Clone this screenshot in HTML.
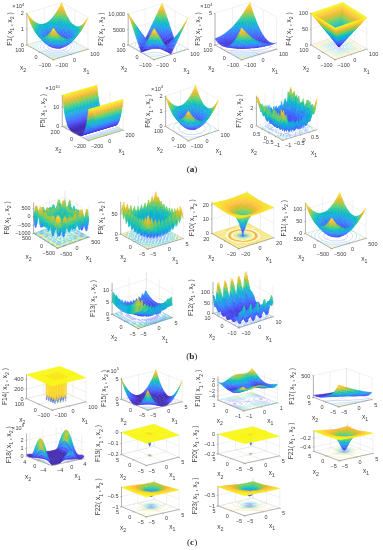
<!DOCTYPE html>
<html><head><meta charset="utf-8"><title>Benchmark functions</title>
<style>
html,body{margin:0;padding:0;background:#fff}
svg{display:block;filter:blur(.35px)}
text{font-family:"Liberation Sans",sans-serif;font-size:5.5px;fill:#3c3c3c}
.te{text-anchor:end}.tm{text-anchor:middle}
.lb{font-size:6.5px}
.sub{font-size:5.2px}.sup{font-size:4px}
.cap{font-family:"Liberation Serif",serif;font-size:9.2px;fill:#222;text-anchor:middle}.bd{font-weight:bold}
.gr{stroke:#dcdcdc;stroke-width:4;fill:none}
.ax{stroke:#777;stroke-width:5;fill:none}
.ct{stroke-width:3}.ct path{fill:none;stroke:currentColor;stroke-opacity:.8}
.sf path{fill:currentColor;stroke:currentColor;stroke-width:3.5;stroke-linejoin:round}
.a{color:#3f29b0}.b{color:#422ebf}.c{color:#4434ce}.d{color:#463adb}.e{color:#4741e5}.f{color:#4848ec}.g{color:#4850f2}.h{color:#4757f7}.i{color:#465efb}.j{color:#4466fd}.k{color:#3f6efe}.l{color:#3876fe}.m{color:#317efb}.n{color:#2e85f8}.o{color:#2d8cf3}.p{color:#2a93ed}.q{color:#269ae9}.r{color:#23a0e5}.s{color:#1fa6e2}.t{color:#1aacdd}.u{color:#12b1d7}.v{color:#06b5cf}.w{color:#01b9c6}.x{color:#0abdbe}.y{color:#1ac0b4}.z{color:#28c2ab}.A{color:#30c5a1}.B{color:#38c896}.C{color:#44ca8a}.D{color:#53cc7d}.E{color:#64cd6f}.F{color:#77cc60}.G{color:#8acb51}.H{color:#9dc943}.I{color:#afc637}.J{color:#c0c32d}.K{color:#d0bf27}.L{color:#debc2a}.M{color:#ebba32}.N{color:#f7ba3c}.O{color:#febe3c}.P{color:#fec636}.Q{color:#fdce31}.R{color:#f9d62d}.S{color:#f6df29}.T{color:#f5e725}.U{color:#f6ef20}.V{color:#f8f719}
</style></head><body>
<svg xmlns="http://www.w3.org/2000/svg" width="383" height="550" viewBox="0 0 383 550">
<rect width="383" height="550" fill="#fff"/>
<g id="F1"><g transform="scale(.1)"><path class="gr" d="M533 597l-264-148M269 449l0-317M533 597l347-106M880 491l0-317M706 544l-263-148M443 396l0-317M401 523l347-106M748 417l0-317M880 491l-264-148M616 343l0-317M269 449l347-106M616 343l0-317M269 449l347-106M616 343l264 148M269 290l347-106M616 184l264 148M269 132l347-106M616 26l264 148"/>
<g class="ct"><path class="e" d="M593 510l-45-1-17-3-24-8-10-4-14-11-4-7-2-7 2-8 8-10 18-10 36-10 33-2 19 1 25 4 24 8 18 10 10 12 1 10-3 8-6 7-18 10-23 7-28 4"/><path class="j" d="M619 525l-33 2-36-1-40-6-25-7-20-10-21-16-7-14 2-15 6-9 8-7 17-11 33-11 27-5 33-2 36 1 40 6 25 7 28 15 13 11 7 14-2 15-6 9-8 7-17 11-21 8-39 8"/><path class="o" d="M638 536l-45 4-45-1-37-5-40-10-31-13-22-16-5-6-6-13-1-10 2-9 10-15 23-17 31-12 39-9 45-4 45 1 37 5 40 10 31 13 22 16 5 6 6 13 0 16-3 8-8 10-23 17-31 12-39 9"/><path class="t" d="M655 545l-44 5-53 1-54-6-42-10-33-13-18-10-14-11-14-18-3-12 0-10 3-9 10-14 23-17 29-13 49-13 44-5 53-1 54 6 42 10 33 13 18 10 14 11 14 18 3 12 0 10-3 9-10 14-23 17-29 13-49 13"/><path class="y" d="M706 544l-37 9-43 6-50 2-39-2-39-5-38-8-29-9-30-14M748 417l23 16 13 14 8 18-1 16-7 16-19 20-27 15-32 12M401 523l-23-16-15-18-5-10-2-11 4-16 10-16 19-16 22-12 32-12M443 396l37-9 33-5 42-3 41 1 38 3 47 9 37 11 30 14"/><path class="C" d="M629 568l-38 2-41-1-38-4-52-9M807 450l5 13 1 10-3 17-10 16-16 14M342 490l-5-13-1-10 3-17 10-16 16-14M520 372l38-2 41 1 38 4 52 9"/><path class="H" d="M597 577l-67-1-46-6M831 464l1 11-3 16-13 20M318 476l-1-11 3-16 13-20M552 363l48 0 65 7"/><path class="M" d="M572 585l-69-5M850 474l-4 18-5 11M299 466l1-11 8-18M577 355l69 5"/><path class="R" d="M551 591l-32-2M866 483l-4 14M283 457l4-14M598 349l32 2"/></g>
<g class="sf"><path class="T" d="M614 68l9-21-7-21-10 20z"/><path class="Q" d="M602 91l12-23-8-22-12 24z"/><path class="N" d="M588 116l14-25-8-21-13 25z"/><path class="K" d="M572 143l16-27-7-21-16 26z"/><path class="H" d="M555 169l17-26-7-22-18 27z"/><path class="D" d="M536 194l19-25-8-21-19 25z"/><path class="B" d="M515 216l21-22-8-21-20 22z"/><path class="z" d="M494 235l21-19-7-21-21 19z"/><path class="x" d="M472 250l22-15-7-21-22 14z"/><path class="w" d="M428 263l22-4 22-9-7-22-22 10-23 4z"/><path class="x" d="M406 262l22 1-8-21-22-1z"/><path class="z" d="M385 256l21 6-8-21-21-6z"/><path class="B" d="M364 246l21 10-8-21-20-10z"/><path class="D" d="M345 233l19 13-7-21-19-13z"/><path class="H" d="M328 218l17 15-7-21-18-16z"/><path class="K" d="M312 201l16 17-8-22-16-17z"/><path class="N" d="M298 184l14 17-8-22-13-17z"/><path class="Q" d="M286 168l12 16-7-22-12-16z"/><path class="T" d="M276 153l10 15-7-22-10-14z"/><path class="Q" d="M623 92l9-20-9-25-9 21z"/><path class="N" d="M611 116l12-24-9-24-12 23z"/><path class="K" d="M597 141l14-25-9-25-14 25z"/><path class="H" d="M581 168l16-27-9-25-16 27z"/><path class="E" d="M564 194l17-26-9-25-17 26z"/><path class="B" d="M545 219l19-25-9-25-19 25z"/><path class="y" d="M524 241l21-22-9-25-21 22z"/><path class="w" d="M503 260l21-19-9-25-21 19z"/><path class="u" d="M415 287l22 1 22-4 22-10 22-14-9-25-22 15-22 9-22 4-22-1z"/><path class="w" d="M394 281l21 6-9-25-21-6z"/><path class="y" d="M373 271l21 10-9-25-21-10z"/><path class="B" d="M354 258l19 13-9-25-19-13z"/><path class="E" d="M337 242l17 16-9-25-17-15z"/><path class="H" d="M321 226l16 16-9-24-16-17z"/><path class="K" d="M307 209l14 17-9-25-14-17z"/><path class="N" d="M295 193l12 16-9-25-12-16z"/><path class="Q" d="M285 178l10 15-9-25-10-15z"/><path class="N" d="M633 120l10-21-11-27-9 20z"/><path class="K" d="M621 143l12-23-10-28-12 24z"/><path class="H" d="M608 168l13-25-10-27-14 25z"/><path class="E" d="M592 195l16-27-11-27-16 27z"/><path class="B" d="M574 221l18-26-11-27-17 26z"/><path class="y" d="M555 246l19-25-10-27-19 25z"/><path class="v" d="M535 268l20-22-10-27-21 22z"/><path class="t" d="M514 287l21-19-11-27-21 19z"/><path class="r" d="M492 301l22-14-11-27-22 14z"/><path class="q" d="M447 315l23-4 22-10-11-27-22 10-22 4z"/><path class="r" d="M425 314l22 1-10-27-22-1z"/><path class="t" d="M404 308l21 6-10-27-21-6z"/><path class="v" d="M384 298l20 10-10-27-21-10z"/><path class="y" d="M365 285l19 13-11-27-19-13z"/><path class="B" d="M347 270l18 15-11-27-17-16z"/><path class="E" d="M331 253l16 17-10-28-16-16z"/><path class="H" d="M318 236l13 17-10-27-14-17z"/><path class="K" d="M306 220l12 16-11-27-12-16z"/><path class="N" d="M296 205l10 15-11-27-10-15z"/><path class="K" d="M645 148l10-20-12-29-10 21z"/><path class="H" d="M633 171l12-23-12-28-12 23z"/><path class="E" d="M620 197l13-26-12-28-13 25z"/><path class="B" d="M604 223l16-26-12-29-16 27z"/><path class="x" d="M586 249l18-26-12-28-18 26z"/><path class="u" d="M567 274l19-25-12-28-19 25z"/><path class="s" d="M547 297l20-23-12-28-20 22z"/><path class="q" d="M526 315l21-18-12-29-21 19z"/><path class="o" d="M504 330l22-15-12-28-22 14z"/><path class="n" d="M459 343l23-4 22-9-12-29-22 10-23 4z"/><path class="o" d="M437 342l22 1-12-28-22-1z"/><path class="q" d="M416 337l21 5-12-28-21-6z"/><path class="s" d="M396 327l20 10-12-29-20-10z"/><path class="u" d="M377 313l19 14-12-29-19-13z"/><path class="x" d="M359 298l18 15-12-28-18-15z"/><path class="B" d="M343 281l16 17-12-28-16-17z"/><path class="E" d="M330 264l13 17-12-28-13-17z"/><path class="H" d="M318 248l12 16-12-28-12-16z"/><path class="K" d="M308 234l10 14-12-28-10-15z"/><path class="H" d="M659 176l9-20-13-28-10 20z"/><path class="E" d="M647 200l12-24-14-28-12 23z"/><path class="B" d="M633 225l14-25-14-29-13 26z"/><path class="x" d="M617 252l16-27-13-28-16 26z"/><path class="u" d="M600 278l17-26-13-29-18 26z"/><path class="r" d="M581 303l19-25-14-29-19 25z"/><path class="o" d="M560 325l21-22-14-29-20 23z"/><path class="m" d="M539 344l21-19-13-28-21 18z"/><path class="k" d="M473 372l22-4 22-10-13-28-22 9-23 4z"/><path class="l" d="M451 371l22 1-14-29-22-1z"/><path class="m" d="M429 365l22 6-14-29-21-5z"/><path class="o" d="M409 355l20 10-13-28-20-10z"/><path class="r" d="M390 342l19 13-13-28-19-14z"/><path class="u" d="M373 326l17 16-13-29-18-15z"/><path class="x" d="M357 309l16 17-14-28-16-17z"/><path class="B" d="M343 293l14 16-14-28-13-17z"/><path class="E" d="M331 276l12 17-13-29-12-16z"/><path class="H" d="M321 262l10 14-13-28-10-14z"/><path class="D" d="M673 204l10-21-15-27-9 20z"/><path class="B" d="M661 227l12-23-14-28-12 24z"/><path class="y" d="M647 252l14-25-14-27-14 25z"/><path class="u" d="M632 279l15-27-14-27-16 27z"/><path class="r" d="M614 305l18-26-15-27-17 26z"/><path class="o" d="M595 330l19-25-14-27-19 25z"/><path class="l" d="M575 352l20-22-14-27-21 22z"/><path class="j" d="M444 392l21 6-14-27-22-6z"/><path class="l" d="M424 382l20 10-15-27-20-10z"/><path class="o" d="M405 369l19 13-15-27-19-13z"/><path class="r" d="M387 353l18 16-15-27-17-16z"/><path class="u" d="M371 337l16 16-14-27-16-17z"/><path class="y" d="M357 320l14 17-14-28-14-16z"/><path class="B" d="M346 304l11 16-14-27-12-17z"/><path class="D" d="M336 289l10 15-15-28-10-14z"/><path class="B" d="M689 228l9-20-15-25-10 21z"/><path class="y" d="M677 252l12-24-16-24-12 23z"/><path class="v" d="M663 277l14-25-16-25-14 25z"/><path class="s" d="M647 304l16-27-16-25-15 27z"/><path class="o" d="M629 330l18-26-15-25-18 26z"/><path class="l" d="M610 355l19-25-15-25-19 25z"/><path class="j" d="M590 377l20-22-15-25-20 22z"/><path class="s" d="M387 361l15 17-15-25-16-16z"/><path class="v" d="M373 344l14 17-16-24-14-17z"/><path class="y" d="M361 328l12 16-16-24-11-16z"/><path class="B" d="M351 314l10 14-15-24-10-15z"/><path class="z" d="M705 250l9-21-16-21-9 20z"/><path class="w" d="M693 273l12-23-16-22-12 24z"/><path class="t" d="M679 298l14-25-16-21-14 25z"/><path class="q" d="M663 325l16-27-16-21-16 27z"/><path class="m" d="M646 351l17-26-16-21-18 26z"/><path class="j" d="M627 376l19-25-17-21-19 25z"/><path class="h" d="M606 398l21-22-17-21-20 22z"/><path class="w" d="M377 350l12 16-16-22-12-16z"/><path class="z" d="M367 335l10 15-16-22-10-14z"/><path class="x" d="M721 267l10-21-17-17-9 21z"/><path class="u" d="M710 290l11-23-16-17-12 23z"/><path class="r" d="M696 315l14-25-17-17-14 25z"/><path class="o" d="M680 342l16-27-17-17-16 27z"/><path class="l" d="M662 368l18-26-17-17-17 26z"/><path class="i" d="M643 393l19-25-16-17-19 25z"/><path class="r" d="M406 383l14 17-17-17-14-17z"/><path class="u" d="M394 367l12 16-17-17-12-16z"/><path class="x" d="M384 352l10 15-17-17-10-15z"/><path class="w" d="M738 279l10-21-17-12-10 21z"/><path class="u" d="M726 302l12-23-17-12-11 23z"/><path class="q" d="M713 328l13-26-16-12-14 25z"/><path class="n" d="M697 354l16-26-17-13-16 27z"/><path class="k" d="M679 380l18-26-17-12-18 26z"/><path class="h" d="M660 405l19-25-17-12-19 25z"/><path class="k" d="M452 429l18 15-17-12-18-15z"/><path class="n" d="M436 412l16 17-17-12-15-17z"/><path class="q" d="M423 395l13 17-16-12-14-17z"/><path class="u" d="M411 379l12 16-17-12-12-16z"/><path class="w" d="M401 364l10 15-17-12-10-15z"/><path class="w" d="M755 286l10-21-17-7-10 21z"/><path class="u" d="M743 309l12-23-17-7-12 23z"/><path class="q" d="M729 334l14-25-17-7-13 26z"/><path class="n" d="M714 361l15-27-16-6-16 26z"/><path class="k" d="M696 387l18-26-17-7-18 26z"/><path class="h" d="M677 412l19-25-17-7-19 25z"/><path class="e" d="M506 464l20 10-17-7-20-9z"/><path class="h" d="M487 451l19 13-17-6-19-14z"/><path class="k" d="M469 436l18 15-17-7-18-15z"/><path class="n" d="M453 419l16 17-17-7-16-17z"/><path class="q" d="M439 402l14 17-17-7-13-17z"/><path class="u" d="M428 386l11 16-16-7-12-16z"/><path class="w" d="M418 371l10 15-17-7-10-15z"/><path class="x" d="M772 287l10-20-17-2-10 21z"/><path class="u" d="M760 311l12-24-17-1-12 23z"/><path class="r" d="M746 336l14-25-17-2-14 25z"/><path class="o" d="M730 363l16-27-17-2-15 27z"/><path class="l" d="M713 389l17-26-16-2-18 26z"/><path class="d" d="M543 476l21 6-17-2-21-6z"/><path class="f" d="M522 466l21 10-17-2-20-10z"/><path class="i" d="M503 453l19 13-16-2-19-13z"/><path class="l" d="M486 437l17 16-16-2-18-15z"/><path class="o" d="M470 420l16 17-17-1-16-17z"/><path class="r" d="M456 403l14 17-17-1-14-17z"/><path class="u" d="M444 387l12 16-17-1-11-16z"/><path class="x" d="M435 373l9 14-16-1-10-15z"/><path class="z" d="M788 284l10-20-16 3-10 20z"/><path class="w" d="M776 307l12-23-16 3-12 24z"/><path class="t" d="M762 333l14-26-16 4-14 25z"/><path class="q" d="M747 359l15-26-16 3-16 27z"/><path class="m" d="M729 386l18-27-17 4-17 26z"/><path class="c" d="M602 480l22-5-16 4-22 4z"/><path class="d" d="M580 479l22 1-16 3-22-1z"/><path class="e" d="M559 473l21 6-16 3-21-6z"/><path class="h" d="M539 463l20 10-16 3-21-10z"/><path class="j" d="M520 450l19 13-17 3-19-13z"/><path class="m" d="M502 434l18 16-17 3-17-16z"/><path class="q" d="M486 417l16 17-16 3-16-17z"/><path class="t" d="M472 400l14 17-16 3-14-17z"/><path class="w" d="M460 384l12 16-16 3-12-16z"/><path class="z" d="M451 370l9 14-16 3-9-14z"/><path class="B" d="M803 277l10-21-15 8-10 20z"/><path class="y" d="M792 300l11-23-15 7-12 23z"/><path class="v" d="M778 325l14-25-16 7-14 26z"/><path class="s" d="M762 352l16-27-16 8-15 26z"/><path class="o" d="M744 378l18-26-15 7-18 27z"/><path class="e" d="M617 472l23-4 22-10-15 8-23 9-22 5z"/><path class="f" d="M596 471l21 1-15 8-22-1z"/><path class="h" d="M574 465l22 6-16 8-21-6z"/><path class="j" d="M554 455l20 10-15 8-20-10z"/><path class="l" d="M535 442l19 13-15 8-19-13z"/><path class="o" d="M517 427l18 15-15 8-18-16z"/><path class="s" d="M502 410l15 17-15 7-16-17z"/><path class="v" d="M488 393l14 17-16 7-14-17z"/><path class="y" d="M476 377l12 16-16 7-12-16z"/><path class="B" d="M466 362l10 15-16 7-9-14z"/><path class="D" d="M818 266l10-21-15 11-10 21z"/><path class="B" d="M806 289l12-23-15 11-11 23z"/><path class="y" d="M792 314l14-25-14 11-14 25z"/><path class="u" d="M776 341l16-27-14 11-16 27z"/><path class="j" d="M698 433l22-19-15 11-21 19z"/><path class="i" d="M676 448l22-15-14 11-22 14z"/><path class="h" d="M632 461l22-4 22-9-14 10-22 10-23 4z"/><path class="i" d="M610 460l22 1-15 11-21-1z"/><path class="j" d="M589 454l21 6-14 11-22-6z"/><path class="l" d="M568 444l21 10-15 11-20-10z"/><path class="o" d="M549 431l19 13-14 11-19-13z"/><path class="r" d="M532 416l17 15-14 11-18-15z"/><path class="u" d="M516 399l16 17-15 11-15-17z"/><path class="y" d="M502 382l14 17-14 11-14-17z"/><path class="B" d="M490 366l12 16-14 11-12-16z"/><path class="D" d="M481 351l9 15-14 11-10-15z"/><path class="H" d="M831 252l10-20-13 13-10 21z"/><path class="E" d="M819 276l12-24-13 14-12 23z"/><path class="B" d="M806 301l13-25-13 13-14 25z"/><path class="x" d="M790 327l16-26-14 13-16 27z"/><path class="m" d="M712 420l21-19-13 13-22 19z"/><path class="l" d="M690 434l22-14-14 13-22 15z"/><path class="k" d="M645 448l22-5 23-9-14 14-22 9-22 4z"/><path class="l" d="M623 447l22 1-13 13-22-1z"/><path class="m" d="M602 441l21 6-13 13-21-6z"/><path class="o" d="M582 431l20 10-13 13-21-10z"/><path class="r" d="M563 418l19 13-14 13-19-13z"/><path class="u" d="M545 402l18 16-14 13-17-15z"/><path class="x" d="M529 385l16 17-13 14-16-17z"/><path class="B" d="M516 368l13 17-13 14-14-17z"/><path class="E" d="M504 352l12 16-14 14-12-16z"/><path class="H" d="M494 338l10 14-14 14-9-15z"/><path class="K" d="M843 237l10-20-12 15-10 20z"/><path class="H" d="M831 261l12-24-12 15-12 24z"/><path class="E" d="M818 286l13-25-12 15-13 25z"/><path class="B" d="M802 313l16-27-12 15-16 26z"/><path class="s" d="M745 386l20-22-12 15-20 22z"/><path class="q" d="M724 405l21-19-12 15-21 19z"/><path class="o" d="M702 419l22-14-12 15-22 14z"/><path class="n" d="M657 433l22-4 23-10-12 15-23 9-22 5z"/><path class="o" d="M635 432l22 1-12 15-22-1z"/><path class="q" d="M614 426l21 6-12 15-21-6z"/><path class="s" d="M594 416l20 10-12 15-20-10z"/><path class="u" d="M575 403l19 13-12 15-19-13z"/><path class="x" d="M557 387l18 16-12 15-18-16z"/><path class="B" d="M541 370l16 17-12 15-16-17z"/><path class="E" d="M528 353l13 17-12 15-13-17z"/><path class="H" d="M516 337l12 16-12 15-12-16z"/><path class="K" d="M506 323l10 14-12 15-10-14z"/><path class="N" d="M854 222l10-20-11 15-10 20z"/><path class="K" d="M842 245l12-23-11 15-12 24z"/><path class="H" d="M828 271l14-26-11 16-13 25z"/><path class="E" d="M812 297l16-26-10 15-16 27z"/><path class="B" d="M795 324l17-27-10 16-18 26z"/><path class="y" d="M776 348l19-24-11 15-19 25z"/><path class="v" d="M755 371l21-23-11 16-20 22z"/><path class="t" d="M734 390l21-19-10 15-21 19z"/><path class="r" d="M712 404l22-14-10 15-22 14z"/><path class="q" d="M668 417l22-4 22-9-10 15-23 10-22 4z"/><path class="r" d="M646 417l22 0-11 16-22-1z"/><path class="t" d="M625 411l21 6-11 15-21-6z"/><path class="v" d="M604 401l21 10-11 15-20-10z"/><path class="y" d="M585 388l19 13-10 15-19-13z"/><path class="B" d="M568 372l17 16-10 15-18-16z"/><path class="E" d="M552 355l16 17-11 15-16-17z"/><path class="H" d="M538 338l14 17-11 15-13-17z"/><path class="K" d="M526 322l12 16-10 15-12-16z"/><path class="N" d="M517 308l9 14-10 15-10-14z"/><path class="Q" d="M863 207l10-20-9 15-10 20z"/><path class="N" d="M851 231l12-24-9 15-12 23z"/><path class="K" d="M837 256l14-25-9 14-14 26z"/><path class="H" d="M821 283l16-27-9 15-16 26z"/><path class="E" d="M804 309l17-26-9 14-17 27z"/><path class="B" d="M785 334l19-25-9 15-19 24z"/><path class="y" d="M764 356l21-22-9 14-21 23z"/><path class="w" d="M743 375l21-19-9 15-21 19z"/><path class="u" d="M655 402l22 1 22-4 22-10 22-14-9 15-22 14-22 9-22 4-22 0z"/><path class="w" d="M634 396l21 6-9 15-21-6z"/><path class="y" d="M613 386l21 10-9 15-21-10z"/><path class="B" d="M594 373l19 13-9 15-19-13z"/><path class="E" d="M577 357l17 16-9 15-17-16z"/><path class="H" d="M561 341l16 16-9 15-16-17z"/><path class="K" d="M547 324l14 17-9 14-14-17z"/><path class="N" d="M535 307l12 17-9 14-12-16z"/><path class="Q" d="M526 293l9 14-9 15-9-14z"/><path class="T" d="M870 194l10-20-7 13-10 20z"/><path class="Q" d="M858 218l12-24-7 13-12 24z"/><path class="N" d="M845 243l13-25-7 13-14 25z"/><path class="K" d="M829 269l16-26-8 13-16 27z"/><path class="H" d="M811 296l18-27-8 14-17 26z"/><path class="D" d="M792 321l19-25-7 13-19 25z"/><path class="B" d="M772 343l20-22-7 13-21 22z"/><path class="z" d="M751 362l21-19-8 13-21 19z"/><path class="x" d="M729 376l22-14-8 13-22 14z"/><path class="w" d="M684 390l22-4 23-10-8 13-22 10-22 4z"/><path class="x" d="M662 389l22 1-7 13-22-1z"/><path class="z" d="M641 383l21 6-7 13-21-6z"/><path class="B" d="M621 373l20 10-7 13-21-10z"/><path class="D" d="M602 360l19 13-8 13-19-13z"/><path class="H" d="M584 344l18 16-8 13-17-16z"/><path class="K" d="M568 327l16 17-7 13-16-16z"/><path class="N" d="M555 310l13 17-7 14-14-17z"/><path class="Q" d="M543 294l12 16-8 14-12-17z"/><path class="T" d="M533 280l10 14-8 13-9-14z"/></g>
<path class="ax" d="M880 491l-347 106-264-148 0-317M533 597l10 6M533 597l-12 4M706 544l11 6M401 523l-12 4M880 491l10 6M269 449l-11 4M269 449l-11 4M269 290l-11 4M269 132l-11 4"/></g><text x="55.6" y="66.9">−100</text><text class="te" x="50.8" y="66.8">−100</text><text x="72.9" y="61.6">0</text><text class="te" x="37.6" y="59.4">0</text><text x="90.3" y="56.3">100</text><text class="te" x="24.4" y="52">100</text><text class="te" x="23.9" y="46.8">0</text><text class="te" x="23.9" y="30.9">1</text><text class="te" x="23.9" y="15.1">2</text><text class="tm lb" x="86.2" y="71.9">x<tspan class="sub" dy="2.2">1</tspan></text><text class="tm lb" x="23" y="70">x<tspan class="sub" dy="2.2">2</tspan></text><text class="tm lb" transform="translate(11.6 29) rotate(-90)">F1( x<tspan class="sub" dy="2.2">1</tspan><tspan dy="-2.2"> , x</tspan><tspan class="sub" dy="2.2">2</tspan><tspan dy="-2.2"> )</tspan></text><text class="te" x="24.3" y="8">× 10<tspan class="sup" dy="-2.2">4</tspan></text></g>
<g id="F2"><g transform="scale(.1)"><path class="gr" d="M1540 597l-258-148M1282 449l0-313M1540 597l340-106M1880 491l0-313M1710 544l-258-148M1452 396l0-313M1411 523l340-106M1751 417l0-313M1880 491l-258-148M1622 343l0-313M1282 449l340-106M1622 343l0-313M1282 449l340-106M1622 343l258 148M1282 296l340-106M1622 190l258 148M1282 142l340-106M1622 36l258 148"/>
<g class="ct"><path class="j" d="M1678 554l-59-20-30-6-34-3-50 1-70 11M1775 431l-28 14-16 11-13 12-7 15 1 12 4 9 9 13 17 17M1387 509l28-14 16-11 13-12 7-15-1-12-4-9-9-13-17-17M1484 386l59 20 47 8 35 1 32-1 70-11"/><path class="s" d="M1645 564l-43-9-39-5-55-2-47 4M1801 446l-22 17-10 15-3 8 1 18 9 20M1361 494l22-17 10-15 3-8-1-18-9-20M1517 376l43 9 53 6 41 1 47-4"/><path class="C" d="M1611 575l-71-8-53-1M1826 460l-10 13-5 9-3 16 1 15M1336 480l10-13 5-9 3-16-1-15M1551 365l71 8 53 1"/><path class="L" d="M1577 585l-65-4M1852 475l-7 16-2 12M1310 465l7-16 2-12M1585 355l65 4"/><path class="V" d="M1544 596l-6 0M1877 490l0 2M1285 450l0-2M1618 344l6 0"/></g>
<g class="sf"><path class="T" d="M1619 71l10-19-7-22-10 20z"/><path class="Q" d="M1608 95l11-24-7-21-11 25z"/><path class="N" d="M1594 122l14-27-7-20-14 29z"/><path class="J" d="M1579 154l15-32-7-18-16 33z"/><path class="E" d="M1562 189l17-35-8-17-17 37z"/><path class="z" d="M1543 227l19-38-8-15-18 40z"/><path class="u" d="M1523 267l20-40-7-13-20 42z"/><path class="p" d="M1502 309l21-42-7-11-21 45z"/><path class="j" d="M1481 353l21-44-7-8-21 45z"/><path class="d" d="M1459 397l22-44-7-7-22 47z"/><path class="u" d="M1375 279l20 28-7-11-20-30z"/><path class="z" d="M1357 253l18 26-7-13-19-28z"/><path class="E" d="M1339 228l18 25-8-15-17-26z"/><path class="J" d="M1324 207l15 21-7-16-15-23z"/><path class="N" d="M1310 187l14 20-7-18-14-21z"/><path class="Q" d="M1299 171l11 16-7-19-11-18z"/><path class="T" d="M1289 158l10 13-7-21-10-14z"/><path class="Q" d="M1628 96l10-18-9-26-10 19z"/><path class="N" d="M1617 118l11-22-9-25-11 24z"/><path class="K" d="M1603 144l14-26-9-23-14 27z"/><path class="G" d="M1588 174l15-30-9-22-15 32z"/><path class="C" d="M1570 207l18-33-9-20-17 35z"/><path class="y" d="M1552 242l18-35-8-18-19 38z"/><path class="t" d="M1532 280l20-38-9-15-20 40z"/><path class="o" d="M1511 320l21-40-9-13-21 42z"/><path class="i" d="M1490 361l21-41-9-11-21 44z"/><path class="d" d="M1468 403l22-42-9-8-22 44z"/><path class="o" d="M1404 320l21 27-9-11-21-29z"/><path class="t" d="M1384 294l20 26-9-13-20-28z"/><path class="y" d="M1365 271l19 23-9-15-18-26z"/><path class="C" d="M1348 248l17 23-8-18-18-25z"/><path class="G" d="M1333 229l15 19-9-20-15-21z"/><path class="K" d="M1319 211l14 18-9-22-14-20z"/><path class="N" d="M1308 196l11 15-9-24-11-16z"/><path class="Q" d="M1298 184l10 12-9-25-10-13z"/><path class="N" d="M1639 125l9-16-10-31-10 18z"/><path class="K" d="M1627 146l12-21-11-29-11 22z"/><path class="H" d="M1613 170l14-24-10-28-14 26z"/><path class="E" d="M1598 197l15-27-10-26-15 30z"/><path class="A" d="M1581 228l17-31-10-23-18 33z"/><path class="w" d="M1562 260l19-32-11-21-18 35z"/><path class="r" d="M1542 296l20-36-10-18-20 38z"/><path class="m" d="M1521 332l21-36-10-16-21 40z"/><path class="i" d="M1500 370l21-38-10-12-21 41z"/><path class="c" d="M1478 409l22-39-10-9-22 42z"/><path class="m" d="M1414 335l21 24-10-12-21-27z"/><path class="r" d="M1394 313l20 22-10-15-20-26z"/><path class="w" d="M1376 291l18 22-10-19-19-23z"/><path class="A" d="M1359 272l17 19-11-20-17-23z"/><path class="E" d="M1343 254l16 18-11-24-15-19z"/><path class="H" d="M1330 239l13 15-10-25-14-18z"/><path class="K" d="M1318 225l12 14-11-28-11-15z"/><path class="N" d="M1308 215l10 10-10-29-10-12z"/><path class="J" d="M1650 159l10-16-12-34-9 16z"/><path class="G" d="M1639 177l11-18-11-34-12 21z"/><path class="E" d="M1625 199l14-22-12-31-14 24z"/><path class="B" d="M1610 224l15-25-12-29-15 27z"/><path class="x" d="M1593 251l17-27-12-27-17 31z"/><path class="t" d="M1574 281l19-30-12-23-19 32z"/><path class="p" d="M1554 313l20-32-12-21-20 36z"/><path class="l" d="M1426 353l21 20-12-14-21-24z"/><path class="p" d="M1406 334l20 19-12-18-20-22z"/><path class="t" d="M1387 315l19 19-12-21-18-22z"/><path class="x" d="M1370 299l17 16-11-24-17-19z"/><path class="B" d="M1355 283l15 16-11-27-16-18z"/><path class="E" d="M1341 270l14 13-12-29-13-15z"/><path class="G" d="M1330 259l11 11-11-31-12-14z"/><path class="J" d="M1320 249l10 10-12-34-10-10z"/><path class="E" d="M1663 196l10-14-13-39-10 16z"/><path class="C" d="M1652 212l11-16-13-37-11 18z"/><path class="A" d="M1638 232l14-20-13-35-14 22z"/><path class="x" d="M1623 254l15-22-13-33-15 25z"/><path class="u" d="M1606 278l17-24-13-30-17 27z"/><path class="r" d="M1587 304l19-26-13-27-19 30z"/><path class="n" d="M1567 333l20-29-13-23-20 32z"/><path class="g" d="M1460 389l21 17-13-12-21-21z"/><path class="k" d="M1439 372l21 17-13-16-21-20z"/><path class="n" d="M1419 357l20 15-13-19-20-19z"/><path class="r" d="M1401 342l18 15-13-23-19-19z"/><path class="u" d="M1383 328l18 14-14-27-17-16z"/><path class="x" d="M1368 316l15 12-13-29-15-16z"/><path class="A" d="M1354 305l14 11-13-33-14-13z"/><path class="C" d="M1343 296l11 9-13-35-11-11z"/><path class="E" d="M1333 288l10 8-13-37-10-10z"/><path class="z" d="M1677 236l10-12-14-42-10 14z"/><path class="y" d="M1666 250l11-14-14-40-11 16z"/><path class="w" d="M1652 267l14-17-14-38-14 20z"/><path class="t" d="M1637 286l15-19-14-35-15 22z"/><path class="r" d="M1620 307l17-21-14-32-17 24z"/><path class="o" d="M1601 329l19-22-14-29-19 26z"/><path class="l" d="M1581 354l20-25-14-25-20 29z"/><path class="f" d="M1474 406l21 13-14-13-21-17z"/><path class="i" d="M1453 394l21 12-14-17-21-17z"/><path class="l" d="M1433 382l20 12-14-22-20-15z"/><path class="o" d="M1415 371l18 11-14-25-18-15z"/><path class="r" d="M1398 360l17 11-14-29-18-14z"/><path class="t" d="M1382 351l16 9-15-32-15-12z"/><path class="w" d="M1369 343l13 8-14-35-14-11z"/><path class="y" d="M1357 336l12 7-15-38-11-9z"/><path class="z" d="M1347 330l10 6-14-40-10-8z"/><path class="u" d="M1693 279l9-10-15-45-10 12z"/><path class="t" d="M1681 291l12-12-16-43-11 14z"/><path class="r" d="M1667 304l14-13-15-41-14 17z"/><path class="p" d="M1652 320l15-16-15-37-15 19z"/><path class="n" d="M1635 337l17-17-15-34-17 21z"/><path class="l" d="M1616 356l19-19-15-30-19 22z"/><path class="j" d="M1596 376l20-20-15-27-20 25z"/><path class="g" d="M1468 416l21 8-15-18-21-12z"/><path class="j" d="M1448 408l20 8-15-22-20-12z"/><path class="l" d="M1430 401l18 7-15-26-18-11z"/><path class="n" d="M1413 395l17 6-15-30-17-11z"/><path class="p" d="M1397 389l16 6-15-35-16-9z"/><path class="r" d="M1384 383l13 6-15-38-13-8z"/><path class="t" d="M1372 379l12 4-15-40-12-7z"/><path class="u" d="M1362 375l10 4-15-43-10-6z"/><path class="p" d="M1708 324l10-8-16-47-9 10z"/><path class="o" d="M1697 333l11-9-15-45-12 12z"/><path class="m" d="M1683 344l14-11-16-42-14 13z"/><path class="l" d="M1668 356l15-12-16-40-15 16z"/><path class="k" d="M1651 369l17-13-16-36-17 17z"/><path class="i" d="M1632 384l19-15-16-32-19 19z"/><path class="g" d="M1612 400l20-16-16-28-20 20z"/><path class="g" d="M1464 436l20 4-16-24-20-8z"/><path class="i" d="M1446 433l18 3-16-28-18-7z"/><path class="k" d="M1428 431l18 2-16-32-17-6z"/><path class="l" d="M1413 428l15 3-15-36-16-6z"/><path class="m" d="M1399 426l14 2-16-39-13-6z"/><path class="o" d="M1388 424l11 2-15-43-12-4z"/><path class="p" d="M1378 422l10 2-16-45-10-4z"/><path class="j" d="M1725 370l9-5-16-49-10 8z"/><path class="i" d="M1700 384l25-14-17-46-25 20z"/><path class="h" d="M1684 393l16-9-17-40-15 12z"/><path class="g" d="M1667 403l17-10-16-37-17 13z"/><path class="f" d="M1648 413l19-10-16-34-19 15z"/><path class="e" d="M1628 424l20-11-16-29-20 16z"/><path class="f" d="M1462 467l19-2-17-29-18-3z"/><path class="g" d="M1445 468l17-1-16-34-18-2z"/><path class="h" d="M1429 469l16-1-17-37-15-3z"/><path class="i" d="M1404 470l25-1-16-41-25-4z"/><path class="j" d="M1395 471l9-1-16-46-10-2z"/><path class="d" d="M1730 421l21-7-17-49-21 12z"/><path class="c" d="M1684 436l46-15-17-44-46 26z"/><path class="b" d="M1645 449l39-13-17-33-39 21z"/><path class="c" d="M1432 514l29-9-16-37-29 1z"/><path class="d" d="M1411 520l21-6-16-45-21 2z"/><path class="b" d="M1641 455l21-12-17 6-21 7z"/><path class="b" d="M1495 485l59-3-16 1-60 17z"/><path class="c" d="M1449 488l46-3-17 15-46 14z"/><path class="d" d="M1428 490l21-2-17 26-21 6z"/><path class="e" d="M1678 437l20-15-17 10-19 11z"/><path class="d" d="M1657 454l21-17-16 6-21 12z"/><path class="b" d="M1636 471l21-17-16 1-22 12z"/><path class="b" d="M1571 481l21 3-16-4-22 2z"/><path class="d" d="M1550 477l21 4-17 1-20 1z"/><path class="e" d="M1530 474l20 3-16 6-20 1z"/><path class="f" d="M1511 471l19 3-16 10-19 1z"/><path class="g" d="M1494 468l17 3-16 14-17 2z"/><path class="h" d="M1479 466l15 2-16 19-16 1z"/><path class="i" d="M1454 461l25 5-17 22-25 1z"/><path class="j" d="M1444 460l10 1-17 28-9 1z"/><path class="i" d="M1714 412l18-19-16 14-18 15z"/><path class="g" d="M1694 432l20-20-16 10-20 15z"/><path class="e" d="M1673 453l21-21-16 5-21 17z"/><path class="d" d="M1651 475l22-22-16 1-21 17z"/><path class="d" d="M1586 480l22 8-16-4-21-3z"/><path class="e" d="M1566 472l20 8-15 1-21-4z"/><path class="g" d="M1546 464l20 8-16 5-20-3z"/><path class="i" d="M1527 457l19 7-16 10-19-3z"/><path class="k" d="M1510 450l17 7-16 14-17-3z"/><path class="l" d="M1495 444l15 6-16 18-15-2z"/><path class="m" d="M1481 439l14 5-16 22-14-3z"/><path class="o" d="M1469 435l12 4-16 24-11-2z"/><path class="p" d="M1460 431l9 4-15 26-10-1z"/><path class="n" d="M1747 380l17-21-15 17-17 17z"/><path class="l" d="M1729 402l18-22-15 13-18 19z"/><path class="j" d="M1709 427l20-25-15 10-20 20z"/><path class="g" d="M1688 452l21-25-15 5-21 21z"/><path class="e" d="M1667 478l21-26-15 1-22 22z"/><path class="b" d="M1623 492l22 13-15-8-22-9z"/><path class="e" d="M1602 479l21 13-15-4-22-8z"/><path class="g" d="M1581 467l21 12-16 1-20-8z"/><path class="j" d="M1561 455l20 12-15 5-20-8z"/><path class="l" d="M1542 444l19 11-15 9-19-7z"/><path class="n" d="M1525 433l17 11-15 13-17-7z"/><path class="p" d="M1510 424l15 9-15 17-15-6z"/><path class="r" d="M1496 416l14 8-15 20-14-5z"/><path class="t" d="M1485 409l11 7-15 23-12-4z"/><path class="u" d="M1475 403l10 6-16 26-9-4z"/><path class="t" d="M1779 343l15-22-14 19-16 19z"/><path class="r" d="M1761 367l18-24-15 16-17 21z"/><path class="o" d="M1743 394l18-27-14 13-18 22z"/><path class="l" d="M1723 422l20-28-14 8-20 25z"/><path class="i" d="M1702 451l21-29-14 5-21 25z"/><path class="f" d="M1681 482l21-31-14 1-21 26z"/><path class="b" d="M1637 495l22 18 22-31-14-4-22 27-22-13z"/><path class="f" d="M1616 478l21 17-14-3-21-13z"/><path class="i" d="M1595 462l21 16-14 1-21-12z"/><path class="l" d="M1575 446l20 16-14 5-20-12z"/><path class="o" d="M1556 431l19 15-14 9-19-11z"/><path class="r" d="M1539 418l17 13-14 13-17-11z"/><path class="t" d="M1524 405l15 13-14 15-15-9z"/><path class="w" d="M1510 394l14 11-14 19-14-8z"/><path class="y" d="M1499 385l11 9-14 22-11-7z"/><path class="z" d="M1489 378l10 7-14 24-10-6z"/><path class="A" d="M1807 303l14-21-13 20-14 19z"/><path class="x" d="M1792 328l15-25-13 18-15 22z"/><path class="u" d="M1775 356l17-28-13 15-18 24z"/><path class="r" d="M1756 386l19-30-14 11-18 27z"/><path class="n" d="M1736 417l20-31-13 8-20 28z"/><path class="k" d="M1715 451l21-34-13 5-21 29z"/><path class="g" d="M1694 485l21-34-13 0-21 31z"/><path class="c" d="M1650 499l22 21 22-35-13-3-22 31-22-18z"/><path class="g" d="M1629 478l21 21-13-4-21-17z"/><path class="k" d="M1608 457l21 21-13 0-21-16z"/><path class="n" d="M1588 438l20 19-13 5-20-16z"/><path class="r" d="M1569 420l19 18-13 8-19-15z"/><path class="u" d="M1552 403l17 17-13 11-17-13z"/><path class="x" d="M1537 388l15 15-13 15-15-13z"/><path class="A" d="M1523 374l14 14-13 17-14-11z"/><path class="C" d="M1512 363l11 11-13 20-11-9z"/><path class="E" d="M1502 354l10 9-13 22-10-7z"/><path class="G" d="M1832 264l12-21-12 20-11 19z"/><path class="E" d="M1819 288l13-24-11 18-14 21z"/><path class="B" d="M1803 315l16-27-12 15-15 25z"/><path class="x" d="M1786 345l17-30-11 13-17 28z"/><path class="t" d="M1768 378l18-33-11 11-19 30z"/><path class="p" d="M1748 413l20-35-12 8-20 31z"/><path class="l" d="M1727 450l21-37-12 4-21 34z"/><path class="h" d="M1706 488l21-38-12 1-21 34z"/><path class="c" d="M1662 502l22 24 22-38-12-3-22 35-22-21z"/><path class="h" d="M1641 477l21 25-12-3-21-21z"/><path class="l" d="M1620 453l21 24-12 1-21-21z"/><path class="p" d="M1600 431l20 22-12 4-20-19z"/><path class="t" d="M1581 409l19 22-12 7-19-18z"/><path class="x" d="M1564 390l17 19-12 11-17-17z"/><path class="B" d="M1549 372l15 18-12 13-15-15z"/><path class="E" d="M1535 356l14 16-12 16-14-14z"/><path class="G" d="M1523 343l12 13-12 18-11-11z"/><path class="J" d="M1514 332l9 11-11 20-10-9z"/><path class="K" d="M1843 248l11-22-10 17-12 21z"/><path class="H" d="M1829 274l14-26-11 16-13 24z"/><path class="E" d="M1814 303l15-29-10 14-16 27z"/><path class="A" d="M1797 336l17-33-11 12-17 30z"/><path class="w" d="M1778 372l19-36-11 9-18 33z"/><path class="r" d="M1758 410l20-38-10 6-20 35z"/><path class="m" d="M1737 449l21-39-10 3-21 37z"/><path class="i" d="M1716 490l21-41-10 1-21 38z"/><path class="c" d="M1672 504l22 28 22-42-10-2-22 38-22-24z"/><path class="i" d="M1651 476l21 28-10-2-21-25z"/><path class="m" d="M1630 450l21 26-10 1-21-24z"/><path class="r" d="M1610 424l20 26-10 3-20-22z"/><path class="w" d="M1592 400l18 24-10 7-19-22z"/><path class="A" d="M1574 378l18 22-11 9-17-19z"/><path class="E" d="M1559 358l15 20-10 12-15-18z"/><path class="H" d="M1545 341l14 17-10 14-14-16z"/><path class="K" d="M1534 326l11 15-10 15-12-13z"/><path class="N" d="M1524 313l10 13-11 17-9-11z"/><path class="N" d="M1852 234l11-23-9 15-11 22z"/><path class="K" d="M1838 262l14-28-9 14-14 26z"/><path class="G" d="M1823 293l15-31-9 12-15 29z"/><path class="C" d="M1805 328l18-35-9 10-17 33z"/><path class="y" d="M1787 366l18-38-8 8-19 36z"/><path class="t" d="M1767 407l20-41-9 6-20 38z"/><path class="o" d="M1746 449l21-42-9 3-21 39z"/><path class="i" d="M1725 493l21-44-9 0-21 41z"/><path class="d" d="M1681 506l22 31 22-44-9-3-22 42-22-28z"/><path class="i" d="M1660 476l21 30-9-2-21-28z"/><path class="o" d="M1639 447l21 29-9 0-21-26z"/><path class="t" d="M1619 419l20 28-9 3-20-26z"/><path class="y" d="M1600 392l19 27-9 5-18-24z"/><path class="C" d="M1583 368l17 24-8 8-18-22z"/><path class="G" d="M1568 346l15 22-9 10-15-20z"/><path class="K" d="M1554 327l14 19-9 12-14-17z"/><path class="N" d="M1543 311l11 16-9 14-11-15z"/><path class="Q" d="M1533 297l10 14-9 15-10-13z"/><path class="T" d="M1870 198l10-20-7 13-10 20z"/><path class="Q" d="M1859 223l11-25-7 13-11 23z"/><path class="N" d="M1845 252l14-29-7 11-14 28z"/><path class="J" d="M1830 285l15-33-7 10-15 31z"/><path class="E" d="M1813 322l17-37-7 8-18 35z"/><path class="z" d="M1794 362l19-40-8 6-18 38z"/><path class="u" d="M1774 404l20-42-7 4-20 41z"/><path class="p" d="M1753 449l21-45-7 3-21 42z"/><path class="j" d="M1732 494l21-45-7 0-21 44z"/><path class="d" d="M1688 508l22 33 22-47-7-1-22 44-22-31z"/><path class="j" d="M1667 476l21 32-7-2-21-30z"/><path class="p" d="M1646 444l21 32-7 0-21-29z"/><path class="u" d="M1626 414l20 30-7 3-20-28z"/><path class="z" d="M1608 386l18 28-7 5-19-27z"/><path class="E" d="M1591 360l17 26-8 6-17-24z"/><path class="J" d="M1575 337l16 23-8 8-15-22z"/><path class="N" d="M1561 316l14 21-7 9-14-19z"/><path class="Q" d="M1550 298l11 18-7 11-11-16z"/><path class="T" d="M1540 284l10 14-7 13-10-14z"/></g>
<path class="ax" d="M1880 491l-340 106-258-148 0-313M1540 597l11 6M1540 597l-11 4M1710 544l11 6M1411 523l-11 4M1880 491l10 6M1282 449l-11 4M1282 449l-11 4M1282 296l-11 3M1282 142l-11 4"/></g><text x="156.3" y="66.9">−100</text><text class="te" x="151.5" y="66.8">−100</text><text x="173.3" y="61.6">0</text><text class="te" x="138.6" y="59.4">0</text><text x="190.3" y="56.3">100</text><text class="te" x="125.7" y="52">100</text><text class="te" x="125.2" y="46.8">0</text><text class="te" x="125.2" y="31.5">5000</text><text class="te" x="125.2" y="16.1">10,000</text><text class="tm lb" x="186.6" y="71.9">x<tspan class="sub" dy="2.2">1</tspan></text><text class="tm lb" x="124" y="70">x<tspan class="sub" dy="2.2">2</tspan></text><text class="tm lb" transform="translate(102.6 29.2) rotate(-90)">F2( x<tspan class="sub" dy="2.2">1</tspan><tspan dy="-2.2"> , x</tspan><tspan class="sub" dy="2.2">2</tspan><tspan dy="-2.2"> )</tspan></text></g>
<g id="F3"><g transform="scale(.1)"><path class="gr" d="M2416 598l-266-148M2150 450l0-320M2416 598l350-106M2766 492l0-320M2591 545l-266-148M2325 397l0-320M2283 524l350-106M2633 418l0-320M2766 492l-266-148M2500 344l0-320M2150 450l350-106M2500 344l0-320M2150 450l350-106M2500 344l266 148M2150 130l350-106M2500 24l266 148"/>
<g class="ct"><path class="e" d="M2629 496l-58 8-63 5-82 2-70-1-60-5-50-8-25-8-8-5-5-6 4-9 24-11 37-10 42-6 60-7 62-3 57-1 66 1 60 5 35 5 28 7 20 9 5 6-1 5-7 6-32 13-39 8"/><path class="j" d="M2766 492l-37 9-55 10-122 12-131 5-73-1-65-3M2150 450l37-9 55-10 122-12 131-5 73 1 65 3"/><path class="o" d="M2642 529l-69 6-89 4-81 2-92-2M2274 413l69-6 89-4 81-2 92 2"/><path class="t" d="M2591 545l-119 5-140 1M2325 397l119-5 140-1"/><path class="y" d="M2552 557l-113 4-89 0M2364 385l113-4 89 0"/><path class="C" d="M2519 567l-154 3M2397 375l154-3"/><path class="H" d="M2489 576l-110 2M2427 366l110-2"/><path class="M" d="M2463 584l-71 1M2453 358l71-1"/><path class="R" d="M2439 591l-34 1M2477 351l34-1"/></g>
<g class="sf"><path class="T" d="M2498 66l9-17-7-25-10 17z"/><path class="R" d="M2486 86l12-20-8-25-12 20z"/><path class="O" d="M2472 108l14-22-8-25-14 24z"/><path class="L" d="M2456 133l16-25-8-23-16 25z"/><path class="I" d="M2438 159l18-26-8-23-17 26z"/><path class="F" d="M2419 186l19-27-7-23-20 28z"/><path class="C" d="M2398 213l21-27-8-22-20 28z"/><path class="z" d="M2377 239l21-26-7-21-22 27z"/><path class="w" d="M2355 264l22-25-8-20-22 26z"/><path class="t" d="M2332 287l23-23-8-19-22 24z"/><path class="r" d="M2310 308l22-21-7-18-22 22z"/><path class="o" d="M2288 327l22-19-7-17-23 20z"/><path class="n" d="M2266 344l22-17-8-16-21 17z"/><path class="l" d="M2246 357l20-13-7-16-20 15z"/><path class="k" d="M2209 378l37-21-7-14-37 22z"/><path class="j" d="M2157 397l22-7 30-12-7-13-30 13-22 8z"/><path class="P" d="M2507 95l9-16-9-30-9 17z"/><path class="N" d="M2495 115l12-20-9-29-12 20z"/><path class="L" d="M2481 136l14-21-9-29-14 22z"/><path class="I" d="M2465 160l16-24-9-28-16 25z"/><path class="F" d="M2447 185l18-25-9-27-18 26z"/><path class="C" d="M2428 211l19-26-9-26-19 27z"/><path class="z" d="M2407 237l21-26-9-25-21 27z"/><path class="w" d="M2386 262l21-25-9-24-21 26z"/><path class="t" d="M2364 286l22-24-9-23-22 25z"/><path class="r" d="M2342 308l22-22-9-22-23 23z"/><path class="o" d="M2319 328l23-20-10-21-22 21z"/><path class="m" d="M2297 346l22-18-9-20-22 19z"/><path class="l" d="M2276 361l21-15-9-19-22 17z"/><path class="k" d="M2255 374l21-13-10-17-20 13z"/><path class="j" d="M2236 384l19-10-9-17-19 12z"/><path class="i" d="M2188 404l30-11 18-9-9-15-18 9-30 12z"/><path class="h" d="M2176 407l12-3-9-14-12 4z"/><path class="i" d="M2167 409l9-2-9-13-10 3z"/><path class="M" d="M2517 128l10-16-11-33-9 16z"/><path class="J" d="M2505 147l12-19-10-33-12 20z"/><path class="H" d="M2491 167l14-20-10-32-14 21z"/><path class="E" d="M2475 190l16-23-10-31-16 24z"/><path class="C" d="M2458 214l17-24-10-30-18 25z"/><path class="z" d="M2439 239l19-25-11-29-19 26z"/><path class="w" d="M2418 264l21-25-11-28-21 26z"/><path class="t" d="M2397 288l21-24-11-27-21 25z"/><path class="q" d="M2375 310l22-22-11-26-22 24z"/><path class="o" d="M2352 331l23-21-11-24-22 22z"/><path class="m" d="M2330 350l22-19-10-23-23 20z"/><path class="k" d="M2308 366l22-16-11-22-22 18z"/><path class="j" d="M2286 380l22-14-11-20-21 15z"/><path class="i" d="M2266 392l20-12-10-19-21 13z"/><path class="h" d="M2229 408l37-16-11-18-37 19z"/><path class="g" d="M2177 422l22-4 30-10-11-15-30 11-21 5z"/><path class="H" d="M2529 163l10-15-12-36-10 16z"/><path class="F" d="M2517 181l12-18-12-35-12 19z"/><path class="D" d="M2503 201l14-20-12-34-14 20z"/><path class="B" d="M2488 223l15-22-12-34-16 23z"/><path class="y" d="M2470 246l18-23-13-33-17 24z"/><path class="v" d="M2451 269l19-23-12-32-19 25z"/><path class="s" d="M2430 292l21-23-12-30-21 25z"/><path class="q" d="M2409 315l21-23-12-28-21 24z"/><path class="n" d="M2387 336l22-21-12-27-22 22z"/><path class="l" d="M2364 355l23-19-12-26-23 21z"/><path class="j" d="M2342 373l22-18-12-24-22 19z"/><path class="i" d="M2320 388l22-15-12-23-22 16z"/><path class="h" d="M2298 400l22-12-12-22-22 14z"/><path class="g" d="M2278 410l20-10-12-20-20 12z"/><path class="f" d="M2189 435l22-3 30-8 37-14-12-18-37 16-30 10-22 4z"/><path class="D" d="M2543 200l10-15-14-37-10 15z"/><path class="B" d="M2531 217l12-17-14-37-12 18z"/><path class="z" d="M2517 236l14-19-14-36-14 20z"/><path class="x" d="M2501 256l16-20-14-35-15 22z"/><path class="u" d="M2483 278l18-22-13-33-18 23z"/><path class="s" d="M2464 300l19-22-13-32-19 23z"/><path class="p" d="M2444 322l20-22-13-31-21 23z"/><path class="n" d="M2422 342l22-20-14-30-21 23z"/><path class="j" d="M2378 380l22-18-13-26-23 19z"/><path class="h" d="M2355 395l23-15-14-25-22 18z"/><path class="g" d="M2333 409l22-14-13-22-22 15z"/><path class="f" d="M2312 420l21-11-13-21-22 12z"/><path class="e" d="M2213 446l26-3 15-3 37-12 21-8-14-20-20 10-37 14-16 5-26 4z"/><path class="f" d="M2203 446l10 0-14-13-10 2z"/><path class="z" d="M2557 237l10-14-14-38-10 15z"/><path class="x" d="M2545 252l12-15-14-37-12 17z"/><path class="v" d="M2531 270l14-18-14-35-14 19z"/><path class="t" d="M2516 290l15-20-14-34-16 20z"/><path class="q" d="M2498 310l18-20-15-34-18 22z"/><path class="o" d="M2479 330l19-20-15-32-19 22z"/><path class="m" d="M2458 350l21-20-15-30-20 22z"/><path class="e" d="M2348 429l22-12-15-22-22 14z"/><path class="d" d="M2306 445l20-7 22-9-15-20-21 11-21 8z"/><path class="c" d="M2287 450l19-5-15-17-19 7z"/><path class="d" d="M2239 456l30-3 18-3-15-15-18 5-29 5z"/><path class="e" d="M2217 455l22 1-14-11-22 1z"/><path class="u" d="M2573 272l10-12-16-37-10 14z"/><path class="t" d="M2561 287l12-15-16-35-12 15z"/><path class="r" d="M2547 304l14-17-16-35-14 18z"/><path class="p" d="M2531 322l16-18-16-34-15 20z"/><path class="n" d="M2513 340l18-18-15-32-18 20z"/><path class="l" d="M2494 359l19-19-15-30-19 20z"/><path class="j" d="M2474 378l20-19-15-29-21 20z"/><path class="c" d="M2269 465l33-2 19-4-15-14-19 5-34 5z"/><path class="d" d="M2255 465l14 0-16-10-14 1z"/><path class="e" d="M2233 462l22 3-16-9-22-1z"/><path class="q" d="M2589 306l10-12-16-34-10 12z"/><path class="p" d="M2577 320l12-14-16-34-12 15z"/><path class="n" d="M2563 335l14-15-16-33-14 17z"/><path class="l" d="M2547 352l16-17-16-31-16 18z"/><path class="k" d="M2530 369l17-17-16-30-18 18z"/><path class="i" d="M2511 386l19-17-17-29-19 19z"/><path class="d" d="M2271 470l14 1-16-6-14 0z"/><path class="e" d="M2259 468l12 2-16-5-12-2z"/><path class="f" d="M2249 465l10 3-16-5-10-1z"/><path class="n" d="M2606 337l10-11-17-32-10 12z"/><path class="m" d="M2594 350l12-13-17-31-12 14z"/><path class="k" d="M2580 364l14-14-17-30-14 15z"/><path class="i" d="M2564 379l16-15-17-29-16 17z"/><path class="h" d="M2547 394l17-15-17-27-17 17z"/><path class="f" d="M2527 410l20-16-17-25-19 17z"/><path class="c" d="M2318 477l17 1-16-6-18 0z"/><path class="d" d="M2302 474l16 3-17-5-16-1z"/><path class="e" d="M2288 471l14 3-17-3-14-1z"/><path class="f" d="M2276 468l12 3-17-1-12-2z"/><path class="g" d="M2266 465l10 3-17 0-10-3z"/><path class="k" d="M2623 364l10-10-17-28-10 11z"/><path class="j" d="M2611 376l12-12-17-27-12 13z"/><path class="h" d="M2597 388l14-12-17-26-14 14z"/><path class="g" d="M2581 402l16-14-17-24-16 15z"/><path class="f" d="M2564 416l17-14-17-23-17 15z"/><path class="b" d="M2372 482l20 0-17-6-20 2z"/><path class="c" d="M2352 480l20 2-17-4-20 0z"/><path class="d" d="M2335 477l17 3-17-2-17-1z"/><path class="e" d="M2319 473l16 4-17 0-16-3z"/><path class="f" d="M2305 468l14 5-17 1-14-3z"/><path class="g" d="M2293 464l12 4-17 3-12-3z"/><path class="i" d="M2283 460l10 4-17 4-10-3z"/><path class="i" d="M2640 387l10-9-17-24-10 10z"/><path class="g" d="M2628 397l12-10-17-23-12 12z"/><path class="f" d="M2614 409l14-12-17-21-14 12z"/><path class="e" d="M2598 421l16-12-17-21-16 14z"/><path class="d" d="M2581 433l17-12-17-19-17 14z"/><path class="b" d="M2409 483l22 1-18-4-21 2z"/><path class="c" d="M2389 481l20 2-17-1-20 0z"/><path class="d" d="M2369 477l20 4-17 1-20-2z"/><path class="f" d="M2352 472l17 5-17 3-17-3z"/><path class="g" d="M2336 467l16 5-17 5-16-4z"/><path class="h" d="M2322 461l14 6-17 6-14-5z"/><path class="j" d="M2310 456l12 5-17 7-12-4z"/><path class="k" d="M2300 451l10 5-17 8-10-4z"/><path class="g" d="M2657 405l10-8-17-19-10 9z"/><path class="f" d="M2645 415l12-10-17-18-12 10z"/><path class="e" d="M2631 425l14-10-17-18-14 12z"/><path class="d" d="M2615 435l16-10-17-16-16 12z"/><path class="b" d="M2447 483l22 0-16-1-22 2z"/><path class="c" d="M2426 480l21 3-16 1-22-1z"/><path class="e" d="M2405 476l21 4-17 3-20-2z"/><path class="f" d="M2386 471l19 5-16 5-20-4z"/><path class="h" d="M2369 464l17 7-17 6-17-5z"/><path class="i" d="M2353 457l16 7-17 8-16-5z"/><path class="k" d="M2339 450l14 7-17 10-14-6z"/><path class="m" d="M2327 444l12 6-17 11-12-5z"/><path class="n" d="M2317 438l10 6-17 12-10-5z"/><path class="f" d="M2673 419l10-7-16-15-10 8z"/><path class="e" d="M2661 427l12-8-16-14-12 10z"/><path class="d" d="M2647 436l14-9-16-12-14 10z"/><path class="c" d="M2631 446l16-10-16-11-16 10z"/><path class="c" d="M2486 480l22 1-16 1-23 1z"/><path class="d" d="M2464 478l22 2-17 3-22 0z"/><path class="e" d="M2442 473l22 5-17 5-21-3z"/><path class="g" d="M2422 467l20 6-16 7-21-4z"/><path class="i" d="M2403 460l19 7-17 9-19-5z"/><path class="k" d="M2385 452l18 8-17 11-17-7z"/><path class="l" d="M2369 444l16 8-16 12-16-7z"/><path class="n" d="M2355 436l14 8-16 13-14-7z"/><path class="p" d="M2343 428l12 8-16 14-12-6z"/><path class="q" d="M2333 421l10 7-16 16-10-6z"/><path class="e" d="M2677 436l22-13-16-11-22 15z"/><path class="d" d="M2663 444l14-8-16-9-14 9z"/><path class="c" d="M2546 477l22-2 22-4-16-1-21 5-22 4z"/><path class="d" d="M2524 476l22 1-15 2-23 2z"/><path class="e" d="M2501 474l23 2-16 5-22-1z"/><path class="f" d="M2479 470l22 4-15 6-22-2z"/><path class="h" d="M2458 463l21 7-15 8-22-5z"/><path class="j" d="M2437 456l21 7-16 10-20-6z"/><path class="l" d="M2418 447l19 9-15 11-19-7z"/><path class="n" d="M2400 437l18 10-15 13-18-8z"/><path class="p" d="M2385 428l15 9-15 15-16-8z"/><path class="r" d="M2371 418l14 10-16 16-14-8z"/><path class="t" d="M2359 410l12 8-16 18-12-8z"/><path class="u" d="M2349 402l10 8-16 18-10-7z"/><path class="e" d="M2691 441l22-12-14-6-22 13z"/><path class="d" d="M2677 448l14-7-14-5-14 8z"/><path class="d" d="M2583 471l21-2 21-4-15 1-20 5-22 4z"/><path class="e" d="M2561 471l22 0-15 4-22 2z"/><path class="f" d="M2538 469l23 2-15 6-22-1z"/><path class="g" d="M2516 465l22 4-14 7-23-2z"/><path class="i" d="M2494 459l22 6-15 9-22-4z"/><path class="k" d="M2472 451l22 8-15 11-21-7z"/><path class="m" d="M2452 441l20 10-14 12-21-7z"/><path class="o" d="M2433 431l19 10-15 15-19-9z"/><path class="q" d="M2415 420l18 11-15 16-18-10z"/><path class="t" d="M2399 409l16 11-15 17-15-9z"/><path class="v" d="M2385 399l14 10-14 19-14-10z"/><path class="x" d="M2373 389l12 10-14 19-12-8z"/><path class="z" d="M2363 381l10 8-14 21-10-8z"/><path class="f" d="M2717 438l10-5-14-4-10 6z"/><path class="e" d="M2705 443l12-5-14-3-12 6z"/><path class="e" d="M2618 465l20-3 19-3-13 1-19 5-21 4z"/><path class="f" d="M2596 465l22 0-14 4-21 2z"/><path class="g" d="M2574 463l22 2-13 6-22 0z"/><path class="h" d="M2552 460l22 3-13 8-23-2z"/><path class="j" d="M2529 454l23 6-14 9-22-4z"/><path class="l" d="M2507 446l22 8-13 11-22-6z"/><path class="n" d="M2486 436l21 10-13 13-22-8z"/><path class="p" d="M2465 426l21 10-14 15-20-10z"/><path class="s" d="M2446 414l19 12-13 15-19-10z"/><path class="u" d="M2428 402l18 12-13 17-18-11z"/><path class="x" d="M2413 390l15 12-13 18-16-11z"/><path class="z" d="M2399 378l14 12-14 19-14-10z"/><path class="B" d="M2387 367l12 11-14 21-12-10z"/><path class="D" d="M2377 358l10 9-14 22-10-8z"/><path class="f" d="M2729 438l10-4-12-1-10 5z"/><path class="f" d="M2650 457l37-6-12 3-37 8z"/><path class="g" d="M2630 458l20-1-12 5-20 3z"/><path class="h" d="M2608 457l22 1-12 7-22 0z"/><path class="i" d="M2586 454l22 3-12 8-22-2z"/><path class="j" d="M2564 449l22 5-12 9-22-3z"/><path class="l" d="M2541 442l23 7-12 11-23-6z"/><path class="n" d="M2519 432l22 10-12 12-22-8z"/><path class="q" d="M2498 421l21 11-12 14-21-10z"/><path class="s" d="M2477 409l21 12-12 15-21-10z"/><path class="v" d="M2458 396l19 13-12 17-19-12z"/><path class="y" d="M2441 383l17 13-12 18-18-12z"/><path class="B" d="M2425 370l16 13-13 19-15-12z"/><path class="D" d="M2411 357l14 13-12 20-14-12z"/><path class="F" d="M2399 346l12 11-12 21-12-11z"/><path class="H" d="M2389 336l10 10-12 21-10-9z"/><path class="g" d="M2740 436l9-3-10 1-10 4z"/><path class="g" d="M2698 448l30-8-11 3-30 8z"/><path class="h" d="M2661 451l37-3-11 3-37 6z"/><path class="i" d="M2640 451l21 0-11 6-20 1z"/><path class="j" d="M2619 449l21 2-10 7-22-1z"/><path class="k" d="M2597 444l22 5-11 8-22-3z"/><path class="m" d="M2574 438l23 6-11 10-22-5z"/><path class="o" d="M2552 429l22 9-10 11-23-7z"/><path class="q" d="M2530 418l22 11-11 13-22-10z"/><path class="t" d="M2509 406l21 12-11 14-21-11z"/><path class="w" d="M2488 393l21 13-11 15-21-12z"/><path class="z" d="M2469 379l19 14-11 16-19-13z"/><path class="C" d="M2451 364l18 15-11 17-17-13z"/><path class="E" d="M2435 350l16 14-10 19-16-13z"/><path class="H" d="M2421 337l14 13-10 20-14-13z"/><path class="J" d="M2409 325l12 12-10 20-12-11z"/><path class="M" d="M2400 315l9 10-10 21-10-10z"/><path class="i" d="M2689 444l18-1 30-6-9 3-30 8-18 2z"/><path class="j" d="M2670 445l19-1-9 6-19 1z"/><path class="k" d="M2650 443l20 2-9 6-21 0z"/><path class="l" d="M2628 440l22 3-10 8-21-2z"/><path class="m" d="M2606 434l22 6-9 9-22-5z"/><path class="o" d="M2584 427l22 7-9 10-23-6z"/><path class="r" d="M2561 417l23 10-10 11-22-9z"/><path class="t" d="M2539 405l22 12-9 12-22-11z"/><path class="w" d="M2518 392l21 13-9 13-21-12z"/><path class="z" d="M2497 378l21 14-9 14-21-13z"/><path class="C" d="M2478 363l19 15-9 15-19-14z"/><path class="F" d="M2460 347l18 16-9 16-18-15z"/><path class="I" d="M2444 332l16 15-9 17-16-14z"/><path class="L" d="M2430 318l14 14-9 18-14-13z"/><path class="N" d="M2418 306l12 12-9 19-12-12z"/><path class="P" d="M2409 295l9 11-9 19-9-10z"/><path class="j" d="M2714 438l30-4 22-6-7 3-22 6-30 6z"/><path class="k" d="M2677 438l37 0-7 5-37 2z"/><path class="l" d="M2657 436l20 2-7 7-20-2z"/><path class="n" d="M2636 432l21 4-7 7-22-3z"/><path class="o" d="M2613 426l23 6-8 8-22-6z"/><path class="r" d="M2591 417l22 9-7 8-22-7z"/><path class="t" d="M2569 406l22 11-7 10-23-10z"/><path class="w" d="M2547 394l22 12-8 11-22-12z"/><path class="z" d="M2525 380l22 14-8 11-21-13z"/><path class="C" d="M2505 364l20 16-7 12-21-14z"/><path class="F" d="M2485 348l20 16-8 14-19-15z"/><path class="I" d="M2468 332l17 16-7 15-18-16z"/><path class="L" d="M2452 317l16 15-8 15-16-15z"/><path class="O" d="M2438 302l14 15-8 15-14-14z"/><path class="R" d="M2426 289l12 13-8 16-12-12z"/><path class="T" d="M2416 278l10 11-8 17-9-11z"/></g>
<path class="ax" d="M2766 492l-350 106-266-148 0-320M2416 598l11 6M2416 598l-11 3M2591 545l11 6M2283 524l-11 3M2766 492l10 6M2150 450l-11 3M2150 450l-11 3M2150 130l-11 3"/></g><text x="243.9" y="67">−100</text><text class="te" x="239.1" y="66.9">−100</text><text x="261.4" y="61.7">0</text><text class="te" x="225.8" y="59.5">0</text><text x="278.9" y="56.4">100</text><text class="te" x="212.5" y="52.1">100</text><text class="te" x="212" y="46.9">0</text><text class="te" x="212" y="14.9">5</text><text class="tm lb" x="274.7" y="72">x<tspan class="sub" dy="2.2">1</tspan></text><text class="tm lb" x="211.2" y="70.1">x<tspan class="sub" dy="2.2">2</tspan></text><text class="tm lb" transform="translate(199.7 29) rotate(-90)">F3( x<tspan class="sub" dy="2.2">1</tspan><tspan dy="-2.2"> , x</tspan><tspan class="sub" dy="2.2">2</tspan><tspan dy="-2.2"> )</tspan></text><text class="te" x="212.4" y="7.8">× 10<tspan class="sup" dy="-2.2">4</tspan></text></g>
<g id="F4"><g transform="scale(.1)"><path class="gr" d="M3351 597l-241-148M3110 449l0-317M3351 597l317-106M3668 491l0-317M3510 544l-242-148M3268 396l0-317M3231 523l316-106M3547 417l0-317M3668 491l-241-148M3427 343l0-317M3110 449l317-106M3427 343l0-317M3110 449l317-106M3427 343l241 148M3110 290l317-106M3427 184l241 148M3110 132l317-106M3427 26l241 148"/>
<g class="ct"><path class="e" d="M3385 483l-18-11 2-7 16-5 14 1 12 7-2 7-24 8"/><path class="j" d="M3381 495l-42-26 2-6 48-16 14 1 36 22-2 7-56 18"/><path class="o" d="M3378 508l-73-44 8-3 87-29 73 44-95 32"/><path class="t" d="M3374 521l-97-59 8-3 119-40 97 59-127 43"/><path class="y" d="M3370 534l-120-74 158-54 120 74-158 54"/><path class="C" d="M3366 546l-144-89 8-2 182-61 144 89-190 63"/><path class="H" d="M3362 559l-162-100 2-6 206-69 14 1 156 96-2 6-214 72"/><path class="M" d="M3359 572l-193-119 24-8 229-77 193 119-253 85"/><path class="R" d="M3355 584l-217-133 87-29 198-66 217 133-285 95"/></g>
<g class="sf"><path class="V" d="M3116 139l310-104 1-9-317 106z"/><path class="U" d="M3122 146l303-102 1-9-310 104z"/><path class="T" d="M3127 153l298-99 0-10-303 102z"/><path class="S" d="M3133 160l291-97 1-9-298 99z"/><path class="R" d="M3139 167l284-95 1-9-291 97z"/><path class="Q" d="M3145 174l277-92 1-10-284 95z"/><path class="P" d="M3151 181l270-90 1-9-277 92z"/><path class="O" d="M3157 188l264-88 0-9-270 90z"/><path class="N" d="M3162 195l258-86 1-9-264 88z"/><path class="M" d="M3168 202l251-84 1-9-258 86z"/><path class="L" d="M3174 209l244-81 1-10-251 84z"/><path class="K" d="M3180 216l237-79 1-9-244 81z"/><path class="J" d="M3186 224l231-78 0-9-237 79z"/><path class="I" d="M3191 231l225-76 1-9-231 78z"/><path class="H" d="M3197 238l218-73 1-10-225 76z"/><path class="G" d="M3203 245l211-71 1-9-218 73z"/><path class="F" d="M3209 252l205-69 0-9-211 71z"/><path class="E" d="M3215 259l198-67 1-9-205 69z"/><path class="D" d="M3220 266l192-64 1-10-198 67z"/><path class="C" d="M3226 273l185-62 1-9-192 64z"/><path class="B" d="M3232 280l178-60 1-9-185 62z"/><path class="A" d="M3238 287l172-57 0-10-178 60z"/><path class="z" d="M3244 294l165-55 1-9-172 57z"/><path class="y" d="M3250 301l158-53 1-9-165 55z"/><path class="x" d="M3255 308l152-51 1-9-158 53z"/><path class="w" d="M3261 315l145-49 1-9-152 51z"/><path class="v" d="M3267 322l139-46 0-10-145 49z"/><path class="u" d="M3273 329l132-44 1-9-139 46z"/><path class="t" d="M3279 336l125-42 1-9-132 44z"/><path class="s" d="M3284 343l119-39 1-10-125 42z"/><path class="r" d="M3290 350l112-37 1-9-119 39z"/><path class="q" d="M3296 357l106-35 0-9-112 37z"/><path class="p" d="M3302 364l99-33 1-9-106 35z"/><path class="o" d="M3308 371l92-31 1-9-99 33z"/><path class="n" d="M3313 378l86-28 1-10-92 31z"/><path class="m" d="M3319 386l79-27 1-9-86 28z"/><path class="l" d="M3325 393l73-25 0-9-79 27z"/><path class="k" d="M3331 400l66-22 1-10-73 25z"/><path class="j" d="M3337 407l59-20 1-9-66 22z"/><path class="i" d="M3342 414l53-18 1-9-59 20z"/><path class="h" d="M3348 421l47-16 0-9-53 18z"/><path class="g" d="M3354 428l40-14 1-9-47 16z"/><path class="f" d="M3360 435l33-11 1-10-40 14z"/><path class="e" d="M3366 442l26-9 1-9-33 11z"/><path class="d" d="M3372 449l19-7 1-9-26 9z"/><path class="c" d="M3377 456l14-4 0-10-19 7z"/><path class="b" d="M3383 463l7-2 1-9-14 4z"/><path class="a" d="M3389 470l1-9-7 2z"/><path class="V" d="M3662 180l-236-145 1-9 241 148z"/><path class="U" d="M3656 186l-231-142 1-9 236 145z"/><path class="T" d="M3651 193l-226-139 0-10 231 142z"/><path class="S" d="M3645 199l-221-136 1-9 226 139z"/><path class="R" d="M3639 205l-216-133 1-9 221 136z"/><path class="Q" d="M3633 211l-211-129 1-10 216 133z"/><path class="P" d="M3627 217l-206-126 1-9 211 129z"/><path class="O" d="M3622 223l-201-123 0-9 206 126z"/><path class="N" d="M3616 230l-196-121 1-9 201 123z"/><path class="M" d="M3610 236l-191-118 1-9 196 121z"/><path class="L" d="M3604 242l-186-114 1-10 191 118z"/><path class="K" d="M3598 248l-181-111 1-9 186 114z"/><path class="J" d="M3592 254l-175-108 0-9 181 111z"/><path class="I" d="M3587 260l-171-105 1-9 175 108z"/><path class="H" d="M3581 266l-166-101 1-10 171 105z"/><path class="G" d="M3575 273l-161-99 1-9 166 101z"/><path class="F" d="M3569 279l-155-96 0-9 161 99z"/><path class="E" d="M3563 285l-150-93 1-9 155 96z"/><path class="D" d="M3558 291l-146-89 1-10 150 93z"/><path class="C" d="M3552 297l-141-86 1-9 146 89z"/><path class="B" d="M3546 304l-136-84 1-9 141 86z"/><path class="A" d="M3540 310l-130-80 0-10 136 84z"/><path class="z" d="M3534 316l-125-77 1-9 130 80z"/><path class="y" d="M3528 322l-120-74 1-9 125 77z"/><path class="x" d="M3523 328l-116-71 1-9 120 74z"/><path class="w" d="M3517 334l-111-68 1-9 116 71z"/><path class="v" d="M3511 341l-105-65 0-10 111 68z"/><path class="u" d="M3505 347l-100-62 1-9 105 65z"/><path class="t" d="M3499 353l-95-59 1-9 100 62z"/><path class="s" d="M3494 359l-91-55 1-10 95 59z"/><path class="r" d="M3488 365l-86-52 1-9 91 55z"/><path class="q" d="M3482 371l-80-49 0-9 86 52z"/><path class="p" d="M3476 378l-75-47 1-9 80 49z"/><path class="o" d="M3470 384l-70-44 1-9 75 47z"/><path class="n" d="M3465 390l-66-40 1-10 70 44z"/><path class="m" d="M3459 396l-61-37 1-9 66 40z"/><path class="l" d="M3453 402l-55-34 0-9 61 37z"/><path class="k" d="M3447 408l-50-30 1-10 55 34z"/><path class="j" d="M3441 414l-45-27 1-9 50 30z"/><path class="i" d="M3436 421l-41-25 1-9 45 27z"/><path class="h" d="M3430 427l-35-22 0-9 41 25z"/><path class="g" d="M3424 433l-30-19 1-9 35 22z"/><path class="f" d="M3418 439l-25-15 1-10 30 19z"/><path class="e" d="M3412 445l-20-12 1-9 25 15z"/><path class="d" d="M3406 452l-15-10 1-9 20 12z"/><path class="c" d="M3401 458l-10-6 0-10 15 10z"/><path class="b" d="M3395 464l-5-3 1-9 10 6z"/><path class="a" d="M3389 470l1-9 5 3z"/><path class="a" d="M3389 470l-6-7 5 3z"/><path class="b" d="M3388 466l-5-3-6-7 10 6z"/><path class="c" d="M3387 462l-10-6-5-7 15 9z"/><path class="d" d="M3387 458l-15-9-6-7 20 12z"/><path class="e" d="M3386 454l-20-12-6-7 25 15z"/><path class="f" d="M3385 450l-25-15-6-7 30 18z"/><path class="g" d="M3384 446l-30-18-6-7 35 21z"/><path class="h" d="M3383 442l-35-21-6-7 41 24z"/><path class="i" d="M3383 438l-41-24-5-7 45 27z"/><path class="j" d="M3382 434l-45-27-6-7 50 30z"/><path class="k" d="M3381 430l-50-30-6-7 55 33z"/><path class="l" d="M3380 426l-55-33-6-7 61 36z"/><path class="m" d="M3380 422l-61-36-6-8 66 41z"/><path class="n" d="M3379 419l-66-41-5-7 70 44z"/><path class="o" d="M3378 415l-70-44-6-7 75 47z"/><path class="p" d="M3377 411l-75-47-6-7 80 50z"/><path class="q" d="M3376 407l-80-50-6-7 86 53z"/><path class="r" d="M3376 403l-86-53-6-7 91 56z"/><path class="s" d="M3375 399l-91-56-5-7 95 59z"/><path class="t" d="M3374 395l-95-59-6-7 100 62z"/><path class="u" d="M3373 391l-100-62-6-7 105 65z"/><path class="v" d="M3372 387l-105-65-6-7 111 68z"/><path class="w" d="M3372 383l-111-68-6-7 116 71z"/><path class="x" d="M3371 379l-116-71-5-7 120 74z"/><path class="y" d="M3370 375l-120-74-6-7 125 77z"/><path class="z" d="M3369 371l-125-77-6-7 130 80z"/><path class="A" d="M3368 367l-130-80-6-7 136 83z"/><path class="B" d="M3368 363l-136-83-6-7 141 86z"/><path class="C" d="M3367 359l-141-86-6-7 146 89z"/><path class="D" d="M3366 355l-146-89-5-7 150 92z"/><path class="E" d="M3365 351l-150-92-6-7 155 95z"/><path class="F" d="M3364 347l-155-95-6-7 161 98z"/><path class="G" d="M3364 343l-161-98-6-7 166 101z"/><path class="H" d="M3363 339l-166-101-6-7 171 104z"/><path class="I" d="M3362 335l-171-104-5-7 175 107z"/><path class="J" d="M3361 331l-175-107-6-8 181 112z"/><path class="K" d="M3361 328l-181-112-6-7 186 115z"/><path class="L" d="M3360 324l-186-115-6-7 191 118z"/><path class="M" d="M3359 320l-191-118-6-7 196 121z"/><path class="N" d="M3358 316l-196-121-5-7 200 124z"/><path class="O" d="M3357 312l-200-124-6-7 206 127z"/><path class="P" d="M3357 308l-206-127-6-7 211 130z"/><path class="Q" d="M3356 304l-211-130-6-7 216 133z"/><path class="R" d="M3355 300l-216-133-6-7 221 136z"/><path class="S" d="M3354 296l-221-136-6-7 226 139z"/><path class="T" d="M3353 292l-226-139-5-7 231 142z"/><path class="U" d="M3353 288l-231-142-6-7 236 145z"/><path class="V" d="M3352 284l-236-145-6-7 241 148z"/><path class="a" d="M3389 470l6-6-7 2z"/><path class="b" d="M3388 466l7-2 6-6-14 4z"/><path class="c" d="M3387 462l14-4 5-6-19 6z"/><path class="d" d="M3387 458l19-6 6-7-26 9z"/><path class="e" d="M3386 454l26-9 6-6-33 11z"/><path class="f" d="M3385 450l33-11 6-6-40 13z"/><path class="g" d="M3384 446l40-13 6-6-47 15z"/><path class="h" d="M3383 442l47-15 6-6-53 17z"/><path class="i" d="M3383 438l53-17 5-7-59 20z"/><path class="j" d="M3382 434l59-20 6-6-66 22z"/><path class="k" d="M3381 430l66-22 6-6-73 24z"/><path class="l" d="M3380 426l73-24 6-6-79 26z"/><path class="m" d="M3380 422l79-26 6-6-86 29z"/><path class="n" d="M3379 419l86-29 5-6-92 31z"/><path class="o" d="M3378 415l92-31 6-6-99 33z"/><path class="p" d="M3377 411l99-33 6-7-106 36z"/><path class="q" d="M3376 407l106-36 6-6-112 38z"/><path class="r" d="M3376 403l112-38 6-6-119 40z"/><path class="s" d="M3375 399l119-40 5-6-125 42z"/><path class="t" d="M3374 395l125-42 6-6-132 44z"/><path class="u" d="M3373 391l132-44 6-6-139 46z"/><path class="v" d="M3372 387l139-46 6-7-145 49z"/><path class="w" d="M3372 383l145-49 6-6-152 51z"/><path class="x" d="M3371 379l152-51 5-6-158 53z"/><path class="y" d="M3370 375l158-53 6-6-165 55z"/><path class="z" d="M3369 371l165-55 6-6-172 57z"/><path class="A" d="M3368 367l172-57 6-6-178 59z"/><path class="B" d="M3368 363l178-59 6-7-185 62z"/><path class="C" d="M3367 359l185-62 6-6-192 64z"/><path class="D" d="M3366 355l192-64 5-6-198 66z"/><path class="E" d="M3365 351l198-66 6-6-205 68z"/><path class="F" d="M3364 347l205-68 6-6-211 70z"/><path class="G" d="M3364 343l211-70 6-7-218 73z"/><path class="H" d="M3363 339l218-73 6-6-225 75z"/><path class="I" d="M3362 335l225-75 5-6-231 77z"/><path class="J" d="M3361 331l231-77 6-6-237 80z"/><path class="K" d="M3361 328l237-80 6-6-244 82z"/><path class="L" d="M3360 324l244-82 6-6-251 84z"/><path class="M" d="M3359 320l251-84 6-6-258 86z"/><path class="N" d="M3358 316l258-86 6-7-265 89z"/><path class="O" d="M3357 312l265-89 5-6-270 91z"/><path class="P" d="M3357 308l270-91 6-6-277 93z"/><path class="Q" d="M3356 304l277-93 6-6-284 95z"/><path class="R" d="M3355 300l284-95 6-6-291 97z"/><path class="S" d="M3354 296l291-97 6-6-298 99z"/><path class="T" d="M3353 292l298-99 5-7-303 102z"/><path class="U" d="M3353 288l303-102 6-6-310 104z"/><path class="V" d="M3352 284l310-104 6-6-317 106z"/></g>
<path class="ax" d="M3668 491l-317 106-241-148 0-317M3351 597l10 6M3351 597l-11 4M3510 544l10 6M3231 523l-12 4M3668 491l10 6M3110 449l-11 4M3110 449l-11 4M3110 290l-11 4M3110 132l-11 4"/></g><text x="337.4" y="66.9">−100</text><text class="te" x="332.6" y="66.8">−100</text><text x="353.3" y="61.6">0</text><text class="te" x="320.6" y="59.4">0</text><text x="369.1" y="56.3">100</text><text class="te" x="308.5" y="52">100</text><text class="te" x="308" y="46.8">0</text><text class="te" x="308" y="30.9">50</text><text class="te" x="308" y="15.1">100</text><text class="tm lb" x="366.5" y="71.9">x<tspan class="sub" dy="2.2">1</tspan></text><text class="tm lb" x="306" y="70">x<tspan class="sub" dy="2.2">2</tspan></text><text class="tm lb" transform="translate(291.1 29) rotate(-90)">F4( x<tspan class="sub" dy="2.2">1</tspan><tspan dy="-2.2"> , x</tspan><tspan class="sub" dy="2.2">2</tspan><tspan dy="-2.2"> )</tspan></text></g>
<g id="F5"><g transform="scale(.1)"><path class="gr" d="M886 1406l-263-142M623 1264l0-314M886 1406l346-105M1232 1301l0-314M1059 1354l-263-142M796 1212l0-314M755 1335l345-105M1100 1230l0-314M1232 1301l-263-142M969 1159l0-314M623 1264l346-105M969 1159l0-314M623 1264l346-105M969 1159l263 142M623 1070l346-105M969 965l263 142"/>
<g class="ct"><path class="f" d="M1179 1272l-347 105M677 1293l345-105"/><path class="l" d="M1194 1280l-347 105M662 1285l345-105"/><path class="r" d="M1204 1286l-347 104M652 1280l345-106"/><path class="x" d="M1211 1290l-346 104M645 1276l345-106"/><path class="D" d="M1218 1293l-347 105M638 1272l345-105"/><path class="J" d="M1223 1296l-346 105M633 1269l345-105"/><path class="P" d="M1228 1299l-347 104M628 1267l345-106"/><path class="V" d="M1059 1353l-173 53M623 1264l173-53"/></g>
<g class="sf"><path class="U" d="M624 963l346-99-1-13-346 99z"/><path class="S" d="M712 951l260-74-2-13-259 74z"/><path class="T" d="M626 976l86-25-1-13-87 25z"/><path class="Q" d="M800 939l173-50-1-12-173 49z"/><path class="R" d="M627 988l173-49-1-13-173 50z"/><path class="O" d="M888 926l86-25-1-12-87 25z"/><path class="P" d="M628 1001l260-75-2-12-259 74z"/><path class="N" d="M630 1013l346-100-2-12-346 100z"/><path class="L" d="M718 999l259-74-1-12-260 75z"/><path class="M" d="M631 1024l87-25-2-11-86 25z"/><path class="J" d="M805 986l173-50-1-11-173 49z"/><path class="K" d="M632 1036l173-50-1-12-173 50z"/><path class="I" d="M634 1047l346-100-2-11-346 100z"/><path class="G" d="M808 1008l173-50-1-11-173 50z"/><path class="H" d="M635 1058l173-50-1-11-173 50z"/><path class="F" d="M637 1068l346-100-2-10-346 100z"/><path class="D" d="M811 1028l173-50-1-10-173 50z"/><path class="E" d="M638 1078l173-50-1-10-173 50z"/><path class="C" d="M639 1089l346-101-1-10-346 100z"/><path class="A" d="M900 1023l87-25-2-10-86 25z"/><path class="B" d="M641 1098l259-75-1-10-260 76z"/><path class="z" d="M729 1083l259-76-1-9-260 75z"/><path class="A" d="M642 1108l87-25-2-10-86 25z"/><path class="y" d="M644 1117l346-100-2-10-346 101z"/><path class="w" d="M905 1051l86-25-1-9-87 25z"/><path class="x" d="M645 1126l260-75-2-9-259 75z"/><path class="v" d="M820 1085l173-51-2-8-173 50z"/><path class="w" d="M647 1135l173-50-2-9-173 50z"/><path class="u" d="M735 1118l259-75-1-9-260 76z"/><path class="v" d="M648 1144l87-26-2-8-86 25z"/><path class="t" d="M650 1152l346-101-2-8-346 101z"/><path class="s" d="M651 1160l346-101-1-8-346 101z"/><path class="r" d="M653 1168l346-102-2-7-346 101z"/><path class="q" d="M655 1175l259-76-2-7-259 76z"/><path class="p" d="M656 1183l260-76-2-8-259 76z"/><path class="o" d="M658 1190l259-76-1-7-260 76z"/><path class="n" d="M659 1197l260-77-2-6-259 76z"/><path class="m" d="M661 1203l259-76-1-7-260 77z"/><path class="l" d="M663 1210l259-77-2-6-259 76z"/><path class="k" d="M751 1191l173-51-2-7-173 51z"/><path class="l" d="M664 1216l87-25-2-7-86 26z"/><path class="k" d="M666 1222l259-77-1-5-260 76z"/><path class="j" d="M668 1228l259-77-2-6-259 77z"/><path class="i" d="M670 1233l259-76-2-6-259 77z"/><path class="h" d="M844 1188l87-26-2-5-87 25z"/><path class="i" d="M671 1239l173-51-2-6-172 51z"/><path class="h" d="M673 1244l260-77-2-5-260 77z"/><path class="g" d="M675 1249l259-77-1-5-260 77z"/><path class="g" d="M677 1254l259-77-2-5-259 77z"/><path class="f" d="M679 1259l259-78-2-4-259 77z"/><path class="e" d="M854 1211l86-25-2-5-86 26z"/><path class="f" d="M681 1263l173-52-2-4-173 52z"/><path class="e" d="M682 1267l260-77-2-4-259 77z"/><path class="e" d="M684 1271l260-77-2-4-260 77z"/><path class="d" d="M686 1275l260-77-2-4-260 77z"/><path class="d" d="M689 1279l259-78-2-3-260 77z"/><path class="c" d="M691 1282l259-77-2-4-259 78z"/><path class="c" d="M693 1286l259-78-2-3-259 77z"/><path class="c" d="M695 1289l173-52-2-3-173 52z"/><path class="b" d="M697 1292l173-52-2-3-173 52z"/><path class="b" d="M700 1295l173-52-3-3-173 52z"/><path class="b" d="M702 1298l173-52-2-3-173 52z"/><path class="b" d="M704 1301l173-52-2-3-173 52z"/><path class="a" d="M707 1304l173-52-3-3-173 52z"/><path class="a" d="M710 1306l173-52-3-2-173 52z"/><path class="a" d="M712 1309l173-53-2-2-173 52z"/><path class="a" d="M715 1311l173-52-3-3-173 53z"/><path class="a" d="M718 1313l173-52-3-2-173 52z"/><path class="a" d="M722 1316l172-53-3-2-173 52z"/><path class="a" d="M725 1318l173-52-4-3-172 53z"/><path class="a" d="M729 1320l173-52-4-2-173 52z"/><path class="a" d="M733 1323l173-53-4-2-173 52z"/><path class="a" d="M737 1326l173-53-4-3-173 53z"/><path class="a" d="M743 1329l173-53-6-3-173 53z"/><path class="a" d="M755 1335l173-53-12-6-173 53z"/><path class="a" d="M766 1341l173-52-11-7-173 53z"/><path class="a" d="M772 1344l86-26-6-3-86 26z"/><path class="a" d="M776 1346l87-26-5-2-86 26z"/><path class="a" d="M780 1348l87-26-4-2-87 26z"/><path class="a" d="M784 1350l87-26-4-2-87 26z"/><path class="a" d="M788 1351l86-26-3-1-87 26z"/><path class="a" d="M791 1353l86-27-3-1-86 26z"/><path class="a" d="M794 1353l86-26-3-1-86 27z"/><path class="a" d="M797 1354l86-26-3-1-86 26z"/><path class="a" d="M799 1355l87-26-3-1-86 26z"/><path class="a" d="M802 1355l87-26-3 0-87 26z"/><path class="a" d="M805 1355l86-26-2 0-87 26z"/><path class="b" d="M807 1355l87-26-3 0-86 26z"/><path class="b" d="M809 1355l87-26-2 0-87 26z"/><path class="b" d="M812 1354l346-104-3 1-346 104z"/><path class="b" d="M901 1328l259-78-2 0-260 78z"/><path class="c" d="M816 1353l346-104-2 1-346 103z"/><path class="c" d="M818 1351l346-103-2 1-346 104z"/><path class="c" d="M821 1350l345-103-2 1-346 103z"/><path class="d" d="M823 1349l346-104-3 2-345 103z"/><path class="d" d="M825 1347l346-103-2 1-346 104z"/><path class="d" d="M1086 1268l87-26-2 2-87 25z"/><path class="e" d="M827 1345l259-77-2 1-259 78z"/><path class="e" d="M829 1343l345-103-1 2-346 103z"/><path class="e" d="M1003 1289l173-51-2 2-173 51z"/><path class="f" d="M830 1340l173-51-2 2-172 52z"/><path class="f" d="M832 1338l346-103-2 3-346 102z"/><path class="f" d="M1094 1258l86-26-2 3-86 26z"/><path class="g" d="M834 1335l260-77-2 3-260 77z"/><path class="g" d="M836 1332l346-103-2 3-346 103z"/><path class="h" d="M838 1329l346-103-2 3-346 103z"/><path class="h" d="M1013 1274l172-51-1 3-173 52z"/><path class="i" d="M840 1325l173-51-2 4-173 51z"/><path class="i" d="M841 1322l346-103-2 4-345 102z"/><path class="j" d="M843 1318l346-103-2 4-346 103z"/><path class="j" d="M1104 1237l87-26-2 4-87 26z"/><path class="k" d="M845 1313l259-76-2 4-259 77z"/><path class="k" d="M933 1284l259-77-1 4-260 77z"/><path class="l" d="M846 1309l87-25-2 4-86 25z"/><path class="l" d="M848 1304l346-101-2 4-346 102z"/><path class="m" d="M850 1299l346-101-2 5-346 101z"/><path class="n" d="M851 1294l346-101-1 5-346 101z"/><path class="o" d="M853 1289l346-102-2 6-346 101z"/><path class="p" d="M855 1283l345-101-1 5-346 102z"/><path class="q" d="M856 1277l346-101-2 6-345 101z"/><path class="r" d="M858 1271l346-101-2 6-346 101z"/><path class="s" d="M859 1265l346-101-1 6-346 101z"/><path class="t" d="M861 1258l346-101-2 7-346 101z"/><path class="u" d="M949 1226l259-76-1 7-260 76z"/><path class="v" d="M862 1251l87-25-2 7-86 25z"/><path class="v" d="M1037 1194l173-51-2 7-173 51z"/><path class="w" d="M864 1244l173-50-2 7-173 50z"/><path class="w" d="M1125 1161l86-25-1 7-87 26z"/><path class="x" d="M865 1237l260-76-2 8-259 75z"/><path class="y" d="M867 1229l346-101-2 8-346 101z"/><path class="z" d="M955 1196l259-75-1 7-260 76z"/><path class="A" d="M868 1221l87-25-2 8-86 25z"/><path class="A" d="M1129 1138l87-26-2 9-86 25z"/><path class="B" d="M870 1213l259-75-1 8-260 75z"/><path class="C" d="M871 1204l346-100-1 8-346 101z"/><path class="D" d="M1045 1145l173-50-1 9-173 50z"/><path class="E" d="M872 1195l173-50-1 9-173 50z"/><path class="F" d="M874 1186l346-100-2 9-346 100z"/><path class="G" d="M1048 1127l173-50-1 9-173 50z"/><path class="H" d="M875 1177l173-50-1 9-173 50z"/><path class="I" d="M877 1167l346-99-2 9-346 100z"/><path class="J" d="M1051 1108l173-50-1 10-173 50z"/><path class="K" d="M878 1157l173-49-1 10-173 49z"/><path class="L" d="M966 1122l259-74-1 10-259 75z"/><path class="M" d="M879 1147l87-25-1 11-87 24z"/><path class="N" d="M881 1137l346-99-2 10-346 99z"/><path class="O" d="M1142 1052l86-25-1 11-87 24z"/><path class="P" d="M882 1126l260-74-2 10-259 75z"/><path class="Q" d="M1056 1065l173-49-1 11-173 49z"/><path class="R" d="M883 1115l173-50-1 11-173 50z"/><path class="S" d="M971 1079l260-74-2 11-259 74z"/><path class="T" d="M885 1104l86-25-1 11-87 25z"/><path class="U" d="M886 1092l346-99-1 12-346 99z"/></g>
<path class="ax" d="M1232 1301l-346 105-263-142 0-314M886 1406l11 6M886 1406l-11 3M1059 1354l11 5M755 1335l-12 3M1232 1301l11 6M623 1264l-11 3M623 1264l-11 3M623 1070l-11 3"/></g><text x="90.9" y="147.8">−200</text><text class="te" x="86.1" y="147.7">−200</text><text x="108.2" y="142.5">0</text><text class="te" x="73" y="140.6">0</text><text x="125.5" y="137.3">200</text><text class="te" x="59.8" y="133.5">200</text><text class="te" x="59.3" y="128.3">0</text><text class="te" x="59.3" y="108.9">10</text><text class="tm lb" x="121.5" y="152.6">x<tspan class="sub" dy="2.2">1</tspan></text><text class="tm lb" x="58.4" y="151.2">x<tspan class="sub" dy="2.2">2</tspan></text><text class="tm lb" transform="translate(44.7 110.7) rotate(-90)">F5( x<tspan class="sub" dy="2.2">1</tspan><tspan dy="-2.2"> , x</tspan><tspan class="sub" dy="2.2">2</tspan><tspan dy="-2.2"> )</tspan></text><text class="te" x="59.7" y="89.8">× 10<tspan class="sup" dy="-2.2">10</tspan></text></g>
<g id="F6"><g transform="scale(.1)"><path class="gr" d="M1884 1407l-228-144M1656 1263l0-305M1884 1407l299-105M2183 1302l0-305M2033 1354l-227-144M1806 1210l0-304M1770 1335l299-105M2069 1230l0-305M2183 1302l-228-144M1955 1158l0-305M1656 1263l299-105M1955 1158l0-305M1656 1263l299-105M1955 1158l228 144M1656 1112l299-105M1955 1007l228 144M1656 961l299-105M1955 856l228 144"/>
<g class="ct"><path class="l" d="M1967 1342l-37 4-36-1-31-5-33-11-24-14-14-15-5-16 2-15 10-14 22-15 29-11 26-6 38-3 30 2 30 4 33 11 25 14 13 13 7 17-2 15-9 14-22 16-19 8-33 8"/><path class="x" d="M2018 1360l-53 10-28 2-37-1-33-3-28-5-34-10-24-11M1760 1329l-10-9-12-15-5-13-2-11 3-16 5-9 10-12 12-10 18-11 18-8 42-13 51-7 46 0 48 5 48 13 28 13 16 9 12 11 10 11 7 13 2 14 0 9-6 16-8 10-13 12-33 19"/><path class="J" d="M1926 1392l-37-1-37-4M2149 1281l-1 18-9 18M1689 1284l2-18 9-19M1910 1174l42 1 38 5"/><path class="V" d="M1954 1159l3 0"/></g>
<g class="sf"><path class="T" d="M1953 893l9-19-7-21-8 20z"/><path class="Q" d="M1943 916l10-23-6-20-10 22z"/><path class="N" d="M1931 940l12-24-6-21-12 24z"/><path class="K" d="M1918 966l13-26-6-21-14 26z"/><path class="H" d="M1902 991l16-25-7-21-15 25z"/><path class="E" d="M1886 1015l16-24-6-21-16 24z"/><path class="B" d="M1868 1037l18-22-6-21-18 22z"/><path class="z" d="M1850 1055l18-18-6-21-18 18z"/><path class="x" d="M1831 1069l19-14-6-21-19 15z"/><path class="w" d="M1793 1083l19-4 19-10-6-20-19 9-20 4z"/><path class="x" d="M1774 1083l19 0-7-21-18 0z"/><path class="z" d="M1756 1078l18 5-6-21-19-5z"/><path class="B" d="M1738 1068l18 10-7-21-17-9z"/><path class="D" d="M1722 1056l16 12-6-20-17-12z"/><path class="G" d="M1707 1042l15 14-7-20-15-15z"/><path class="J" d="M1693 1026l14 16-7-21-13-16z"/><path class="N" d="M1681 1010l12 16-6-21-12-15z"/><path class="Q" d="M1671 995l10 15-6-20-11-16z"/><path class="S" d="M1662 982l9 13-7-21-8-13z"/><path class="Q" d="M1961 917l9-20-8-23-9 19z"/><path class="N" d="M1951 939l10-22-8-24-10 23z"/><path class="K" d="M1939 964l12-25-8-23-12 24z"/><path class="H" d="M1925 989l14-25-8-24-13 26z"/><path class="E" d="M1910 1015l15-26-7-23-16 25z"/><path class="B" d="M1894 1039l16-24-8-24-16 24z"/><path class="y" d="M1876 1061l18-22-8-24-18 22z"/><path class="w" d="M1858 1079l18-18-8-24-18 18z"/><path class="u" d="M1782 1106l19 1 19-5 19-9 19-14-8-24-19 14-19 10-19 4-19 0z"/><path class="w" d="M1763 1101l19 5-8-23-18-5z"/><path class="y" d="M1746 1092l17 9-7-23-18-10z"/><path class="B" d="M1730 1080l16 12-8-24-16-12z"/><path class="D" d="M1714 1066l16 14-8-24-15-14z"/><path class="H" d="M1701 1050l13 16-7-24-14-16z"/><path class="K" d="M1689 1034l12 16-8-24-12-16z"/><path class="N" d="M1679 1019l10 15-8-24-10-15z"/><path class="Q" d="M1670 1005l9 14-8-24-9-13z"/><path class="N" d="M1970 943l9-20-9-26-9 20z"/><path class="K" d="M1960 965l10-22-9-26-10 22z"/><path class="H" d="M1948 990l12-25-9-26-12 25z"/><path class="E" d="M1934 1015l14-25-9-26-14 25z"/><path class="B" d="M1919 1041l15-26-9-26-15 26z"/><path class="y" d="M1903 1065l16-24-9-26-16 24z"/><path class="v" d="M1885 1087l18-22-9-26-18 22z"/><path class="t" d="M1867 1105l18-18-9-26-18 18z"/><path class="r" d="M1791 1132l19 1 19-5 19-9 19-14-9-26-19 14-19 9-19 5-19-1z"/><path class="t" d="M1773 1127l18 5-9-26-19-5z"/><path class="v" d="M1755 1118l18 9-10-26-17-9z"/><path class="x" d="M1739 1106l16 12-9-26-16-12z"/><path class="A" d="M1724 1092l15 14-9-26-16-14z"/><path class="E" d="M1710 1076l14 16-10-26-13-16z"/><path class="H" d="M1698 1060l12 16-9-26-12-16z"/><path class="K" d="M1688 1045l10 15-9-26-10-15z"/><path class="N" d="M1679 1031l9 14-9-26-9-14z"/><path class="K" d="M1981 970l8-19-10-28-9 20z"/><path class="H" d="M1970 993l11-23-11-27-10 22z"/><path class="E" d="M1958 1017l12-24-10-28-12 25z"/><path class="B" d="M1945 1043l13-26-10-27-14 25z"/><path class="x" d="M1930 1068l15-25-11-28-15 26z"/><path class="u" d="M1913 1092l17-24-11-27-16 24z"/><path class="s" d="M1896 1114l17-22-10-27-18 22z"/><path class="q" d="M1877 1132l19-18-11-27-18 18z"/><path class="o" d="M1858 1146l19-14-10-27-19 14z"/><path class="n" d="M1820 1160l19-4 19-10-10-27-19 9-19 5z"/><path class="o" d="M1801 1160l19 0-10-27-19-1z"/><path class="p" d="M1783 1155l18 5-10-28-18-5z"/><path class="s" d="M1765 1146l18 9-10-28-18-9z"/><path class="u" d="M1749 1133l16 13-10-28-16-12z"/><path class="x" d="M1734 1119l15 14-10-27-15-14z"/><path class="A" d="M1720 1103l14 16-10-27-14-16z"/><path class="E" d="M1708 1087l12 16-10-27-12-16z"/><path class="H" d="M1698 1072l10 15-10-27-10-15z"/><path class="J" d="M1690 1059l8 13-10-27-9-14z"/><path class="H" d="M1992 998l8-20-11-27-8 19z"/><path class="E" d="M1982 1020l10-22-11-28-11 23z"/><path class="B" d="M1970 1045l12-25-12-27-12 24z"/><path class="x" d="M1956 1070l14-25-12-28-13 26z"/><path class="u" d="M1941 1096l15-26-11-27-15 25z"/><path class="r" d="M1925 1120l16-24-11-28-17 24z"/><path class="p" d="M1907 1141l18-21-12-28-17 22z"/><path class="m" d="M1889 1160l18-19-11-27-19 18z"/><path class="l" d="M1870 1174l19-14-12-28-19 14z"/><path class="k" d="M1832 1188l19-5 19-9-12-28-19 10-19 4z"/><path class="l" d="M1813 1187l19 1-12-28-19 0z"/><path class="m" d="M1794 1182l19 5-12-27-18-5z"/><path class="o" d="M1777 1173l17 9-11-27-18-9z"/><path class="r" d="M1760 1161l17 12-12-27-16-13z"/><path class="u" d="M1745 1146l15 15-11-28-15-14z"/><path class="x" d="M1732 1131l13 15-11-27-14-16z"/><path class="A" d="M1720 1115l12 16-12-28-12-16z"/><path class="D" d="M1710 1100l10 15-12-28-10-15z"/><path class="G" d="M1701 1086l9 14-12-28-8-13z"/><path class="E" d="M2005 1024l8-20-13-26-8 20z"/><path class="B" d="M1994 1046l11-22-13-26-10 22z"/><path class="y" d="M1982 1071l12-25-12-26-12 25z"/><path class="u" d="M1969 1096l13-25-12-26-14 25z"/><path class="r" d="M1954 1122l15-26-13-26-15 26z"/><path class="o" d="M1937 1146l17-24-13-26-16 24z"/><path class="m" d="M1920 1168l17-22-12-26-18 21z"/><path class="j" d="M1901 1186l19-18-13-27-18 19z"/><path class="i" d="M1825 1213l19 1-12-26-19-1z"/><path class="j" d="M1807 1208l18 5-12-26-19-5z"/><path class="l" d="M1789 1199l18 9-13-26-17-9z"/><path class="o" d="M1773 1187l16 12-12-26-17-12z"/><path class="r" d="M1758 1172l15 15-13-26-15-15z"/><path class="u" d="M1744 1157l14 15-13-26-13-15z"/><path class="x" d="M1732 1141l12 16-12-26-12-16z"/><path class="A" d="M1722 1126l10 15-12-26-10-15z"/><path class="D" d="M1714 1112l8 14-12-26-9-14z"/><path class="B" d="M2018 1048l8-20-13-24-8 20z"/><path class="y" d="M2008 1070l10-22-13-24-11 22z"/><path class="v" d="M1996 1095l12-25-14-24-12 25z"/><path class="s" d="M1982 1120l14-25-14-24-13 25z"/><path class="p" d="M1967 1146l15-26-13-24-15 26z"/><path class="m" d="M1951 1170l16-24-13-24-17 24z"/><path class="j" d="M1933 1192l18-22-14-24-17 22z"/><path class="o" d="M1771 1196l15 15-13-24-15-15z"/><path class="r" d="M1758 1181l13 15-13-24-14-15z"/><path class="v" d="M1746 1165l12 16-14-24-12-16z"/><path class="y" d="M1735 1150l11 15-14-24-10-15z"/><path class="A" d="M1727 1136l8 14-13-24-8-14z"/><path class="z" d="M2032 1069l8-20-14-21-8 20z"/><path class="w" d="M2022 1091l10-22-14-21-10 22z"/><path class="t" d="M2010 1115l12-24-14-21-12 25z"/><path class="q" d="M1996 1141l14-26-14-20-14 25z"/><path class="m" d="M1981 1166l15-25-14-21-15 26z"/><path class="j" d="M1964 1190l17-24-14-20-16 24z"/><path class="h" d="M1947 1212l17-22-13-20-18 22z"/><path class="y" d="M1741 1157l8 13-14-20-8-14z"/><path class="x" d="M2046 1085l9-19-15-17-8 20z"/><path class="u" d="M2036 1108l10-23-14-16-10 22z"/><path class="r" d="M2024 1132l12-24-14-17-12 24z"/><path class="o" d="M2010 1158l14-26-14-17-14 26z"/><path class="l" d="M1995 1183l15-25-14-17-15 25z"/><path class="i" d="M1979 1207l16-24-14-17-17 24z"/><path class="f" d="M1961 1229l18-22-15-17-17 22z"/><path class="r" d="M1774 1202l12 16-15-17-12-15z"/><path class="u" d="M1764 1187l10 15-15-16-10-16z"/><path class="x" d="M1755 1174l9 13-15-17-8-13z"/><path class="w" d="M2061 1097l8-20-14-11-9 19z"/><path class="u" d="M2051 1119l10-22-15-12-10 23z"/><path class="r" d="M2039 1144l12-25-15-11-12 24z"/><path class="n" d="M2025 1170l14-26-15-12-14 26z"/><path class="k" d="M2010 1195l15-25-15-12-15 25z"/><path class="h" d="M1993 1219l17-24-15-12-16 24z"/><path class="k" d="M1814 1246l15 14-14-12-16-14z"/><path class="n" d="M1800 1230l14 16-15-12-13-16z"/><path class="q" d="M1788 1214l12 16-14-12-12-16z"/><path class="t" d="M1778 1199l10 15-14-12-10-15z"/><path class="w" d="M1770 1186l8 13-14-12-9-13z"/><path class="w" d="M2075 1104l9-20-15-7-8 20z"/><path class="u" d="M2065 1126l10-22-14-7-10 22z"/><path class="r" d="M2053 1151l12-25-14-7-12 25z"/><path class="n" d="M2040 1176l13-25-14-7-14 26z"/><path class="k" d="M2024 1202l16-26-15-6-15 25z"/><path class="h" d="M2008 1226l16-24-14-7-17 24z"/><path class="e" d="M1860 1279l18 9-15-7-17-9z"/><path class="h" d="M1844 1267l16 12-14-7-17-12z"/><path class="k" d="M1829 1253l15 14-15-7-15-14z"/><path class="n" d="M1815 1237l14 16-15-7-14-16z"/><path class="q" d="M1803 1221l12 16-15-7-12-16z"/><path class="t" d="M1793 1206l10 15-15-7-10-15z"/><path class="w" d="M1784 1192l9 14-15-7-8-13z"/><path class="x" d="M2090 1106l8-20-14-2-9 20z"/><path class="u" d="M2080 1128l10-22-15-2-10 22z"/><path class="r" d="M2068 1153l12-25-15-2-12 25z"/><path class="o" d="M2054 1178l14-25-15-2-13 25z"/><path class="l" d="M2039 1204l15-26-14-2-16 26z"/><path class="i" d="M2022 1228l17-24-15-2-16 24z"/><path class="d" d="M1892 1290l18 5-14-2-18-5z"/><path class="f" d="M1875 1281l17 9-14-2-18-9z"/><path class="i" d="M1858 1269l17 12-15-2-16-12z"/><path class="k" d="M1843 1255l15 14-14-2-15-14z"/><path class="o" d="M1829 1239l14 16-14-2-14-16z"/><path class="r" d="M1817 1223l12 16-14-2-12-16z"/><path class="u" d="M1807 1208l10 15-14-2-10-15z"/><path class="x" d="M1799 1194l8 14-14-2-9-14z"/><path class="z" d="M2104 1103l8-19-14 2-8 20z"/><path class="w" d="M2093 1126l11-23-14 3-10 22z"/><path class="t" d="M2081 1150l12-24-13 2-12 25z"/><path class="p" d="M2068 1176l13-26-13 3-14 25z"/><path class="m" d="M2053 1201l15-25-14 2-15 26z"/><path class="c" d="M1943 1293l19-4-14 2-19 5z"/><path class="d" d="M1924 1293l19 0-14 3-19-1z"/><path class="e" d="M1906 1288l18 5-14 2-18-5z"/><path class="g" d="M1888 1279l18 9-14 2-17-9z"/><path class="j" d="M1872 1266l16 13-13 2-17-12z"/><path class="m" d="M1857 1252l15 14-14 3-15-14z"/><path class="p" d="M1843 1236l14 16-14 3-14-16z"/><path class="s" d="M1831 1220l12 16-14 3-12-16z"/><path class="v" d="M1821 1205l10 15-14 3-10-15z"/><path class="y" d="M1813 1192l8 13-14 3-8-14z"/><path class="B" d="M2117 1096l8-19-13 7-8 19z"/><path class="y" d="M2107 1119l10-23-13 7-11 23z"/><path class="v" d="M2095 1143l12-24-14 7-12 24z"/><path class="s" d="M2081 1169l14-26-14 7-13 26z"/><path class="o" d="M2066 1194l15-25-13 7-15 25z"/><path class="e" d="M1957 1286l19-4-14 7-19 4z"/><path class="f" d="M1938 1286l19 0-14 7-19 0z"/><path class="g" d="M1919 1281l19 5-14 7-18-5z"/><path class="i" d="M1902 1272l17 9-13 7-18-9z"/><path class="l" d="M1885 1260l17 12-14 7-16-13z"/><path class="o" d="M1870 1245l15 15-13 6-15-14z"/><path class="r" d="M1857 1229l13 16-13 7-14-16z"/><path class="u" d="M1845 1214l12 15-14 7-12-16z"/><path class="x" d="M1834 1198l11 16-14 6-10-15z"/><path class="A" d="M1826 1185l8 13-13 7-8-13z"/><path class="D" d="M2129 1086l9-19-13 10-8 19z"/><path class="B" d="M2119 1109l10-23-12 10-10 23z"/><path class="x" d="M2107 1133l12-24-12 10-12 24z"/><path class="u" d="M2094 1159l13-26-12 10-14 26z"/><path class="r" d="M2079 1184l15-25-13 10-15 25z"/><path class="i" d="M2007 1262l19-14-12 10-19 15z"/><path class="h" d="M1969 1276l19-4 19-10-12 11-19 9-19 4z"/><path class="i" d="M1950 1276l19 0-12 10-19 0z"/><path class="j" d="M1932 1271l18 5-12 10-19-5z"/><path class="l" d="M1914 1262l18 9-13 10-17-9z"/><path class="o" d="M1898 1249l16 13-12 10-17-12z"/><path class="r" d="M1883 1235l15 14-13 11-15-15z"/><path class="u" d="M1869 1219l14 16-13 10-13-16z"/><path class="x" d="M1857 1203l12 16-12 10-12-15z"/><path class="A" d="M1847 1188l10 15-12 11-11-16z"/><path class="D" d="M1839 1175l8 13-13 10-8-13z"/><path class="G" d="M2141 1074l8-20-11 13-9 19z"/><path class="D" d="M2131 1096l10-22-12 12-10 23z"/><path class="A" d="M2119 1121l12-25-12 13-12 24z"/><path class="x" d="M2105 1146l14-25-12 12-13 26z"/><path class="m" d="M2038 1236l18-18-11 12-19 18z"/><path class="l" d="M2019 1250l19-14-12 12-19 14z"/><path class="k" d="M1962 1263l19 1 19-5 19-9-12 12-19 10-19 4-19 0z"/><path class="m" d="M1943 1258l19 5-12 13-18-5z"/><path class="o" d="M1926 1249l17 9-11 13-18-9z"/><path class="r" d="M1909 1237l17 12-12 13-16-13z"/><path class="u" d="M1894 1222l15 15-11 12-15-14z"/><path class="x" d="M1881 1207l13 15-11 13-14-16z"/><path class="A" d="M1869 1191l12 16-12 12-12-16z"/><path class="D" d="M1858 1176l11 15-12 12-10-15z"/><path class="G" d="M1850 1162l8 14-11 12-8-13z"/><path class="J" d="M2151 1060l9-20-11 14-8 20z"/><path class="H" d="M2141 1082l10-22-10 14-10 22z"/><path class="E" d="M2129 1107l12-25-10 14-12 25z"/><path class="A" d="M2115 1132l14-25-10 14-14 25z"/><path class="r" d="M2066 1204l18-22-10 14-18 22z"/><path class="p" d="M2048 1222l18-18-10 14-18 18z"/><path class="o" d="M2029 1236l19-14-10 14-19 14z"/><path class="n" d="M1991 1250l19-5 19-9-10 14-19 9-19 5z"/><path class="o" d="M1972 1249l19 1-10 14-19-1z"/><path class="p" d="M1954 1244l18 5-10 14-19-5z"/><path class="r" d="M1936 1235l18 9-11 14-17-9z"/><path class="u" d="M1920 1223l16 12-10 14-17-12z"/><path class="x" d="M1905 1209l15 14-11 14-15-15z"/><path class="A" d="M1891 1193l14 16-11 13-13-15z"/><path class="D" d="M1879 1177l12 16-10 14-12-16z"/><path class="G" d="M1869 1162l10 15-10 14-11-15z"/><path class="J" d="M1860 1148l9 14-11 14-8-14z"/><path class="N" d="M2160 1046l9-20-9 14-9 20z"/><path class="K" d="M2150 1068l10-22-9 14-10 22z"/><path class="H" d="M2138 1093l12-25-9 14-12 25z"/><path class="E" d="M2125 1118l13-25-9 14-14 25z"/><path class="x" d="M2093 1168l16-24-9 14-16 24z"/><path class="v" d="M2076 1189l17-21-9 14-18 22z"/><path class="s" d="M2057 1208l19-19-10 15-18 18z"/><path class="r" d="M2038 1222l19-14-9 14-19 14z"/><path class="q" d="M2000 1236l19-5 19-9-9 14-19 9-19 5z"/><path class="r" d="M1981 1235l19 1-9 14-19-1z"/><path class="s" d="M1963 1230l18 5-9 14-18-5z"/><path class="u" d="M1945 1221l18 9-9 14-18-9z"/><path class="x" d="M1929 1209l16 12-9 14-16-12z"/><path class="A" d="M1914 1194l15 15-9 14-15-14z"/><path class="D" d="M1900 1179l14 15-9 15-14-16z"/><path class="G" d="M1888 1163l12 16-9 14-12-16z"/><path class="J" d="M1878 1148l10 15-9 14-10-15z"/><path class="M" d="M1869 1134l9 14-9 14-9-14z"/><path class="Q" d="M2168 1032l9-20-8 14-9 20z"/><path class="N" d="M2158 1054l10-22-8 14-10 22z"/><path class="K" d="M2146 1079l12-25-8 14-12 25z"/><path class="H" d="M2132 1104l14-25-8 14-13 25z"/><path class="A" d="M2101 1154l16-24-8 14-16 24z"/><path class="y" d="M2083 1176l18-22-8 14-17 21z"/><path class="w" d="M2065 1194l18-18-7 13-19 19z"/><path class="u" d="M2046 1208l19-14-8 14-19 14z"/><path class="t" d="M2008 1222l19-5 19-9-8 14-19 9-19 5z"/><path class="u" d="M1989 1221l19 1-8 14-19-1z"/><path class="v" d="M1971 1216l18 5-8 14-18-5z"/><path class="x" d="M1953 1207l18 9-8 14-18-9z"/><path class="A" d="M1937 1195l16 12-8 14-16-12z"/><path class="D" d="M1921 1180l16 15-8 14-15-15z"/><path class="G" d="M1908 1165l13 15-7 14-14-15z"/><path class="J" d="M1896 1149l12 16-8 14-12-16z"/><path class="M" d="M1886 1134l10 15-8 14-10-15z"/><path class="P" d="M1877 1120l9 14-8 14-9-14z"/><path class="S" d="M2175 1020l8-20-6 12-9 20z"/><path class="Q" d="M2164 1042l11-22-7 12-10 22z"/><path class="N" d="M2152 1067l12-25-6 12-12 25z"/><path class="J" d="M2139 1092l13-25-6 12-14 25z"/><path class="G" d="M2124 1117l15-25-7 12-15 26z"/><path class="D" d="M2107 1142l17-25-7 13-16 24z"/><path class="A" d="M2090 1163l17-21-6 12-18 22z"/><path class="y" d="M2071 1181l19-18-7 13-18 18z"/><path class="x" d="M2053 1196l18-15-6 13-19 14z"/><path class="w" d="M2014 1209l19-4 20-9-7 12-19 9-19 5z"/><path class="x" d="M1995 1209l19 0-6 13-19-1z"/><path class="y" d="M1977 1204l18 5-6 12-18-5z"/><path class="A" d="M1959 1195l18 9-6 12-18-9z"/><path class="D" d="M1943 1183l16 12-6 12-16-12z"/><path class="G" d="M1928 1168l15 15-6 12-16-15z"/><path class="J" d="M1914 1152l14 16-7 12-13-15z"/><path class="M" d="M1902 1137l12 15-6 13-12-16z"/><path class="P" d="M1892 1121l10 16-6 12-10-15z"/><path class="S" d="M1884 1108l8 13-6 13-9-14z"/></g>
<path class="ax" d="M2183 1302l-299 105-228-144 0-305M1884 1407l10 6M1884 1407l-12 4M2033 1354l10 7M1770 1335l-11 4M2183 1302l10 6M1656 1263l-11 4M1656 1263l-11 4M1656 1112l-11 4M1656 961l-11 4"/></g><text x="190.7" y="147.9">−100</text><text class="te" x="185.9" y="147.8">−100</text><text x="205.6" y="142.6">0</text><text class="te" x="174.5" y="140.6">0</text><text x="220.6" y="137.4">100</text><text class="te" x="163.1" y="133.4">100</text><text class="te" x="162.6" y="128.2">0</text><text class="te" x="162.6" y="113.1">1</text><text class="te" x="162.6" y="98">2</text><text class="tm lb" x="218.9" y="152.8">x<tspan class="sub" dy="2.2">1</tspan></text><text class="tm lb" x="159.9" y="151.2">x<tspan class="sub" dy="2.2">2</tspan></text><text class="tm lb" transform="translate(150.3 111) rotate(-90)">F6( x<tspan class="sub" dy="2.2">1</tspan><tspan dy="-2.2"> , x</tspan><tspan class="sub" dy="2.2">2</tspan><tspan dy="-2.2"> )</tspan></text><text class="te" x="163" y="90.6">× 10<tspan class="sup" dy="-2.2">4</tspan></text></g>
<g id="F7"><g transform="scale(.1)"><path class="gr" d="M2827 1402l-263-144M2564 1258l0-295M2827 1402l345-105M3172 1297l0-295M2914 1375l-263-144M2651 1231l0-295M2760 1366l346-105M3106 1261l0-295M3001 1349l-263-144M2738 1205l0-295M2694 1329l345-105M3039 1224l0-295M3088 1322l-262-144M2826 1178l0-295M2628 1293l345-105M2973 1188l0-295M2564 1258l345-105M2909 1153l263 144M2564 1082l345-105M2909 977l263 144"/>
<g class="ct"><path class="n" d="M2943 1363l-5 0 1-2 12-2-8 4M3002 1344l-2 0-3-3 9 1-4 2M2902 1370l-10-5-2-5 1-4 7-3 11-1-1-3-3 0-8 3-9-2-8 0-6 5-13 0 1 3 14 1 8 3-3 3-16-3-19 0 0-5-17-5 1 4 6 4 0 3-5 4-11-2 3-2 0-5-7-3-2-4 5-3-16-6 0-4 18 2 0-3-14-2 1-2-2-3-30-2-7-4-3-10-13-1-8-4-16 0-2-6-16 0-7-4 0-1 8-3 6 0 6 4 8 0 6-4-24-4-23 0-7-2-2-11-18 0 1-6-3-5-16 0 14-8 10 0 6 4-4 7 8 3 6 0 1-2-4-7 9-2-2-3-9-3-1-5-8-4-4-4 0-1 8-4 4-5 17 2 0-7 32 2 4 5 3 0 4-8-12-2-1-5 3-3 39 6 8-3-3-3-11-3 1-1-3-9 10-2 26 2 6 4 6 0 5-12 26 0 6-4 2-7 4-4 12 3 5 4 0 5 4 5 21-2 7-3 10-2 20 0-7 7-18-3-2 10 6 4 34 6 1 6 12 2 4-2-7-3 1-3 14-2 8 3-2 7 1 3-9 3 0 2 13 7 30 0 11 4-15 1-3 6-15-1-2 5 25 0 4-5 4 1 2 4 18 6 3 5-2 5-6 4 2 4 26 3-6 5 1 2 13 2-2 6 1 4-3 8 14 1-3 3-25 1-5 5-3 8-4 3-25 1-14 7-17-2-7 11-6 4-19-3-13 0-8 3 2 4-3 3-16-2-8 3-6 6 2 7M2953 1354l-4 0 0-2 6 0-2 2M3065 1319l-6 1 2-3 6 1-2 1M2865 1371l-7-1 0-2 7 3M2953 1341l5 1 0-2-5 1M3004 1326l9 1 6-4 0-2-8-2-12 1-7 3 12 3M2956 1335l4 0 2-2-6 0 0 2M3025 1314l5 1-6-7-9-1 3 3 7 4M3042 1309l7 2 4-6-11 2 0 2M2905 1345l5 0 1-2-6-1 0 3M2958 1329l4 0 0-7-10 2 0 1 6 4M2975 1323l7-2-7 0 0 2M3051 1300l8 1 2-9-6 0-5 5 1 3M3087 1294l-9-2 0-2 4 1 5 3M2884 1345l11-1 1-2-5 0-7 3M2917 1335l4-1-4 1M2988 1314l21-7-15 3-6 4M2809 1363l-9-5 4 0 5 5M2876 1342l8 3-4-4-4 1M2924 1328l6-2-6 2M3032 1295l2 0 3-7-3-1-9 4 7 4M2830 1351l9-1 1-2-10-3 0 6M2887 1333l3 1 0-8-27 8-21-4 11 8 5 0 16-6 13 1M2930 1320l4-1-4 1M2992 1301l2 1-2-1M3079 1275l-9-4 4 0 5 4M2806 1354l-5 0 0-3 9 0-4 3M3004 1286l10-3-10 3M3057 1271l-2 0 2 0M3014 1278l12-2 4-3-11-1-5 6M2786 1343l-2-1 2 1M2814 1333l7-1-3-1-4 2M3052 1261l-2 0 2 0M2790 1338l-7-1 1-3 9 0-3 4M3003 1264l6-1-11-3 5 4M2760 1329l-4-1-5-4 14 1-5 4M2781 1321l4-2-4 2M2761 1310l6 0 1-2-6 0-1 2M2725 1317l-2-1 2 1M2783 1298l2-1-3 0 1 1M2994 1229l-1-1 1 1M2751 1296l5 1 3-3-8 2M2939 1233l8-2-8 2M2691 1298l-8-3 6-2 2 5M2914 1230l12-2 1-2-13 4M2707 1287l6 1-1-8 19-4-1-1-14 0-20 4-6 8 17 0M2892 1225l4-1-4 1M2906 1221l5-1-4-2-1 3M2783 1253l1 1-1-1M2895 1219l2-1-2 1M2940 1207l-4 0 1-2 4 0-1 2M2942 1200l-3 0 1-1 6-1-4 2M2752 1251l4 2-4-2M2795 1238l2 0-2 0M2873 1209l7 2-2-4-5 0 0 2M2889 1204l7 1 1-3-8-1 0 3M2712 1252l3 1 1-2-5-1 1 2M2697 1251l4-1-11-4 7 5M2732 1241l2 0-2 0M2781 1225l6 1-8-4 2 3M2818 1214l4-1-4 1M2833 1210l22-7-3-1-8 3-21-4 10 9M2915 1185l-2 0 2 0M2749 1230l6 0 5-4-10 2-1 2M2779 1221l10-2 1-2-6 0-5 4M2801 1214l6 1 1-3-6 0-1 2M2851 1199l7-1 2-2-7 0-2 3M2653 1255l-3-2 7-1-4 3M2788 1212l2 0-7-3 5 3M2878 1180l-2 0 2 0M2803 1198l-4 0 5-2-1 2M2830 1190l-5 0-2-3 8 1-1 2M2710 1220l-3-1 8-1-5 2M2814 1189l-5 0 2-2 7-1-4 3"/><path class="A" d="M2866 1387l-5-1-2-3 8 1-1 3M2878 1386l-4-4-8-3-17-2-9 3-33-6-19 0-2-2 8-2 2-3-16-1 8-8-6-2-7 3-12 1-8-3-11-8-10-3-11-8 4-6-30-8 4-7-27-8-5-5-15 0 3-3-1-9-13-2 0-6-4-4-11-2-3-5-14-1 2-6-8-4 5-12-5-5M2849 1385l-3-2 6 0-3 2M3123 1301l4 1-1-2-3 1M2825 1386l-3-1 7 0-4 1M3105 1301l6-2-6 2M3131 1282l-3-2 3 2M3089 1272l8-1 3-2-7 0-4 3M2769 1352l9 1-5-2-4 1M2743 1343l4 0-4-1 0 1M3035 1222l-3 0-1-2M2685 1317l-2-1 7-1-5 2M3015 1211l-7 3 0 4 13 7 12 2-3 7-4 1 25-2 0 11 4 5 16 0 4 5 15 1-4 7 8 3 14 1 13 7 1 4-12 1 2 4-1 6 14 1 6 4 8 3-1 4-15 12M2999 1202l2 2-8 8 1 2 0 3 4-1 5-4 10-2M2645 1295l-1 0 1 0M2632 1288l-8-3-7-5 9-2 7 9-1 1M2861 1173l4-1-4 1M2830 1177l4 1-1-2M2847 1172l6 1-3-2M2864 1167l25 4 8-3 9 3 8 9 5 1-1-3 4-3 6 0 14 7 15 1-2 2-11 2 6 4 36 4"/><path class="N" d="M2841 1398l-35-12-8 0M3164 1293l3 5M2775 1374l-2-1M2604 1280l-1-1M2940 1170l0 2 3-1M2585 1270l1-2-12-7 3-7M2897 1157l5-1 7 3 5 4 13 0"/></g>
<g class="sf"><path class="N" d="M2907 890l10 39-8-60-9 30z"/><path class="J" d="M2897 962l10-72-7 9-10 40z"/><path class="F" d="M2888 1005l9-43-7-23-9-21z"/><path class="z" d="M2878 1034l10-29-7-87-10 95z"/><path class="u" d="M2869 1061l9-27-7-21-10 10z"/><path class="x" d="M2849 1070l10-59-7-28-10 26z"/><path class="t" d="M2840 1046l9 24-7-61-9 45z"/><path class="r" d="M2830 1094l10-48-7 8-10 3z"/><path class="s" d="M2821 1062l9 32-7-37-10-42z"/><path class="t" d="M2811 1075l10-13-8-47-9 71z"/><path class="r" d="M2792 1115l10-64-8 19-9-9z"/><path class="p" d="M2782 1082l10 33-7-54-10 49z"/><path class="s" d="M2763 1079l10 6-8-29-9 38z"/><path class="r" d="M2744 1140l10-72-8 33-9-39z"/><path class="q" d="M2734 1087l10 53-7-78-10 57z"/><path class="s" d="M2696 1143l10-59-8-32-9 71z"/><path class="u" d="M2677 1124l9-52-7-20-9 66z"/><path class="w" d="M2658 1083l9-2-7-26-10 63z"/><path class="B" d="M2600 1068l10 3-8 14-9-29z"/><path class="J" d="M2581 978l9 81-7-32-9 3z"/><path class="P" d="M2571 974l10 4-7 52-10-78z"/><path class="I" d="M2914 978l10-44-7-5-10-39z"/><path class="F" d="M2905 977l9 1-7-88-10 72z"/><path class="x" d="M2886 1053l9-99-7 51-10 29z"/><path class="t" d="M2866 1082l10-57-7 36-10-50z"/><path class="q" d="M2857 1105l9-23-7-71-10 59z"/><path class="q" d="M2838 1125l9-90-7 11-10 48z"/><path class="q" d="M2818 1116l10-47-7-7-10 13z"/><path class="p" d="M2809 1125l9-9-7-41-9-24z"/><path class="o" d="M2799 1094l10 31-7-74-10 64z"/><path class="p" d="M2770 1083l10 62 10-57-8-6-9 3-10-6z"/><path class="q" d="M2761 1156l9-73-7-4-9-11z"/><path class="m" d="M2751 1156l10 0-7-88-10 72z"/><path class="r" d="M2713 1151l9-44 10 15 10-32-8-3-9 14-10-27-9 10z"/><path class="n" d="M2703 1157l10-6-7-67-10 59z"/><path class="o" d="M2694 1160l9-3-7-14-10-71z"/><path class="r" d="M2675 1160l9-54 10 54-8-88-9 52-10-43z"/><path class="q" d="M2665 1171l10-11-8-79-9 2z"/><path class="B" d="M2598 1053l9 64-7-49-10-9z"/><path class="J" d="M2588 1019l10 34-8 6-9-81z"/><path class="P" d="M2579 984l9 35-7-41-10-4z"/><path class="E" d="M2922 994l9-57-7-3-10 44z"/><path class="C" d="M2902 1024l10-46-7-1-10-23z"/><path class="x" d="M2893 1026l9-2-7-70-9 99z"/><path class="u" d="M2874 1032l9 10-7-17-10 57z"/><path class="o" d="M2854 1088l10 26 10-82-8 50-9 23-10-70z"/><path class="p" d="M2845 1089l9-1-7-53-9 90z"/><path class="n" d="M2835 1132l10-43-7 36-10-56z"/><path class="l" d="M2826 1142l9-10-7-63-10 47z"/><path class="o" d="M2787 1108l10-3 10 19-8-30-9-6-10 57z"/><path class="m" d="M2778 1167l9-59-7 37-10-62z"/><path class="k" d="M2768 1161l10 6-8-84-9 73z"/><path class="k" d="M2749 1162l10 14-8-20-9-66z"/><path class="m" d="M2730 1141l9 35 10-14-7-72-10 32-10-15z"/><path class="o" d="M2720 1114l10 27-8-34-9 44z"/><path class="y" d="M2624 1096l10 2 9 12-7-30-9-14-10 44z"/><path class="B" d="M2605 1039l10 78-8 0-9-64z"/><path class="I" d="M2595 1039l10 0-7 14-10-34z"/><path class="M" d="M2586 996l9 43-7-20-9-35z"/><path class="B" d="M2910 998l9-22-7 2-10 46z"/><path class="w" d="M2900 1070l10-72-8 26-9 2z"/><path class="u" d="M2881 1074l10-28 9 24-7-44-10 16-9-10z"/><path class="q" d="M2871 1087l10-13-7-42-10 82z"/><path class="m" d="M2862 1145l9-58-7 27-10-26z"/><path class="l" d="M2852 1128l10 17-8-57-9 1z"/><path class="m" d="M2843 1092l9 36-7-39-10 43z"/><path class="m" d="M2814 1152l9-18-7-52-9 42z"/><path class="n" d="M2795 1160l9-67-7 12-10 3z"/><path class="k" d="M2785 1144l10 16-8-52-9 59z"/><path class="o" d="M2727 1142l10-3-7 2-10-27z"/><path class="p" d="M2718 1144l9-2-7-28-9 7z"/><path class="o" d="M2708 1149l10-5-7-23-10 30z"/><path class="z" d="M2612 1105l10 22-7-10-10-78z"/><path class="F" d="M2603 1044l9 61-7-66-10 0z"/><path class="L" d="M2593 1016l10 28-8-5-9-43z"/><path class="K" d="M2936 946l10-31-7-4-10 27z"/><path class="F" d="M2927 1019l9-73-7-8-10 38z"/><path class="y" d="M2917 1076l10-57-8-43-9 22z"/><path class="u" d="M2907 1027l10 49-7-78-10 72z"/><path class="t" d="M2888 1055l10-4-7-5-10 28z"/><path class="r" d="M2879 1089l9-34-7 19-10 13z"/><path class="l" d="M2869 1150l10-61-8-2-9 58z"/><path class="l" d="M2850 1156l9-33-7 5-9-36z"/><path class="k" d="M2840 1159l10-3-7-64-10 15z"/><path class="l" d="M2831 1113l9 46-7-52-10 27z"/><path class="k" d="M2821 1151l10-38-8 21-9 18z"/><path class="l" d="M2812 1142l9 9-7 1-10-59z"/><path class="m" d="M2802 1136l10 6-8-49-9 67z"/><path class="i" d="M2792 1187l10-51-7 24-10-16z"/><path class="j" d="M2783 1199l9-12-7-43-10-39z"/><path class="l" d="M2773 1132l10 67-8-94-9 54z"/><path class="j" d="M2754 1194l10 2-8-69-9 11z"/><path class="q" d="M2648 1144l10 40-7-18-10-64z"/><path class="u" d="M2629 1136l10-36-7 62-10-35z"/><path class="x" d="M2620 1072l9 64-7-9-10-22z"/><path class="E" d="M2610 1046l10 26-8 33-9-61z"/><path class="I" d="M2600 1074l10-28-7-2-10-28z"/><path class="G" d="M2944 1013l9-51-7-47-10 31z"/><path class="z" d="M2934 1055l10-42-8-67-9 73z"/><path class="v" d="M2924 1018l10 37-7-36-10 57z"/><path class="u" d="M2905 1091l10-63-8-1-9 24z"/><path class="r" d="M2896 1098l9-7-7-40-10 4z"/><path class="q" d="M2886 1098l10 0-8-43-9 34z"/><path class="l" d="M2876 1140l10-42-7-9-10 61z"/><path class="h" d="M2857 1180l10-36-8-21-9 33z"/><path class="k" d="M2828 1173l10-45-7-15-10 38z"/><path class="i" d="M2800 1159l9 21 10 11-7-49-10-6-10 51z"/><path class="i" d="M2780 1208l10-69-7 60-10-67z"/><path class="g" d="M2771 1195l9 13-7-76-9 64z"/><path class="n" d="M2656 1168l9 35-7-19-10-40z"/><path class="u" d="M2646 1121l10 47-8-24-9-44z"/><path class="w" d="M2627 1117l10 44-8-25-9-64z"/><path class="C" d="M2617 1112l10 5-7-45-10-26z"/><path class="E" d="M2608 1079l9 33-7-66-10 28z"/><path class="B" d="M2951 1022l9-31-7-29-9 51z"/><path class="v" d="M2941 1067l10-45-7-9-10 42z"/><path class="t" d="M2932 1084l9-17-7-12-10-37z"/><path class="s" d="M2922 1122l10-38-8-66-9 10z"/><path class="q" d="M2912 1089l10 33-7-94-10 63z"/><path class="o" d="M2903 1113l9-24-7 2-9 7z"/><path class="l" d="M2893 1164l10-51-7-15-10 0z"/><path class="i" d="M2884 1177l9-13-7-66-10 42z"/><path class="i" d="M2788 1204l9-61-7-4-10 69z"/><path class="m" d="M2663 1150l10 64-8-11-9-35z"/><path class="w" d="M2634 1108l10 14-7 39-10-44z"/><path class="z" d="M2625 1093l9 15-7 9-10-5z"/><path class="D" d="M2615 1055l10 38-8 19-9-33z"/><path class="x" d="M2949 1069l9-100-7 53-10 45z"/><path class="p" d="M2929 1112l10-70-7 42-10 38z"/><path class="o" d="M2910 1144l10-69-8 14-9 24z"/><path class="j" d="M2901 1131l9 13-7-31-10 51z"/><path class="k" d="M2872 1175l9-42-7-32-10 62z"/><path class="g" d="M2862 1199l10-24-8-12-9-12z"/><path class="i" d="M2853 1178l9 21-7-48-10-31z"/><path class="l" d="M2843 1159l10 19-8-58-9 1z"/><path class="j" d="M2805 1195l9-20-7-9-10-23z"/><path class="h" d="M2795 1203l10-8-8-52-9 61z"/><path class="m" d="M2680 1191l10-35-8 37-9 21z"/><path class="o" d="M2670 1153l10 38-7 23-10-64z"/><path class="F" d="M2622 1039l10 89-7-35-10-38z"/><path class="D" d="M2965 1047l10-40-7-60-10 22z"/><path class="w" d="M2956 1075l9-28-7-78-9 100z"/><path class="s" d="M2937 1109l9-68-7 1-10 70z"/><path class="n" d="M2917 1084l10 58 10-33-8 3-9-37-10 69z"/><path class="k" d="M2889 1150l9 21 10-42-7 2-10-12-10 14z"/><path class="j" d="M2879 1155l10-5-8-17-9 42z"/><path class="e" d="M2869 1209l10-54-7 20-10 24z"/><path class="j" d="M2716 1167l10 62-8-15-9-8z"/><path class="v" d="M2649 1126l9 35-7-28-9 25z"/><path class="w" d="M2639 1138l10-12-7 32-10-30z"/><path class="C" d="M2630 1112l9 26-7-10-10-89z"/><path class="u" d="M2954 1120l9-103-7 58-10-34z"/><path class="r" d="M2944 1083l10 37-8-79-9 68z"/><path class="m" d="M2934 1156l10-73-7 26-10 33z"/><path class="p" d="M2915 1103l10 8-8-27-9 45z"/><path class="k" d="M2906 1167l9-64-7 26-10 42z"/><path class="h" d="M2896 1182l10-15-8 4-9-21z"/><path class="i" d="M2886 1159l10 23-7-32-10 5z"/><path class="f" d="M2877 1218l9-59-7-4-10 54z"/><path class="j" d="M2848 1222l10-64-8-13-9-4z"/><path class="k" d="M2695 1171l9 59-7 3-10-32z"/><path class="n" d="M2685 1195l10-24-8 30-9 0z"/><path class="q" d="M2675 1153l10 42-7 6-10-61z"/><path class="x" d="M2647 1119l9 52-7-45-10 12z"/><path class="C" d="M2637 1058l10 61-8 19-9-26z"/><path class="G" d="M2980 983l10-25-8 14-9 39z"/><path class="A" d="M2970 1084l10-101-7 28-10 6z"/><path class="u" d="M2961 1048l9 36-7-67-9 103z"/><path class="r" d="M2951 1112l10-64-7 72-10-37z"/><path class="m" d="M2942 1154l9-42-7-29-10 73z"/><path class="n" d="M2922 1149l10-26-7-12-10-8z"/><path class="l" d="M2913 1133l9 16-7-46-9 64z"/><path class="f" d="M2884 1206l10-24-8-23-9 59z"/><path class="k" d="M2702 1209l9 25-7-4-9-59z"/><path class="p" d="M2683 1182l9 20-7-7-10-42z"/><path class="s" d="M2663 1148l10 44-7-17-10-4z"/><path class="y" d="M2654 1087l9 61-7 23-9-52z"/><path class="G" d="M2644 1066l10 21-7 32-10-61z"/><path class="E" d="M2987 1048l10-34-7-56-10 25z"/><path class="y" d="M2978 1060l9-12-7-65-10 101z"/><path class="t" d="M2968 1104l10-44-8 24-9-36z"/><path class="r" d="M2959 1113l9-9-7-56-10 64z"/><path class="m" d="M2939 1166l10-77-7 65-10-31z"/><path class="k" d="M2930 1158l9 8-7-43-10 26z"/><path class="l" d="M2911 1182l9-42-7-7-10-5z"/><path class="h" d="M2901 1204l10-22-8-54-9 54z"/><path class="i" d="M2872 1188l10-25-8 19-9-7z"/><path class="e" d="M2738 1239l9-2-7 23-9-15z"/><path class="j" d="M2728 1183l10 56-7 6-10-53z"/><path class="m" d="M2719 1191l9-8-7 9-10 42z"/><path class="j" d="M2709 1240l10-49-8 43-9-25z"/><path class="l" d="M2700 1194l9 46-7-31-10-7z"/><path class="p" d="M2680 1171l10 36-7-25-10 10z"/><path class="s" d="M2671 1180l9-9-7 21-10-44z"/><path class="z" d="M2661 1102l10 78-8-32-9-61z"/><path class="F" d="M2652 1106l9-4-7-15-10-21z"/><path class="z" d="M2995 1056l9-27-7-15-10 34z"/><path class="t" d="M2975 1106l10-65-7 19-10 44z"/><path class="p" d="M2966 1117l9-11-7-2-9 9z"/><path class="n" d="M2947 1181l9-89-7-3-10 77z"/><path class="l" d="M2927 1170l10-38-7 26-10-18z"/><path class="i" d="M2918 1181l9-11-7-30-9 42z"/><path class="i" d="M2889 1210l10-32-8-12-9-3z"/><path class="g" d="M2879 1223l10-13-7-47-10 25z"/><path class="k" d="M2716 1191l10 57-7-57-10 49z"/><path class="m" d="M2707 1198l9-7-7 49-9-46z"/><path class="p" d="M2688 1188l9 18-7 1-10-36z"/><path class="t" d="M2678 1146l10 42-8-17-9 9z"/><path class="y" d="M2668 1126l10 20-7 34-10-78z"/><path class="F" d="M2659 1063l9 63-7-24-9 4z"/><path class="y" d="M3002 1069l9-44-7 4-9 27z"/><path class="v" d="M2992 1111l10-42-7-13-10-15z"/><path class="r" d="M2983 1135l9-24-7-70-10 65z"/><path class="n" d="M2973 1141l10-6-8-29-9 11z"/><path class="n" d="M2954 1149l10-36-8-21-9 89z"/><path class="i" d="M2944 1201l10-52-7 32-10-49z"/><path class="j" d="M2935 1161l9 40-7-69-10 38z"/><path class="l" d="M2906 1155l10 4-8-7-9 26z"/><path class="h" d="M2896 1207l10-52-7 23-10 32z"/><path class="i" d="M2733 1194l10 62-7-25-10 17z"/><path class="l" d="M2724 1220l9-26-7 54-10-57z"/><path class="r" d="M2705 1151l9 28-7 19-10 8z"/><path class="t" d="M2695 1146l10 5-8 55-9-18z"/><path class="x" d="M2685 1110l10 36-7 42-10-42z"/><path class="D" d="M2666 1107l10 61-8-42-9-63z"/><path class="A" d="M3009 1030l10-12-8 7-9 44z"/><path class="q" d="M2990 1139l10-86-8 58-9 24z"/><path class="o" d="M2961 1132l10-9-7-10-10 36z"/><path class="h" d="M2942 1221l10-82-8 62-9-40z"/><path class="k" d="M2923 1180l9-31-7 33-9-23z"/><path class="j" d="M2913 1218l10-38-7-21-10-4z"/><path class="f" d="M2894 1229l10 11 9-22-7-63-10 52-9-48z"/><path class="h" d="M2884 1213l10 16-7-70-10 48z"/><path class="B" d="M2673 1104l10 54-7 10-10-61z"/><path class="C" d="M3016 1046l10-30-7 2-10 12z"/><path class="y" d="M3007 1110l9-64-7-16-9 23z"/><path class="s" d="M2997 1087l10 23-7-57-10 86z"/><path class="p" d="M2969 1139l9-29-7 13-10 9z"/><path class="m" d="M2959 1189l10-50-8-7-9 7z"/><path class="h" d="M2949 1206l10-17-7-50-10 82z"/><path class="g" d="M2940 1206l9 0-7 15-10-72z"/><path class="k" d="M2930 1163l10 43-8-57-9 31z"/><path class="i" d="M2921 1202l9-39-7 17-10 38z"/><path class="h" d="M2882 1229l10-22-8 6-9-39z"/><path class="k" d="M2873 1193l9 36-7-55-10-1z"/><path class="m" d="M2729 1213l9 33-7-21-10-36z"/><path class="x" d="M2700 1128l10 71-8-35-9-17z"/><path class="B" d="M2690 1108l10 20-7 19-10 11z"/><path class="E" d="M2681 1084l9 24-7 50-10-54z"/><path class="E" d="M3024 1032l9-44-7 28-10 30z"/><path class="x" d="M3014 1073l10-41-8 14-9 64z"/><path class="t" d="M3005 1106l9-33-7 37-10-23z"/><path class="r" d="M2995 1133l10-27-8-19-9 41z"/><path class="o" d="M2976 1138l9 36 10-41-7-5-10-18-9 29z"/><path class="l" d="M2966 1191l10-53-7 1-10 50z"/><path class="g" d="M2937 1231l10-30-7 5-10-43z"/><path class="h" d="M2928 1198l9 33-7-68-9 39z"/><path class="i" d="M2909 1229l9-23 10-8-7 4-10-29-10 18z"/><path class="g" d="M2899 1243l10-14-8-38-9 16z"/><path class="f" d="M2889 1207l10 36-7-36-10 22z"/><path class="i" d="M2784 1202l10 40-8-8-9 45z"/><path class="k" d="M2736 1229l10 40-8-23-9-33z"/><path class="w" d="M2707 1138l10 59-7 2-10-71z"/><path class="G" d="M2688 1101l10 37-8-30-9-24z"/><path class="E" d="M3031 1023l10 26-8-61-9 44z"/><path class="y" d="M3021 1125l10-102-7 9-10 41z"/><path class="s" d="M3012 1126l9-1-7-52-9 33z"/><path class="p" d="M3002 1153l10-27-7-20-10 27z"/><path class="n" d="M2974 1142l9 7-7-11-10 53z"/><path class="l" d="M2954 1172l10-4-7-27-10 60z"/><path class="g" d="M2897 1247l9-50-7 46-10-36z"/><path class="f" d="M2887 1251l10-4-8-40-9 14z"/><path class="h" d="M2772 1256l10-1-8 28-9-53z"/><path class="i" d="M2753 1248l9 0-7 6-9 15z"/><path class="j" d="M2743 1257l10-9-7 21-10-40z"/><path class="n" d="M2734 1176l9 81-7-28-10 8z"/><path class="s" d="M2724 1163l10 13-8 61-9-40z"/><path class="x" d="M2715 1166l9-3-7 34-10-59z"/><path class="D" d="M2695 1104l10 66-7-32-10-37z"/><path class="A" d="M3038 1090l10-29-7-12-10-26z"/><path class="v" d="M3029 1120l9-30-7-67-10 102z"/><path class="p" d="M3000 1178l10-74-8 49-9-37z"/><path class="n" d="M2990 1165l10 13-7-62-10 33z"/><path class="m" d="M2981 1191l9-26-7-16-9-7z"/><path class="j" d="M2962 1175l9 56 10-40-7-49-10 26-10 4z"/><path class="i" d="M2952 1236l10-61-8-3-9 41z"/><path class="h" d="M2904 1233l10-39-8 3-9 50z"/><path class="k" d="M2875 1209l10 15-7-22-10-5z"/><path class="m" d="M2751 1194l9 51-7 3-10 9z"/><path class="r" d="M2741 1193l10 1-8 63-9-81z"/><path class="D" d="M2703 1098l9 79-7-7-10-66z"/><path class="x" d="M3046 1104l9-62-7 19-10 29z"/><path class="t" d="M3026 1142l10-77-7 55-10-21z"/><path class="s" d="M3017 1127l9 15-7-43-9 5z"/><path class="n" d="M3007 1198l10-71-7-23-10 74z"/><path class="g" d="M2959 1252l10-63-7-14-10 61z"/><path class="i" d="M2940 1266l10-76-8 18-9-33z"/><path class="g" d="M2931 1190l9 76-7-91-10 91z"/><path class="i" d="M2911 1228l10-25-7-9-10 39z"/><path class="f" d="M2796 1280l10-20-7 33-10-31z"/><path class="h" d="M2787 1228l9 52-7-18-10 8z"/><path class="i" d="M2777 1254l10-26-8 42-9 6z"/><path class="C" d="M2710 1145l10 22-8 10-9-79z"/><path class="A" d="M3053 1071l10-42-8 13-9 62z"/><path class="w" d="M3034 1106l9-40-7-1-10 77z"/><path class="n" d="M3015 1186l9-73-7 14-10 71z"/><path class="m" d="M2995 1195l10-27-7-5-10-16z"/><path class="k" d="M2986 1218l9-23-7-48-9 42z"/><path class="g" d="M2947 1192l10 62-7-64-10 76z"/><path class="k" d="M2928 1215l10-6-7-19-10 13z"/><path class="h" d="M2919 1267l9-52-7-12-10 25z"/><path class="i" d="M2890 1265l9-63-7 20-9-5z"/><path class="d" d="M2842 1259l10 23-8 13-9-11z"/><path class="h" d="M2794 1268l10 27-8-15-9-52z"/><path class="i" d="M2775 1244l9 30-7-20-10 25z"/><path class="j" d="M2765 1241l10 3-8 35-9-9z"/><path class="k" d="M2756 1263l9-22-7 29-10-22z"/><path class="B" d="M2717 1127l10 61-7-21-10-22z"/><path class="D" d="M3060 1081l10-83-7 31-10 42z"/><path class="x" d="M3051 1120l9-39-7-10-10-5z"/><path class="t" d="M3041 1162l10-42-8-54-9 40z"/><path class="q" d="M3031 1182l10-20-7-56-10 7z"/><path class="l" d="M3022 1210l9-28-7-69-9 73z"/><path class="k" d="M3003 1232l9-73-7 9-10 27z"/><path class="k" d="M2974 1248l10-71-8 1-9 13z"/><path class="e" d="M2964 1263l10-15-7-57-10 63z"/><path class="k" d="M2945 1220l10-25-8-3-9 17z"/><path class="j" d="M2936 1219l9 1-7-11-10 6z"/><path class="h" d="M2897 1261l10-37-8-22-9 63z"/><path class="i" d="M2801 1251l10-2-7 46-10-27z"/><path class="j" d="M2792 1253l9-2-7 17-10 6z"/><path class="m" d="M2782 1207l10 46-8 21-9-30z"/><path class="p" d="M2772 1196l10 11-7 37-10-3z"/><path class="m" d="M2753 1223l10 45-7-5-10-16z"/><path class="s" d="M2744 1176l9 47-7 24-10-45z"/><path class="w" d="M2734 1192l10-16-8 26-9-14z"/><path class="B" d="M2725 1137l9 55-7-4-10-61z"/><path class="G" d="M3068 1036l9-30-7-8-10 83z"/><path class="k" d="M3020 1203l9-19-7 26-10-51z"/><path class="i" d="M3010 1239l10-36-8-44-9 73z"/><path class="l" d="M2991 1218l9-7-7-42-9 8z"/><path class="h" d="M2981 1234l10-16-7-41-10 71z"/><path class="i" d="M2952 1280l10-79-7-6-10 25z"/><path class="j" d="M2933 1246l10-41-7 14-10-11z"/><path class="g" d="M2924 1248l9-2-7-38-10 55z"/><path class="i" d="M2904 1267l10-58-7 15-10 37z"/><path class="r" d="M2761 1170l9 52-7 46-10-45z"/><path class="v" d="M2751 1211l10-41-8 53-9-47z"/><path class="D" d="M2732 1095l9 93-7 4-9-55z"/><path class="F" d="M3075 1113l9-112-7 5-9 30z"/><path class="x" d="M3065 1144l10-31-7-77-10 62z"/><path class="s" d="M3056 1177l9-33-7-46-10-3z"/><path class="r" d="M3046 1186l10-9-8-82-9 18z"/><path class="m" d="M3036 1212l10-26-7-73-10 71z"/><path class="i" d="M2998 1244l10-58-8 25-9 7z"/><path class="f" d="M2969 1273l10-31-7 20-10-61z"/><path class="e" d="M2960 1253l9 20-7-72-10 79z"/><path class="g" d="M2941 1281l9-37-7-39-10 41z"/><path class="k" d="M2912 1214l9 14-7-19-10 58z"/><path class="j" d="M2797 1266l9 19-7-5-10-25z"/><path class="m" d="M2787 1233l10 33-8-11-9-1z"/><path class="p" d="M2777 1240l10-7-7 21-10-32z"/><path class="x" d="M2749 1135l9 93-7-17-10-23z"/><path class="H" d="M2739 1094l10 41-8 53-9-93z"/><path class="C" d="M3082 1105l10-67-8-37-9 112z"/><path class="q" d="M3063 1163l10-57-8 38-9 33z"/><path class="j" d="M3005 1234l10-54-7 6-10 58z"/><path class="l" d="M2909 1225l10-6-7-5-10 46z"/><path class="g" d="M2852 1262l10 47-8-30-9-24z"/><path class="l" d="M2804 1216l10 69-8 0-9-19z"/><path class="q" d="M2794 1209l10 7-7 50-10-33z"/><path class="s" d="M2775 1211l10-3-8 32-9 0z"/><path class="t" d="M2766 1209l9 2-7 29-10-12z"/><path class="y" d="M2756 1193l10 16-8 19-9-93z"/><path class="H" d="M2746 1104l10 89-7-58-10-41z"/><path class="C" d="M3089 1117l10-104-7 25-10 67z"/><path class="u" d="M3070 1151l10-79-7 34-10 57z"/><path class="p" d="M3061 1175l9-24-7 12-10 8z"/><path class="n" d="M3022 1223l10-50-7 4-10 3z"/><path class="i" d="M3013 1249l9-26-7-43-10 54z"/><path class="j" d="M2984 1262l10-62-8 26-9-26z"/><path class="i" d="M2974 1228l10 34-7-62-10 48z"/><path class="h" d="M2936 1248l10 8-8-39-9 79z"/><path class="k" d="M2907 1238l10 39-8-52-9 1z"/><path class="l" d="M2898 1252l9-14-7-12-10 5z"/><path class="f" d="M2859 1297l10-17-7 29-10-47z"/><path class="i" d="M2821 1231l9 71-7-4-9-13z"/><path class="n" d="M2811 1266l10-35-7 54-10-69z"/><path class="x" d="M2763 1174l10 44-7-9-10-16z"/><path class="E" d="M2754 1151l9 23-7 19-10-89z"/><path class="D" d="M3097 1082l9-24-7-45-10 104z"/><path class="x" d="M3087 1147l10-65-8 35-9-45z"/><path class="t" d="M3078 1166l9-19-7-75-10 79z"/><path class="o" d="M3068 1186l10-20-8-15-9 24z"/><path class="p" d="M3039 1182l10-2-8-12-9 5z"/><path class="m" d="M3030 1199l9-17-7-9-10 50z"/><path class="h" d="M2962 1234l10 52-7-29-10-23z"/><path class="h" d="M2857 1259l10 55-8-17-9-32z"/><path class="m" d="M2828 1231l10 46-8 25-9-71z"/><path class="o" d="M2799 1224l10 58-7-11-10-31z"/><path class="t" d="M2780 1171l10 94-8-1-9-46z"/><path class="y" d="M2771 1212l9-41-7 47-10-44z"/><path class="E" d="M2761 1114l10 98-8-38-9-23z"/><path class="C" d="M3104 1084l10 6-8-32-9 24z"/><path class="q" d="M3066 1209l9-82-7 59-10-45z"/><path class="n" d="M3056 1233l10-24-8-68-9 39z"/><path class="l" d="M3037 1247l9-34 10 20-7-53-10 2-9 17z"/><path class="i" d="M2979 1252l10-32-7-1-10 67z"/><path class="h" d="M2970 1257l9-5-7 34-10-52z"/><path class="f" d="M2941 1246l10 51-8-37-9 45z"/><path class="i" d="M2931 1235l10 11-7 59-10-60z"/><path class="j" d="M2864 1277l10-31-7 68-10-55z"/><path class="m" d="M2835 1228l10 88-7-39-10-46z"/><path class="k" d="M2816 1257l10 51-7-31-10 5z"/><path class="r" d="M2807 1202l9 55-7 25-10-58z"/><path class="u" d="M2797 1200l10 2-8 22-9 41z"/><path class="v" d="M2787 1226l10-26-7 65-10-94z"/><path class="D" d="M2768 1140l10 68-7 4-10-98z"/><path class="A" d="M3102 1157l9-110-7 37-10-1z"/><path class="t" d="M3092 1183l10-26-8-74-9 77z"/><path class="q" d="M3083 1195l9-12-7-23-10-33z"/><path class="o" d="M3073 1214l10-19-8-68-9 82z"/><path class="h" d="M2996 1247l10 39-7-17-10-49z"/><path class="h" d="M2967 1235l10 53-7-31-10 20z"/><path class="h" d="M2948 1230l10 61-7 6-10-51z"/><path class="j" d="M2852 1292l10-47-7 44-10 27z"/><path class="m" d="M2843 1239l9 53-7 24-10-88z"/><path class="l" d="M2824 1266l9 11-7 31-10-51z"/><path class="s" d="M2814 1220l10 46-8-9-9-55z"/><path class="z" d="M2785 1131l10 104-8-9-9-18z"/><path class="F" d="M2776 1156l9-25-7 77-10-68z"/><path class="B" d="M3109 1111l10-61-8-3-9 110z"/><path class="l" d="M3023 1217l9 14-7 17-10-45z"/><path class="h" d="M3004 1235l9 26-7 25-10-39z"/><path class="j" d="M2984 1225l10 62 10-52-8 12-9-35-10 76z"/><path class="l" d="M2975 1223l9 2-7 63-10-53z"/><path class="j" d="M2956 1233l9 35-7 23-10-61z"/><path class="g" d="M2936 1258l10 30-7-2-10 15z"/><path class="h" d="M2927 1271l9-13-7 43-10-19z"/><path class="i" d="M2898 1250l10 20-8 31-9 18z"/><path class="h" d="M2888 1311l10-61-7 69-10-23z"/><path class="j" d="M2879 1255l9 56-7-15-9-28z"/><path class="o" d="M2850 1243l10 21-8 28-9-53z"/><path class="q" d="M2821 1244l10 44-7-22-10-46z"/><path class="t" d="M2812 1225l9 19-7-24-10 42z"/><path class="w" d="M2802 1165l10 60-8 37-9-27z"/><path class="C" d="M2792 1209l10-44-7 70-10-104z"/><path class="G" d="M2783 1132l9 77-7-78-9 25z"/><path class="F" d="M3126 1100l10-31-8-29-9 10z"/><path class="A" d="M3116 1141l10-41-7-50-10 61z"/><path class="y" d="M3107 1117l9 24-7-30-10 9z"/><path class="u" d="M3097 1150l10-33-8 3-9 85z"/><path class="m" d="M3068 1248l10-96-7 40-10 57z"/><path class="l" d="M3059 1209l9 39-7 1-10-64z"/><path class="k" d="M2992 1237l9-7 10 2-7 3-10 52-10-62z"/><path class="m" d="M2982 1274l10-37-8-12-9-2z"/><path class="m" d="M2963 1222l9 27-7 19-9-35z"/><path class="j" d="M2934 1248l10 58-8-48-9 13z"/><path class="k" d="M2915 1261l9 3 10-16-7 23-10 22-9-23z"/><path class="l" d="M2886 1277l10-37 9 47-7-37-10 61-9-56z"/><path class="k" d="M2867 1277l10 19-8 5-9-37z"/><path class="q" d="M2829 1208l9 77-7 3-10-44z"/><path class="x" d="M2819 1182l10 26-8 36-9-19z"/><path class="F" d="M2790 1150l10 31-8 28-9-77z"/><path class="D" d="M3133 1108l10-39-7 0-10 31z"/><path class="w" d="M3104 1154l10-2-7-35-10 33z"/><path class="u" d="M3095 1174l9-20-7-4-9 2z"/><path class="s" d="M3085 1218l10-44-7-22-10 0z"/><path class="n" d="M3076 1210l9 8-7-66-10 96z"/><path class="l" d="M3066 1225l10-15-8 38-9-39z"/><path class="m" d="M3047 1212l9 47-7-27-9-40z"/><path class="k" d="M3018 1275l10-74-8 72-9-41z"/><path class="k" d="M2980 1221l9 72-7-19-10-25z"/><path class="m" d="M2951 1239l10-11-8 14-9 64z"/><path class="l" d="M2941 1269l10-30-7 67-10-58z"/><path class="o" d="M2884 1233l9-3-7 47-9 19z"/><path class="n" d="M2874 1261l10-28-7 63-10-19z"/><path class="m" d="M2855 1289l10-10 9-18-7 16-10 15-9-20z"/><path class="o" d="M2845 1253l10 36-7-17-10 13z"/><path class="t" d="M2836 1215l9 38-7 32-9-77z"/><path class="z" d="M2807 1197l10 38-8-12-9-42z"/><path class="F" d="M2797 1172l10 25-7-16-10-31z"/><path class="E" d="M3141 1115l9-67-7 21-10 39z"/><path class="A" d="M3131 1143l10-28-8-7-9-20z"/><path class="z" d="M3121 1102l10 41-7-55-10 64z"/><path class="o" d="M3083 1192l10 22-8 4-9-8z"/><path class="p" d="M3073 1179l10 13-7 18-10 15z"/><path class="n" d="M3064 1200l9-21-7 46-10 34z"/><path class="m" d="M3045 1196l9 55 10-51-8 59-9-47-10 62z"/><path class="o" d="M3035 1212l10-16-8 78-9-73z"/><path class="j" d="M3016 1265l9-25-7 35-9-11z"/><path class="l" d="M3006 1206l10 59-7-1-10 4z"/><path class="m" d="M2987 1277l10-65 9-6-7 62-10 25-9-72z"/><path class="o" d="M2968 1212l9 59-7-24-9-19z"/><path class="o" d="M2920 1241l9-8-7 8-9 74z"/><path class="k" d="M2910 1296l10-55-7 74-10-19z"/><path class="n" d="M2901 1260l9 36-7 0-10-66z"/><path class="q" d="M2891 1290l10-30-8-30-9 3z"/><path class="o" d="M2862 1274l10-30 10 51-8-34-9 18-10 10z"/><path class="p" d="M2853 1273l9 1-7 15-10-36z"/><path class="v" d="M2843 1187l10 86-8-20-9-38z"/><path class="A" d="M2834 1180l9 7-7 28-10-2z"/><path class="B" d="M2824 1177l10 3-8 33-9 22z"/><path class="C" d="M2814 1156l10 21-7 58-10-38z"/><path class="G" d="M2805 1166l9-10-7 41-10-25z"/><path class="H" d="M3148 1071l9-40-7 17-9 67z"/><path class="A" d="M3119 1114l10-16 9 40-7 5-10-41-9 68z"/><path class="v" d="M3109 1141l10-27-7 56-10 40z"/><path class="s" d="M3100 1167l9-26-7 69-9 4z"/><path class="r" d="M3090 1194l10-27-7 47-10-22z"/><path class="r" d="M3071 1219l10-48-8 8-9 21z"/><path class="m" d="M3061 1251l10-32-7-19-10 51z"/><path class="n" d="M3052 1204l9 47-7 0-9-55z"/><path class="o" d="M3023 1204l10 4 9 46-7-42-19 53z"/><path class="p" d="M3004 1256l10-20 9-32-7 61-10-59-9 6z"/><path class="o" d="M2975 1206l10 77-8-12-9-59z"/><path class="t" d="M2966 1222l9-16-7 6-10 18z"/><path class="q" d="M2956 1235l10-13-8 8-9 26z"/><path class="o" d="M2946 1219l10 16-7 21-10 47z"/><path class="p" d="M2937 1231l9-12-7 84-10-70z"/><path class="p" d="M2908 1232l10 24-8 40-9-36z"/><path class="q" d="M2898 1233l10-1-7 28-10 30z"/><path class="o" d="M2889 1259l9-26-7 57-9 5z"/><path class="q" d="M2879 1257l10 2-7 36-10-51z"/><path class="q" d="M2860 1249l10 22-8 3-9-1z"/><path class="v" d="M2850 1233l10 16-7 24-10-86z"/><path class="G" d="M2822 1153l9 57-7-33-10-21z"/><path class="L" d="M2812 1097l10 56-8 3-9 10z"/><path class="K" d="M3155 1070l10-50-8 11-9 40z"/><path class="D" d="M3146 1116l9-46-7 1-10 67z"/><path class="C" d="M3136 1080l10 36-8 22-9-40z"/><path class="D" d="M3126 1134l10-54-7 18-10 16z"/><path class="A" d="M3117 1119l9 15-7-20-10 27z"/><path class="x" d="M3098 1136l9-10-7 41-10 27z"/><path class="p" d="M3069 1219l9-32-7 32-10 32z"/><path class="n" d="M3059 1247l10-28-8 32-9-47z"/><path class="o" d="M3050 1196l9 51-7-43-10 50z"/><path class="r" d="M3040 1176l10 20-8 58-9-46z"/><path class="q" d="M3011 1207l10 13-7 16-10 20z"/><path class="o" d="M2982 1242l10 33-7 8-10-77z"/><path class="s" d="M2954 1249l9-21 19 14-7-36-19 29-10-16z"/><path class="r" d="M2934 1225l10 27 10-3-8-30-9 12-10 30z"/><path class="q" d="M2925 1276l9-51-7 36-9-5z"/><path class="s" d="M2915 1212l10 64-7-20-10-24z"/><path class="u" d="M2906 1254l9-42-7 20-10 1z"/><path class="t" d="M2887 1242l9-18 10 30-8-21-9 26-10-2z"/><path class="s" d="M2877 1242l10 0-8 15-9 14z"/><path class="u" d="M2867 1207l10 35-7 29-10-22z"/><path class="x" d="M2858 1220l9-13-7 42-10-16z"/><path class="z" d="M2848 1194l10 26-8 13-9-19z"/><path class="C" d="M2839 1187l9 7-7 20-10-4z"/><path class="H" d="M2829 1134l10 53-8 23-9-57z"/><path class="O" d="M2819 1124l10 10-7 19-10-56z"/><path class="P" d="M3162 1009l10-30-7 41-10 50z"/><path class="I" d="M3153 1082l9-73-7 61-9 46z"/><path class="F" d="M3143 1098l10-16-7 34-10-36z"/><path class="D" d="M3134 1129l9-31-7-18-10 54z"/><path class="A" d="M3124 1137l10-8-8 5-9-15z"/><path class="z" d="M3114 1177l10-40-7-18-10 7z"/><path class="y" d="M3105 1166l9 11-7-51-9 10z"/><path class="w" d="M3095 1158l10 8-7-30-10 74z"/><path class="v" d="M3086 1159l9-1-7 52-10-23z"/><path class="u" d="M3076 1186l10-27-8 28-9 32z"/><path class="p" d="M3066 1226l10-40-7 33-10 28z"/><path class="s" d="M3057 1162l9 64-7 21-9-51z"/><path class="w" d="M3047 1198l10-36-7 34-10-20z"/><path class="u" d="M3038 1229l9-31-7-22-10 26z"/><path class="t" d="M3028 1169l10 60-8-27-9 18z"/><path class="v" d="M3019 1203l9-34-7 51-10-13z"/><path class="q" d="M3009 1256l10-53-8 4-9 57z"/><path class="p" d="M2999 1179l10 77-7 8-10 11z"/><path class="r" d="M2980 1248l10-23 9-46-7 96-10-33-9-7z"/><path class="t" d="M2961 1247l10-57 9 58-7-13-10-7-9 21z"/><path class="q" d="M2951 1269l10-22-7 2-10 3z"/><path class="r" d="M2942 1243l9 26-7-17-10-27z"/><path class="t" d="M2932 1207l10 36-8-18-9 51z"/><path class="v" d="M2913 1232l10-14 9-11-7 69-10-64-9 42z"/><path class="u" d="M2894 1262l9-12 10-18-7 22-10-30-9 18z"/><path class="v" d="M2884 1217l10 45-7-20-10 0z"/><path class="z" d="M2875 1203l9 14-7 25-10-35z"/><path class="C" d="M2865 1151l10 52-8 4-9 13z"/><path class="F" d="M2855 1156l10-5-7 69-10-26z"/><path class="G" d="M2846 1159l9-3-7 38-9-7z"/><path class="L" d="M2836 1102l10 57-7 28-10-53z"/><path class="P" d="M2827 1131l9-29-7 32-10-10z"/></g>
<path class="ax" d="M3172 1297l-345 105-263-144 0-295M2827 1402l10 6M2827 1402l-12 3M2914 1375l10 6M2760 1366l-11 3M3001 1349l11 6M2694 1329l-11 4M3088 1322l11 6M2628 1293l-12 3M2564 1258l-11 3M2564 1082l-11 3"/></g><text x="285" y="147.4">−1</text><text class="te" x="280.2" y="147.3">−1</text><text x="293.7" y="144.7">−0.5</text><text class="te" x="273.5" y="143.7">−0.5</text><text x="302.4" y="142.1">0</text><text class="te" x="266.9" y="140">0</text><text x="311.1" y="139.4">0.5</text><text class="te" x="260.3" y="136.4">0.5</text><text class="te" x="253.4" y="127.7">0</text><text class="te" x="253.4" y="110.1">2</text><text class="tm lb" x="314.1" y="155">x<tspan class="sub" dy="2.2">1</tspan></text><text class="tm lb" x="253.9" y="153.2">x<tspan class="sub" dy="2.2">2</tspan></text><text class="tm lb" transform="translate(241.1 111) rotate(-90)">F7( x<tspan class="sub" dy="2.2">1</tspan><tspan dy="-2.2"> , x</tspan><tspan class="sub" dy="2.2">2</tspan><tspan dy="-2.2"> )</tspan></text></g>
<g id="F8"><g transform="scale(.1)"><path class="gr" d="M575 2483l-239-150M336 2333l0-309M575 2483l314-112M889 2371l0-309M732 2427l-239-150M493 2277l0-309M455 2408l315-112M770 2296l0-309M889 2371l-239-150M650 2221l0-309M336 2333l314-112M650 2221l0-309M336 2333l314-112M650 2221l239 150M336 2249l314-112M650 2137l239 150M336 2165l314-112M650 2053l239 150M336 2081l314-112M650 1969l239 150"/>
<g class="ct" style="stroke-width:4.5"><path class="b" d="M647 2244l-7 0 0-5 9 1-2 4"/><path class="g" d="M816 2356l-9-3-2-4 4-3 9-1 8 2 3 3-5 5-8 1M698 2276l-4 0 0-3 5 1-1 2M655 2249l-8 1-17-3-3-4 1-5 13-4 11 0 6 3 4 3-2 6-5 3M417 2328l-9-2-2-5 5-3 8-1 8 2 2 4-4 4-8 1M577 2268l-4-1 0-2 6 0-2 3"/><path class="m" d="M629 2464l7-4 9-2M851 2385l9-8 17-2M600 2437l-7 2-11-1-6-2-2-4 1-4 5-3 15-1 8 2 3 4-1 4-5 3M822 2360l-17-1-6-3-3-4 2-7 5-3 7-2 11 1 12 3 4 3 0 4-2 5-13 4M754 2379l-8 1-7-3-1-4 3-2 7-2 9 2 3 4-6 4M649 2412l-7 0 3-3 3 1 1 2M522 2450l7 2 5 5M783 2329l-14 0-6-2-2-5 3-4 9-1 11 2 3 4 0 3-4 3M551 2406l-7-1 2-2 3 0 2 3M755 2312l-10-2-5-8 15 4 1 4-1 2M740 2302l-17-3-4-4 3-4 10 0 6 2 2 9M708 2282l-9 1-16-3-4-4 1-5 5-3 8-2 12 1 5 3 3 4-1 4-4 4M477 2359l-8 2-8-2-3-5 5-3 9-1 7 3 1 2-3 4M652 2253l-13 0-16-4-3-3 0-7 3-4 5-3 8-1 13 0 16 4 3 3 0 5-3 6-13 4M424 2332l-17-1-7-2-3-4 0-4 8-6 8-2 16 1 6 2 3 4-2 7-5 4-7 1M585 2273l-17 1-7-2-3-4 2-5 5-3 7-2 12 1 6 2 3 4-2 5-6 3M475 2309l-13-2-3-4 2-3 5-3 12 0 8 1 0 6-4 3-7 2M537 2286l-18 1 6-8 7-2 9 2 1 4-5 3M501 2294l-3 0 0-2 4-3 16-2-9 6-8 1M345 2339l16 4 3 4 1 4"/><path class="s" d="M571 2481l8 0M621 2467l5-8 5-2 23-2M684 2444l8-5 11-2M746 2422l12-4M783 2409l8-7 18-2M844 2387l6-10 5-3 7-1 21 0M598 2442l-14 0-15-4-3-4 1-6 2-4 5-4 8 0 29 3 3 4-4 10-4 4-8 1M827 2363l-20-1-15-4-2-3 1-15-1-4-20-2-15-5-7-11-7-2-14-9-12-5-4-4-4-8-31-8-3-3-1-5 2-7 4-4 8-1 25 3 6 3 2 4 2 8 4 4 15 4 13 9 11 6 6 7 21 7 4 3 1 4 1 8-2 2 32 4 12 4 4 3 0 9-3 5-5 3-8 1M651 2419l-15 0-7-2-1-5 3-5 5-3 26-2 3-4 20-7 10-6 7-2 18 1 1 5-3 4-6 3-15 3-11 5-16 3-5 3-7 7-7 2M752 2384l-25-2 0-5 3-7 4-3 7-2 17 1 8 2 3 3 0 5-3 4-6 3-8 1M515 2445l20 5 4 4 1 7M552 2413l-14-2-6-2-2-9-4-3-13-5-8-6-13-5-4-3 0-6 3-3 18 1 6 3 6 7 11 5 4 4 1 4 24 6 3 3 0 6-4 4-8 1M609 2387l-9 0-4-2 5-3 6 0 2 5M704 2354l-9-3-1-4 2-4 11-1 8 2 3 3 0 3-5 3-9 1M478 2422l9 3 5 6M685 2335l-7-2-3-3 9 1 1 4M666 2324l-11-1-2-4 1-3 9-1 6 3 1 2-4 4M435 2395l9 6M486 2365l-26-1-7-2-3-4-1-4 2-4 5-3 25 0 6 3 2 4 0 7-3 4M638 2306l-16 0-8-2-3-3 1-5 4-3 8-2 12 1 6 2 2 4-1 5-5 3M527 2341l-12-1-3-4 1-3 6-3 9 0 9 2 0 5-3 3-7 1M560 2325l-7 1 2-4 10 0-5 3M577 2318l-1-5 2-1 7-2 7 2 1 3-5 3-11 0M397 2371l16 5 4 8M429 2336l-20-1-16-4-3-3 0-5 5-9 6-2 13-2 33 0 0-3 5-6 9-7 24-4 10-6 31-11 17-2 6-2 6-9 12-5 25 1 7 2 2 4-2 7-3 5-6 2-34 4-7 7-6 3-41 11-14 10-16 2-21-1-10 19-5 3-7 2M673 2235l1 6-1 7-2 5-5 3-34 0-17-4-3-3 3-11 5-6M340 2336l21 2 6 3 3 3 0 10M630 2228l15 0 20 2"/><path class="y" d="M614 2469l7-13 5-3 39-2M671 2449l11-10 6-3 22-4 36-15 22-4 6-3 12-11 31-2M837 2390l7-17 1-5-67-5 1 5-5 11-3 4-6 3-33 4-14 10-41 11-14 10-35 3-5 3-7 14-4 3-23 1-21-2-6-2-2-4 0-15-3-3-26-5-5-3-5-8-4-3-32-16-4-4-5-8-30-8-3-3-1-5 1-11 4-4-67-5-2 5-2 17M567 2478l19 1M849 2346l-2 17-2 5 44 3M767 2363l11 0 4-4 1-11-1-5-3-3-30-8-5-8-4-4-32-16-4-3-5-8-5-3-26-5-3-3 0-15-2-4-16-3-26-2-8 2-4 3-7 14-5 3-35 3-14 10-41 11-14 10-33 4-6 3-3 4-5 11 1 5 55 3-2-4 4-7 3-4 5-3 25-3 10-6 13-4 11-6 25-3 5-3 9-13 7-1 18 1 16 3 2 4-1 10 4 3 22 7 6 7 12 5 6 7 22 7 3 3 1 5-1 7-4 4 44 3M602 2417l13-1 9-13 5-3 25-3 11-6 13-4 10-6 25-3 5-3 3-4 4-7-2-4-44-3 2 3-4 8-6 2-15 3-13 6-14 2-6 3-6 8-18 1-14-3-1-9-3-4-13-3-9-8-13-4-4-4 0-7 4-4-44-3-4 4-1 7 1 5 3 3 22 7 6 7 12 5 6 7 22 7 4 3-1 10 2 4 6 2 22 2M506 2440l37 8 3 3-1 13M616 2374l10-7 15-3 5-3 2-3-2-4-22-1-2 5-5 3-7 1-7-2-3-3 1-6-22-1-4 3 4 6 12 5 3 4 1 4 6 3 15-1M668 2356l11 1 4-4 0-7-4-4-13-4-8-7-14-4-3-4-1-9-14-3-18 1-6 8-6 3-14 2-13 6-15 3-6 2-4 8 2 3 33 3-2-4 7-6 15-3 8-7 17-1 6 3 1 4 3 4 12 5 4 3 0 3-4 3 22 2M612 2352l12 1 1-6-3-3-6-2-8 1-5 3-2 5 11 1M723 2267l5 11 4 3 20 7 25 19 19 8 5 3 5 12 6 3 22 4M391 2367l22 4 6 3 5 12 5 3 19 8 25 19 20 7 4 3 5 11M680 2240l-1 13 3 3 37 8M336 2333l44 3 1-5 7-17M408 2307l31-2 12-11 6-3 22-4 36-15 22-4 6-3 11-10M560 2253l39-2 5-3 7-13M639 2225l19 1"/><path class="D" d="M605 2472l5-6 3-11-3-3-17-4-34 0-5 3-2 5-1 7 1 6M658 2449l10-4 8-10 6-2 17-2 31-11 10-6 24-4 9-7 5-6 0-3 33 0 13-2 9-6 2-10-3-3-16-4-20-1-7 2-5 3-10 19-30-1-7 2-14 10-41 11-6 3-7 7-34 4-6 2-3 5-2 7 2 4 7 2 25 1M560 2474l13 2 22 0M855 2350l0 10 3 3 6 3 21 2M533 2441l14 0 4-4 2-7-1-5-3-3-31-8-4-8-4-4-12-5-14-9-7-2-7-11-15-5-20-2-1-4 1-15-2-3-6-3-19-2-18 1-5 3-4 9 1 5 4 3 12 4 32 4-2 2 1 8 1 4 4 3 21 7 6 7 11 6 13 9 15 4 4 4 2 8 2 4 7 3 18 2M600 2413l9-2 4-3 1-5-3-3-15-3-9 1-5 3-1 5 2 4 6 2 11 1M754 2358l15-1 5-3 2-4-1-4-3-4-7-2-26-1-3 10 2 5 16 4M640 2394l7-2 2-1-1-5-11 0-5 3 1 3 7 2M695 2374l11 0 6-3 1-3-3-4-9-1-10 1-3 3 0 5 7 2M660 2382l10 0 2-4-7 1-5 3M808 2320l4 8 16 5M726 2335l8 0 3-3 0-6-4-3-13-5-8-6-13-5-4-3-2-9-6-2-14-2-8 1-4 4 0 6 3 3 24 6 1 4 15 9 6 7 16 4M562 2389l9-1 1-3-2-4-11-1-4 4 1 2 6 3M781 2303l9 6M541 2373l9 1-3-3-7-2 1 4M518 2362l11-1 2-4-1-4-9-3-9 1-5 3 0 3 3 3 8 2M618 2322l6 0 5-4-13-1 2 5M733 2273l5 6 9 3M644 2284l7 0 5-4 2-4 1-6-3-4-6-3-14-1-17 1-4 4-4 5 0 5 3 4 30 3M477 2339l14-2 5-5 2-10-25-2-14 4-2 4-1 5 3 3 18 3M586 2300l8-3 3-5-1-5-7-2-15 0-7 2-7 7-5 3-16 3-11 5-15 3-6 3-3 4 1 5 18 1 7-2 10-6 14-4 6-3 3-4 23-2M685 2243l1 7 4 4 20 5M342 2331l21 0 7-1 5-3 6-10M416 2304l18-2 8-7M467 2286l12-4M522 2267l11-2 8-5M571 2249l23-2 5-2 5-8M646 2223l8 0"/><path class="J" d="M588 2473l14-4 3-6 0-5-3-3-16-4-13 0-8 1-5 3-3 4 0 7 3 3 16 4 12 0M653 2446l7-2 5-3 2-5-3-4-16-2-8 1-6 3-2 5 3 4 6 2 12 1M807 2391l13-2 5-2 3-5 0-3-3-4-7-2-17-1-7 1-6 6-1 5 3 4 17 3M692 2427l8-2 6-8-18 1-5 3 1 4 8 2M747 2407l12 0 5-3 2-3-3-4-8-2-12 2-5 4 1 5 8 1M707 2417l16-2 4-5-11 1-9 6M860 2353l1 4 3 4 16 4M530 2438l10-2 5-3 1-5-4-4-16-3-9 1-4 4-1 4 3 4 5 3 10 1M753 2354l9-1 5-4-3-4-8-2-8 2-3 4 1 2 7 3M493 2413l10 0 3-4-4-4-17-3 2 9 6 2M478 2400l7 2-5-8-10-2-1 2 1 4 8 2M449 2387l12-1 3-4-2-5-11-3-9 1-4 3 0 3 3 4 8 2M676 2301l3 0 2-2-7-1 2 3M409 2364l13-2 5-3 2-7-3-4-6-3-17-1-13 4-2 5 0 4 4 3 17 4M644 2280l6-4 1-4-2-4-6-2-12-1-6 2-5 3-1 4 3 4 8 2 14 0M476 2335l8-2 3-2-1-4-7-3-8 1-5 3 2 5 8 2M577 2294l3 1 3-3-7 0 1 2M691 2247l5 5 7 2M348 2329l17-2 9-8M580 2246l9-2 7-4"/><path class="P" d="M584 2470l8-1 5-3 1-5-3-4-17-3-8 1-5 3-2 6 4 3 6 3 11 0M805 2387l9-1 6-4-3-4-7-2-10 1-4 4 2 4 7 2M646 2439l6 0 0-2-4-1-2 3M526 2430l5 1 0-3-4 0-1 2M407 2359l9-1 4-3-2-4-9-3-8 1-5 3 3 5 8 2"/><path class="U" d="M576 2464l9 1 0-5-7 0-2 4"/></g>
<g class="sf"><path class="B" d="M648 2078l7-42-5-44-7 43z"/><path class="t" d="M614 2103l7 28-5-44-7-27z"/><path class="y" d="M607 2071l7 32-5-43-7-32z"/><path class="E" d="M601 2046l6 25-5-43-7-25z"/><path class="H" d="M587 2048l7-11 7 9-6-43-6-9-7 10z"/><path class="E" d="M580 2074l7-26-5-44-7 26z"/><path class="A" d="M573 2105l7-31-5-44-7 31z"/><path class="w" d="M567 2128l6-23-5-44-7 23z"/><path class="u" d="M560 2133l7-5-6-44-6 5z"/><path class="v" d="M553 2119l7 14-5-44-7-13z"/><path class="y" d="M546 2099l7 20-5-43-7-20z"/><path class="B" d="M539 2087l7 12-5-43-7-12z"/><path class="C" d="M532 2094l7-7-5-43-7 7z"/><path class="A" d="M526 2114l6-20-5-43-7 19z"/><path class="y" d="M512 2119l7 6 7-11-6-44-6 12-7-6z"/><path class="z" d="M505 2116l7 3-5-43-7-4z"/><path class="A" d="M498 2122l7-6-5-44-7 6z"/><path class="z" d="M485 2125l6 3 7-6-5-44-7 7-7-4z"/><path class="A" d="M471 2130l7-11 7 6-6-44-6-6-7 12z"/><path class="y" d="M464 2149l7-19-5-43-7 19z"/><path class="w" d="M457 2156l7-7-5-43-7 7z"/><path class="x" d="M450 2145l7 11-5-43-7-12z"/><path class="A" d="M444 2124l6 21-5-44-7-20z"/><path class="D" d="M437 2111l7 13-6-43-6-13z"/><path class="F" d="M430 2116l7-5-5-43-7 5z"/><path class="D" d="M423 2139l7-23-5-43-7 23z"/><path class="A" d="M382 2141l7 31-5-43-7-32z"/><path class="G" d="M375 2113l7 28-5-44-7-28z"/><path class="K" d="M369 2099l6 14-5-44-7-13z"/><path class="L" d="M362 2104l7-5-6-43-7 5z"/><path class="J" d="M355 2128l7-24-6-43-6 24z"/><path class="E" d="M348 2166l7-38-5-43-7 37z"/><path class="y" d="M341 2208l7-42-5-44-7 43z"/><path class="v" d="M654 2116l6-42-5-38-7 42z"/><path class="x" d="M606 2085l7 25-6-39-6-25z"/><path class="A" d="M599 2076l7 9-5-39-7-9z"/><path class="B" d="M592 2086l7-10-5-39-7 11z"/><path class="y" d="M585 2112l7-26-5-38-7 26z"/><path class="x" d="M442 2150l7 13-5-39-7-13z"/><path class="y" d="M435 2155l7-5-5-39-7 5z"/><path class="z" d="M381 2151l6 28-5-38-7-28z"/><path class="D" d="M374 2137l7 14-6-38-6-14z"/><path class="E" d="M367 2143l7-6-5-38-7 5z"/><path class="C" d="M360 2167l7-24-5-39-7 24z"/><path class="y" d="M353 2204l7-37-5-39-7 38z"/><path class="r" d="M346 2247l7-43-5-38-7 42z"/><path class="q" d="M659 2141l7-42-6-25-6 42z"/><path class="w" d="M597 2111l7-10 7 9-5-25-7-9-7 10z"/><path class="y" d="M379 2162l7 14-5-25-7-14z"/><path class="A" d="M372 2167l7-5-5-25-7 6z"/><path class="y" d="M365 2191l7-24-5-24-7 24z"/><path class="t" d="M358 2229l7-38-5-24-7 37z"/><path class="m" d="M352 2271l6-42-5-25-7 43z"/><path class="y" d="M377 2173l7-5-5-6-7 5z"/><path class="v" d="M370 2197l7-24-5-6-7 24z"/><path class="r" d="M364 2235l6-38-5-6-7 38z"/><path class="k" d="M357 2277l7-42-6-6-6 42z"/><path class="f" d="M417 2254l6 9 7-11-5 13-7 11-7-9z"/><path class="x" d="M376 2184l6-24-5 13-7 24z"/><path class="s" d="M369 2222l7-38-6 13-6 38z"/><path class="l" d="M362 2264l7-42-5 13-7 42z"/><path class="j" d="M422 2227l7 9 6-11-5 27-7 11-6-9z"/><path class="p" d="M367 2238l7-43-5 27-7 42z"/><path class="v" d="M372 2206l7-42-5 31-7 43z"/><path class="E" d="M685 2052l7-42-6 24-6 42z"/><path class="G" d="M384 2140l7-38-5 24-7 38z"/><path class="A" d="M378 2182l6-42-5 24-7 42z"/><path class="H" d="M690 2044l7-43-5 9-7 42z"/><path class="A" d="M683 2082l7-38-5 8-7 38z"/><path class="K" d="M622 2040l7-26-6 8-6 26z"/><path class="G" d="M615 2071l7-31-5 8-7 31z"/><path class="C" d="M608 2093l7-22-5 8-7 23z"/><path class="G" d="M567 2079l7-19-5 8-7 20z"/><path class="E" d="M506 2115l6-19-5 8-7 19z"/><path class="J" d="M465 2105l7-23-6 8-7 23z"/><path class="E" d="M458 2136l7-31-6 8-6 31z"/><path class="P" d="M396 2094l7-24-5 8-7 24z"/><path class="K" d="M390 2132l6-38-5 8-7 38z"/><path class="D" d="M383 2174l7-42-6 8-6 42z"/><path class="H" d="M695 2055l7-42-5-12-7 43z"/><path class="B" d="M688 2093l7-38-5-11-7 38z"/><path class="N" d="M634 2025l7-11 6 10-5-12-7-9-6 11z"/><path class="L" d="M627 2051l7-26-5-11-7 26z"/><path class="G" d="M620 2082l7-31-5-11-7 31z"/><path class="C" d="M613 2105l7-23-5-11-7 22z"/><path class="A" d="M606 2110l7-5-5-12-7 5z"/><path class="I" d="M579 2071l7-7 7 12-5-11-7-12-7 7z"/><path class="H" d="M572 2091l7-20-5-11-7 19z"/><path class="E" d="M559 2096l6 6 7-11-5-12-7 12-7-6z"/><path class="G" d="M545 2099l7-6 7 3-6-11-6-3-7 6z"/><path class="F" d="M531 2102l7 3 7-6-5-11-7 6-7-4z"/><path class="H" d="M525 2096l6 6-5-12-7-6z"/><path class="G" d="M518 2107l7-11-6-12-7 12z"/><path class="E" d="M511 2127l7-20-6-11-6 19z"/><path class="C" d="M504 2134l7-7-5-12-7 7z"/><path class="D" d="M497 2122l7 12-5-12-7-11z"/><path class="L" d="M477 2093l7-5-6-11-6 5z"/><path class="J" d="M470 2116l7-23-5-11-7 23z"/><path class="F" d="M463 2147l7-31-5-11-7 31z"/><path class="R" d="M408 2081l7-5-5-11-7 5z"/><path class="P" d="M402 2105l6-24-5-11-7 24z"/><path class="K" d="M395 2143l7-38-6-11-6 38z"/><path class="E" d="M388 2185l7-42-5-11-7 42z"/><path class="E" d="M700 2082l7-42-5-27-7 42z"/><path class="y" d="M694 2120l6-38-5-27-7 38z"/><path class="C" d="M659 2075l7 32-5-27-7-31z"/><path class="H" d="M653 2050l6 25-5-26-7-25z"/><path class="K" d="M646 2041l7 9-6-26-6-10z"/><path class="L" d="M639 2052l7-11-5-27-7 11z"/><path class="I" d="M632 2078l7-26-5-27-7 26z"/><path class="D" d="M625 2109l7-31-5-27-7 31z"/><path class="z" d="M618 2132l7-23-5-27-7 23z"/><path class="x" d="M612 2137l6-5-5-27-7 5z"/><path class="y" d="M605 2123l7 14-6-27-6-13z"/><path class="C" d="M598 2103l7 20-5-26-7-21z"/><path class="F" d="M591 2091l7 12-5-27-7-12z"/><path class="G" d="M584 2098l7-7-5-27-7 7z"/><path class="E" d="M577 2118l7-20-5-27-7 20z"/><path class="C" d="M564 2123l7 6 6-11-5-27-7 11-6-6z"/><path class="D" d="M550 2126l7-6 7 3-5-27-7-3-7 6z"/><path class="C" d="M543 2132l7-6-5-27-7 6z"/><path class="D" d="M537 2129l6 3-5-27-7-3z"/><path class="E" d="M523 2134l7-11 7 6-6-27-6-6-7 11z"/><path class="C" d="M516 2153l7-19-5-27-7 20z"/><path class="A" d="M509 2160l7-7-5-26-7 7z"/><path class="B" d="M502 2149l7 11-5-26-7-12z"/><path class="E" d="M496 2128l6 21-5-27-7-20z"/><path class="H" d="M489 2115l7 13-6-26-6-14z"/><path class="I" d="M482 2120l7-5-5-27-7 5z"/><path class="G" d="M475 2143l7-23-5-27-7 23z"/><path class="C" d="M468 2174l7-31-5-27-7 31z"/><path class="E" d="M434 2145l7 31-5-26-7-32z"/><path class="J" d="M427 2117l7 28-5-27-7-28z"/><path class="N" d="M420 2103l7 14-5-27-7-14z"/><path class="O" d="M414 2108l6-5-5-27-7 5z"/><path class="M" d="M407 2132l7-24-6-27-6 24z"/><path class="H" d="M400 2170l7-38-5-27-7 38z"/><path class="B" d="M393 2212l7-42-5-27-7 42z"/><path class="A" d="M706 2114l6-43-5-31-7 42z"/><path class="u" d="M699 2151l7-37-6-32-6 38z"/><path class="D" d="M658 2082l7 25-6-32-6-25z"/><path class="G" d="M644 2084l7-11 7 9-5-32-7-9-7 11z"/><path class="D" d="M637 2110l7-26-5-32-7 26z"/><path class="z" d="M630 2141l7-31-5-32-7 31z"/><path class="v" d="M624 2163l6-22-5-32-7 23z"/><path class="u" d="M610 2155l7 13-5-31-7-14z"/><path class="x" d="M603 2135l7 20-5-32-7-20z"/><path class="A" d="M596 2123l7 12-5-32-7-12z"/><path class="B" d="M590 2130l6-7-5-32-7 7z"/><path class="z" d="M583 2149l7-19-6-32-7 20z"/><path class="x" d="M569 2155l7 6 7-12-6-31-6 11-7-6z"/><path class="y" d="M562 2152l7 3-5-32-7-3z"/><path class="z" d="M555 2158l7-6-5-32-7 6z"/><path class="y" d="M542 2160l7 4 6-6-5-32-7 6-6-3z"/><path class="z" d="M528 2166l7-12 7 6-5-31-7-6-7 11z"/><path class="x" d="M521 2185l7-19-5-32-7 19z"/><path class="w" d="M508 2181l6 11-5-32-7-11z"/><path class="z" d="M501 2160l7 21-6-32-6-21z"/><path class="C" d="M494 2147l7 13-5-32-7-13z"/><path class="E" d="M487 2152l7-5-5-32-7 5z"/><path class="C" d="M480 2175l7-23-5-32-7 23z"/><path class="x" d="M473 2206l7-31-5-32-7 31z"/><path class="F" d="M432 2149l7 27-5-31-7-28z"/><path class="J" d="M426 2135l6 14-5-32-7-14z"/><path class="K" d="M419 2140l7-5-6-32-6 5z"/><path class="I" d="M412 2164l7-24-5-32-7 24z"/><path class="D" d="M405 2201l7-37-5-32-7 38z"/><path class="x" d="M398 2244l7-43-5-31-7 42z"/><path class="w" d="M711 2137l7-42-6-24-6 43z"/><path class="C" d="M649 2107l7-10 7 9-5-24-7-9-7 11z"/><path class="z" d="M643 2133l6-26-5-23-7 26z"/><path class="v" d="M636 2164l7-31-6-23-7 31z"/><path class="w" d="M602 2147l6 11-5-23-7-12z"/><path class="x" d="M595 2154l7-7-6-24-6 7z"/><path class="v" d="M588 2173l7-19-5-24-7 19z"/><path class="u" d="M547 2184l7 3-5-23-7-4z"/><path class="v" d="M533 2190l7-12 7 6-5-24-7-6-7 12z"/><path class="y" d="M499 2171l7 13-5-24-7-13z"/><path class="z" d="M492 2176l7-5-5-24-7 5z"/><path class="x" d="M485 2198l7-22-5-24-7 23z"/><path class="F" d="M431 2158l7 14-6-23-6-14z"/><path class="G" d="M424 2164l7-6-5-23-7 5z"/><path class="E" d="M417 2188l7-24-5-24-7 24z"/><path class="z" d="M410 2225l7-37-5-24-7 37z"/><path class="s" d="M404 2268l6-43-5-24-7 43z"/><path class="u" d="M716 2143l7-42-5-6-7 42z"/><path class="A" d="M655 2113l6-11-5-5-7 10z"/><path class="x" d="M648 2139l7-26-6-6-6 26z"/><path class="t" d="M641 2170l7-31-5-6-7 31z"/><path class="E" d="M429 2169l7-5-5-6-7 6z"/><path class="C" d="M422 2193l7-24-5-5-7 24z"/><path class="x" d="M416 2231l6-38-5-5-7 37z"/><path class="q" d="M409 2273l7-42-6-6-6 43z"/><path class="v" d="M721 2131l7-43-5 13-7 42z"/><path class="y" d="M653 2127l7-26-5 12-7 26z"/><path class="u" d="M646 2158l7-31-5 12-7 31z"/><path class="D" d="M428 2181l6-24-5 12-7 24z"/><path class="y" d="M421 2219l7-38-6 12-6 38z"/><path class="s" d="M414 2261l7-42-5 12-7 42z"/><path class="y" d="M726 2111l7-42-5 19-7 43z"/><path class="x" d="M651 2138l7-31-5 20-7 31z"/><path class="B" d="M426 2199l7-38-5 20-7 38z"/><path class="v" d="M419 2242l7-43-5 20-7 42z"/><path class="B" d="M732 2101l6-43-5 11-7 42z"/><path class="F" d="M663 2096l7-26-5 11-7 26z"/><path class="A" d="M656 2127l7-31-5 11-7 31z"/><path class="w" d="M650 2150l6-23-5 11-7 23z"/><path class="B" d="M609 2136l6-19-5 11-7 19z"/><path class="z" d="M547 2172l7-19-5 10-7 20z"/><path class="D" d="M506 2161l7-22-5 11-7 22z"/><path class="J" d="M438 2151l7-24-5 10-7 24z"/><path class="E" d="M431 2188l7-37-5 10-7 38z"/><path class="y" d="M424 2231l7-43-5 11-7 43z"/><path class="C" d="M737 2108l7-42-6-8-6 43z"/><path class="w" d="M730 2146l7-38-5-7-7 37z"/><path class="I" d="M675 2078l7-10-5-8-7 10z"/><path class="G" d="M668 2104l7-26-5-8-7 26z"/><path class="B" d="M662 2135l6-31-5-8-7 31z"/><path class="x" d="M655 2158l7-23-6-8-6 23z"/><path class="E" d="M621 2125l7-7-6-8-7 7z"/><path class="C" d="M614 2144l7-19-6-8-6 19z"/><path class="z" d="M600 2150l7 6 7-12-5-8-7 12-7-6z"/><path class="B" d="M587 2152l6-6 7 4-5-8-7-4-7 6z"/><path class="A" d="M573 2155l7 3 7-6-6-8-6 6-7-3z"/><path class="C" d="M559 2160l7-11 7 6-5-8-7-6-7 12z"/><path class="z" d="M552 2180l7-20-5-7-7 19z"/><path class="G" d="M518 2146l7-4-5-8-7 5z"/><path class="E" d="M511 2169l7-23-5-7-7 22z"/><path class="A" d="M505 2200l6-31-5-8-7 31z"/><path class="M" d="M450 2134l7-5-5-8-7 6z"/><path class="K" d="M443 2158l7-24-5-7-7 24z"/><path class="F" d="M436 2196l7-38-5-7-7 37z"/><path class="z" d="M429 2239l7-43-5-8-7 43z"/><path class="A" d="M742 2128l7-42-5-20-7 42z"/><path class="u" d="M735 2166l7-38-5-20-7 38z"/><path class="D" d="M694 2097l7 25-5-20-7-25z"/><path class="G" d="M687 2088l7 9-5-20-7-9z"/><path class="H" d="M680 2098l7-10-5-20-7 10z"/><path class="E" d="M674 2124l6-26-5-20-7 26z"/><path class="z" d="M667 2155l7-31-6-20-6 31z"/><path class="v" d="M660 2178l7-23-5-20-7 23z"/><path class="y" d="M640 2149l6 21-5-20-7-21z"/><path class="B" d="M633 2138l7 11-6-20-6-11z"/><path class="C" d="M626 2145l7-7-5-20-7 7z"/><path class="A" d="M619 2164l7-19-5-20-7 19z"/><path class="y" d="M605 2170l7 6 7-12-5-20-7 12-7-6z"/><path class="z" d="M592 2172l7-6 6 4-5-20-7-4-6 6z"/><path class="y" d="M585 2178l7-6-5-20-7 6z"/><path class="z" d="M578 2175l7 3-5-20-7-3z"/><path class="A" d="M564 2181l7-12 7 6-5-20-7-6-7 11z"/><path class="x" d="M558 2200l6-19-5-21-7 20z"/><path class="A" d="M537 2175l7 20-5-20-7-20z"/><path class="D" d="M530 2162l7 13-5-20-7-13z"/><path class="E" d="M523 2167l7-5-5-20-7 4z"/><path class="C" d="M517 2189l6-22-5-21-7 23z"/><path class="y" d="M510 2220l7-31-6-20-6 31z"/><path class="J" d="M462 2149l7 14-5-20-7-14z"/><path class="K" d="M455 2155l7-6-5-20-7 5z"/><path class="I" d="M448 2178l7-23-5-21-7 24z"/><path class="D" d="M442 2216l6-38-5-20-7 38z"/><path class="x" d="M435 2259l7-43-6-20-7 43z"/><path class="y" d="M747 2141l7-43-5-12-7 42z"/><path class="E" d="M686 2111l7-11 6 9-5-12-7-9-7 10z"/><path class="C" d="M679 2137l7-26-6-13-6 26z"/><path class="x" d="M672 2168l7-31-5-13-7 31z"/><path class="z" d="M631 2157l7-7 7 12-5-13-7-11-7 7z"/><path class="y" d="M624 2176l7-19-5-12-7 19z"/><path class="v" d="M611 2182l6 6 7-12-5-12-7 12-7-6z"/><path class="x" d="M597 2185l7-6 7 3-6-12-6-4-7 6z"/><path class="H" d="M467 2162l7 14-5-13-7-14z"/><path class="I" d="M460 2167l7-5-5-13-7 6z"/><path class="G" d="M454 2191l6-24-5-12-7 23z"/><path class="B" d="M447 2229l7-38-6-13-6 38z"/><path class="v" d="M440 2271l7-42-5-13-7 43z"/><path class="y" d="M752 2136l7-43-5 5-7 43z"/><path class="E" d="M691 2106l7-11-5 5-7 11z"/><path class="C" d="M684 2132l7-26-5 5-7 26z"/><path class="x" d="M677 2163l7-31-5 5-7 31z"/><path class="y" d="M629 2171l7-19-5 5-7 19z"/><path class="v" d="M623 2183l6-12-5 5-7 12z"/><path class="G" d="M459 2186l7-24-6 5-6 24z"/><path class="B" d="M452 2223l7-37-5 5-7 38z"/><path class="v" d="M445 2266l7-43-5 6-7 42z"/><path class="z" d="M758 2133l6-42-5 2-7 43z"/><path class="G" d="M696 2103l7-11-5 3-7 11z"/><path class="D" d="M689 2129l7-26-5 3-7 26z"/><path class="y" d="M682 2160l7-31-5 3-7 31z"/><path class="u" d="M676 2183l6-23-5 3-7 22z"/><path class="B" d="M641 2149l7-7-5 3-7 7z"/><path class="z" d="M635 2169l6-20-5 3-7 19z"/><path class="x" d="M628 2180l7-11-6 2-6 12z"/><path class="y" d="M607 2177l7-6-5 2-7 7z"/><path class="H" d="M464 2183l7-24-5 3-7 24z"/><path class="C" d="M457 2221l7-38-5 3-7 37z"/><path class="w" d="M450 2263l7-42-5 2-7 43z"/><path class="A" d="M763 2140l7-43-6-6-6 42z"/><path class="G" d="M701 2110l7-11-5-7-7 11z"/><path class="D" d="M694 2136l7-26-5-7-7 26z"/><path class="z" d="M688 2167l6-31-5-7-7 31z"/><path class="u" d="M681 2190l7-23-6-7-6 23z"/><path class="B" d="M647 2156l6-7-5-7-7 7z"/><path class="z" d="M640 2176l7-20-6-7-6 20z"/><path class="x" d="M626 2181l7 6 7-11-5-7-7 11-7-6z"/><path class="y" d="M606 2190l13-12 7 3-5-7-7-3-14 12z"/><path class="D" d="M544 2178l7-5-5-7-7 5z"/><path class="B" d="M537 2201l7-23-5-7-7 23z"/><path class="J" d="M476 2166l7-5-5-7-7 5z"/><path class="H" d="M469 2190l7-24-5-7-7 24z"/><path class="C" d="M462 2228l7-38-5-7-7 38z"/><path class="w" d="M455 2270l7-42-5-7-7 42z"/><path class="z" d="M768 2147l7-43-5-7-7 43z"/><path class="F" d="M706 2117l7-11-5-7-7 11z"/><path class="C" d="M700 2143l6-26-5-7-7 26z"/><path class="y" d="M693 2174l7-31-6-7-6 31z"/><path class="A" d="M652 2163l7-7-6-7-6 7z"/><path class="y" d="M645 2182l7-19-5-7-7 20z"/><path class="w" d="M638 2194l7-12-5-6-7 11z"/><path class="x" d="M625 2185l6 3-5-7-7-3z"/><path class="y" d="M618 2191l7-6-6-7-7 6z"/><path class="D" d="M549 2185l7-5-5-7-7 5z"/><path class="B" d="M543 2208l6-23-5-7-7 23z"/><path class="J" d="M481 2173l7-5-5-7-7 5z"/><path class="H" d="M474 2197l7-24-5-7-7 24z"/><path class="C" d="M467 2235l7-38-5-7-7 38z"/><path class="v" d="M461 2277l6-42-5-7-7 42z"/><path class="z" d="M773 2144l7-42-5 2-7 43z"/><path class="F" d="M712 2114l6-10-5 2-7 11z"/><path class="D" d="M705 2140l7-26-6 3-6 26z"/><path class="y" d="M698 2171l7-31-5 3-7 31z"/><path class="A" d="M657 2161l7-7-5 2-7 7z"/><path class="z" d="M650 2180l7-19-5 2-7 19z"/><path class="y" d="M623 2188l7-6-5 3-7 6z"/><path class="B" d="M548 2205l7-23-6 3-6 23z"/><path class="J" d="M486 2170l7-5-5 3-7 5z"/><path class="H" d="M479 2194l7-24-5 3-7 24z"/><path class="C" d="M473 2232l6-38-5 3-7 38z"/><path class="w" d="M466 2275l7-43-6 3-6 42z"/><path class="A" d="M778 2139l7-42-5 5-7 42z"/><path class="H" d="M717 2109l7-11-6 6-6 10z"/><path class="E" d="M710 2135l7-26-5 5-7 26z"/><path class="z" d="M703 2166l7-31-5 5-7 31z"/><path class="A" d="M655 2175l7-20-5 6-7 19z"/><path class="C" d="M553 2200l7-23-5 5-7 23z"/><path class="y" d="M546 2231l7-31-5 5-7 31z"/><path class="I" d="M485 2189l7-24-6 5-7 24z"/><path class="D" d="M478 2227l7-38-6 5-6 38z"/><path class="x" d="M471 2269l7-42-5 5-7 43z"/><path class="A" d="M783 2152l7-43-5-12-7 42z"/><path class="u" d="M777 2189l6-37-5-13-7 38z"/><path class="G" d="M722 2121l7-10 7 9-5-13-7-9-7 11z"/><path class="E" d="M715 2147l7-26-5-12-7 26z"/><path class="z" d="M708 2178l7-31-5-12-7 31z"/><path class="B" d="M674 2161l7 12-5-13-7-12z"/><path class="C" d="M667 2168l7-7-5-13-7 7z"/><path class="A" d="M661 2187l6-19-5-13-7 20z"/><path class="z" d="M633 2195l7-6-5-12-7 6z"/><path class="y" d="M620 2198l6 4 7-7-5-12-7 6-7-3z"/><path class="A" d="M606 2204l7-12 7 6-6-12-6-6-7 11z"/><path class="E" d="M565 2190l7-5-5-13-7 5z"/><path class="C" d="M558 2213l7-23-5-13-7 23z"/><path class="y" d="M551 2243l7-30-5-13-7 31z"/><path class="J" d="M504 2173l6 13-5-12-7-14z"/><path class="K" d="M497 2178l7-5-6-13-6 5z"/><path class="I" d="M490 2202l7-24-5-13-7 24z"/><path class="D" d="M483 2239l7-37-5-13-7 38z"/><path class="x" d="M476 2282l7-43-5-12-7 42z"/><path class="y" d="M789 2172l7-43-6-20-7 43z"/><path class="s" d="M782 2209l7-37-6-20-6 37z"/><path class="E" d="M727 2141l7-10 7 9-5-20-7-9-7 10z"/><path class="C" d="M720 2168l7-27-5-20-7 26z"/><path class="x" d="M714 2198l6-30-5-21-7 31z"/><path class="z" d="M673 2188l6-7 7 12-5-20-7-12-7 7z"/><path class="x" d="M666 2207l7-19-6-20-6 19z"/><path class="w" d="M625 2218l7 4-6-20-6-4z"/><path class="x" d="M611 2224l7-12 7 6-5-20-7-6-7 12z"/><path class="A" d="M563 2233l7-23-5-20-7 23z"/><path class="w" d="M557 2264l6-31-5-20-7 30z"/><path class="H" d="M509 2193l7 14-6-21-6-13z"/><path class="I" d="M502 2198l7-5-5-20-7 5z"/><path class="G" d="M495 2222l7-24-5-20-7 24z"/><path class="B" d="M488 2259l7-37-5-20-7 37z"/><path class="v" d="M481 2302l7-43-5-20-7 43z"/><path class="C" d="M732 2149l7-10-5-8-7 10z"/><path class="A" d="M726 2175l6-26-5-8-7 27z"/><path class="v" d="M719 2206l7-31-6-7-6 30z"/><path class="y" d="M678 2196l7-7-6-8-6 7z"/><path class="G" d="M507 2206l7-5-5-8-7 5z"/><path class="E" d="M500 2230l7-24-5-8-7 24z"/><path class="z" d="M493 2267l7-37-5-8-7 37z"/><path class="t" d="M487 2310l6-43-5-8-7 43z"/><path class="B" d="M731 2164l7-26-6 11-6 26z"/><path class="w" d="M724 2195l7-31-5 11-7 31z"/><path class="n" d="M553 2297l7-10-5 10-7 11z"/><path class="o" d="M546 2288l7 9-5 11-7-9z"/><path class="F" d="M505 2219l7-24-5 11-7 24z"/><path class="A" d="M499 2256l6-37-5 11-7 37z"/><path class="u" d="M492 2299l7-43-6 11-6 43z"/><path class="z" d="M729 2176l7-31-5 19-7 31z"/><path class="r" d="M552 2268l6 9 7-10-5 20-7 10-7-9z"/><path class="D" d="M504 2237l7-38-6 20-6 37z"/><path class="x" d="M497 2279l7-42-5 19-7 43z"/><path class="H" d="M741 2133l7-26-5 12-7 26z"/><path class="C" d="M734 2164l7-31-5 12-7 31z"/><path class="y" d="M728 2186l6-22-5 12-7 23z"/><path class="D" d="M687 2172l6-19-5 12-7 20z"/><path class="B" d="M625 2208l7-19-5 12-7 19z"/><path class="u" d="M557 2256l7 9-6 12-6-9z"/><path class="L" d="M516 2187l7-24-6 12-6 24z"/><path class="G" d="M509 2224l7-37-5 12-7 38z"/><path class="A" d="M502 2267l7-43-5 13-7 42z"/><path class="F" d="M815 2143l6-43-5-6-7 43z"/><path class="L" d="M753 2112l7-10-5-6-7 11z"/><path class="I" d="M746 2138l7-26-5-5-7 26z"/><path class="E" d="M740 2169l6-31-5-5-7 31z"/><path class="z" d="M733 2192l7-23-6-5-6 22z"/><path class="G" d="M699 2159l6-7-5-6-7 7z"/><path class="E" d="M692 2178l7-19-6-6-6 19z"/><path class="C" d="M678 2184l7 6 7-12-5-6-7 12-7-6z"/><path class="D" d="M664 2186l7-6 7 4-5-6-7-3-7 6z"/><path class="E" d="M637 2195l7-12-5-6-7 12z"/><path class="C" d="M630 2214l7-19-5-6-7 19z"/><path class="A" d="M623 2221l7-7-5-6-7 7z"/><path class="I" d="M596 2181l7-5-5-6-7 5z"/><path class="O" d="M528 2169l7-5-5-6-7 5z"/><path class="M" d="M521 2193l7-24-5-6-7 24z"/><path class="H" d="M514 2230l7-37-5-6-7 37z"/><path class="B" d="M507 2273l7-43-5-6-7 43z"/><path class="D" d="M820 2166l7-42-6-24-6 43z"/><path class="F" d="M772 2134l7 25-5-23-7-25z"/><path class="J" d="M758 2136l7-11 7 9-5-23-7-9-7 10z"/><path class="G" d="M752 2162l6-26-5-24-7 26z"/><path class="C" d="M745 2193l7-31-6-24-6 31z"/><path class="D" d="M711 2175l6 12-5-23-7-12z"/><path class="E" d="M704 2182l7-7-6-23-6 7z"/><path class="C" d="M697 2202l7-20-5-23-7 19z"/><path class="A" d="M683 2207l7 6-5-23-7-6z"/><path class="B" d="M663 2216l13-12 7 3-5-23-7-4-13 13z"/><path class="y" d="M629 2245l6-7-5-24-7 7z"/><path class="z" d="M622 2233l7 12-6-24-6-12z"/><path class="C" d="M615 2212l7 21-5-24-7-20z"/><path class="F" d="M608 2199l7 13-5-23-7-13z"/><path class="G" d="M601 2204l7-5-5-23-7 5z"/><path class="H" d="M547 2201l7 28-6-24-6-28z"/><path class="L" d="M540 2187l7 14-5-24-7-13z"/><path class="M" d="M533 2192l7-5-5-23-7 5z"/><path class="K" d="M526 2216l7-24-5-23-7 24z"/><path class="G" d="M519 2254l7-38-5-23-7 37z"/><path class="z" d="M513 2296l6-42-5-24-7 43z"/><path class="y" d="M825 2198l7-43-5-31-7 42z"/><path class="B" d="M777 2166l7 25-5-32-7-25z"/><path class="E" d="M770 2157l7 9-5-32-7-9z"/><path class="F" d="M764 2168l6-11-5-32-7 11z"/><path class="C" d="M757 2194l7-26-6-32-6 26z"/><path class="A" d="M709 2214l7-7-5-32-7 7z"/><path class="x" d="M675 2242l7-6-6-32-6 6z"/><path class="y" d="M620 2244l7 21-5-32-7-21z"/><path class="B" d="M613 2231l7 13-5-32-7-13z"/><path class="C" d="M607 2236l6-5-5-32-7 5z"/><path class="D" d="M552 2233l7 27-5-31-7-28z"/><path class="H" d="M545 2219l7 14-5-32-7-14z"/><path class="I" d="M538 2224l7-5-5-32-7 5z"/><path class="G" d="M531 2248l7-24-5-32-7 24z"/><path class="B" d="M525 2286l6-38-5-32-7 38z"/><path class="v" d="M518 2328l7-42-6-32-6 42z"/><path class="u" d="M830 2225l7-43-5-27-7 43z"/><path class="A" d="M769 2195l7-11 6 9-5-27-7-9-6 11z"/><path class="x" d="M619 2258l6 13-5-27-7-13z"/><path class="y" d="M612 2263l7-5-6-27-6 5z"/><path class="D" d="M550 2246l7 14-5-27-7-14z"/><path class="E" d="M543 2251l7-5-5-27-7 5z"/><path class="C" d="M537 2275l6-24-5-27-7 24z"/><path class="x" d="M530 2312l7-37-6-27-6 38z"/><path class="r" d="M523 2355l7-43-5-26-7 42z"/><path class="r" d="M835 2236l7-42-5-12-7 43z"/><path class="B" d="M549 2262l6-5-5-11-7 5z"/><path class="z" d="M542 2286l7-24-6-11-6 24z"/><path class="u" d="M535 2324l7-38-5-11-7 37z"/><path class="o" d="M528 2366l7-42-5-12-7 43z"/><path class="s" d="M841 2228l6-43-5 9-7 42z"/><path class="e" d="M820 2295l7-5-5 8-7 5z"/><path class="f" d="M813 2281l7 14-5 8-7-14z"/><path class="j" d="M806 2253l7 28-5 8-7-28z"/><path class="m" d="M745 2269l7 13-5 9-7-13z"/><path class="r" d="M670 2268l7 6-5 9-7-6z"/><path class="i" d="M588 2347l7 9 7-10-6 8-6 11-7-9z"/><path class="m" d="M581 2322l7 25-5 9-7-25z"/><path class="z" d="M547 2278l7-24-5 8-7 24z"/><path class="v" d="M540 2316l7-38-5 8-7 38z"/><path class="o" d="M533 2358l7-42-5 8-7 42z"/><path class="v" d="M846 2204l7-43-6 24-6 43z"/><path class="k" d="M832 2265l7-24-5 25-7 24z"/><path class="i" d="M825 2270l7-5-5 25-7 5z"/><path class="j" d="M819 2257l6 13-5 25-7-14z"/><path class="n" d="M812 2229l7 28-6 24-7-28z"/><path class="o" d="M607 2322l7-26-6 24-6 26z"/><path class="l" d="M600 2332l7-10-5 24-7 10z"/><path class="m" d="M593 2323l7 9-5 24-7-9z"/><path class="p" d="M586 2298l7 25-5 24-7-25z"/><path class="y" d="M545 2291l7-37-5 24-7 38z"/><path class="r" d="M539 2334l6-43-5 25-7 42z"/><path class="p" d="M837 2234l7-24-5 31-7 24z"/><path class="n" d="M831 2239l6-5-5 31-7 5z"/><path class="o" d="M824 2226l7 13-6 31-6-13z"/><path class="s" d="M817 2198l7 28-5 31-7-28z"/><path class="t" d="M612 2291l7-26-5 31-7 26z"/><path class="r" d="M598 2292l7 9 7-10-5 31-7 10-7-9z"/><path class="u" d="M592 2267l6 25-5 31-7-25z"/><path class="x" d="M544 2303l7-43-6 31-6 43z"/><path class="G" d="M856 2146l7-43-5 27-7 43z"/><path class="z" d="M849 2184l7-38-5 27-7 37z"/><path class="s" d="M836 2213l7-6-6 27-6 5z"/><path class="u" d="M829 2199l7 14-5 26-7-13z"/><path class="y" d="M822 2171l7 28-5 27-7-28z"/><path class="w" d="M604 2265l6 9 7-10-5 27-7 10-7-9z"/><path class="A" d="M597 2240l7 25-6 27-6-25z"/><path class="J" d="M556 2234l7-38-6 27-6 37z"/><path class="C" d="M549 2276l7-42-5 26-7 43z"/><path class="K" d="M861 2133l7-43-5 13-7 43z"/><path class="D" d="M855 2170l6-37-5 13-7 38z"/><path class="y" d="M848 2194l7-24-6 14-6 23z"/><path class="N" d="M793 2129l7-26-5 13-7 26z"/><path class="J" d="M786 2160l7-31-5 13-7 31z"/><path class="F" d="M779 2182l7-22-5 13-7 22z"/><path class="J" d="M738 2168l7-19-5 13-7 19z"/><path class="H" d="M677 2204l7-19-5 13-7 19z"/><path class="L" d="M636 2194l7-23-5 13-7 23z"/><path class="H" d="M629 2225l7-31-5 13-7 31z"/><path class="D" d="M622 2251l7-26-5 13-7 26z"/><path class="R" d="M568 2183l7-24-6 13-6 24z"/><path class="N" d="M561 2220l7-37-5 13-7 38z"/><path class="G" d="M554 2263l7-43-5 14-7 42z"/><path class="L" d="M867 2139l6-43-5-6-7 43z"/><path class="E" d="M860 2176l7-37-6-6-6 37z"/><path class="A" d="M853 2200l7-24-5-6-7 24z"/><path class="y" d="M846 2206l7-6-5-6-7 6z"/><path class="R" d="M805 2109l7-11-5-6-7 11z"/><path class="O" d="M798 2135l7-26-5-6-7 26z"/><path class="K" d="M791 2166l7-31-5-6-7 31z"/><path class="G" d="M785 2188l6-22-5-6-7 22z"/><path class="E" d="M778 2193l7-5-6-6-6 5z"/><path class="M" d="M751 2155l6-7-5-6-7 7z"/><path class="K" d="M744 2174l7-19-6-6-7 19z"/><path class="I" d="M737 2186l7-12-6-6-6 12z"/><path class="J" d="M703 2185l7 4 13-12 7 3-5-6-7-3-14 12-6-4z"/><path class="K" d="M689 2191l7-12 7 6-5-6-7-6-7 12z"/><path class="I" d="M682 2210l7-19-5-6-7 19z"/><path class="G" d="M675 2217l7-7-5-6-7 7z"/><path class="O" d="M648 2177l7-5-5-6-7 5z"/><path class="M" d="M641 2200l7-23-5-6-7 23z"/><path class="I" d="M634 2231l7-31-5-6-7 31z"/><path class="E" d="M628 2257l6-26-5-6-7 26z"/><path class="B" d="M621 2267l7-10-6-6-6 10z"/><path class="V" d="M580 2165l7-5-6-6-6 5z"/><path class="T" d="M573 2189l7-24-5-6-7 24z"/><path class="O" d="M566 2226l7-37-5-6-7 37z"/><path class="H" d="M559 2269l7-43-5-6-7 43z"/><path class="J" d="M872 2164l7-43-6-25-6 43z"/><path class="C" d="M865 2201l7-37-5-25-7 37z"/><path class="y" d="M858 2225l7-24-5-25-7 24z"/><path class="v" d="M851 2230l7-5-5-25-7 6z"/><path class="x" d="M844 2216l7 14-5-24-7-14z"/><path class="B" d="M838 2189l6 27-5-24-7-28z"/><path class="G" d="M831 2157l7 32-6-25-6-32z"/><path class="L" d="M824 2132l7 25-5-25-7-25z"/><path class="P" d="M810 2133l7-10 7 9-5-25-7-9-7 11z"/><path class="M" d="M804 2159l6-26-5-24-7 26z"/><path class="I" d="M797 2190l7-31-6-24-7 31z"/><path class="E" d="M790 2213l7-23-6-24-6 22z"/><path class="C" d="M783 2218l7-5-5-25-7 5z"/><path class="D" d="M776 2205l7 13-5-25-7-13z"/><path class="G" d="M769 2185l7 20-5-25-7-20z"/><path class="J" d="M763 2173l6 12-5-25-7-12z"/><path class="K" d="M756 2180l7-7-6-25-6 7z"/><path class="I" d="M749 2199l7-19-5-25-7 19z"/><path class="G" d="M735 2205l7 6 7-12-5-25-7 12-7-6z"/><path class="H" d="M708 2210l7 4 13-13 7 4-5-25-7-3-13 12-7-4z"/><path class="I" d="M694 2216l7-12 7 6-5-25-7-6-7 12z"/><path class="G" d="M687 2235l7-19-5-25-7 19z"/><path class="E" d="M681 2242l6-7-5-25-7 7z"/><path class="F" d="M674 2230l7 12-6-25-6-11z"/><path class="I" d="M667 2210l7 20-5-24-7-21z"/><path class="L" d="M660 2197l7 13-5-25-7-13z"/><path class="M" d="M653 2202l7-5-5-25-7 5z"/><path class="K" d="M646 2224l7-22-5-25-7 23z"/><path class="G" d="M640 2255l6-31-5-24-7 31z"/><path class="C" d="M633 2282l7-27-6-24-6 26z"/><path class="z" d="M619 2283l7 9 7-10-5-25-7 10-7-9z"/><path class="D" d="M612 2258l7 25-5-25-7-25z"/><path class="I" d="M605 2226l7 32-5-25-7-32z"/><path class="N" d="M599 2198l6 28-5-25-7-27z"/><path class="R" d="M592 2185l7 13-6-24-6-14z"/><path class="T" d="M585 2190l7-5-5-25-7 5z"/><path class="Q" d="M578 2214l7-24-5-25-7 24z"/><path class="M" d="M571 2251l7-37-5-25-7 37z"/><path class="F" d="M565 2294l6-43-5-25-7 43z"/><path class="E" d="M877 2202l7-43-5-38-7 43z"/><path class="y" d="M870 2240l7-38-5-38-7 37z"/><path class="t" d="M863 2264l7-24-5-39-7 24z"/><path class="r" d="M856 2269l7-5-5-39-7 5z"/><path class="s" d="M850 2255l6 14-5-39-7-14z"/><path class="w" d="M843 2227l7 28-6-39-6-27z"/><path class="B" d="M836 2195l7 32-5-38-7-32z"/><path class="G" d="M829 2170l7 25-5-38-7-25z"/><path class="K" d="M816 2172l6-11 7 9-5-38-7-9-7 10z"/><path class="H" d="M809 2198l7-26-6-39-6 26z"/><path class="D" d="M802 2229l7-31-5-39-7 31z"/><path class="z" d="M795 2251l7-22-5-39-7 23z"/><path class="x" d="M788 2256l7-5-5-38-7 5z"/><path class="y" d="M781 2243l7 13-5-38-7-13z"/><path class="B" d="M775 2223l6 20-5-38-7-20z"/><path class="E" d="M768 2211l7 12-6-38-6-12z"/><path class="F" d="M761 2218l7-7-5-38-7 7z"/><path class="D" d="M754 2238l7-20-5-38-7 19z"/><path class="B" d="M740 2243l7 6 7-11-5-39-7 12-7-6z"/><path class="C" d="M713 2248l7 4 14-12 6 3-5-38-7-4-13 13-7-4z"/><path class="D" d="M699 2254l7-12 7 6-5-38-7-6-7 12z"/><path class="B" d="M693 2273l6-19-5-38-7 19z"/><path class="z" d="M686 2280l7-7-6-38-6 7z"/><path class="A" d="M679 2269l7 11-5-38-7-12z"/><path class="D" d="M672 2248l7 21-5-39-7-20z"/><path class="G" d="M665 2235l7 13-5-38-7-13z"/><path class="H" d="M658 2240l7-5-5-38-7 5z"/><path class="G" d="M652 2263l6-23-5-38-7 22z"/><path class="B" d="M645 2294l7-31-6-39-6 31z"/><path class="x" d="M638 2320l7-26-5-39-7 27z"/><path class="u" d="M631 2330l7-10-5-38-7 10z"/><path class="v" d="M624 2321l7 9-5-38-7-9z"/><path class="y" d="M618 2296l6 25-5-38-7-25z"/><path class="D" d="M611 2264l7 32-6-38-7-32z"/><path class="J" d="M604 2237l7 27-6-38-6-28z"/><path class="N" d="M597 2223l7 14-5-39-7-13z"/><path class="O" d="M590 2228l7-5-5-38-7 5z"/><path class="M" d="M583 2252l7-24-5-38-7 24z"/><path class="H" d="M577 2290l6-38-5-38-7 37z"/><path class="A" d="M570 2332l7-42-6-39-6 43z"/><path class="y" d="M882 2245l7-42-5-44-7 43z"/><path class="r" d="M875 2283l7-38-5-43-7 38z"/><path class="m" d="M869 2307l6-24-5-43-7 24z"/><path class="k" d="M862 2312l7-5-6-43-7 5z"/><path class="l" d="M855 2298l7 14-6-43-6-14z"/><path class="p" d="M848 2271l7 27-5-43-7-28z"/><path class="v" d="M841 2239l7 32-5-44-7-32z"/><path class="A" d="M834 2214l7 25-5-44-7-25z"/><path class="D" d="M828 2205l6 9-5-44-7-9z"/><path class="E" d="M821 2215l7-10-6-44-6 11z"/><path class="B" d="M814 2241l7-26-5-43-7 26z"/><path class="x" d="M807 2272l7-31-5-43-7 31z"/><path class="s" d="M800 2295l7-23-5-43-7 22z"/><path class="q" d="M793 2300l7-5-5-44-7 5z"/><path class="s" d="M787 2287l6 13-5-44-7-13z"/><path class="v" d="M780 2266l7 21-6-44-6-20z"/><path class="y" d="M773 2255l7 11-5-43-7-12z"/><path class="z" d="M766 2262l7-7-5-44-7 7z"/><path class="x" d="M759 2281l7-19-5-44-7 20z"/><path class="v" d="M746 2287l6 6 7-12-5-43-7 11-7-6z"/><path class="w" d="M732 2289l7-6 7 4-6-44-6-3-7 6z"/><path class="v" d="M725 2295l7-6-5-43-7 6z"/><path class="w" d="M718 2292l7 3-5-43-7-4z"/><path class="x" d="M705 2298l6-12 7 6-5-44-7-6-7 12z"/><path class="v" d="M698 2317l7-19-6-44-6 19z"/><path class="t" d="M691 2324l7-7-5-44-7 7z"/><path class="u" d="M684 2312l7 12-5-44-7-11z"/><path class="x" d="M677 2292l7 20-5-43-7-21z"/><path class="A" d="M670 2279l7 13-5-44-7-13z"/><path class="B" d="M664 2284l6-5-5-44-7 5z"/><path class="z" d="M657 2306l7-22-6-44-6 23z"/><path class="v" d="M650 2337l7-31-5-43-7 31z"/><path class="r" d="M643 2363l7-26-5-43-7 26z"/><path class="o" d="M630 2365l6 9 7-11-5-43-7 10-7-9z"/><path class="r" d="M623 2340l7 25-6-44-6-25z"/><path class="x" d="M616 2308l7 32-5-44-7-32z"/><path class="C" d="M609 2280l7 28-5-44-7-27z"/><path class="G" d="M602 2266l7 14-5-43-7-14z"/><path class="H" d="M595 2271l7-5-5-43-7 5z"/><path class="F" d="M589 2295l6-24-5-43-7 24z"/><path class="A" d="M582 2333l7-38-6-43-6 38z"/><path class="u" d="M575 2376l7-43-5-43-7 42z"/></g>
<path class="ax" d="M889 2371l-314 112-239-150 0-309M575 2483l10 6M575 2483l-11 4M732 2427l10 6M455 2408l-11 4M889 2371l10 6M336 2333l-11 4M336 2333l-11 4M336 2249l-11 4M336 2165l-11 4M336 2081l-11 4"/></g><text x="59.8" y="255.5">−500</text><text class="te" x="55" y="255.4">−500</text><text x="75.5" y="249.9">0</text><text class="te" x="43" y="247.9">0</text><text x="91.2" y="244.3">500</text><text class="te" x="31.1" y="240.4">500</text><text class="te" x="30.6" y="235.2">−1000</text><text class="te" x="30.6" y="226.8">−500</text><text class="te" x="30.6" y="218.4">0</text><text class="te" x="30.6" y="210">500</text><text class="tm lb" x="88.8" y="260.2">x<tspan class="sub" dy="2.2">1</tspan></text><text class="tm lb" x="28.5" y="258.5">x<tspan class="sub" dy="2.2">2</tspan></text><text class="tm lb" transform="translate(9 217.9) rotate(-90)">F8( x<tspan class="sub" dy="2.2">1</tspan><tspan dy="-2.2"> , x</tspan><tspan class="sub" dy="2.2">2</tspan><tspan dy="-2.2"> )</tspan></text></g>
<g id="F9"><g transform="scale(.1)"><path class="gr" d="M1477 2491l-270-150M1207 2341l0-323M1477 2491l355-106M1832 2385l0-323M1654 2438l-270-150M1384 2288l0-323M1342 2416l355-106M1697 2310l0-323M1832 2385l-270-150M1562 2235l0-323M1207 2341l355-106M1562 2235l0-323M1207 2341l355-106M1562 2235l270 150M1207 2140l355-106M1562 2034l270 150"/>
<g class="ct" style="stroke-width:4.5"><path class="l" d="M1594 2435l-5 0-1-3 8 0-2 3M1630 2425l-7-1 0-3 9 1-2 3M1665 2414l-6 0 0-4 7 1-1 3M1534 2432l-11-1-1-3 2-2 5-1 8 2-3 5M1571 2422l-15-1-2-3 4-4 16 2 1 3-4 3M1607 2412l-16-1-2-4 4-3 17 1 1 4-4 3M1642 2401l-15-1-2-3 4-4 9 0 7 2 0 3-3 3M1676 2390l-12-1-1-3 3-3 12 2-2 5M1495 2441l-3-1 0-1 5 0-2 2M1708 2377l-4 0 1-2 4 1-1 1M1472 2428l-11-1-1-4 6-2 9 1 0 2-3 4M1501 2419l-8-2-2-4 3-3 19 1 1 4-4 3-9 1M1538 2409l-11-2-2-3 3-6 23 2-1 5-4 3-8 1M1574 2398l-13-1-2-4 3-6 24 2 0 6-4 3-8 0M1610 2388l-14-2 0-6 3-3 21 2 2 3-5 5-7 1M1644 2377l-10-2-1-5 3-3 18 2 1 3-3 4-8 1M1685 2364l-13 0-1-3 3-3 11 1 2 1-2 4M1522 2395l-25-2-1-4 3-7 28 2-2 7-3 4M1558 2384l-28-1 3-12 30 2-5 11M1593 2373l-27-1 4-11 26 2 0 7-3 3M1447 2413l-15-1-2-3 3-3 17 1 1 4-4 2M1476 2404l-12-2-1-3 3-5 23 1-1 6-4 3-8 0M1618 2362l-14-1 0-6 4-3 21 2 1 4-4 4-8 0M1652 2351l-9-2-1-4 4-3 15 2 1 3-2 3-8 1M1407 2422l-5-1 0-2 7 0-2 3M1691 2337l-7 0 2-3 5 1 0 2M1458 2390l-21-2-1-6 3-3 24 1-1 7-4 3M1496 2380l-27-2 1-7 2-4 29 1-5 12M1533 2370l-31-2 4-12 21 1 10 1-4 12M1567 2359l-29-1 5-12 10 0 17 2-3 11M1600 2347l-24-1 0-4 5-6 14 1 7 1 2 4-4 5M1420 2399l-16-2-1-3 3-3 17 1 2 3-5 4M1625 2336l-9-2-1-4 4-3 16 2 1 3-3 3-8 1M1381 2407l-7 0 0-4 10 1-3 3M1656 2323l2-4 7 0 0 4-9 0M1431 2374l-13 0-8-2-1-3 4-5 22 1 0 6-4 3M1469 2365l-26-2-1-4 4-6 27 1-4 11M1506 2355l-30-2 5-11 18 0 10 1-3 12M1540 2344l-28-2 2-7 3-4 9 0 16 2 1 4-3 7M1573 2332l-23-1 0-4 5-5 12 0 8 2 1 3-3 5M1393 2384l-15-2-1-3 2-3 8-1 9 2 1 3-4 4M1598 2321l-9-2-1-4 4-2 15 1 2 3-3 3-8 1M1353 2392l-5-1 0-2 7 0-2 3M1637 2307l-7 0 2-3 5 1 0 2M1440 2349l-14 0-7-2-2-3 5-5 21 1 1 3-4 6M1477 2339l-24-2-1-4 5-5 21 1 2 4-3 6M1511 2328l-23-2 0-3 5-5 19 1 2 3-3 6M1365 2368l-12-1 0-4 14-1 1 3-3 3M1394 2359l-9-2-1-3 3-4 18 1 2 3-4 5-9 0M1537 2317l-11-2-1-4 4-3 17 1 2 3-3 4-8 1M1578 2304l-9 1-5-1 0-2 3-4 10 1 2 1-1 4M1373 2343l-12-3 2-4 8 0 4 1 1 2-3 4M1402 2333l-8-2 0-3 3-3 15 1 2 3-4 4-8 0M1438 2323l-9-2-1-4 4-3 16 1 2 3-4 4-8 1M1473 2312l-8-2-1-3 4-3 15 1 2 3-4 4-8 0M1515 2300l-8 0-5-1 0-2 3-3 9 0 3 2-2 4M1334 2351l-4-1 1-1 4 0-1 2M1547 2287l-5 0 2-2 3 1 0 1M1416 2306l-9-2 2-3 7 1 0 4M1380 2316l-7-1 1-3 6 0 0 4M1451 2294l-8 0 2-3 5 0 1 3"/><path class="x" d="M1542 2472l0-5 13 1M1575 2462l-3-4 3-4 12 0 7 2M1608 2452l-2-3 1-7 24 3M1643 2442l-3-4 1-7 25 3M1678 2431l-2-3 2-7 23 3M1715 2420l-2-5 4-3 17 2M1754 2408l-1-3 2-2 12 1M1567 2450l-26-1-2-11-15-2-9 0-8 11-30-2 1-8-2-3-15-2-9 0-9 10-25-2-2-12-28-3 0-11-28-3 1-12-27-4 1-12-25-3-1-4 3-7 26-1 4-6-1-3-26-4 4-12 27 0 4-6 0-4-25-4 2-7 3-4 27 0 6-11 28 0 7-11 29 0 7-11 30 1 8-10 26 1 2 11 9 1 15 1 8-11 30 2-1 8 2 3 8 2 16 0 9-10 25 2 2 12 28 3 0 11 28 3-1 12 27 4-1 12 25 3 1 4-3 7-26 1-4 6 1 3 26 4-4 12-27 0-4 6 0 4 25 4-2 7-3 4-27 0-6 11-28 0-7 11-29 0-7 11-30-1-8 10M1491 2468l-12-1-2-3 2-2 8-1 7 2 0 2-3 3M1521 2460l-11-2-2-3 1-7 27 2-3 7-4 2-8 1M1734 2396l-15 0 0-4 3-7 23 3 0 5-3 3-8 0M1775 2383l-14 0-2-3 4-3 10 1 4 1-2 4M1567 2437l5 1 2-7-2-3-19-1-5 4 0 4 19 2M1674 2405l5 1 3-7-2-3-21-1-4 4 1 4 18 2M1592 2426l13 0 4-5-3-3-17-1-4 3 1 4 6 2M1628 2415l13 0 4-5-3-3-17-1-4 4 1 3 6 2M1458 2455l-10-1-2-4 1-6 27 2-3 6-4 3-9 0M1743 2371l-16-1 1-7 3-4 22 3 1 4-3 4-8 1M1782 2357l-12 0-1-2 4-3M1418 2458l13 1-4 4M1494 2432l13 0 3-5-2-3-17-1-4 3 0 4 7 2M1532 2421l8-1 3-4-2-2-13-1-3 3 0 3 7 2M1571 2409l5-2 0-3-12-1-2 4 9 2M1607 2399l5-2 0-4-13 0-1 4 9 2M1640 2389l7-1 4-3-2-3-14-1-3 4 1 2 7 2M1673 2379l11 0 5-5-2-3-19-1-3 3 1 4 7 2M1758 2344l-18-1-1-5 4-2M1444 2428l4-4-2-4-10-2-9 0-4 3-2 6 23 1M1693 2354l5-3 1-7-23 0-3 3 1 4 19 3M1388 2442l8-1 11 2 1 3-5 4M1470 2416l8 0 2-4-5-3-10 0-3 3 0 3 8 1M1511 2404l1-4-9-1-2 4 10 1M1618 2372l1-4-9 0-2 3 10 1M1649 2363l6 0 4-3-1-4-15 0-2 1 0 4 8 2M1539 2392l6 0 0-2-5 0-1 2M1575 2381l5 1 1-3-5 0-1 2M1732 2330l-24 0 3-7 4-3M1360 2426l25 0-3 7-5 3M1405 2413l12-1 3-4-2-3-17-2-5 5 1 3 8 2M1446 2400l4-1 1-4-12-1-3 4 1 1 9 1M1625 2347l4-1 0-4-13 0-1 4 10 1M1655 2338l10 0 4-3 0-5-20-1-3 4 2 3 7 2M1476 2387l6 1 0-2-4-1-2 2M1515 2376l1 0-1 0M1550 2365l1 0-1 0M1584 2355l5 1 1-2-6-1 0 2M1706 2315l-26 0 4-7 4-3M1333 2411l26 0-4 7-4 3M1378 2398l12-1 3-4-2-3-17-2-4 3 0 5 8 2M1420 2385l3-1 0-4-11-1-3 4 1 1 10 1M1598 2332l3-1 1-4-13 0-1 4 10 1M1628 2323l10 0 4-3 0-5-20-1-3 4 2 3 7 2M1449 2372l6 1 0-2-5-1-1 2M1488 2361l1 0-1 0M1523 2350l1 0-1 0M1557 2340l4 1 2-2-6-1 0 2M1679 2300l-25 0 3-7 5-3M1307 2396l24 0-3 7-4 3M1350 2383l13-1 4-4-2-3-20-3-4 3-1 7 10 1M1390 2371l6-1 2-1 0-4-14-2-4 3 1 4 9 1M1569 2317l8-2 0-4-8-1-8 0-2 3 1 3 9 1M1600 2308l12 0 4-3 2-6-24-1-3 5 2 3 7 2M1420 2358l9 0 2-3-10-1-1 4M1458 2347l5 0 1-2-5-1-1 3M1494 2336l5 0 1-2-6 0 0 2M1527 2326l9 1 2-4-10-1-1 4M1651 2284l-8 1-11-2-1-3 5-4M1281 2382l18 1 1 5-4 2M1360 2357l11-1 3-3-1-4-18-2-5 5 2 3 8 2M1400 2345l6-2 0-4-14-1-4 3 2 3 10 1M1438 2334l3-5-9-2-5 2 0 4 11 1M1473 2323l4-5-9-1-5 2 0 3 10 1M1507 2313l6-2 1-4-15-1-3 3 2 3 9 1M1539 2303l9 0 4-3 0-4-20-2-3 4 2 4 8 1M1308 2367l-22-3-1-5 3-3 8-1 16 1-1 7-3 4M1592 2282l-27-2 3-6 4-3 9 0 10 1 2 4-1 6M1621 2268l-13-1 4-4M1257 2369l12 0 1 2-4 3M1368 2331l12 0 3-3 0-5-23-3-3 7 2 3 9 1M1405 2320l9 0 4-3-1-4-19-2-3 3 2 5 8 1M1441 2310l9-1 4-3-1-4-19-2-3 3 2 5 8 2M1475 2299l11 0 4-3 1-5-24-3-2 7 2 3 8 1M1317 2341l-16-1-7-2-1-4 4-4 23 0 0 4-3 7M1530 2278l-27-2 3-7 4-2 11 0 8 1 2 3-1 7M1276 2349l-14-2 2-4 14 0 2 3-4 3M1552 2265l-7-2 0-2 3-3 10 0 3 2-1 4-8 1M1285 2318l1 3-2 2-12-1M1324 2306l2 5-4 3-17-2M1361 2295l2 3-2 7-23-3M1396 2284l3 4-1 7-25-3M1431 2274l2 3-1 7-24-3M1464 2264l3 3-3 5-12 0-7-2M1497 2254l0 5-13-1"/><path class="J" d="M1500 2484l-4-10-16-2-10 0-10 9M1525 2473l2 0 2-4-3-4-16-1-5 3 0 4 20 2M1774 2399l4-3 1-3-2-3-19 0-3 3 1 3 18 3M1821 2388l-1-5 4-2M1469 2487l8-1 11 2M1552 2461l6-1 1-4-11-1-3 4 7 2M1731 2407l5 0 3-2-2-3-12 0-2 4 8 1M1584 2447l7 1-1-2-4-1-2 2M1623 2436l1 0-1 0M1658 2425l1 0-1 0M1692 2415l5 1 1-2-5 0-1 1M1815 2375l-25 2-3 3-1 7 23 5M1449 2469l14-1 3-4-3-3-16-2-4 3-2 5 8 2M1493 2455l2 0-1-4-8 0-3 3 10 1M1742 2381l2 0 1-5-10 1-1 3 8 1M1771 2372l12 1 4-3 0-6-20 0-4 3 2 3 6 2M1428 2452l5-1 0-5-11 0-3 3 0 2 9 1M1749 2356l6-2 0-4-13 0-1 5 8 1M1396 2434l7 1 0-2-5-1-2 2M1717 2338l5 1 2-2-6 0-1 1M1372 2418l2 0-2 0M1692 2323l2 0-2 0M1345 2403l2 0-2 0M1665 2308l2 0-2 0M1315 2389l6 0 1-1-5-1-2 2M1636 2293l5 1 2-2-7-1 0 2M1296 2376l1 0 1-5-11-1-4 3 1 3 12 0M1616 2280l4-3 0-2-9-1-6 2 1 4 10 0M1262 2363l10-1 4-3-2-3-18-3-4 3 0 6 10 1M1583 2267l9 0 4-3 2-5-22-1-3 3 3 4 7 2M1294 2350l10-1 1-3-9-1-2 5M1545 2275l8 0 3-4-12 0 1 4M1271 2337l10-1 3-3-1-3-19-3-4 6 2 3 9 1M1314 2325l2-4-2-1-11-1-3 2 2 3 12 1M1491 2272l3-5-7-2-6 1-2 1 1 4 11 1M1521 2263l8-1 5-2 0-5-22-2-2 5 3 3 8 2M1224 2351l25-2 4-6 0-4-23-5M1341 2312l5 0 1-1-5-1-1 2M1380 2301l1 0-1 0M1415 2290l1 0-1 0M1449 2280l4 1 2-2-7-1 1 2M1570 2239l-8 1-11-2M1218 2338l2 3-5 4M1539 2242l4 10 16 2 10 0 10-9"/><path class="V" d="M1480 2478l2 1-2-1M1800 2383l2 0-2 0M1237 2343l2 0-2 0M1557 2248l2 0-2 0"/></g>
<g class="sf"><path class="L" d="M1542 2003l9-51-7 26-9 52z"/><path class="G" d="M1507 2044l9-49-7 26-9 50z"/><path class="D" d="M1471 2077l9-48-7 27-9 47z"/><path class="B" d="M1436 2101l8-45-6 27-9 45z"/><path class="A" d="M1400 2118l9-43-7 26-9 44z"/><path class="B" d="M1329 2127l9-39-7 26-9 40z"/><path class="E" d="M1240 2094l9 45-6 27-9-46z"/><path class="I" d="M1214 2114l9-33-7 26-9 33z"/><path class="Q" d="M1549 1976l9-51-7 27-9 51z"/><path class="I" d="M1540 2027l9-51-7 27-9 51z"/><path class="L" d="M1513 2017l9-50-6 28-9 49z"/><path class="E" d="M1505 2066l8-49-6 27-9 49z"/><path class="I" d="M1478 2050l9-48-7 27-9 48z"/><path class="B" d="M1469 2097l9-47-7 27-9 47z"/><path class="F" d="M1442 2074l9-45-7 27-8 45z"/><path class="z" d="M1434 2119l8-45-6 27-9 45z"/><path class="E" d="M1407 2091l9-44-7 28-9 43z"/><path class="y" d="M1398 2134l9-43-7 27-9 43z"/><path class="z" d="M1362 2141l9-41-6 27-9 41z"/><path class="G" d="M1336 2100l9-39-7 27-9 39z"/><path class="A" d="M1327 2139l9-39-7 27-9 39z"/><path class="I" d="M1300 2093l9-38-7 27-8 38z"/><path class="M" d="M1220 2087l9-33-6 27-9 33z"/><path class="L" d="M1573 2006l9 27-6-52-9-28z"/><path class="Q" d="M1564 1977l9 29-6-53-9-28z"/><path class="O" d="M1556 2029l8-52-6-52-9 51z"/><path class="H" d="M1547 2080l9-51-7-53-9 51z"/><path class="G" d="M1538 2050l9 30-7-53-9-29z"/><path class="L" d="M1529 2020l9 30-7-52-9-31z"/><path class="K" d="M1520 2070l9-50-7-53-9 50z"/><path class="D" d="M1511 2119l9-49-7-53-8 49z"/><path class="C" d="M1502 2087l9 32-6-53-9-32z"/><path class="H" d="M1494 2055l8 32-6-53-9-32z"/><path class="G" d="M1485 2102l9-47-7-53-9 48z"/><path class="A" d="M1476 2149l9-47-7-52-9 47z"/><path class="z" d="M1467 2116l9 33-7-52-9-34z"/><path class="E" d="M1449 2127l9-46 9 35-7-53-9-34-9 45z"/><path class="y" d="M1440 2172l9-45-7-53-8 45z"/><path class="x" d="M1431 2136l9 36-6-53-9-35z"/><path class="D" d="M1414 2144l8-44 9 36-6-52-9-37-9 44z"/><path class="x" d="M1396 2149l9 38 9-43-7-53-9 43-9-38z"/><path class="D" d="M1378 2152l9-41 9 38-7-53-9-38-9 42z"/><path class="x" d="M1369 2193l9-41-7-52-9 41z"/><path class="y" d="M1360 2154l9 39-7-52-8-40z"/><path class="E" d="M1343 2153l9-40 8 41-6-53-9-40-9 39z"/><path class="z" d="M1334 2192l9-39-7-53-9 39z"/><path class="A" d="M1325 2150l9 42-7-53-9-42z"/><path class="G" d="M1316 2108l9 42-7-53-9-42z"/><path class="H" d="M1307 2145l9-37-7-53-9 38z"/><path class="D" d="M1289 2139l9 43-6-52-9-44z"/><path class="K" d="M1280 2094l9 45-6-53-9-44z"/><path class="L" d="M1272 2130l8-36-6-52-9 35z"/><path class="H" d="M1254 2119l9 46-7-53-9-46z"/><path class="O" d="M1245 2073l9 46-7-53-9-46z"/><path class="Q" d="M1236 2106l9-33-7-53-9 34z"/><path class="L" d="M1227 2139l9-33-7-52-9 33z"/><path class="I" d="M1571 2030l9 28-7-52-9-29z"/><path class="H" d="M1562 2081l9-51-7-53-8 52z"/><path class="A" d="M1554 2132l8-51-6-52-9 51z"/><path class="D" d="M1536 2072l9 31-7-53-9-30z"/><path class="C" d="M1527 2122l9-50-7-52-9 50z"/><path class="v" d="M1518 2171l9-49-7-52-9 49z"/><path class="A" d="M1500 2107l9 32-7-52-8-32z"/><path class="z" d="M1491 2155l9-48-6-52-9 47z"/><path class="x" d="M1456 2179l9-45 9 34-7-52-9-35-9 46z"/><path class="w" d="M1420 2196l9-44 9 36-7-52-9-36-8 44z"/><path class="w" d="M1385 2204l9-41 9 38-7-52-9-38-9 41z"/><path class="x" d="M1349 2205l9-40 9 41-7-52-8-41-9 40z"/><path class="z" d="M1323 2160l9 42-7-52-9-42z"/><path class="A" d="M1314 2197l9-37-7-52-9 37z"/><path class="C" d="M1287 2147l9 44-7-52-9-45z"/><path class="D" d="M1278 2182l9-35-7-53-8 36z"/><path class="H" d="M1252 2125l9 46-7-52-9-46z"/><path class="I" d="M1243 2158l9-33-7-52-9 33z"/><path class="E" d="M1234 2191l9-33-7-52-9 33z"/><path class="G" d="M1569 2053l9-52-7 29-9 51z"/><path class="z" d="M1560 2104l9-51-7 28-8 51z"/><path class="B" d="M1534 2093l8-49-6 28-9 50z"/><path class="y" d="M1498 2126l9-48-7 29-9 48z"/><path class="w" d="M1463 2151l8-46-6 29-9 45z"/><path class="u" d="M1427 2167l9-43-7 28-9 44z"/><path class="x" d="M1276 2188l9-35-7 29-8 35z"/><path class="z" d="M1267 2143l9 45-6 29-9-46z"/><path class="H" d="M1250 2130l8-34-6 29-9 33z"/><path class="D" d="M1241 2163l9-33-7 28-9 33z"/><path class="L" d="M1576 2023l9-51-7 29-9 52z"/><path class="D" d="M1567 2075l9-52-7 30-9 51z"/><path class="G" d="M1540 2064l9-49-7 29-8 49z"/><path class="z" d="M1532 2113l8-49-6 29-9 49z"/><path class="D" d="M1505 2097l9-48-7 29-9 48z"/><path class="w" d="M1496 2144l9-47-7 29-9 47z"/><path class="A" d="M1469 2121l9-45-7 29-8 46z"/><path class="u" d="M1460 2166l9-45-6 30-9 45z"/><path class="z" d="M1434 2138l9-43-7 29-9 43z"/><path class="t" d="M1425 2181l9-43-7 29-9 43z"/><path class="z" d="M1398 2147l9-42-7 29-8 42z"/><path class="u" d="M1390 2188l8-41-6 29-9 41z"/><path class="D" d="M1327 2140l9-38-6 29-9 38z"/><path class="H" d="M1248 2134l8-33-6 29-9 33z"/><path class="G" d="M1600 2051l9 27-7-50-8-28z"/><path class="L" d="M1591 2023l9 28-6-51-9-28z"/><path class="K" d="M1583 2074l8-51-6-51-9 51z"/><path class="C" d="M1574 2125l9-51-7-51-9 52z"/><path class="B" d="M1565 2095l9 30-7-50-9-30z"/><path class="G" d="M1556 2065l9 30-7-50-9-30z"/><path class="F" d="M1547 2115l9-50-7-50-9 49z"/><path class="y" d="M1538 2164l9-49-7-51-8 49z"/><path class="x" d="M1529 2132l9 32-6-51-9-32z"/><path class="C" d="M1512 2147l8-47 9 32-6-51-9-32-9 48z"/><path class="v" d="M1503 2194l9-47-7-50-9 47z"/><path class="u" d="M1494 2161l9 33-7-50-9-34z"/><path class="A" d="M1485 2127l9 34-7-51-9-34z"/><path class="z" d="M1476 2172l9-45-7-51-9 45z"/><path class="t" d="M1458 2181l9 36 9-45-7-51-9 45-8-35z"/><path class="y" d="M1441 2189l9-44 8 36-6-50-9-36-9 43z"/><path class="s" d="M1423 2194l9 38 9-43-7-51-9 43-9-38z"/><path class="y" d="M1405 2197l9-41 9 38-7-51-9-38-9 42z"/><path class="t" d="M1387 2199l9 39-6-50-9-40z"/><path class="z" d="M1379 2158l8 41-6-51-9-40z"/><path class="A" d="M1370 2198l9-40-7-50-9 39z"/><path class="v" d="M1352 2195l9 42-7-51-9-41z"/><path class="C" d="M1334 2190l9-37 9 42-7-50-9-43-9 38z"/><path class="y" d="M1316 2184l9 43-7-50-8-44z"/><path class="F" d="M1308 2139l8 45-6-51-9-44z"/><path class="G" d="M1299 2175l9-36-7-50-9 35z"/><path class="C" d="M1281 2164l9 46-7-51-9-45z"/><path class="K" d="M1272 2118l9 46-7-50-9-47z"/><path class="L" d="M1263 2151l9-33-7-51-9 34z"/><path class="G" d="M1254 2184l9-33-7-50-8 33z"/><path class="E" d="M1598 2073l9 28-7-50-9-28z"/><path class="D" d="M1589 2124l9-51-7-50-8 51z"/><path class="z" d="M1563 2115l9 31-7-51-9-30z"/><path class="y" d="M1554 2165l9-50-7-50-9 50z"/><path class="v" d="M1518 2198l9-48 9 32-7-50-9-32-8 47z"/><path class="t" d="M1492 2177l9 34-7-50-9-34z"/><path class="s" d="M1483 2222l9-45-7-50-9 45z"/><path class="r" d="M1447 2239l9-44 9 37-7-51-8-36-9 44z"/><path class="r" d="M1421 2206l9 38-7-50-9-38z"/><path class="s" d="M1412 2247l9-41-7-50-9 41z"/><path class="s" d="M1385 2209l9 40-7-50-8-41z"/><path class="t" d="M1376 2248l9-39-6-51-9 40z"/><path class="v" d="M1341 2241l9-38-7-50-9 37z"/><path class="y" d="M1314 2190l9 44-7-50-8-45z"/><path class="z" d="M1305 2225l9-35-6-51-9 36z"/><path class="D" d="M1279 2168l9 46-7-50-9-46z"/><path class="E" d="M1270 2202l9-34-7-50-9 33z"/><path class="z" d="M1261 2235l9-33-7-51-9 33z"/><path class="C" d="M1596 2094l9-52-7 31-9 51z"/><path class="x" d="M1561 2134l9-49-7 30-9 50z"/><path class="u" d="M1525 2167l9-48-7 31-9 48z"/><path class="q" d="M1454 2208l9-43-7 30-9 44z"/><path class="q" d="M1330 2203l9 44-7 31-9-44z"/><path class="t" d="M1303 2229l9-35-7 31-9 35z"/><path class="v" d="M1294 2184l9 45-7 31-8-46z"/><path class="D" d="M1277 2171l9-34-7 31-9 34z"/><path class="z" d="M1268 2204l9-33-7 31-9 33z"/><path class="H" d="M1603 2063l9-52-7 31-9 52z"/><path class="A" d="M1594 2114l9-51-7 31-9 51z"/><path class="C" d="M1567 2103l9-49-6 31-9 49z"/><path class="v" d="M1558 2152l9-49-6 31-9 49z"/><path class="z" d="M1532 2136l9-48-7 31-9 48z"/><path class="q" d="M1488 2206l8-45-6 31-9 45z"/><path class="w" d="M1461 2177l9-43-7 31-9 43z"/><path class="w" d="M1425 2186l9-42-6 31-9 42z"/><path class="A" d="M1301 2153l9 45-7 31-9-45z"/><path class="E" d="M1274 2173l9-33-6 31-9 33z"/><path class="D" d="M1627 2088l9 28-6-49-9-28z"/><path class="I" d="M1618 2060l9 28-6-49-9-28z"/><path class="G" d="M1610 2111l8-51-6-49-9 52z"/><path class="z" d="M1601 2162l9-51-7-48-9 51z"/><path class="y" d="M1592 2133l9 29-7-48-9-30z"/><path class="D" d="M1583 2102l9 31-7-49-9-30z"/><path class="C" d="M1574 2152l9-50-7-48-9 49z"/><path class="v" d="M1565 2201l9-49-7-49-9 49z"/><path class="u" d="M1556 2169l9 32-7-49-8-31z"/><path class="z" d="M1548 2137l8 32-6-48-9-33z"/><path class="y" d="M1539 2185l9-48-7-49-9 48z"/><path class="s" d="M1530 2232l9-47-7-49-9 47z"/><path class="r" d="M1521 2198l9 34-7-49-9-34z"/><path class="w" d="M1503 2209l9-45 9 34-7-49-9-34-9 46z"/><path class="q" d="M1494 2254l9-45-7-48-8 45z"/><path class="v" d="M1468 2226l8-44 9 36-6-48-9-36-9 43z"/><path class="p" d="M1450 2231l9 38-7-49-9-38z"/><path class="v" d="M1432 2234l9-41 9 38-7-49-9-38-9 42z"/><path class="q" d="M1414 2236l9 39-7-48-8-40z"/><path class="w" d="M1397 2235l9-40 8 41-6-49-9-40-9 39z"/><path class="y" d="M1370 2190l9 42-7-48-9-43z"/><path class="z" d="M1361 2227l9-37-7-49-9 38z"/><path class="C" d="M1334 2177l9 44-6-49-9-44z"/><path class="D" d="M1326 2212l8-35-6-49-9 35z"/><path class="z" d="M1308 2201l9 46-7-49-9-45z"/><path class="G" d="M1299 2155l9 46-7-48-9-47z"/><path class="I" d="M1290 2189l9-34-7-49-9 34z"/><path class="D" d="M1281 2222l9-33-7-49-9 33z"/><path class="B" d="M1625 2108l9 28-7-48-9-28z"/><path class="A" d="M1616 2159l9-51-7-48-8 51z"/><path class="w" d="M1590 2150l9 31-7-48-9-31z"/><path class="v" d="M1581 2200l9-50-7-48-9 50z"/><path class="s" d="M1545 2233l9-48 9 32-7-48-8-32-9 48z"/><path class="q" d="M1519 2212l9 34-7-48-9-34z"/><path class="p" d="M1510 2257l9-45-7-48-9 45z"/><path class="o" d="M1439 2283l9-42 9 38-7-48-9-38-9 41z"/><path class="q" d="M1403 2283l9-39-6-49-9 40z"/><path class="v" d="M1341 2225l9 44-7-48-9-44z"/><path class="w" d="M1332 2260l9-35-7-48-8 35z"/><path class="A" d="M1306 2203l9 46-7-48-9-46z"/><path class="B" d="M1297 2237l9-34-7-48-9 34z"/><path class="w" d="M1288 2270l9-33-7-48-9 33z"/><path class="z" d="M1623 2127l9-52-7 33-9 51z"/><path class="u" d="M1588 2167l8-49-6 32-9 50z"/><path class="r" d="M1552 2200l9-47-7 32-9 48z"/><path class="k" d="M1392 2248l9 41-7 33-8-42z"/><path class="n" d="M1357 2236l9 44-7 33-9-44z"/><path class="r" d="M1330 2263l9-35-7 32-8 35z"/><path class="s" d="M1321 2217l9 46-6 32-9-46z"/><path class="w" d="M1295 2237l9-33-7 33-9 33z"/><path class="E" d="M1630 2094l9-52-7 33-9 52z"/><path class="x" d="M1621 2145l9-51-7 33-9 51z"/><path class="A" d="M1594 2134l9-49-7 33-8 49z"/><path class="t" d="M1586 2183l8-49-6 33-9 49z"/><path class="w" d="M1559 2167l9-48-7 34-9 47z"/><path class="q" d="M1550 2214l9-47-7 33-9 47z"/><path class="u" d="M1523 2192l9-46-7 33-8 46z"/><path class="x" d="M1328 2184l9 45-7 34-9-46z"/><path class="B" d="M1302 2204l8-33-6 33-9 33z"/><path class="B" d="M1654 2117l9 28-7-47-8-28z"/><path class="F" d="M1645 2089l9 28-6-47-9-28z"/><path class="E" d="M1637 2140l8-51-6-47-9 52z"/><path class="x" d="M1628 2191l9-51-7-46-9 51z"/><path class="w" d="M1619 2162l9 29-7-46-9-30z"/><path class="A" d="M1610 2131l9 31-7-47-9-30z"/><path class="z" d="M1601 2181l9-50-7-46-9 49z"/><path class="s" d="M1583 2198l9 32 9-49-7-47-8 49-9-31z"/><path class="x" d="M1574 2166l9 32-6-46-9-33z"/><path class="w" d="M1566 2214l8-48-6-47-9 48z"/><path class="p" d="M1548 2227l9 34 9-47-7-47-9 47-9-34z"/><path class="u" d="M1530 2238l9-45 9 34-7-47-9-34-9 46z"/><path class="t" d="M1495 2255l9-44 8 37-6-47-9-36-9 43z"/><path class="t" d="M1459 2263l9-41 9 38-7-47-9-38-9 42z"/><path class="u" d="M1424 2264l8-40-6-46-9 39z"/><path class="w" d="M1397 2219l9 42-7-46-9-43z"/><path class="x" d="M1388 2257l9-38-7-47-9 38z"/><path class="z" d="M1361 2206l9 44-6-47-9-44z"/><path class="A" d="M1353 2241l8-35-6-47-9 35z"/><path class="x" d="M1335 2230l9 46-7-47-9-45z"/><path class="E" d="M1326 2184l9 46-7-46-9-47z"/><path class="F" d="M1317 2218l9-34-7-47-9 34z"/><path class="B" d="M1308 2251l9-33-7-47-8 33z"/><path class="z" d="M1652 2135l9 28-7-46-9-28z"/><path class="y" d="M1643 2186l9-51-7-46-8 51z"/><path class="u" d="M1617 2177l9 31-7-46-9-31z"/><path class="t" d="M1608 2227l9-50-7-46-9 50z"/><path class="q" d="M1572 2260l9-48 9 32-7-46-9-32-8 48z"/><path class="o" d="M1546 2239l9 34-7-46-9-34z"/><path class="n" d="M1537 2284l9-45-7-46-9 45z"/><path class="m" d="M1501 2301l9-44-6-46-9 44z"/><path class="u" d="M1359 2287l9-35-7-46-8 35z"/><path class="y" d="M1333 2230l9 46-7-46-9-46z"/><path class="z" d="M1324 2264l9-34-7-46-9 34z"/><path class="u" d="M1315 2297l9-33-7-46-9 33z"/><path class="x" d="M1650 2152l9-52-7 35-9 51z"/><path class="h" d="M1455 2276l9 40-7 35-9-40z"/><path class="i" d="M1428 2315l9-39-7 34-8 39z"/><path class="j" d="M1419 2273l9 42-6 34-9-42z"/><path class="l" d="M1393 2305l9-37-7 35-9 37z"/><path class="m" d="M1384 2261l9 44-7 35-9-44z"/><path class="p" d="M1357 2288l9-35-7 34-9 35z"/><path class="q" d="M1348 2242l9 46-7 34-8-46z"/><path class="z" d="M1331 2229l9-33-7 34-9 34z"/><path class="u" d="M1322 2262l9-33-7 35-9 33z"/><path class="D" d="M1657 2117l9-52-7 35-9 52z"/><path class="r" d="M1612 2206l9-49-6 35-9 49z"/><path class="v" d="M1586 2190l9-48-7 36-9 47z"/><path class="w" d="M1355 2207l9 45-7 36-9-46z"/><path class="A" d="M1328 2227l9-33-6 35-9 33z"/><path class="A" d="M1681 2138l9 28-6-45-9-28z"/><path class="E" d="M1672 2110l9 28-6-45-9-28z"/><path class="D" d="M1664 2161l8-51-6-45-9 52z"/><path class="w" d="M1655 2212l9-51-7-44-9 51z"/><path class="u" d="M1646 2183l9 29-7-44-9-30z"/><path class="z" d="M1637 2152l9 31-7-45-9-30z"/><path class="y" d="M1628 2202l9-50-7-44-9 49z"/><path class="r" d="M1619 2251l9-49-7-45-9 49z"/><path class="q" d="M1610 2219l9 32-7-45-8-31z"/><path class="w" d="M1602 2187l8 32-6-44-9-33z"/><path class="v" d="M1593 2235l9-48-7-45-9 48z"/><path class="o" d="M1575 2248l9 34-7-45-9-34z"/><path class="t" d="M1557 2259l9-45 9 34-7-45-9-34-9 46z"/><path class="s" d="M1522 2276l8-44 9 37-6-45-9-36-9 43z"/><path class="w" d="M1415 2278l9-38-7-45-9 38z"/><path class="y" d="M1388 2227l9 44-6-45-9-44z"/><path class="z" d="M1380 2262l8-35-6-45-9 35z"/><path class="w" d="M1362 2251l9 46-7-45-9-45z"/><path class="D" d="M1353 2205l9 46-7-44-9-47z"/><path class="E" d="M1344 2239l9-34-7-45-9 34z"/><path class="A" d="M1335 2272l9-33-7-45-9 33z"/><path class="y" d="M1679 2154l9 28-7-44-9-28z"/><path class="x" d="M1670 2205l9-51-7-44-8 51z"/><path class="t" d="M1644 2196l9 31-7-44-9-31z"/><path class="s" d="M1635 2246l9-50-7-44-9 50z"/><path class="q" d="M1608 2231l9 32-7-44-8-32z"/><path class="p" d="M1599 2279l9-48-6-44-9 48z"/><path class="n" d="M1564 2303l9-45-7-44-9 45z"/><path class="x" d="M1360 2249l9 46-7-44-9-46z"/><path class="y" d="M1351 2283l9-34-7-44-9 34z"/><path class="u" d="M1342 2316l9-33-7-44-9 33z"/><path class="x" d="M1677 2169l9-52-7 37-9 51z"/><path class="g" d="M1517 2289l9 37-6 37-9-38z"/><path class="g" d="M1482 2293l9 40 9-41-7 37-9 41-9-40z"/><path class="i" d="M1446 2290l9 42 9-39-7 36-9 39-8-42z"/><path class="k" d="M1420 2322l9-37-7 37-9 37z"/><path class="l" d="M1411 2278l9 44-7 37-9-44z"/><path class="t" d="M1393 2270l9-36-7 37-9 35z"/><path class="o" d="M1384 2305l9-35-7 36-8 35z"/><path class="q" d="M1375 2259l9 46-6 36-9-46z"/><path class="y" d="M1358 2246l8-33-6 36-9 34z"/><path class="u" d="M1349 2279l9-33-7 37-9 33z"/><path class="D" d="M1684 2132l9-52-7 37-9 52z"/><path class="y" d="M1648 2172l9-49-7 37-8 49z"/><path class="r" d="M1418 2241l8 44-6 37-9-44z"/><path class="u" d="M1391 2267l9-35-7 38-9 35z"/><path class="w" d="M1382 2222l9 45-7 38-9-46z"/><path class="A" d="M1355 2242l9-33-6 37-9 33z"/><path class="A" d="M1708 2151l9 28-7-43-8-28z"/><path class="E" d="M1700 2123l8 28-6-43-9-28z"/><path class="D" d="M1691 2174l9-51-7-43-9 52z"/><path class="w" d="M1682 2225l9-51-7-42-9 51z"/><path class="v" d="M1673 2196l9 29-7-42-9-30z"/><path class="z" d="M1664 2165l9 31-7-43-9-30z"/><path class="y" d="M1655 2215l9-50-7-42-9 49z"/><path class="r" d="M1637 2232l9 32-6-43-9-31z"/><path class="w" d="M1628 2200l9 32-6-42-9-33z"/><path class="v" d="M1620 2248l8-48-6-43-9 48z"/><path class="t" d="M1584 2272l9-45 9 34-7-43-9-34-9 46z"/><path class="y" d="M1415 2240l9 44-6-43-9-44z"/><path class="z" d="M1407 2275l8-35-6-43-9 35z"/><path class="D" d="M1380 2218l9 46-7-42-9-47z"/><path class="E" d="M1371 2252l9-34-7-43-9 34z"/><path class="A" d="M1362 2285l9-33-7-43-9 33z"/><path class="z" d="M1706 2165l9 28-7-42-8-28z"/><path class="x" d="M1697 2216l9-51-6-42-9 51z"/><path class="u" d="M1671 2207l9 31-7-42-9-31z"/><path class="t" d="M1662 2257l9-50-7-42-9 50z"/><path class="p" d="M1626 2290l9-48-7-42-8 48z"/><path class="x" d="M1387 2260l9 46-7-42-9-46z"/><path class="z" d="M1378 2294l9-34-7-42-9 34z"/><path class="u" d="M1369 2327l9-33-7-42-9 33z"/><path class="h" d="M1580 2285l9 36-7 38-9-35z"/><path class="g" d="M1544 2298l9 37 9-43-7 39-9 43-8-38z"/><path class="h" d="M1509 2302l9 40 9-41-7 39-9 41-9-40z"/><path class="i" d="M1482 2341l9-40-7 39-8 39z"/><path class="j" d="M1473 2299l9 42-6 38-9-42z"/><path class="l" d="M1447 2331l9-37-7 39-9 37z"/><path class="m" d="M1438 2287l9 44-7 39-9-44z"/><path class="u" d="M1420 2279l9-36-7 39-9 35z"/><path class="p" d="M1411 2314l9-35-7 38-8 35z"/><path class="q" d="M1402 2268l9 46-6 38-9-46z"/><path class="z" d="M1385 2255l9-33-7 38-9 34z"/><path class="u" d="M1376 2288l9-33-7 39-9 33z"/><path class="E" d="M1711 2139l9-52-7 39-9 52z"/><path class="n" d="M1516 2263l8 40-6 39-9-40z"/><path class="p" d="M1480 2260l9 41-7 40-9-42z"/><path class="s" d="M1445 2248l9 44 8-37-6 39-9 37-9-44z"/><path class="w" d="M1418 2274l9-35-7 40-9 35z"/><path class="x" d="M1409 2229l9 45-7 40-9-46z"/><path class="B" d="M1382 2249l9-33-6 39-9 33z"/><path class="B" d="M1735 2156l9 28-6-41-9-28z"/><path class="G" d="M1726 2128l9 28-6-41-9-28z"/><path class="E" d="M1718 2179l8-51-6-41-9 52z"/><path class="w" d="M1700 2201l9 29-7-40-9-30z"/><path class="B" d="M1691 2170l9 31-7-41-9-30z"/><path class="A" d="M1682 2220l9-50-7-40-9 49z"/><path class="x" d="M1655 2205l9 32-6-40-9-33z"/><path class="w" d="M1647 2253l8-48-6-41-9 48z"/><path class="v" d="M1620 2232l9 34-7-41-9-34z"/><path class="u" d="M1611 2277l9-45-7-41-9 46z"/><path class="t" d="M1576 2294l8-44 9 37-6-41-9-36-9 43z"/><path class="t" d="M1540 2302l9-41-7-41-9 42z"/><path class="A" d="M1442 2245l9 44-6-41-9-44z"/><path class="B" d="M1434 2280l8-35-6-41-9 35z"/><path class="E" d="M1407 2223l9 46-7-40-9-47z"/><path class="G" d="M1398 2257l9-34-7-41-9 34z"/><path class="B" d="M1389 2290l9-33-7-41-9 33z"/><path class="A" d="M1733 2168l9 28-7-40-9-28z"/><path class="z" d="M1724 2219l9-51-7-40-8 51z"/><path class="u" d="M1689 2260l9-50-7-40-9 50z"/><path class="z" d="M1414 2263l9 46-7-40-9-46z"/><path class="A" d="M1405 2297l9-34-7-40-9 34z"/><path class="w" d="M1396 2330l9-33-7-40-9 33z"/><path class="n" d="M1678 2237l9 31-7 41-9-32z"/><path class="l" d="M1651 2299l9-47-7 41-9 47z"/><path class="k" d="M1642 2265l9 34-7 41-8-34z"/><path class="j" d="M1607 2286l9 36 9-45-7 40-9 45-9-35z"/><path class="i" d="M1571 2299l9 37 9-43-7 41-8 43-9-38z"/><path class="j" d="M1536 2303l9 40 9-41-7 41-9 41-9-40z"/><path class="q" d="M1518 2302l9-39-7 41-9 39z"/><path class="k" d="M1509 2341l9-39-7 41-9 39z"/><path class="l" d="M1500 2300l9 41-7 41-8-42z"/><path class="s" d="M1483 2295l9-38-7 41-9 38z"/><path class="n" d="M1474 2332l9-37-7 41-9 37z"/><path class="o" d="M1465 2288l9 44-7 41-9-44z"/><path class="w" d="M1447 2280l9-36-7 41-9 35z"/><path class="r" d="M1438 2315l9-35-7 40-8 35z"/><path class="s" d="M1429 2269l9 46-6 40-9-46z"/><path class="B" d="M1412 2256l8-33-6 40-9 34z"/><path class="w" d="M1403 2289l9-33-7 41-9 33z"/><path class="p" d="M1578 2257l9 38-7 41-9-37z"/><path class="q" d="M1543 2262l8 40-6 41-9-40z"/><path class="r" d="M1507 2259l9 41 9-39-7 41-9 39-9-41z"/><path class="u" d="M1480 2291l9-37-6 41-9 37z"/><path class="v" d="M1472 2247l8 44-6 41-9-44z"/><path class="y" d="M1445 2273l9-35-7 42-9 35z"/><path class="z" d="M1436 2228l9 45-7 42-9-46z"/><path class="D" d="M1410 2248l8-33-6 41-9 33z"/><path class="E" d="M1762 2153l9 27-7-38-8-28z"/><path class="I" d="M1754 2125l8 28-6-39-9-28z"/><path class="H" d="M1745 2176l9-51-7-39-9 52z"/><path class="D" d="M1718 2167l9 30-7-38-9-30z"/><path class="C" d="M1709 2217l9-50-7-38-9 49z"/><path class="A" d="M1682 2202l9 32-6-38-9-33z"/><path class="z" d="M1674 2249l8-47-6-39-9 48z"/><path class="x" d="M1638 2274l9-45 9 34-7-39-9-34-9 46z"/><path class="w" d="M1603 2291l9-44 8 36-6-38-9-36-9 43z"/><path class="w" d="M1567 2299l9-41 9 38-7-39-9-38-9 42z"/><path class="x" d="M1532 2300l8-40-6-38-9 39z"/><path class="A" d="M1496 2292l9-37-7-39-9 38z"/><path class="D" d="M1461 2277l9-36-7-38-9 35z"/><path class="I" d="M1425 2253l9-33-7-39-9 34z"/><path class="E" d="M1416 2286l9-33-7-38-8 33z"/><path class="D" d="M1760 2163l9 28-7-38-8-28z"/><path class="C" d="M1751 2214l9-51-6-38-9 51z"/><path class="y" d="M1725 2205l9 31-7-39-9-30z"/><path class="x" d="M1716 2255l9-50-7-38-9 50z"/><path class="u" d="M1680 2288l9-48-7-38-8 47z"/><path class="s" d="M1645 2312l9-45-7-38-9 45z"/><path class="q" d="M1609 2329l9-44-6-38-9 44z"/><path class="D" d="M1432 2292l9-34-7-38-9 33z"/><path class="z" d="M1423 2325l9-33-7-39-9 33z"/><path class="z" d="M1776 2148l9 28-7 43-9-28z"/><path class="u" d="M1740 2193l9 30-7 42-8-29z"/><path class="r" d="M1714 2261l9-49-7 43-9 49z"/><path class="q" d="M1705 2230l9 31-7 43-9-32z"/><path class="o" d="M1678 2292l9-47-7 43-9 47z"/><path class="n" d="M1669 2258l9 34-7 43-8-34z"/><path class="m" d="M1634 2279l9 36 9-45-7 42-9 45-9-35z"/><path class="l" d="M1598 2292l9 37 9-43-7 43-9 43-8-38z"/><path class="s" d="M1581 2295l9-42-7 43-9 41z"/><path class="m" d="M1563 2296l9 40 9-41-7 42-9 41-9-39z"/><path class="t" d="M1545 2295l9-39-7 43-9 39z"/><path class="n" d="M1536 2334l9-39-7 43-8 39z"/><path class="o" d="M1527 2293l9 41-6 43-9-42z"/><path class="v" d="M1510 2288l8-38-6 43-9 38z"/><path class="q" d="M1501 2325l9-37-7 43-9 37z"/><path class="r" d="M1492 2281l9 44-7 43-9-44z"/><path class="z" d="M1474 2272l9-35-7 43-9 35z"/><path class="u" d="M1465 2307l9-35-7 43-9 35z"/><path class="v" d="M1456 2262l9 45-7 43-8-46z"/><path class="E" d="M1439 2249l9-34-7 43-9 34z"/><path class="z" d="M1430 2282l9-33-7 43-9 33z"/><path class="u" d="M1676 2215l9 34-7 43-9-34z"/><path class="t" d="M1641 2236l9 35-7 44-9-36z"/><path class="s" d="M1605 2248l9 38 9-43-7 43-9 43-9-37z"/><path class="t" d="M1570 2253l8 40 9-41-6 43-9 41-9-40z"/><path class="u" d="M1543 2291l9-39-7 43-9 39z"/><path class="v" d="M1534 2250l9 41-7 43-9-41z"/><path class="x" d="M1507 2282l9-37-6 43-9 37z"/><path class="y" d="M1499 2238l8 44-6 43-9-44z"/><path class="B" d="M1472 2264l9-35-7 43-9 35z"/><path class="C" d="M1463 2219l9 45-7 43-9-45z"/><path class="G" d="M1436 2239l9-33-6 43-9 33z"/><path class="H" d="M1789 2142l9 27-7-36-8-28z"/><path class="M" d="M1780 2114l9 28-6-37-9-28z"/><path class="L" d="M1772 2165l8-51-6-37-9 51z"/><path class="C" d="M1754 2186l9 30-7-36-9-30z"/><path class="H" d="M1745 2156l9 30-7-36-9-30z"/><path class="G" d="M1736 2206l9-50-7-36-9 49z"/><path class="y" d="M1718 2223l9 32-7-37-8-32z"/><path class="D" d="M1701 2238l9-47 8 32-6-37-9-32-9 48z"/><path class="v" d="M1683 2252l9 33-7-36-9-34z"/><path class="B" d="M1674 2218l9 34-7-37-9-34z"/><path class="A" d="M1665 2263l9-45-7-37-9 45z"/><path class="z" d="M1630 2280l8-44 9 36-6-36-9-36-9 43z"/><path class="z" d="M1594 2288l9-41 9 38-7-37-9-38-9 42z"/><path class="A" d="M1568 2249l8 41-6-37-9-40z"/><path class="B" d="M1559 2289l9-40-7-36-9 39z"/><path class="D" d="M1523 2281l9-37 9 42-7-36-9-43-9 38z"/><path class="G" d="M1496 2230l9 45-6-37-9-44z"/><path class="M" d="M1452 2242l9-33-7-37-9 34z"/><path class="H" d="M1443 2275l9-33-7-36-9 33z"/><path class="H" d="M1787 2150l9 28-7-36-9-28z"/><path class="G" d="M1778 2201l9-51-7-36-8 51z"/><path class="C" d="M1752 2192l9 31-7-37-9-30z"/><path class="B" d="M1743 2242l9-50-7-36-9 50z"/><path class="z" d="M1716 2227l9 32-7-36-8-32z"/><path class="y" d="M1707 2275l9-48-6-36-9 47z"/><path class="w" d="M1672 2299l9-45 9 34-7-36-9-34-9 45z"/><path class="v" d="M1645 2272l9 36-7-36-9-36z"/><path class="u" d="M1636 2316l9-44-7-36-8 44z"/><path class="u" d="M1610 2283l9 38-7-36-9-38z"/><path class="v" d="M1601 2324l9-41-7-36-9 41z"/><path class="w" d="M1565 2325l9-40-6-36-9 40z"/><path class="z" d="M1530 2317l9-37-7-36-9 37z"/><path class="G" d="M1468 2245l9 46-7-36-9-46z"/><path class="H" d="M1459 2278l9-33-7-36-9 33z"/><path class="D" d="M1450 2311l9-33-7-36-9 33z"/><path class="E" d="M1803 2133l9 28-7 44-9-27z"/><path class="A" d="M1776 2208l9-51-7 44-8 51z"/><path class="z" d="M1767 2178l9 30-6 44-9-29z"/><path class="C" d="M1750 2197l8-49-6 44-9 50z"/><path class="v" d="M1732 2215l9 31 9-49-7 45-9 49-9-32z"/><path class="z" d="M1714 2230l9-48-7 45-9 48z"/><path class="s" d="M1696 2243l9 34 9-47-7 45-9 47-8-34z"/><path class="x" d="M1679 2255l8-46-6 45-9 45z"/><path class="q" d="M1661 2264l9 36 9-45-7 44-9 45-9-36z"/><path class="w" d="M1643 2271l9-43-7 44-9 44z"/><path class="q" d="M1625 2276l9 38 9-43-7 45-8 43-9-38z"/><path class="w" d="M1608 2280l8-42-6 45-9 41z"/><path class="q" d="M1590 2281l9 40 9-41-7 44-9 41-9-39z"/><path class="x" d="M1572 2280l9-39-7 44-9 40z"/><path class="s" d="M1554 2278l9 41 9-39-7 45-9 39-8-42z"/><path class="A" d="M1537 2273l8-38-6 45-9 37z"/><path class="v" d="M1519 2266l9 44 9-37-7 44-9 37-9-43z"/><path class="D" d="M1501 2257l9-35-7 45-9 35z"/><path class="z" d="M1492 2292l9-35-7 45-8 35z"/><path class="A" d="M1483 2247l9 45-6 45-9-46z"/><path class="H" d="M1474 2200l9 47-6 44-9-46z"/><path class="I" d="M1466 2234l8-34-6 45-9 33z"/><path class="E" d="M1457 2267l9-33-7 44-9 33z"/><path class="L" d="M1810 2088l8 28-6 45-9-28z"/><path class="H" d="M1783 2162l9-51-7 46-9 51z"/><path class="G" d="M1774 2133l9 29-7 46-9-30z"/><path class="D" d="M1748 2201l8-49-6 45-9 49z"/><path class="C" d="M1739 2169l9 32-7 45-9-31z"/><path class="A" d="M1712 2232l9-47-7 45-9 47z"/><path class="z" d="M1703 2198l9 34-7 45-9-34z"/><path class="y" d="M1676 2254l9-45-6 46-9 45z"/><path class="x" d="M1668 2219l8 35-6 46-9-36z"/><path class="x" d="M1632 2231l9 38 9-43-7 45-9 43-9-38z"/><path class="x" d="M1605 2276l9-41-6 45-9 41z"/><path class="y" d="M1597 2236l8 40-6 45-9-40z"/><path class="z" d="M1570 2274l9-39-7 45-9 39z"/><path class="A" d="M1561 2232l9 42-7 45-9-41z"/><path class="C" d="M1534 2265l9-37-6 45-9 37z"/><path class="D" d="M1526 2221l8 44-6 45-9-44z"/><path class="G" d="M1499 2247l9-35-7 45-9 35z"/><path class="H" d="M1490 2201l9 46-7 45-9-45z"/><path class="L" d="M1464 2222l8-33-6 45-9 33z"/><path class="M" d="M1816 2123l9 27-7-34-8-28z"/><path class="R" d="M1807 2094l9 29-6-35-9-28z"/><path class="Q" d="M1799 2146l8-52-6-34-9 51z"/><path class="I" d="M1790 2197l9-51-7-35-9 51z"/><path class="H" d="M1781 2167l9 30-7-35-9-29z"/><path class="M" d="M1772 2137l9 30-7-34-9-31z"/><path class="L" d="M1763 2187l9-50-7-35-9 50z"/><path class="E" d="M1754 2236l9-49-7-35-8 49z"/><path class="D" d="M1745 2204l9 32-6-35-9-32z"/><path class="I" d="M1728 2219l8-47 9 32-6-35-9-32-9 48z"/><path class="B" d="M1719 2266l9-47-7-34-9 47z"/><path class="A" d="M1710 2233l9 33-7-34-9-34z"/><path class="G" d="M1701 2198l9 35-7-35-9-34z"/><path class="F" d="M1692 2244l9-46-7-34-9 45z"/><path class="z" d="M1674 2253l9 36 9-45-7-35-9 45-8-35z"/><path class="E" d="M1657 2261l8-44 9 36-6-34-9-37-9 44z"/><path class="y" d="M1639 2266l9 38 9-43-7-35-9 43-9-38z"/><path class="E" d="M1621 2269l9-41 9 38-7-35-9-38-9 42z"/><path class="z" d="M1603 2270l9 40 9-41-7-34-9 41-8-40z"/><path class="F" d="M1594 2230l9 40-6-34-9-40z"/><path class="G" d="M1586 2270l8-40-6-34-9 39z"/><path class="A" d="M1577 2309l9-39-7-35-9 39z"/><path class="B" d="M1568 2267l9 42-7-35-9-42z"/><path class="I" d="M1550 2262l9-37-7-35-9 38z"/><path class="D" d="M1541 2299l9-37-7-34-9 37z"/><path class="M" d="M1515 2247l8-36-6-34-9 35z"/><path class="H" d="M1506 2282l9-35-7-35-9 35z"/><path class="I" d="M1497 2236l9 46-7-35-9-46z"/><path class="Q" d="M1488 2190l9 46-7-35-9-46z"/><path class="R" d="M1479 2223l9-33-7-35-9 34z"/><path class="M" d="M1470 2256l9-33-7-34-8 33z"/><path class="I" d="M1823 2157l9 27-7-34-9-27z"/><path class="M" d="M1814 2128l9 29-7-34-9-29z"/><path class="L" d="M1805 2180l9-52-7-34-8 52z"/><path class="E" d="M1796 2231l9-51-6-34-9 51z"/><path class="D" d="M1788 2201l8 30-6-34-9-30z"/><path class="H" d="M1779 2171l9 30-7-34-9-30z"/><path class="G" d="M1770 2221l9-50-7-34-9 50z"/><path class="z" d="M1752 2238l9 32 9-49-7-34-9 49-9-32z"/><path class="E" d="M1743 2206l9 32-7-34-9-32z"/><path class="D" d="M1734 2253l9-47-7-34-8 47z"/><path class="w" d="M1717 2267l8 33 9-47-6-34-9 47-9-33z"/><path class="B" d="M1699 2278l9-45 9 34-7-34-9-35-9 46z"/><path class="u" d="M1681 2287l9 36 9-45-7-34-9 45-9-36z"/><path class="A" d="M1663 2295l9-44 9 36-7-34-9-36-8 44z"/><path class="u" d="M1646 2300l8 38 9-43-6-34-9 43-9-38z"/><path class="A" d="M1628 2303l9-41 9 38-7-34-9-38-9 41z"/><path class="u" d="M1610 2305l9 39 9-41-7-34-9 41-9-40z"/><path class="B" d="M1592 2304l9-40 9 41-7-35-9-40-8 40z"/><path class="w" d="M1575 2301l9 42 8-39-6-34-9 39-9-42z"/><path class="D" d="M1566 2259l9 42-7-34-9-42z"/><path class="E" d="M1557 2296l9-37-7-34-9 37z"/><path class="z" d="M1539 2290l9 43 9-37-7-34-9 37-9-43z"/><path class="G" d="M1530 2245l9 45-7-34-9-45z"/><path class="H" d="M1521 2281l9-36-7-34-8 36z"/><path class="D" d="M1512 2316l9-35-6-34-9 35z"/><path class="E" d="M1504 2270l8 46-6-34-9-46z"/><path class="L" d="M1495 2224l9 46-7-34-9-46z"/><path class="M" d="M1486 2257l9-33-7-34-9 33z"/><path class="I" d="M1477 2290l9-33-7-34-9 33z"/></g>
<path class="ax" d="M1832 2385l-355 106-270-150 0-323M1477 2491l10 6M1477 2491l-11 3M1654 2438l11 6M1342 2416l-11 3M1832 2385l10 6M1207 2341l-11 3M1207 2341l-11 3M1207 2140l-11 4"/></g><text x="150" y="256.3">−5</text><text class="te" x="145.2" y="256.2">−5</text><text x="167.8" y="251">0</text><text class="te" x="131.7" y="248.7">0</text><text x="185.5" y="245.7">5</text><text class="te" x="118.2" y="241.2">5</text><text class="te" x="117.7" y="236">0</text><text class="te" x="117.7" y="215.9">50</text><text class="tm lb" x="175.2" y="261.4">x<tspan class="sub" dy="2.2">1</tspan></text><text class="tm lb" x="123.2" y="259.3">x<tspan class="sub" dy="2.2">2</tspan></text><text class="tm lb" transform="translate(103.1 217.9) rotate(-90)">F9( x<tspan class="sub" dy="2.2">1</tspan><tspan dy="-2.2"> , x</tspan><tspan class="sub" dy="2.2">2</tspan><tspan dy="-2.2"> )</tspan></text></g>
<g id="F10"><g transform="scale(.1)"><path class="gr" d="M2386 2487l-267-152M2119 2335l0-314M2386 2487l352-110M2738 2377l0-314M2562 2432l-267-152M2295 2280l0-314M2253 2411l351-110M2604 2301l0-314M2738 2377l-267-152M2471 2225l0-314M2119 2335l352-110M2471 2225l0-314M2119 2335l352-110M2471 2225l267 152M2119 2192l352-110M2471 2082l267 152M2119 2049l352-110M2471 1939l267 152"/>
<g transform="matrix(351.6 -110.0 -267.4 -152.0 2386.4 2487.0)" fill="none"><rect width="1" height="1" fill="#f4e26c"/><path d="M0.06 0V1M0 0.06H1M0.14 0V1M0 0.14H1M0.22 0V1M0 0.22H1M0.30 0V1M0 0.30H1M0.70 0V1M0 0.70H1M0.78 0V1M0 0.78H1M0.86 0V1M0 0.86H1M0.94 0V1M0 0.94H1" stroke="#fbf3b8" stroke-width=".025"/><circle cx=".5" cy=".5" r="0.376" stroke="#fffdf2" stroke-width="0.035"/><circle cx=".5" cy=".5" r="0.306" stroke="#f2ac4e" stroke-width="0.045"/><circle cx=".5" cy=".5" r="0.245" stroke="#fffdf0" stroke-width="0.030"/><circle cx=".5" cy=".5" r="0.200" fill="#e3e891"/><circle cx=".5" cy=".5" r="0.150" fill="#b5dfa0"/><circle cx=".5" cy=".5" r="0.110" fill="#86d6cf"/><circle cx=".5" cy=".5" r="0.060" fill="#5fa8ee"/><circle cx=".5" cy=".5" r="0.030" fill="#4a6cf0"/><circle cx=".5" cy=".5" r="0.200" stroke="#fbfbe0" stroke-width="0.012"/><circle cx=".5" cy=".5" r="0.150" stroke="#e8f5e0" stroke-width="0.012"/></g>
<g class="sf"><path class="T" d="M2402 1960l77-31-8-6-77 30z"/><path class="S" d="M2204 2022l55-12 44-12 44-15 55-23-8-7-55 22-44 15-44 12-55 13z"/><path class="T" d="M2127 2039l77-17-8-7-77 18z"/><path class="T" d="M2421 1962l66-28-8-5-66 26z"/><path class="S" d="M2366 1986l55-24-8-7-55 23z"/><path class="R" d="M2257 2021l55-14 54-21-8-8-55 20-55 15z"/><path class="S" d="M2202 2031l55-10-9-8-55 11z"/><path class="T" d="M2136 2044l66-13-9-7-66 15z"/><path class="T" d="M2452 1959l44-19-9-6-44 18z"/><path class="S" d="M2397 1984l55-25-9-7-55 25z"/><path class="R" d="M2342 2009l55-25-9-7-55 22z"/><path class="Q" d="M2298 2022l44-13-9-10-43 14z"/><path class="R" d="M2243 2033l55-11-8-9-55 12z"/><path class="S" d="M2188 2041l55-8-8-8-55 10z"/><path class="T" d="M2144 2050l44-9-8-6-44 9z"/><path class="T" d="M2471 1960l33-15-8-5-33 14z"/><path class="S" d="M2427 1981l44-21-8-6-44 20z"/><path class="R" d="M2394 1998l33-17-8-7-33 16z"/><path class="Q" d="M2262 2039l33-4 33-9 33-12 33-16-8-8-33 14-33 12-33 9-33 6z"/><path class="R" d="M2229 2043l33-4-8-8-33 5z"/><path class="S" d="M2185 2049l44-6-8-7-44 7z"/><path class="T" d="M2152 2055l33-6-8-6-33 7z"/><path class="T" d="M2490 1961l22-10-8-6-22 10z"/><path class="S" d="M2446 1983l44-22-8-6-44 21z"/><path class="R" d="M2413 2001l33-18-8-7-33 17z"/><path class="Q" d="M2392 2014l21-13-8-8-22 11z"/><path class="P" d="M2282 2048l33-5 22-5 22-8 33-16-9-10-33 15-22 7-22 6-33 6z"/><path class="Q" d="M2260 2050l22-2-9-10-22 3z"/><path class="R" d="M2227 2052l33-2-9-9-33 4z"/><path class="S" d="M2183 2057l44-5-9-7-44 6z"/><path class="T" d="M2161 2061l22-4-9-6-22 4z"/><path class="T" d="M2499 1967l22-10-9-6-22 10z"/><path class="S" d="M2466 1985l33-18-9-6-33 16z"/><path class="R" d="M2444 1997l22-12-9-8-22 12z"/><path class="Q" d="M2422 2011l22-14-9-8-22 12z"/><path class="P" d="M2389 2031l33-20-9-10-32 18z"/><path class="O" d="M2301 2058l22-2 22-6 22-8 22-11-8-12-22 11-22 8-22 5-22 4z"/><path class="P" d="M2268 2059l33-1-8-11-33 3z"/><path class="Q" d="M2246 2059l22 0-8-9-22 1z"/><path class="R" d="M2224 2060l22-1-8-8-22 2z"/><path class="S" d="M2191 2063l33-3-8-7-33 4z"/><path class="T" d="M2169 2067l22-4-8-6-22 4z"/><path class="T" d="M2518 1968l11-5-8-6-11 5z"/><path class="S" d="M2485 1985l33-17-8-6-33 16z"/><path class="R" d="M2463 1999l22-14-8-7-22 13z"/><path class="Q" d="M2441 2013l22-14-8-8-22 13z"/><path class="P" d="M2419 2028l22-15-8-9-22 13z"/><path class="O" d="M2397 2043l22-15-8-11-22 14z"/><path class="N" d="M2375 2056l22-13-8-12-22 11z"/><path class="M" d="M2331 2069l22-4 22-9-8-14-22 8-22 6z"/><path class="N" d="M2309 2070l22-1-8-13-22 2z"/><path class="O" d="M2287 2069l22 1-8-12-22 1z"/><path class="P" d="M2265 2068l22 1-8-10-22 0z"/><path class="Q" d="M2243 2067l22 1-8-9-22 1z"/><path class="R" d="M2221 2068l22-1-8-7-22 1z"/><path class="S" d="M2188 2071l33-3-8-7-33 4z"/><path class="T" d="M2177 2073l11-2-8-6-11 2z"/><path class="S" d="M2504 1986l33-18-8-5-33 16z"/><path class="R" d="M2483 1999l21-13-8-7-22 13z"/><path class="Q" d="M2461 2014l22-15-9-7-22 14z"/><path class="P" d="M2450 2022l11-8-9-8-11 7z"/><path class="O" d="M2428 2039l22-17-9-9-22 15z"/><path class="N" d="M2417 2048l11-9-9-11-11 8z"/><path class="M" d="M2395 2064l22-16-9-12-22 14z"/><path class="L" d="M2329 2085l22-2 11-2 11-4 22-13-9-14-22 11-11 4-11 3-22 2z"/><path class="M" d="M2307 2082l22 3-9-15-22 0z"/><path class="N" d="M2296 2081l11 1-9-12-11-1z"/><path class="O" d="M2274 2077l22 4-9-12-22-1z"/><path class="P" d="M2263 2076l11 1-9-9-11-1z"/><path class="Q" d="M2241 2075l22 1-9-9-22 0z"/><path class="R" d="M2219 2075l22 0-9-8-22 2z"/><path class="S" d="M2186 2078l33-3-9-6-33 4z"/><path class="S" d="M2513 1992l33-18-9-6-33 18z"/><path class="R" d="M2491 2007l22-15-9-6-21 13z"/><path class="Q" d="M2480 2015l11-8-8-8-11 8z"/><path class="P" d="M2469 2023l11-8-8-8-11 7z"/><path class="O" d="M2447 2042l22-19-8-9-22 17z"/><path class="N" d="M2436 2051l11-9-8-11-11 8z"/><path class="M" d="M2425 2061l11-10-8-12-11 9z"/><path class="L" d="M2414 2071l11-10-8-13-11 8z"/><path class="K" d="M2392 2088l22-17-8-15-22 15z"/><path class="J" d="M2348 2102l11-1 11-2 11-5 11-6-8-17-22 10-22 4z"/><path class="K" d="M2326 2098l22 4-8-17-22-1z"/><path class="L" d="M2315 2096l11 2-8-14-11-2z"/><path class="M" d="M2304 2093l11 3-8-14-11-1z"/><path class="N" d="M2293 2090l11 3-8-12-11-2z"/><path class="O" d="M2271 2085l22 5-8-11-22-3z"/><path class="P" d="M2260 2083l11 2-8-9-11-1z"/><path class="Q" d="M2249 2082l11 1-8-8-11 0z"/><path class="R" d="M2227 2082l22 0-8-7-22 0z"/><path class="S" d="M2194 2084l33-2-8-7-33 3z"/><path class="S" d="M2532 1992l22-12-8-6-22 12z"/><path class="R" d="M2510 2006l22-14-8-6-22 13z"/><path class="Q" d="M2499 2014l11-8-8-7-11 8z"/><path class="P" d="M2477 2032l22-18-8-7-22 16z"/><path class="O" d="M2466 2042l11-10-8-9-11 9z"/><path class="N" d="M2455 2053l11-11-8-10-11 10z"/><path class="M" d="M2444 2064l11-11-8-11-11 9z"/><path class="L" d="M2433 2075l11-11-8-13-11 10z"/><path class="K" d="M2422 2087l11-12-8-14-11 10z"/><path class="J" d="M2411 2098l11-11-8-16-11 9z"/><path class="I" d="M2400 2107l11-9-8-18-11 8z"/><path class="H" d="M2356 2121l11 1 11-2 11-5 11-8-8-19-11 6-11 5-11 2-11 1z"/><path class="I" d="M2345 2118l11 3-8-19-11-1z"/><path class="J" d="M2334 2114l11 4-8-17-11-3z"/><path class="K" d="M2323 2110l11 4-8-16-11-2z"/><path class="L" d="M2312 2105l11 5-8-14-11-3z"/><path class="M" d="M2301 2101l11 4-8-12-11-3z"/><path class="N" d="M2290 2097l11 4-8-11-11-3z"/><path class="O" d="M2279 2094l11 3-8-10-11-2z"/><path class="P" d="M2258 2090l21 4-8-9-22-3z"/><path class="Q" d="M2247 2089l11 1-9-8-11 0z"/><path class="R" d="M2225 2088l22 1-9-7-22 0z"/><path class="S" d="M2203 2090l22-2-9-6-22 2z"/><path class="S" d="M2541 1998l22-13-9-5-22 12z"/><path class="R" d="M2530 2005l11-7-9-6-11 7z"/><path class="Q" d="M2508 2021l22-16-9-6-22 15z"/><path class="P" d="M2497 2031l11-10-9-7-11 9z"/><path class="O" d="M2486 2041l11-10-9-8-11 9z"/><path class="N" d="M2475 2052l11-11-9-9-11 10z"/><path class="M" d="M2464 2064l11-12-9-10-11 11z"/><path class="L" d="M2453 2077l11-13-9-11-11 11z"/><path class="J" d="M2442 2090l11-13-9-13-11 11z"/><path class="I" d="M2431 2104l11-14-9-15-11 12z"/><path class="H" d="M2420 2117l11-13-9-17-11 11z"/><path class="F" d="M2409 2129l11-12-9-19-11 9z"/><path class="E" d="M2365 2143l11 2 11-1 11-6 11-9-9-22-11 8-11 5-11 2-11-1z"/><path class="F" d="M2354 2138l11 5-9-22-11-3z"/><path class="H" d="M2343 2131l11 7-9-20-11-4z"/><path class="I" d="M2332 2125l11 6-9-17-11-4z"/><path class="J" d="M2321 2118l11 7-9-15-11-5z"/><path class="L" d="M2310 2112l11 6-9-13-11-4z"/><path class="M" d="M2299 2107l11 5-9-11-11-4z"/><path class="N" d="M2288 2103l11 4-9-10-11-3z"/><path class="O" d="M2277 2099l11 4-9-9-11-3z"/><path class="P" d="M2266 2097l11 2-9-8-10-1z"/><path class="Q" d="M2244 2094l22 3-8-7-22-2z"/><path class="R" d="M2233 2094l11 0-8-6-11 0z"/><path class="S" d="M2211 2095l22-1-8-6-22 2z"/><path class="S" d="M2560 1997l11-6-8-6-11 6z"/><path class="R" d="M2538 2011l22-14-8-6-22 14z"/><path class="Q" d="M2527 2019l11-8-8-6-11 8z"/><path class="P" d="M2505 2038l22-19-8-6-22 18z"/><path class="O" d="M2494 2049l11-11-8-7-11 10z"/><path class="M" d="M2483 2062l11-13-8-8-11 11z"/><path class="L" d="M2472 2075l11-13-8-10-11 12z"/><path class="K" d="M2461 2089l11-14-8-11-11 13z"/><path class="I" d="M2450 2105l11-16-8-12-11 13z"/><path class="G" d="M2439 2122l11-17-8-15-11 14z"/><path class="E" d="M2428 2138l11-16-8-18-11 13z"/><path class="D" d="M2417 2153l11-15-8-21-11 12z"/><path class="B" d="M2373 2167l11 5 11 0 11-7 11-12-8-24-11 9-11 6-11 1-11-2z"/><path class="D" d="M2362 2159l11 8-8-24-11-5z"/><path class="E" d="M2351 2149l11 10-8-21-11-7z"/><path class="G" d="M2340 2140l11 9-8-18-11-6z"/><path class="I" d="M2329 2131l11 9-8-15-11-7z"/><path class="K" d="M2318 2123l11 8-8-13-11-6z"/><path class="L" d="M2307 2117l11 6-8-11-11-5z"/><path class="M" d="M2296 2111l11 6-8-10-11-4z"/><path class="O" d="M2285 2107l11 4-8-8-11-4z"/><path class="P" d="M2263 2102l22 5-8-8-22-4z"/><path class="Q" d="M2252 2101l11 1-8-7-11-1z"/><path class="R" d="M2230 2100l22 1-8-7-22 0z"/><path class="S" d="M2219 2101l11-1-8-6-11 1z"/><path class="S" d="M2568 2002l11-6-8-5-11 6z"/><path class="R" d="M2546 2017l22-15-8-5-22 14z"/><path class="Q" d="M2535 2026l11-9-8-6-11 8z"/><path class="P" d="M2524 2035l11-9-8-7-11 9z"/><path class="O" d="M2513 2046l11-11-8-7-11 10z"/><path class="N" d="M2502 2057l11-11-8-8-11 11z"/><path class="M" d="M2491 2071l11-14-8-8-11 13z"/><path class="K" d="M2480 2085l11-14-8-9-11 13z"/><path class="J" d="M2469 2102l11-17-8-10-11 14z"/><path class="H" d="M2458 2120l11-18-8-13-11 16z"/><path class="E" d="M2447 2139l11-19-8-15-11 17z"/><path class="C" d="M2436 2160l11-21-8-17-11 16z"/><path class="A" d="M2425 2180l11-20-8-22-11 15z"/><path class="H" d="M2338 2143l10 11-8-14-11-9z"/><path class="J" d="M2327 2133l11 10-9-12-11-8z"/><path class="K" d="M2316 2126l11 7-9-10-11-6z"/><path class="M" d="M2305 2119l11 7-9-9-11-6z"/><path class="N" d="M2294 2114l11 5-9-8-11-4z"/><path class="O" d="M2283 2111l11 3-9-7-11-3z"/><path class="P" d="M2272 2108l11 3-9-7-11-2z"/><path class="Q" d="M2261 2107l11 1-9-6-11-1z"/><path class="R" d="M2239 2106l22 1-9-6-22-1z"/><path class="S" d="M2228 2106l11 0-9-6-11 1z"/><path class="S" d="M2577 2008l11-7-9-5-11 6z"/><path class="R" d="M2555 2023l22-15-9-6-22 15z"/><path class="Q" d="M2544 2032l11-9-9-6-11 9z"/><path class="P" d="M2533 2041l11-9-9-6-11 9z"/><path class="O" d="M2522 2052l11-11-9-6-11 11z"/><path class="N" d="M2511 2065l11-13-9-6-11 11z"/><path class="L" d="M2500 2079l11-14-9-8-11 14z"/><path class="K" d="M2489 2095l11-16-9-8-11 14z"/><path class="I" d="M2478 2113l11-18-9-10-11 17z"/><path class="F" d="M2467 2133l11-20-9-11-11 18z"/><path class="D" d="M2456 2156l11-23-9-13-11 19z"/><path class="A" d="M2445 2181l11-25-9-17-11 21z"/><path class="K" d="M2324 2134l11 9-8-10-11-7z"/><path class="L" d="M2313 2127l11 7-8-8-11-7z"/><path class="N" d="M2302 2121l11 6-8-8-11-5z"/><path class="O" d="M2291 2117l11 4-8-7-11-3z"/><path class="P" d="M2280 2114l11 3-8-6-11-3z"/><path class="Q" d="M2269 2112l11 2-8-6-11-1z"/><path class="R" d="M2247 2111l22 1-8-5-22-1z"/><path class="S" d="M2236 2111l11 0-8-5-11 0z"/><path class="S" d="M2585 2013l11-7-8-5-11 7z"/><path class="R" d="M2574 2020l11-7-8-5-11 7z"/><path class="Q" d="M2552 2037l22-17-8-5-22 17z"/><path class="P" d="M2541 2047l11-10-8-5-11 9z"/><path class="O" d="M2530 2058l11-11-8-6-11 11z"/><path class="M" d="M2519 2071l11-13-8-6-11 13z"/><path class="L" d="M2508 2086l11-15-8-6-11 14z"/><path class="J" d="M2497 2102l11-16-8-7-11 16z"/><path class="H" d="M2486 2121l11-19-8-7-11 18z"/><path class="E" d="M2475 2143l11-22-8-8-11 20z"/><path class="B" d="M2464 2169l11-26-8-10-11 23z"/><path class="y" d="M2376 2196l11 24-8-18-11-19z"/><path class="B" d="M2365 2178l11 18-8-13-11-16z"/><path class="L" d="M2321 2133l11 8-8-7-11-7z"/><path class="M" d="M2310 2127l11 6-8-6-11-6z"/><path class="O" d="M2299 2123l11 4-8-6-11-4z"/><path class="P" d="M2288 2120l11 3-8-6-11-3z"/><path class="Q" d="M2266 2116l22 4-8-6-22-3z"/><path class="R" d="M2255 2116l11 0-8-5-11 0z"/><path class="S" d="M2244 2116l11 0-8-5-11 0z"/><path class="S" d="M2593 2018l11-7-8-5-11 7z"/><path class="R" d="M2582 2025l11-7-8-5-11 7z"/><path class="Q" d="M2560 2042l22-17-8-5-22 17z"/><path class="P" d="M2549 2052l11-10-8-5-11 10z"/><path class="O" d="M2538 2064l11-12-8-5-11 11z"/><path class="M" d="M2527 2077l11-13-8-6-11 13z"/><path class="L" d="M2516 2091l11-14-8-6-11 15z"/><path class="J" d="M2505 2108l11-17-8-5-11 16z"/><path class="H" d="M2494 2128l11-20-8-6-11 19z"/><path class="E" d="M2483 2150l11-22-8-7-11 22z"/><path class="B" d="M2472 2177l11-27-8-7-11 26z"/><path class="m" d="M2407 2264l11 44-9-25-11-33z"/><path class="s" d="M2396 2230l11 34-9-14-11-30z"/><path class="x" d="M2385 2204l11 26-9-10-11-24z"/><path class="B" d="M2374 2185l11 19-9-8-11-18z"/><path class="E" d="M2363 2169l11 16-9-7-11-15z"/><path class="M" d="M2319 2132l11 6-9-5-11-6z"/><path class="O" d="M2308 2128l11 4-9-5-11-4z"/><path class="P" d="M2297 2125l11 3-9-5-11-3z"/><path class="Q" d="M2275 2121l22 4-9-5-22-4z"/><path class="R" d="M2264 2121l11 0-9-5-11 0z"/><path class="S" d="M2253 2121l11 0-9-5-11 0z"/><path class="S" d="M2602 2022l11-6-9-5-11 7z"/><path class="R" d="M2591 2030l11-8-9-4-11 7z"/><path class="Q" d="M2569 2047l22-17-9-5-22 17z"/><path class="P" d="M2558 2057l11-10-9-5-11 10z"/><path class="O" d="M2547 2068l11-11-9-5-11 12z"/><path class="M" d="M2536 2081l11-13-9-4-11 13z"/><path class="L" d="M2525 2095l11-14-9-4-11 14z"/><path class="J" d="M2514 2112l11-17-9-4-11 17z"/><path class="H" d="M2503 2131l11-19-9-4-11 20z"/><path class="E" d="M2492 2153l11-22-9-3-11 22z"/><path class="g" d="M2426 2292l11 18 11-24-9 15-11 55-10-48z"/><path class="m" d="M2415 2259l11 33-8 16-11-44z"/><path class="s" d="M2404 2229l11 30-8 5-11-34z"/><path class="x" d="M2393 2206l11 23-8 1-11-26z"/><path class="B" d="M2382 2187l11 19-8-2-11-19z"/><path class="E" d="M2371 2172l11 15-8-2-11-16z"/><path class="O" d="M2316 2132l11 5-8-5-11-4z"/><path class="P" d="M2305 2129l11 3-8-4-11-3z"/><path class="Q" d="M2283 2126l22 3-8-4-22-4z"/><path class="R" d="M2272 2126l11 0-8-5-11 0z"/><path class="S" d="M2261 2126l11 0-8-5-11 0z"/><path class="S" d="M2610 2027l11-7-8-4-11 6z"/><path class="R" d="M2599 2034l11-7-8-5-11 8z"/><path class="Q" d="M2577 2051l22-17-8-4-22 17z"/><path class="P" d="M2566 2060l11-9-8-4-11 10z"/><path class="O" d="M2555 2071l11-11-8-3-11 11z"/><path class="M" d="M2544 2084l11-13-8-3-11 13z"/><path class="L" d="M2533 2098l11-14-8-3-11 14z"/><path class="J" d="M2522 2114l11-16-8-3-11 17z"/><path class="H" d="M2511 2132l11-18-8-2-11 19z"/><path class="E" d="M2500 2152l11-20-8-1-11 22z"/><path class="q" d="M2456 2254l11-26-8 17-11 41z"/><path class="m" d="M2434 2260l11 7 11-13-8 32-11 24-11-18z"/><path class="q" d="M2423 2242l11 18-8 32-11-33z"/><path class="u" d="M2412 2221l11 21-8 17-11-30z"/><path class="y" d="M2401 2202l11 19-8 8-11-23z"/><path class="B" d="M2390 2186l11 16-8 4-11-19z"/><path class="E" d="M2379 2173l11 13-8 1-11-15z"/><path class="P" d="M2313 2133l11 3-8-4-11-3z"/><path class="Q" d="M2291 2130l22 3-8-4-22-3z"/><path class="R" d="M2280 2130l11 0-8-4-11 0z"/><path class="S" d="M2269 2130l11 0-8-4-11 0z"/><path class="S" d="M2618 2031l11-7-8-4-11 7z"/><path class="R" d="M2596 2046l22-15-8-4-22 15z"/><path class="Q" d="M2585 2054l11-8-8-4-11 9z"/><path class="P" d="M2574 2064l11-10-8-3-11 9z"/><path class="O" d="M2563 2074l11-10-8-4-11 11z"/><path class="N" d="M2552 2086l11-12-8-3-11 13z"/><path class="L" d="M2541 2099l11-13-8-2-11 14z"/><path class="K" d="M2530 2114l11-15-8-1-11 16z"/><path class="I" d="M2519 2130l11-16-8 0-11 18z"/><path class="F" d="M2509 2148l10-18-8 2-11 20z"/><path class="u" d="M2465 2225l11-17-9 20-11 26z"/><path class="s" d="M2443 2232l11 2 11-9-9 29-11 13-11-7z"/><path class="u" d="M2432 2222l11 10-9 28-11-18z"/><path class="x" d="M2421 2209l11 13-9 20-11-21z"/><path class="A" d="M2410 2195l11 14-9 12-11-19z"/><path class="D" d="M2399 2183l11 12-9 7-11-16z"/><path class="F" d="M2388 2171l11 12-9 3-11-13z"/><path class="P" d="M2322 2137l11 2-9-3-11-3z"/><path class="Q" d="M2311 2135l11 2-9-4-11-2z"/><path class="R" d="M2289 2134l22 1-9-4-22-1z"/><path class="S" d="M2278 2134l11 0-9-4-11 0z"/><path class="S" d="M2627 2035l11-6-9-5-11 7z"/><path class="R" d="M2605 2049l22-14-9-4-22 15z"/><path class="Q" d="M2594 2057l11-8-9-3-11 8z"/><path class="P" d="M2583 2066l11-9-9-3-11 10z"/><path class="O" d="M2572 2076l11-10-9-2-11 10z"/><path class="N" d="M2561 2087l11-11-9-2-11 12z"/><path class="M" d="M2550 2100l11-13-9-1-11 13z"/><path class="K" d="M2539 2113l11-13-9-1-11 15z"/><path class="J" d="M2528 2127l11-14-9 1-11 16z"/><path class="H" d="M2517 2143l11-16-9 3-10 18z"/><path class="y" d="M2473 2203l11-12-8 17-11 17z"/><path class="x" d="M2451 2210l11 0 11-7-8 22-11 9-11-2z"/><path class="y" d="M2440 2205l11 5-8 22-11-10z"/><path class="A" d="M2429 2197l11 8-8 17-11-13z"/><path class="C" d="M2418 2187l11 10-8 12-11-14z"/><path class="E" d="M2407 2178l11 9-8 8-11-12z"/><path class="O" d="M2341 2142l11 3-8-2-11-4z"/><path class="P" d="M2330 2140l11 2-8-3-11-2z"/><path class="Q" d="M2319 2139l11 1-8-3-11-2z"/><path class="R" d="M2297 2138l22 1-8-4-22-1z"/><path class="S" d="M2286 2139l11-1-8-4-11 0z"/><path class="S" d="M2635 2039l11-6-8-4-11 6z"/><path class="R" d="M2613 2053l22-14-8-4-22 14z"/><path class="Q" d="M2602 2060l11-7-8-4-11 8z"/><path class="P" d="M2580 2078l22-18-8-3-22 19z"/><path class="O" d="M2569 2088l11-10-8-2-11 11z"/><path class="M" d="M2558 2099l11-11-8-1-11 13z"/><path class="L" d="M2547 2111l11-12-8 1-11 13z"/><path class="K" d="M2536 2124l11-13-8 2-11 14z"/><path class="I" d="M2525 2138l11-14-8 3-11 16z"/><path class="G" d="M2514 2151l11-13-8 5-11 17z"/><path class="D" d="M2492 2176l11-11-8 11-11 15z"/><path class="B" d="M2448 2190l11 3 11-2 11-5 11-10-8 15-11 12-11 7-11 0-11-5z"/><path class="D" d="M2437 2185l11 5-8 15-11-8z"/><path class="E" d="M2426 2179l11 6-8 12-11-10z"/><path class="G" d="M2415 2172l11 7-8 8-11-9z"/><path class="P" d="M2338 2143l22 4-8-2-22-5z"/><path class="Q" d="M2327 2142l11 1-8-3-11-1z"/><path class="R" d="M2305 2142l22 0-8-3-22-1z"/><path class="S" d="M2294 2143l11-1-8-4-11 1z"/><path class="S" d="M2632 2049l22-12-8-4-22 12z"/><path class="R" d="M2621 2056l11-7-8-4-11 8z"/><path class="Q" d="M2599 2071l22-15-8-3-22 16z"/><path class="P" d="M2589 2080l10-9-8-2-11 9z"/><path class="O" d="M2578 2089l11-9-9-2-11 10z"/><path class="N" d="M2567 2099l11-10-9-1-11 11z"/><path class="M" d="M2556 2110l11-11-9 0-11 12z"/><path class="L" d="M2545 2121l11-11-9 1-11 13z"/><path class="J" d="M2534 2132l11-11-9 3-11 14z"/><path class="I" d="M2523 2144l11-12-9 6-11 13z"/><path class="F" d="M2501 2164l11-9-9 10-11 11z"/><path class="E" d="M2457 2178l11 1 11-2 11-5 11-8-9 12-11 10-11 5-11 2-11-3z"/><path class="F" d="M2446 2175l11 3-9 12-11-5z"/><path class="H" d="M2435 2171l11 4-9 10-11-6z"/><path class="I" d="M2424 2167l11 4-9 8-11-7z"/><path class="P" d="M2358 2147l11 1-9-1-11-2z"/><path class="Q" d="M2336 2145l22 2-9-2-22-3z"/><path class="R" d="M2325 2145l11 0-9-3-11 0z"/><path class="S" d="M2303 2147l22-2-9-3-22 1z"/><path class="S" d="M2641 2052l22-12-9-3-22 12z"/><path class="R" d="M2619 2066l22-14-9-3-22 14z"/><path class="Q" d="M2608 2073l11-7-9-3-11 8z"/><path class="P" d="M2586 2090l22-17-9-2-21 18z"/><path class="O" d="M2575 2099l11-9-8-1-11 10z"/><path class="N" d="M2564 2108l11-9-8 0-11 11z"/><path class="M" d="M2553 2118l11-10-8 2-11 11z"/><path class="L" d="M2542 2128l11-10-8 3-11 11z"/><path class="K" d="M2531 2137l11-9-8 4-11 12z"/><path class="H" d="M2465 2168l11 0 11-3 11-4 11-6-8 9-11 8-11 5-11 2-11-1z"/><path class="I" d="M2454 2167l11 1-8 10-11-3z"/><path class="J" d="M2443 2165l11 2-8 8-11-4z"/><path class="P" d="M2366 2149l11 1-8-2-11-1z"/><path class="Q" d="M2355 2148l11 1-8-2-11-1z"/><path class="R" d="M2333 2149l22-1-8-2-22-1z"/><path class="S" d="M2311 2150l22-1-8-4-22 2z"/><path class="S" d="M2638 2062l33-18-8-4-33 19z"/><path class="R" d="M2616 2075l22-13-8-3-22 14z"/><path class="Q" d="M2605 2083l11-8-8-2-11 8z"/><path class="P" d="M2594 2090l11-7-8-2-11 9z"/><path class="O" d="M2572 2107l22-17-8 0-22 18z"/><path class="N" d="M2561 2115l11-8-8 1-11 10z"/><path class="M" d="M2550 2124l11-9-8 3-11 10z"/><path class="L" d="M2539 2132l11-8-8 4-11 9z"/><path class="K" d="M2528 2140l11-8-8 5-11 10z"/><path class="J" d="M2473 2161l22-4 11-4-8 8-11 4-11 3-11 0z"/><path class="K" d="M2462 2161l11 0-8 7-11-1z"/><path class="P" d="M2385 2151l11 1-8-1-11-1z"/><path class="Q" d="M2374 2151l11 0-8-1-11-1z"/><path class="R" d="M2353 2151l21 0-8-2-22-1z"/><path class="S" d="M2320 2154l33-3-9-3-33 2z"/><path class="S" d="M2647 2065l33-17-9-4-33 18z"/><path class="R" d="M2625 2077l22-12-9-3-22 13z"/><path class="Q" d="M2603 2091l22-14-9-2-22 15z"/><path class="P" d="M2592 2098l11-7-9-1-11 8z"/><path class="O" d="M2570 2114l22-16-9 0-22 17z"/><path class="N" d="M2559 2121l11-7-9 1-11 9z"/><path class="M" d="M2537 2135l22-14-9 3-22 16z"/><path class="Q" d="M2383 2153l22 0-9-1-22-1z"/><path class="R" d="M2361 2154l22-1-9-2-21 0z"/><path class="S" d="M2328 2158l33-4-8-3-33 3z"/><path class="T" d="M2677 2057l11-5-8-4-11 5z"/><path class="S" d="M2644 2073l33-16-8-4-33 18z"/><path class="R" d="M2622 2086l22-13-8-2-22 13z"/><path class="Q" d="M2600 2099l22-13-8-2-22 14z"/><path class="P" d="M2578 2112l22-13-8-1-22 16z"/><path class="O" d="M2556 2126l22-14-8 2-22 14z"/><path class="N" d="M2545 2132l11-6-8 2-11 7z"/><path class="Q" d="M2402 2155l22-1-8-1-22 0z"/><path class="R" d="M2380 2156l22-1-8-2-22 0z"/><path class="S" d="M2347 2160l33-4-8-3-33 3z"/><path class="T" d="M2336 2162l11-2-8-4-11 2z"/><path class="T" d="M2674 2066l22-10-8-4-22 10z"/><path class="S" d="M2641 2082l33-16-8-4-33 18z"/><path class="R" d="M2619 2094l22-12-8-2-22 12z"/><path class="Q" d="M2597 2106l22-12-8-2-22 14z"/><path class="P" d="M2564 2124l33-18-8 0-33 20z"/><path class="O" d="M2542 2134l22-10-8 2-22 11z"/><path class="O" d="M2520 2142l11-3-8 3-11 3z"/><path class="P" d="M2465 2152l11-1-8 2-11 0z"/><path class="P" d="M2444 2154l10-1-8 1-11 0z"/><path class="Q" d="M2422 2156l11-1-9-1-11 0z"/><path class="R" d="M2400 2158l22-2-9-2-22 1z"/><path class="S" d="M2367 2162l33-4-9-3-33 3z"/><path class="T" d="M2345 2166l22-4-9-4-22 4z"/><path class="T" d="M2683 2069l22-10-9-3-22 10z"/><path class="S" d="M2639 2090l44-21-9-3-44 22z"/><path class="R" d="M2606 2107l33-17-9-2-33 18z"/><path class="Q" d="M2584 2118l22-11-9-1-22 12z"/><path class="P" d="M2474 2152l33-6 22-6 22-7 33-15-9 0-33 16-22 8-22 6-33 4z"/><path class="Q" d="M2463 2153l11-1-9 0-11 1z"/><path class="R" d="M2419 2159l33-4-8-1-33 2z"/><path class="S" d="M2375 2165l44-6-8-3-44 6z"/><path class="T" d="M2353 2169l22-4-8-3-22 4z"/><path class="T" d="M2680 2077l33-14-8-4-33 15z"/><path class="S" d="M2636 2097l44-20-8-3-44 21z"/><path class="R" d="M2603 2113l33-16-8-2-33 17z"/><path class="Q" d="M2471 2154l33-6 33-8 33-12 33-15-8-1-33 16-33 12-33 9-33 4z"/><path class="R" d="M2438 2159l33-5-8-1-33 4z"/><path class="S" d="M2394 2167l44-8-8-2-44 6z"/><path class="T" d="M2361 2173l33-6-8-4-33 6z"/><path class="T" d="M2677 2085l44-18-8-4-44 19z"/><path class="S" d="M2622 2110l55-25-8-3-55 26z"/><path class="R" d="M2567 2132l55-22-8-2-55 24z"/><path class="Q" d="M2524 2146l43-14-8 0-44 14z"/><path class="R" d="M2469 2158l55-12-9 0-55 10z"/><path class="S" d="M2414 2168l55-10-9-2-55 9z"/><path class="T" d="M2370 2177l44-9-9-3-44 8z"/><path class="T" d="M2664 2098l66-27-9-4-66 28z"/><path class="S" d="M2609 2121l55-23-9-3-55 24z"/><path class="R" d="M2499 2155l55-14 55-20-9-2-55 21-54 14z"/><path class="S" d="M2444 2167l55-12-8-1-55 10z"/><path class="T" d="M2378 2181l66-14-8-3-66 13z"/><path class="T" d="M2661 2105l77-30-8-4-77 31z"/><path class="S" d="M2463 2167l55-13 44-12 44-15 55-22-8-3-55 23-44 16-44 12-55 11z"/><path class="T" d="M2386 2185l77-18-8-3-77 17z"/></g>
<path class="ax" d="M2738 2377l-352 110-267-152 0-314M2386 2487l11 6M2386 2487l-11 4M2562 2432l11 6M2253 2411l-12 4M2738 2377l10 6M2119 2335l-11 4M2119 2335l-11 4M2119 2192l-11 4M2119 2049l-11 3"/></g><text x="240.9" y="255.9">−20</text><text class="te" x="236.1" y="255.8">−20</text><text x="258.5" y="250.4">0</text><text class="te" x="222.8" y="248.2">0</text><text x="276.1" y="244.9">20</text><text class="te" x="209.4" y="240.6">20</text><text class="te" x="208.9" y="235.4">0</text><text class="te" x="208.9" y="221.1">10</text><text class="te" x="208.9" y="206.8">20</text><text class="tm lb" x="268.9" y="260.8">x<tspan class="sub" dy="2.2">1</tspan></text><text class="tm lb" x="211.2" y="258.8">x<tspan class="sub" dy="2.2">2</tspan></text><text class="tm lb" transform="translate(194.3 217.8) rotate(-90)">F10( x<tspan class="sub" dy="2.2">1</tspan><tspan dy="-2.2"> , x</tspan><tspan class="sub" dy="2.2">2</tspan><tspan dy="-2.2"> )</tspan></text></g>
<g id="F11"><g transform="scale(.1)"><path class="gr" d="M3316 2486l-262-151M3054 2335l0-307M3316 2486l344-103M3660 2383l0-307M3488 2434l-262-150M3226 2284l0-308M3185 2410l344-102M3529 2308l0-308M3660 2383l-262-151M3398 2232l0-307M3054 2335l344-103M3398 2232l0-307M3054 2335l344-103M3398 2232l262 151M3054 2213l344-103M3398 2110l262 151M3054 2091l344-103M3398 1988l262 151"/>
<g class="ct"><path class="h" d="M3405 2407l-48 2-33-2-31-6-9-5-23-8-12-12-8-5-4-14 7-18 19-14 46-14 48-2 33 2 31 6 9 5 23 8 12 12 8 5 4 14-7 18-19 14-46 14"/><path class="p" d="M3408 2428l-48 3-39-2-44-8-26-7-32-14-20-17-9-12-3-20 3-11 16-18 25-15 46-14 14-2 30-3 46-1 26 2 44 8 26 7 32 14 20 17 9 12 3 20-3 11-16 18-25 15-46 14-29 3"/><path class="w" d="M3447 2441l-59 6-45 0-39-3-61-13-44-17-26-15-18-18-6-13-2-15 4-16 14-18 15-12 18-9 21-9 48-12 59-6 45 0 39 3 61 13 35 12 35 20 18 18 6 13 1 19-3 12-3 5-11 13-15 12-28 14-45 14-14 2"/><path class="E" d="M3401 2461l-59 0-41-3-49-9M3596 2346l3 9 1 13-5 17-8 12-12 11M3118 2372l-3-9-1-13 5-17 8-12 12-11M3313 2257l59 0 41 3 49 9"/><path class="M" d="M3357 2474l-72-6M3629 2365l-3 18-7 12M3085 2353l3-18 7-12M3357 2244l72 6"/><path class="T" d="M3323 2484l-14-2M3654 2379l-2 6M3060 2339l2-6M3391 2234l14 2"/></g>
<g class="sf"><path class="T" d="M3396 1967l10-22-8-20-9 18z"/><path class="Q" d="M3384 1987l12-20-7-24-12 24z"/><path class="N" d="M3370 2012l14-25-7-20-14 24z"/><path class="K" d="M3355 2036l15-24-7-21-16 27z"/><path class="H" d="M3337 2065l18-29-8-18-17 22z"/><path class="E" d="M3318 2087l19-22-7-25-19 25z"/><path class="B" d="M3298 2109l20-22-7-22-20 22z"/><path class="z" d="M3277 2126l21-17-7-22-21 20z"/><path class="x" d="M3190 2152l21 2 22-3 23-10 21-15-7-19-22 12-22 7-22 6-22 1z"/><path class="z" d="M3169 2148l21 4-8-19-21-7z"/><path class="B" d="M3148 2138l21 10-8-22-20-10z"/><path class="E" d="M3130 2127l18 11-7-22-19-14z"/><path class="H" d="M3112 2109l18 18-8-25-17-11z"/><path class="K" d="M3097 2094l15 15-7-18-16-18z"/><path class="N" d="M3083 2078l14 16-8-21-14-16z"/><path class="Q" d="M3071 2064l12 14-8-21-11-17z"/><path class="T" d="M3061 2048l10 16-7-24-10-12z"/><path class="Q" d="M3405 1988l10-18-9-25-10 22z"/><path class="N" d="M3393 2012l12-24-9-21-12 20z"/><path class="K" d="M3379 2036l14-24-9-25-14 25z"/><path class="H" d="M3364 2062l15-26-9-24-15 24z"/><path class="E" d="M3346 2086l18-24-9-26-18 29z"/><path class="B" d="M3327 2111l19-25-9-21-19 22z"/><path class="y" d="M3307 2132l20-21-9-24-20 22z"/><path class="w" d="M3286 2151l21-19-9-23-21 17z"/><path class="v" d="M3264 2164l22-13-9-25-21 15z"/><path class="u" d="M3220 2177l22-5 22-8-8-23-23 10-22 3z"/><path class="v" d="M3199 2177l21 0-9-23-21-2z"/><path class="w" d="M3178 2171l21 6-9-25-21-4z"/><path class="y" d="M3157 2162l21 9-9-23-21-10z"/><path class="B" d="M3139 2148l18 14-9-24-18-11z"/><path class="E" d="M3121 2135l18 13-9-21-18-18z"/><path class="H" d="M3105 2118l16 17-9-26-15-15z"/><path class="K" d="M3092 2102l13 16-8-24-14-16z"/><path class="N" d="M3080 2086l12 16-9-24-12-14z"/><path class="Q" d="M3070 2073l10 13-9-22-10-16z"/><path class="N" d="M3415 2015l10-19-10-26-10 18z"/><path class="K" d="M3404 2038l11-23-10-27-12 24z"/><path class="H" d="M3390 2063l14-25-11-26-14 24z"/><path class="E" d="M3374 2089l16-26-11-27-15 26z"/><path class="B" d="M3357 2113l17-24-10-27-18 24z"/><path class="y" d="M3338 2137l19-24-11-27-19 25z"/><path class="v" d="M3318 2159l20-22-11-26-20 21z"/><path class="t" d="M3297 2177l21-18-11-27-21 19z"/><path class="s" d="M3275 2191l22-14-11-26-22 13z"/><path class="r" d="M3231 2204l22-5 22-8-11-27-22 8-22 5z"/><path class="s" d="M3209 2204l22 0-11-27-21 0z"/><path class="t" d="M3188 2198l21 6-10-27-21-6z"/><path class="v" d="M3168 2188l20 10-10-27-21-9z"/><path class="y" d="M3149 2175l19 13-11-26-18-14z"/><path class="B" d="M3132 2161l17 14-10-27-18-13z"/><path class="E" d="M3116 2145l16 16-11-26-16-17z"/><path class="H" d="M3102 2128l14 17-11-27-13-16z"/><path class="K" d="M3090 2112l12 16-10-26-12-16z"/><path class="N" d="M3081 2099l9 13-10-26-10-13z"/><path class="K" d="M3427 2045l10-21-12-28-10 19z"/><path class="H" d="M3415 2066l12-21-12-30-11 23z"/><path class="E" d="M3402 2090l13-24-11-28-14 25z"/><path class="B" d="M3386 2114l16-24-12-27-16 26z"/><path class="y" d="M3369 2143l17-29-12-25-17 24z"/><path class="v" d="M3350 2166l19-23-12-30-19 24z"/><path class="s" d="M3330 2187l20-21-12-29-20 22z"/><path class="q" d="M3309 2204l21-17-12-28-21 18z"/><path class="o" d="M3287 2219l22-15-12-27-22 14z"/><path class="n" d="M3243 2232l22-2 22-11-12-28-22 8-22 5z"/><path class="o" d="M3221 2230l22 2-12-28-22 0z"/><path class="q" d="M3200 2226l21 4-12-26-21-6z"/><path class="s" d="M3180 2217l20 9-12-28-20-10z"/><path class="v" d="M3161 2205l19 12-12-29-19-13z"/><path class="y" d="M3144 2187l17 18-12-30-17-14z"/><path class="B" d="M3128 2172l16 15-12-26-16-16z"/><path class="E" d="M3114 2156l14 16-12-27-14-17z"/><path class="H" d="M3102 2142l12 14-12-28-12-16z"/><path class="K" d="M3093 2127l9 15-12-30-9-13z"/><path class="H" d="M3440 2073l10-22-13-27-10 21z"/><path class="E" d="M3429 2093l11-20-13-28-12 21z"/><path class="B" d="M3415 2118l14-25-14-27-13 24z"/><path class="y" d="M3399 2142l16-24-13-28-16 24z"/><path class="u" d="M3382 2171l17-29-13-28-17 29z"/><path class="r" d="M3363 2193l19-22-13-28-19 23z"/><path class="p" d="M3343 2215l20-22-13-27-20 21z"/><path class="n" d="M3322 2231l21-16-13-28-21 17z"/><path class="k" d="M3256 2260l22-2 22-11-13-28-22 11-22 2z"/><path class="l" d="M3234 2258l22 2-13-28-22-2z"/><path class="n" d="M3213 2254l21 4-13-28-21-4z"/><path class="p" d="M3193 2244l20 10-13-28-20-9z"/><path class="r" d="M3174 2233l19 11-13-27-19-12z"/><path class="u" d="M3157 2215l17 18-13-28-17-18z"/><path class="y" d="M3141 2200l16 15-13-28-16-15z"/><path class="B" d="M3127 2183l14 17-13-28-14-16z"/><path class="E" d="M3116 2170l11 13-13-27-12-14z"/><path class="H" d="M3106 2154l10 16-14-28-9-15z"/><path class="E" d="M3455 2097l9-19-14-27-10 22z"/><path class="B" d="M3443 2120l12-23-15-24-11 20z"/><path class="y" d="M3429 2145l14-25-14-27-14 25z"/><path class="v" d="M3414 2171l15-26-14-27-16 24z"/><path class="r" d="M3396 2195l18-24-15-29-17 29z"/><path class="o" d="M3377 2219l19-24-14-24-19 22z"/><path class="m" d="M3357 2241l20-22-14-26-20 22z"/><path class="i" d="M3249 2286l21 0-14-26-22-2z"/><path class="k" d="M3227 2280l22 6-15-28-21-4z"/><path class="m" d="M3207 2270l20 10-14-26-20-10z"/><path class="o" d="M3188 2257l19 13-14-26-19-11z"/><path class="r" d="M3171 2243l17 14-14-24-17-18z"/><path class="v" d="M3155 2227l16 16-14-28-16-15z"/><path class="y" d="M3142 2210l13 17-14-27-14-17z"/><path class="B" d="M3130 2194l12 16-15-27-11-13z"/><path class="E" d="M3120 2181l10 13-14-24-10-16z"/><path class="B" d="M3470 2124l10-22-16-24-9 19z"/><path class="y" d="M3458 2144l12-20-15-27-12 23z"/><path class="v" d="M3445 2169l13-25-15-24-14 25z"/><path class="s" d="M3429 2193l16-24-16-24-15 26z"/><path class="p" d="M3412 2222l17-29-15-22-18 24z"/><path class="m" d="M3393 2244l19-22-16-27-19 24z"/><path class="j" d="M3373 2266l20-22-16-25-20 22z"/><path class="p" d="M3186 2266l18 18-16-27-17-14z"/><path class="s" d="M3171 2251l15 15-15-23-16-16z"/><path class="v" d="M3157 2234l14 17-16-24-13-17z"/><path class="y" d="M3145 2221l12 13-15-24-12-16z"/><path class="B" d="M3136 2205l9 16-15-27-10-13z"/><path class="z" d="M3486 2143l10-19-16-22-10 22z"/><path class="w" d="M3474 2166l12-23-16-19-12 20z"/><path class="t" d="M3461 2190l13-24-16-22-13 25z"/><path class="q" d="M3445 2216l16-26-16-21-16 24z"/><path class="n" d="M3428 2241l17-25-16-23-17 29z"/><path class="j" d="M3409 2265l19-24-16-19-19 22z"/><path class="h" d="M3389 2286l20-21-16-21-20 22z"/><path class="z" d="M3152 2227l9 13-16-19-9-16z"/><path class="x" d="M3503 2161l9-21-16-16-10 19z"/><path class="v" d="M3491 2182l12-21-17-18-12 23z"/><path class="s" d="M3477 2207l14-25-17-16-13 24z"/><path class="o" d="M3461 2232l16-25-16-17-16 26z"/><path class="l" d="M3444 2258l17-26-16-16-17 25z"/><path class="i" d="M3425 2282l19-24-16-17-19 24z"/><path class="f" d="M3405 2303l20-21-16-17-20 21z"/><path class="s" d="M3190 2273l13 16-16-17-14-16z"/><path class="v" d="M3178 2258l12 15-17-17-12-16z"/><path class="x" d="M3168 2243l10 15-17-18-9-13z"/><path class="x" d="M3519 2174l10-22-17-12-9 21z"/><path class="u" d="M3508 2194l11-20-16-13-12 21z"/><path class="r" d="M3494 2219l14-25-17-12-14 25z"/><path class="o" d="M3478 2243l16-24-17-12-16 25z"/><path class="k" d="M3461 2272l17-29-17-11-17 26z"/><path class="h" d="M3442 2295l19-23-17-14-19 24z"/><path class="k" d="M3236 2316l17 18-17-13-17-16z"/><path class="o" d="M3220 2301l16 15-17-11-16-16z"/><path class="r" d="M3206 2285l14 16-17-12-13-16z"/><path class="u" d="M3195 2271l11 14-16-12-12-15z"/><path class="x" d="M3185 2255l10 16-17-13-10-15z"/><path class="x" d="M3536 2180l10-20-17-8-10 22z"/><path class="u" d="M3524 2202l12-22-17-6-11 20z"/><path class="r" d="M3511 2226l13-24-16-8-14 25z"/><path class="o" d="M3495 2251l16-25-17-7-16 24z"/><path class="k" d="M3478 2278l17-27-17-8-17 29z"/><path class="h" d="M3459 2301l19-23-17-6-19 23z"/><path class="f" d="M3289 2352l20 10-17-7-20-10z"/><path class="h" d="M3270 2340l19 12-17-7-19-11z"/><path class="k" d="M3253 2324l17 16-17-6-17-18z"/><path class="o" d="M3237 2308l16 16-17-8-16-15z"/><path class="r" d="M3223 2292l14 16-17-7-14-16z"/><path class="u" d="M3211 2277l12 15-17-7-11-14z"/><path class="x" d="M3202 2263l9 14-16-6-10-16z"/><path class="x" d="M3553 2181l9-19-16-2-10 20z"/><path class="v" d="M3541 2204l12-23-17-1-12 22z"/><path class="s" d="M3527 2228l14-24-17-2-13 24z"/><path class="o" d="M3512 2254l15-26-16-2-16 25z"/><path class="l" d="M3494 2279l18-25-17-3-17 27z"/><path class="i" d="M3475 2303l19-24-16-1-19 23z"/><path class="d" d="M3325 2364l22 5-17-2-21-5z"/><path class="f" d="M3305 2354l20 10-16-2-20-10z"/><path class="i" d="M3286 2341l19 13-16-2-19-12z"/><path class="l" d="M3269 2327l17 14-16-1-17-16z"/><path class="o" d="M3253 2310l16 17-16-3-16-16z"/><path class="s" d="M3240 2294l13 16-16-2-14-16z"/><path class="v" d="M3228 2279l12 15-17-2-12-15z"/><path class="x" d="M3218 2265l10 14-17-2-9-14z"/><path class="z" d="M3569 2181l9-22-16 3-9 19z"/><path class="w" d="M3557 2201l12-20-16 0-12 23z"/><path class="t" d="M3543 2226l14-25-16 3-14 24z"/><path class="q" d="M3528 2250l15-24-16 2-15 26z"/><path class="n" d="M3510 2279l18-29-16 4-18 25z"/><path class="c" d="M3384 2368l22-2-16 0-22 4z"/><path class="d" d="M3363 2366l21 2-16 2-21-1z"/><path class="f" d="M3341 2362l22 4-16 3-22-5z"/><path class="h" d="M3321 2352l20 10-16 2-20-10z"/><path class="j" d="M3302 2341l19 11-16 2-19-13z"/><path class="n" d="M3285 2322l17 19-16 0-17-14z"/><path class="q" d="M3269 2308l16 14-16 5-16-17z"/><path class="t" d="M3256 2291l13 17-16 2-13-16z"/><path class="w" d="M3244 2278l12 13-16 3-12-15z"/><path class="z" d="M3234 2262l10 16-16 1-10-14z"/><path class="B" d="M3584 2172l10-19-16 6-9 22z"/><path class="y" d="M3572 2195l12-23-15 9-12 20z"/><path class="v" d="M3559 2219l13-24-15 6-14 25z"/><path class="s" d="M3543 2245l16-26-16 7-15 24z"/><path class="p" d="M3526 2269l17-24-15 5-18 29z"/><path class="f" d="M3378 2360l22 1 22-5 22-9-16 8-22 11-22 2-21-2z"/><path class="h" d="M3357 2354l21 6-15 6-22-4z"/><path class="j" d="M3337 2345l20 9-16 8-20-10z"/><path class="m" d="M3318 2331l19 14-16 7-19-11z"/><path class="p" d="M3300 2318l18 13-16 10-17-19z"/><path class="s" d="M3285 2301l15 17-15 4-16-14z"/><path class="v" d="M3271 2285l14 16-16 7-13-17z"/><path class="y" d="M3259 2269l12 16-15 6-12-13z"/><path class="B" d="M3250 2256l9 13-15 9-10-16z"/><path class="E" d="M3598 2164l10-22-14 11-10 19z"/><path class="B" d="M3587 2184l11-20-14 8-12 23z"/><path class="y" d="M3573 2209l14-25-15 11-13 24z"/><path class="v" d="M3557 2233l16-24-14 10-16 26z"/><path class="r" d="M3540 2262l17-29-14 12-17 24z"/><path class="i" d="M3458 2338l22-15-15 11-21 13z"/><path class="h" d="M3414 2351l22-2 22-11-14 9-22 9-22 5z"/><path class="i" d="M3392 2349l22 2-14 10-22-1z"/><path class="k" d="M3371 2345l21 4-14 11-21-6z"/><path class="m" d="M3351 2335l20 10-14 9-20-9z"/><path class="o" d="M3332 2324l19 11-14 10-19-14z"/><path class="r" d="M3315 2306l17 18-14 7-18-13z"/><path class="v" d="M3299 2291l16 15-15 12-15-17z"/><path class="y" d="M3285 2275l14 16-14 10-14-16z"/><path class="B" d="M3274 2261l11 14-14 10-12-16z"/><path class="E" d="M3264 2245l10 16-15 8-9-13z"/><path class="H" d="M3612 2151l9-21-13 12-10 22z"/><path class="E" d="M3600 2172l12-21-14 13-11 20z"/><path class="B" d="M3586 2197l14-25-13 12-14 25z"/><path class="y" d="M3570 2221l16-24-13 12-16 24z"/><path class="n" d="M3493 2310l21-16-13 12-21 17z"/><path class="l" d="M3471 2325l22-15-13 13-22 15z"/><path class="k" d="M3427 2339l22-3 22-11-13 13-22 11-22 2z"/><path class="l" d="M3405 2336l22 3-13 12-22-2z"/><path class="n" d="M3384 2332l21 4-13 13-21-4z"/><path class="p" d="M3364 2323l20 9-13 13-20-10z"/><path class="r" d="M3345 2312l19 11-13 12-19-11z"/><path class="u" d="M3328 2293l17 19-13 12-17-18z"/><path class="y" d="M3312 2279l16 14-13 13-16-15z"/><path class="B" d="M3299 2262l13 17-13 12-14-16z"/><path class="E" d="M3287 2249l12 13-14 13-11-14z"/><path class="H" d="M3277 2233l10 16-13 12-10-16z"/><path class="K" d="M3624 2135l9-19-12 14-9 21z"/><path class="H" d="M3612 2158l12-23-12 16-12 21z"/><path class="E" d="M3598 2183l14-25-12 14-14 25z"/><path class="B" d="M3582 2209l16-26-12 14-16 24z"/><path class="s" d="M3526 2279l20-22-12 15-20 22z"/><path class="q" d="M3505 2298l21-19-12 15-21 16z"/><path class="o" d="M3483 2311l22-13-12 12-22 15z"/><path class="n" d="M3439 2324l22-5 22-8-12 14-22 11-22 3z"/><path class="o" d="M3417 2324l22 0-12 15-22-3z"/><path class="q" d="M3396 2318l21 6-12 12-21-4z"/><path class="s" d="M3376 2308l20 10-12 14-20-9z"/><path class="v" d="M3357 2295l19 13-12 15-19-11z"/><path class="y" d="M3340 2281l17 14-12 17-17-19z"/><path class="B" d="M3324 2265l16 16-12 12-16-14z"/><path class="E" d="M3310 2249l14 16-12 14-13-17z"/><path class="H" d="M3299 2232l11 17-11 13-12-13z"/><path class="K" d="M3289 2219l10 13-12 17-10-16z"/><path class="N" d="M3634 2121l10-19-11 14-9 19z"/><path class="K" d="M3622 2144l12-23-10 14-12 23z"/><path class="H" d="M3609 2168l13-24-10 14-14 25z"/><path class="E" d="M3593 2195l16-27-11 15-16 26z"/><path class="B" d="M3575 2218l18-23-11 14-17 24z"/><path class="y" d="M3557 2243l18-25-10 15-19 24z"/><path class="v" d="M3536 2264l21-21-11 14-20 22z"/><path class="t" d="M3515 2283l21-19-10 15-21 19z"/><path class="s" d="M3494 2296l21-13-10 15-22 13z"/><path class="r" d="M3450 2310l22-5 22-9-11 15-22 8-22 5z"/><path class="s" d="M3428 2310l22 0-11 14-22 0z"/><path class="t" d="M3407 2303l21 7-11 14-21-6z"/><path class="v" d="M3387 2294l20 9-11 15-20-10z"/><path class="y" d="M3368 2280l19 14-11 14-19-13z"/><path class="B" d="M3350 2267l18 13-11 15-17-14z"/><path class="E" d="M3335 2250l15 17-10 14-16-16z"/><path class="H" d="M3321 2234l14 16-11 15-14-16z"/><path class="K" d="M3309 2218l12 16-11 15-11-17z"/><path class="N" d="M3299 2205l10 13-10 14-10-13z"/><path class="Q" d="M3643 2109l10-21-9 14-10 19z"/><path class="N" d="M3631 2130l12-21-9 12-12 23z"/><path class="K" d="M3617 2155l14-25-9 14-13 24z"/><path class="B" d="M3566 2230l18-23-9 11-18 25z"/><path class="y" d="M3545 2251l21-21-9 13-21 21z"/><path class="w" d="M3524 2268l21-17-9 13-21 19z"/><path class="v" d="M3503 2283l21-15-9 15-21 13z"/><path class="u" d="M3458 2297l23-3 22-11-9 13-22 9-22 5z"/><path class="v" d="M3437 2294l21 3-8 13-22 0z"/><path class="w" d="M3416 2290l21 4-9 16-21-7z"/><path class="y" d="M3396 2281l20 9-9 13-20-9z"/><path class="B" d="M3377 2269l19 12-9 13-19-14z"/><path class="E" d="M3359 2251l18 18-9 11-18-13z"/><path class="H" d="M3344 2237l15 14-9 16-15-17z"/><path class="K" d="M3330 2220l14 17-9 13-14-16z"/><path class="N" d="M3318 2206l12 14-9 14-12-16z"/><path class="Q" d="M3308 2191l10 15-9 12-10-13z"/><path class="T" d="M3650 2094l10-18-7 12-10 21z"/><path class="Q" d="M3639 2118l11-24-7 15-12 21z"/><path class="N" d="M3625 2142l14-24-8 12-14 25z"/><path class="K" d="M3609 2169l16-27-8 13-15 24z"/><path class="H" d="M3592 2191l17-22-7 10-18 28z"/><path class="E" d="M3573 2216l19-25-8 16-18 23z"/><path class="B" d="M3553 2238l20-22-7 14-21 21z"/><path class="z" d="M3532 2258l21-20-8 13-21 17z"/><path class="x" d="M3444 2284l22-1 22-6 22-7 22-12-8 10-21 15-22 11-23 3-21-3z"/><path class="z" d="M3423 2277l21 7-7 10-21-4z"/><path class="B" d="M3403 2267l20 10-7 13-20-9z"/><path class="E" d="M3384 2253l19 14-7 14-19-12z"/><path class="H" d="M3367 2242l17 11-7 16-18-18z"/><path class="K" d="M3351 2224l16 18-8 9-15-14z"/><path class="N" d="M3337 2208l14 16-7 13-14-17z"/><path class="Q" d="M3325 2191l12 17-7 12-12-14z"/><path class="T" d="M3316 2179l9 12-7 15-10-15z"/></g>
<path class="ax" d="M3660 2383l-344 103-262-151 0-307M3316 2486l10 6M3316 2486l-12 3M3488 2434l10 6M3185 2410l-12 4M3660 2383l10 6M3054 2335l-11 3M3054 2335l-11 3M3054 2213l-11 4M3054 2091l-11 4"/></g><text x="333.9" y="255.8">−500</text><text class="te" x="329.1" y="255.7">−500</text><text x="351.1" y="250.6">0</text><text class="te" x="316" y="248.2">0</text><text x="368.3" y="245.5">500</text><text class="te" x="302.9" y="240.6">500</text><text class="te" x="302.4" y="235.4">0</text><text class="te" x="302.4" y="223.2">50</text><text class="te" x="302.4" y="211">100</text><text class="tm lb" x="364.4" y="261">x<tspan class="sub" dy="2.2">1</tspan></text><text class="tm lb" x="301.4" y="258.8">x<tspan class="sub" dy="2.2">2</tspan></text><text class="tm lb" transform="translate(285.5 218.2) rotate(-90)">F11( x<tspan class="sub" dy="2.2">1</tspan><tspan dy="-2.2"> , x</tspan><tspan class="sub" dy="2.2">2</tspan><tspan dy="-2.2"> )</tspan></text></g>
<g id="F13"><g transform="scale(.1)"><path class="gr" d="M1381 3286l-260-144M1121 3142l0-313M1381 3286l342-110M1723 3176l0-313M1552 3231l-260-144M1292 3087l0-313M1251 3214l342-110M1593 3104l0-313M1723 3176l-260-144M1463 3032l0-313M1121 3142l342-110M1463 3032l0-313M1121 3142l342-110M1463 3032l260 144M1121 3022l342-110M1463 2912l260 144M1121 2902l342-110M1463 2792l260 144"/>
<g class="ct"><path class="h" d="M1340 3203l-48-25-45-26 49 25 44 26M1614 3115l-49-25-45-26M1329 3178l4 2-1-3-5-1 2 2M1555 3105l6 1-6-3 0 2M1320 3173l3 1-1-2-3 0 1 1M1547 3100l4 1-4-3 0 2M1311 3168l3 1-1-2-3 0 1 1M1538 3095l4 1-4-3 0 2M1303 3163l3 2 0-3-7-1 4 2M1529 3091l5 0-7-3 2 3M1258 3098l41 18-24-19 27 11-22-17M1281 3091l33 13-23-17M1293 3087l30 12-21-15M1305 3083l28 12-20-15M1316 3079l28 12-19-15M1328 3076l27 11-19-14M1339 3072l28 12-19-15M1350 3068l30 13-21-16M1361 3065l33 14-23-18M1372 3061l33 14-16-14 35 14-29-21M1395 3054l47 21-13-12 20 6 2-4 32 13-33-23 57 27 8 1 2 4 9 0-22-15-2-4 52 26 44 28-8-2-28-13-2 4 7 1-1 2 2 2 47 30-44-19 21 16-10 0 9 10-25-9 37 25-41-18 24 19-28-10 23 17-35-14 31 22-39-17 28 21-38-16 28 20-39-17 28 21-40-17 28 21-39-17 27 20-40-17 28 20-42-18 23 18-34-14 16 14-36-15 30 21-48-21 14 12-21-6-2 4-32-13 33 23-57-27-8-1-2-3-9-1 23 15 2 4-52-26-45-28 8 2 28 13 2-3-7-2 2-2-3-2-47-30 44 19-20-16 9 0-9-10 25 9-36-25"/><path class="o" d="M1518 3242l-58-27 32 23-41-18 22 17-47-21 44 30-61-29 23 17-25-9-1 4 4 3-41-18 50 33-76-37-1 1 4 3 1 3 10 8 0 3-4-1-95-46-2-3-5-2-2-3-52-33-1-1 5 0 16 6 16 4-45-29M1540 3235l-48-22 33 23-51-23 44 29M1552 3231l-49-22 38 26M1563 3227l-47-21 37 25M1574 3224l-46-21 36 24M1586 3220l-46-21 35 24M1597 3217l-46-21 36 24M1609 3213l-47-21 36 24M1620 3209l-47-21 37 25M1632 3205l-49-22 38 26M1655 3198l-56-26 40 28-45-20 38 25M1692 3159l-61-29 29 21-14-3 14 13-35-14 50 33-55-26 36 25-34-14 30 21-44-19 47 31M1358 3243l-103-53-94-56 104 53 93 56M1297 3225l-57-30-53-31 58 29 52 32M1178 3174l94 51M1191 3119l39 18-29-21M1201 3116l13 3-5-5M1214 3112l21 8-15-10M1228 3108l13 6-10-7M1421 3045l14 6-10-7M1432 3042l19 9-13-11M1443 3038l10 4 2-4-4-2M1452 3036l40 17-31-20"/><path class="w" d="M1449 3264l-63-30 29 21-24-8-2 2 3 3-47-21 66 42-93-47 5 7 17 13 1 3-101-46 110 66M1461 3260l-55-25 44 29M1471 3257l-35-15 25 18M1482 3254l-41-20 32 22M1493 3250l-36-17 29 19M1504 3246l-26-11 19 14M1515 3243l-27-13 21 15M1526 3239l-24-11 19 13M1537 3236l-19-9 15 10M1549 3232l-19-8 14 10M1560 3229l-18-8 14 9M1571 3225l-17-8 13 9M1582 3221l-16-7 13 8M1594 3218l-17-8 13 9M1605 3214l-16-8 12 9M1617 3210l-18-8 14 9M1628 3206l-19-8 15 10M1640 3203l-19-9 14 10M1652 3199l-25-11 19 13M1664 3195l-28-12 21 14M1675 3191l-26-11 20 14M1687 3188l-36-17 28 19M1699 3184l-41-19 33 21M1711 3180l-35-15 25 18M1722 3176l-54-25 44 29M1235 3200l3 2-3-2M1226 3195l-3-1 3 1M1122 3142l99 51-24-18-52-33-2-3 6 1 40 15-37-23M1159 3130l26 13-20-15M1183 3122l6 3-5-3"/><path class="D" d="M1413 3276l-54-27 30 22-9-4-19-2-49-22 70 43M1426 3272l-47-22 38 24M1435 3269l-17-8 11 10M1446 3265l-29-14 23 16M1458 3261l-25-11 20 13M1467 3258l-6-3 5 4M1479 3254l-13-6 10 7M1490 3251l-8-4 7 4M1684 3189l-8-4 6 4M1696 3185l-13-6 10 7M1707 3181l-7-3 5 4M1720 3177l-24-11 19 13M1125 3141l24 12-19-14"/><path class="K" d="M1391 3283l-44-21 37 23M1399 3280l-4-1 2 2M1411 3276l-24-12 19 14M1423 3273l-17-8 14 9M1444 3266l-4-2 3 2"/><path class="S" d="M1388 3284l-15-8 13 9"/></g>
<g class="sf"><path class="r" d="M1453 2942l8-28-6-9-8 27z"/><path class="p" d="M1445 2951l8-9-6-10-8 12z"/><path class="m" d="M1437 2980l8-29-6-7-9 29z"/><path class="o" d="M1420 2976l8-31-6-10-8 32z"/><path class="k" d="M1412 2995l8-19-6-9-8 22z"/><path class="m" d="M1396 2978l8 8-6-9-8-10z"/><path class="k" d="M1388 3011l8-33-6-11-8 36z"/><path class="k" d="M1363 3011l8-17-6-11-8 19z"/><path class="h" d="M1355 3035l8-24-6-9-8 26z"/><path class="k" d="M1339 3009l8 9-6-9-8-10z"/><path class="i" d="M1331 3038l8-29-6-10-8 32z"/><path class="g" d="M1323 3040l8-2-6-7-9 2z"/><path class="k" d="M1306 3029l8-12-6-11-8 14z"/><path class="h" d="M1298 3053l8-24-6-9-8 26z"/><path class="k" d="M1274 3043l8-20 8 6-6-9-8-8-8 23z"/><path class="m" d="M1249 3033l8-19-6-10-8 20z"/><path class="k" d="M1241 3043l8-10-6-9-8 13z"/><path class="o" d="M1217 3035l8-27-6-11-8 30z"/><path class="s" d="M1192 3015l8-19-6-10-8 20z"/><path class="v" d="M1160 3027l8-66-6-11-8 69z"/><path class="A" d="M1127 3023l8-95-6-10-8 99z"/><path class="q" d="M1459 2953l8-30-6-9-8 28z"/><path class="o" d="M1451 2958l8-5-6-11-8 9z"/><path class="l" d="M1443 2987l8-29-6-7-8 29z"/><path class="n" d="M1426 2985l9-29-7-11-8 31z"/><path class="j" d="M1410 2996l8 6 8-17-6-9-8 19-8-9z"/><path class="l" d="M1402 2989l8 7-6-10-8-8z"/><path class="j" d="M1394 3018l8-29-6-11-8 33z"/><path class="j" d="M1369 3020l9-15-7-11-8 17z"/><path class="j" d="M1345 3020l8 7-6-9-8-9z"/><path class="h" d="M1337 3046l8-26-6-11-8 29z"/><path class="j" d="M1312 3038l9-11-7-10-8 12z"/><path class="h" d="M1304 3059l8-21-6-9-8 24z"/><path class="j" d="M1280 3050l8-17 8 6-6-10-8-6-8 20z"/><path class="h" d="M1272 3057l8-7-6-7-8 6z"/><path class="l" d="M1256 3042l8-17-7-11-8 19z"/><path class="k" d="M1247 3050l9-8-7-9-8 10z"/><path class="n" d="M1223 3042l8-23-6-11-8 27z"/><path class="r" d="M1199 3024l8-17-7-11-8 19z"/><path class="v" d="M1166 3034l8-62-6-11-8 66z"/><path class="z" d="M1133 3030l9-93-7-9-8 95z"/><path class="p" d="M1465 2966l8-31-6-12-8 30z"/><path class="n" d="M1457 2968l8-2-6-13-8 5z"/><path class="l" d="M1449 2997l8-29-6-10-8 29z"/><path class="l" d="M1433 2997l8-28-6-13-9 29z"/><path class="i" d="M1416 3007l9 4 8-14-7-12-8 17-8-6z"/><path class="j" d="M1408 3001l8 6-6-11-8-7z"/><path class="i" d="M1400 3028l8-27-6-12-8 29z"/><path class="g" d="M1392 3033l8-5-6-10-8 5z"/><path class="g" d="M1343 3056l8-23-6-13-8 26z"/><path class="i" d="M1319 3050l8-10-6-13-9 11z"/><path class="g" d="M1311 3068l8-18-7-12-8 21z"/><path class="i" d="M1286 3060l8-14 8 4-6-11-8-6-8 17z"/><path class="k" d="M1262 3054l8-16-6-13-8 17z"/><path class="j" d="M1254 3059l8-5-6-12-9 8z"/><path class="m" d="M1229 3052l8-20-6-13-8 23z"/><path class="q" d="M1205 3036l8-16-6-13-8 17z"/><path class="t" d="M1172 3044l8-60-6-12-8 62z"/><path class="y" d="M1140 3039l8-91-6-11-9 93z"/><path class="o" d="M1471 2976l9-32-7-9-8 31z"/><path class="m" d="M1463 2976l8 0-6-10-8 2z"/><path class="k" d="M1455 3005l8-29-6-8-8 29z"/><path class="k" d="M1439 3006l8-27-6-10-8 28z"/><path class="i" d="M1431 3018l8-12-6-9-8 14z"/><path class="h" d="M1423 3016l8 2-6-7-9-4z"/><path class="i" d="M1414 3012l9 4-7-9-8-6z"/><path class="h" d="M1406 3036l8-24-6-11-8 27z"/><path class="f" d="M1398 3041l8-5-6-8-8 5z"/><path class="h" d="M1292 3068l8-11-6-11-8 14z"/><path class="j" d="M1268 3063l8-15-6-10-8 16z"/><path class="l" d="M1235 3060l8-18-6-10-8 20z"/><path class="p" d="M1211 3045l8-14-6-11-8 16z"/><path class="s" d="M1178 3052l8-57-6-11-8 60z"/><path class="x" d="M1146 3046l8-88-6-10-8 91z"/><path class="n" d="M1478 2985l8-34-6-7-9 32z"/><path class="l" d="M1469 2982l9 3-7-9-8 0z"/><path class="j" d="M1461 3011l8-29-6-6-8 29z"/><path class="k" d="M1445 3013l8-25-6-9-8 27z"/><path class="h" d="M1421 3020l8 3 8 0 8-10-6-7-8 12-8-2-9-4z"/><path class="i" d="M1274 3070l8-14-6-8-8 15z"/><path class="s" d="M1185 3057l8-54-7-8-8 57z"/><path class="x" d="M1152 3051l8-86-6-7-8 88z"/><path class="m" d="M1484 2995l8-35-6-9-8 34z"/><path class="k" d="M1476 2990l8 5-6-10-9-3z"/><path class="j" d="M1468 3018l8-28-7-8-8 29z"/><path class="j" d="M1451 3022l8-24-6-10-8 25z"/><path class="g" d="M1435 3033l8-2 8-9-6-9-8 10-8 0z"/><path class="h" d="M1427 3030l8 3-6-10-8-3z"/><path class="r" d="M1191 3065l8-52-6-10-8 54z"/><path class="w" d="M1158 3059l8-85-6-9-8 86z"/><path class="l" d="M1490 3005l8-35-6-10-8 35z"/><path class="j" d="M1482 2998l8 7-6-10-8-5z"/><path class="i" d="M1474 3027l8-29-6-8-8 28z"/><path class="i" d="M1457 3032l9-24-7-10-8 24z"/><path class="g" d="M1449 3038l8-6-6-10-8 9z"/><path class="f" d="M1441 3042l8-4-6-7-8 2z"/><path class="g" d="M1433 3041l8 1-6-9-8-3z"/><path class="f" d="M1425 3057l8-16-6-11-8 19z"/><path class="v" d="M1164 3066l8-83-6-9-8 85z"/><path class="k" d="M1496 3012l8-36-6-6-8 35z"/><path class="i" d="M1480 3032l8-29-6-5-8 29z"/><path class="h" d="M1464 3038l8-23-6-7-9 24z"/><path class="f" d="M1439 3048l8 0 17-10-7-6-8 6-8 4-8-1z"/><path class="e" d="M1431 3062l8-14-6-7-8 16z"/><path class="v" d="M1171 3071l8-82-7-6-8 83z"/><path class="k" d="M1502 3019l9-37-7-6-8 36z"/><path class="h" d="M1486 3037l8-29-6-5-8 29z"/><path class="h" d="M1470 3044l8-22-6-7-8 23z"/><path class="f" d="M1462 3048l8-4-6-6-9 5z"/><path class="e" d="M1437 3068l8-13 9-1 8-6-7-5-8 5-8 0-8 14z"/><path class="d" d="M1429 3073l8-5-6-6-8 6z"/><path class="u" d="M1177 3076l8-80-6-7-8 82z"/><path class="j" d="M1509 3028l8-37-6-9-9 37z"/><path class="h" d="M1492 3045l8-29-6-8-8 29z"/><path class="g" d="M1476 3053l8-22-6-9-8 22z"/><path class="e" d="M1460 3063l8-8 8-2-6-9-8 4-8 6z"/><path class="u" d="M1183 3083l8-79-6-8-8 80z"/><path class="j" d="M1515 3035l8-38-6-6-8 37z"/><path class="g" d="M1498 3050l9-29-7-5-8 29z"/><path class="f" d="M1482 3059l8-21-6-7-8 22z"/><path class="e" d="M1474 3060l8-1-6-6-8 2z"/><path class="d" d="M1458 3071l8-2 8-9-6-5-8 8-8 1z"/><path class="t" d="M1189 3088l8-78-6-6-8 79z"/><path class="i" d="M1521 3039l8-38-6-4-8 38z"/><path class="g" d="M1505 3053l8-29-6-3-9 29z"/><path class="f" d="M1488 3063l9-21-7-4-8 21z"/><path class="e" d="M1480 3063l8 0-6-4-8 1z"/><path class="d" d="M1464 3075l8-2-6-4-8 2z"/><path class="c" d="M1456 3084l8-9-6-4-8 10z"/><path class="t" d="M1195 3091l8-77-6-4-8 78z"/><path class="i" d="M1527 3046l8-39-6-6-8 38z"/><path class="g" d="M1511 3059l8-29-6-6-8 29z"/><path class="f" d="M1495 3069l8-20-6-7-9 21z"/><path class="e" d="M1486 3069l9 0-7-6-8 0z"/><path class="t" d="M1201 3097l9-77-7-6-8 77z"/><path class="i" d="M1533 3053l8-40-6-6-8 39z"/><path class="g" d="M1517 3065l8-29-6-6-8 29z"/><path class="e" d="M1501 3075l8-19-6-7-8 20z"/><path class="d" d="M1484 3085l9-11 8 1-6-6-9 0-8 10z"/><path class="t" d="M1208 3102l8-75-6-7-9 77z"/><path class="h" d="M1540 3056l8-40-7-3-8 40z"/><path class="f" d="M1523 3068l8-29-6-3-8 29z"/><path class="e" d="M1507 3078l8-19-6-3-8 19z"/><path class="d" d="M1491 3088l8-11-6-3-9 11z"/><path class="t" d="M1214 3105l8-75-6-3-8 75z"/><path class="h" d="M1546 3059l8-40-6-3-8 40z"/><path class="g" d="M1529 3071l9-29-7-3-8 29z"/><path class="e" d="M1513 3081l8-19-6-3-8 19z"/><path class="t" d="M1220 3108l8-75-6-3-8 75z"/><path class="h" d="M1552 3065l8-40-6-6-8 40z"/><path class="f" d="M1536 3076l8-29-6-5-9 29z"/><path class="e" d="M1519 3087l8-19-6-6-8 19z"/><path class="d" d="M1511 3085l8 2-6-6-8-1z"/><path class="t" d="M1226 3113l8-75-6-5-8 75z"/><path class="h" d="M1558 3068l8-40-6-3-8 40z"/><path class="f" d="M1542 3079l8-29-6-3-8 29z"/><path class="e" d="M1526 3090l8-19-7-3-8 19z"/><path class="d" d="M1517 3089l9 1-7-3-8-2z"/><path class="s" d="M1232 3117l9-76-7-3-8 75z"/><path class="h" d="M1564 3068l8-39-6-1-8 40z"/><path class="g" d="M1548 3080l8-29-6-1-8 29z"/><path class="f" d="M1336 3134l8 9-6-1-8-9z"/><path class="t" d="M1239 3118l8-76-6-1-9 76z"/><path class="i" d="M1570 3071l9-39-7-3-8 39z"/><path class="g" d="M1554 3084l8-29-6-4-8 29z"/><path class="e" d="M1538 3094l8-20-6-3-8 20z"/><path class="t" d="M1245 3121l8-76-6-3-8 76z"/><path class="i" d="M1577 3074l8-39-6-3-9 39z"/><path class="g" d="M1560 3087l9-29-7-3-8 29z"/><path class="e" d="M1544 3097l8-20-6-3-8 20z"/><path class="f" d="M1349 3140l8 9-6-3-8-9z"/><path class="p" d="M1275 3072l9 62-7-4-8-61z"/><path class="t" d="M1251 3125l8-77-6-3-8 76z"/><path class="i" d="M1583 3074l8-39-6 0-8 39z"/><path class="g" d="M1567 3088l8-29-6-1-9 29z"/><path class="d" d="M1387 3145l9 12-7 0-8-11z"/><path class="e" d="M1371 3146l8 8-6 0-8-9z"/><path class="f" d="M1355 3139l8 10-6 0-8-9z"/><path class="h" d="M1339 3139l8 4-6-1-9-3z"/><path class="p" d="M1282 3073l8 62-6-1-9-62z"/><path class="t" d="M1257 3126l8-78-6 0-8 77z"/><path class="j" d="M1589 3073l8-38-6 0-8 39z"/><path class="g" d="M1573 3089l8-29-6-1-8 29z"/><path class="d" d="M1394 3145l8 13-6-1-9-12z"/><path class="e" d="M1377 3147l9 7-7 0-8-8z"/><path class="g" d="M1361 3139l8 10-6 0-8-10z"/><path class="h" d="M1345 3140l8 3-6 0-8-4z"/><path class="q" d="M1288 3074l8 61-6 0-8-62z"/><path class="u" d="M1263 3127l9-79-7 0-8 78z"/><path class="j" d="M1595 3075l8-38-6-2-8 38z"/><path class="h" d="M1579 3092l8-29-6-3-8 29z"/><path class="e" d="M1400 3147l8 14-6-3-8-13z"/><path class="f" d="M1384 3150l8 6-6-2-9-7z"/><path class="g" d="M1367 3140l8 12-6-3-8-10z"/><path class="h" d="M1351 3143l8 3-6-3-8-3z"/><path class="j" d="M1343 3129l8 14-6-3-8-13z"/><path class="q" d="M1294 3077l8 61-6-3-8-61z"/><path class="u" d="M1270 3130l8-79-6-3-9 79z"/><path class="j" d="M1601 3074l9-37-7 0-8 38z"/><path class="e" d="M1406 3146l8 16-6-1-8-14z"/><path class="f" d="M1390 3152l8 4-6 0-8-6z"/><path class="h" d="M1373 3140l9 12-7 0-8-12z"/><path class="i" d="M1357 3144l8 3-6-1-8-3z"/><path class="j" d="M1349 3128l8 16-6-1-8-14z"/><path class="l" d="M1333 3121l8 17-6 0-8-18z"/><path class="q" d="M1300 3078l8 61-6-1-8-61z"/><path class="u" d="M1276 3132l8-81-6 0-8 79z"/><path class="k" d="M1608 3071l8-36-6 2-9 37z"/><path class="f" d="M1412 3143l8 18-6 1-8-16z"/><path class="f" d="M1396 3151l8 3-6 2-8-4z"/><path class="g" d="M1388 3150l8 1-6 1-8 0z"/><path class="i" d="M1380 3137l8 13-6 2-9-12z"/><path class="i" d="M1363 3143l9 3-7 1-8-3z"/><path class="k" d="M1355 3125l8 18-6 1-8-16z"/><path class="r" d="M1306 3076l9 62-7 1-8-61z"/><path class="v" d="M1282 3131l8-82-6 2-8 81z"/><path class="l" d="M1614 3070l8-35-6 0-8 36z"/><path class="i" d="M1598 3092l8-28-6-2-9 29z"/><path class="f" d="M1418 3142l9 20-7-1-8-18z"/><path class="g" d="M1402 3152l8 2-6 0-8-3z"/><path class="h" d="M1394 3150l8 2-6-1-8-1z"/><path class="i" d="M1386 3136l8 14-6 0-8-13z"/><path class="j" d="M1370 3144l8 3-6-1-9-3z"/><path class="l" d="M1361 3124l9 20-7-1-8-18z"/><path class="r" d="M1313 3078l8 61-6-1-9-62z"/><path class="v" d="M1288 3132l8-83-6 0-8 82z"/><path class="d" d="M1457 3151l8 13-6-2-8-11z"/><path class="g" d="M1425 3141l8 22-6-1-9-20z"/><path class="h" d="M1400 3150l8 4-6-2-8-2z"/><path class="j" d="M1392 3135l8 15-6 0-8-14z"/><path class="j" d="M1376 3145l8 4-6-2-8-3z"/><path class="l" d="M1368 3124l8 21-6-1-9-20z"/><path class="n" d="M1351 3124l9 12-7 0-8-14z"/><path class="s" d="M1319 3079l8 62-6-2-8-61z"/><path class="w" d="M1294 3134l9-85-7 0-8 83z"/><path class="m" d="M1626 3065l8-33-6 3-8 34z"/><path class="e" d="M1463 3148l9 14-7 2-8-13z"/><path class="h" d="M1431 3137l8 24-6 2-8-22z"/><path class="h" d="M1415 3153l8-2-7 3-8 0z"/><path class="i" d="M1406 3147l9 6-7 1-8-4z"/><path class="k" d="M1398 3131l8 16-6 3-8-15z"/><path class="k" d="M1382 3144l8 3-6 2-8-4z"/><path class="m" d="M1374 3119l8 25-6 1-8-21z"/><path class="n" d="M1358 3122l8 11-6 3-9-12z"/><path class="s" d="M1325 3077l8 62-6 2-8-62z"/><path class="w" d="M1301 3133l8-87-6 3-9 85z"/><path class="n" d="M1632 3061l9-32-7 3-8 33z"/><path class="f" d="M1470 3145l8 16-6 1-9-14z"/><path class="h" d="M1437 3133l8 27-6 1-8-24z"/><path class="j" d="M1413 3144l8 8-6 1-9-6z"/><path class="l" d="M1404 3127l9 17-7 3-8-16z"/><path class="k" d="M1388 3142l8 3-6 2-8-3z"/><path class="n" d="M1380 3115l8 27-6 2-8-25z"/><path class="t" d="M1331 3076l8 61-6 2-8-62z"/><path class="x" d="M1307 3132l8-89-6 3-8 87z"/><path class="g" d="M1476 3144l8 19-6-2-8-16z"/><path class="i" d="M1443 3131l8 30-6-1-8-27z"/><path class="j" d="M1419 3143l8 11-6-2-8-8z"/><path class="m" d="M1411 3125l8 18-6 1-9-17z"/><path class="l" d="M1394 3143l9 3-7-1-8-3z"/><path class="o" d="M1386 3113l8 30-6-1-8-27z"/><path class="p" d="M1370 3123l8 7-6 0-8-8z"/><path class="u" d="M1337 3076l9 62-7-1-8-61z"/><path class="y" d="M1313 3134l8-92-6 1-8 89z"/><path class="g" d="M1482 3141l8 21-6 1-8-19z"/><path class="j" d="M1449 3126l9 33-7 2-8-30z"/><path class="k" d="M1425 3140l8 13-6 1-8-11z"/><path class="m" d="M1401 3142l8 3-6 1-9-3z"/><path class="p" d="M1392 3109l9 33-7 1-8-30z"/><path class="q" d="M1376 3123l8 4-6 3-8-7z"/><path class="u" d="M1344 3075l8 62-6 1-9-62z"/><path class="y" d="M1319 3133l8-94-6 3-8 92z"/><path class="h" d="M1488 3136l8 24-6 2-8-21z"/><path class="k" d="M1456 3120l8 36-6 3-9-33z"/><path class="l" d="M1431 3135l8 16-6 2-8-13z"/><path class="m" d="M1407 3138l8 3-6 4-8-3z"/><path class="q" d="M1399 3102l8 36-6 4-9-33z"/><path class="r" d="M1382 3120l8 1-6 6-8-4z"/><path class="v" d="M1350 3072l8 61-6 4-8-62z"/><path class="z" d="M1325 3131l8-97-6 5-8 94z"/><path class="i" d="M1551 3121l8 21-6 0-8-18z"/><path class="i" d="M1494 3132l8 27-6 1-8-24z"/><path class="l" d="M1462 3115l8 40-6 1-8-36z"/><path class="m" d="M1437 3131l9 19-7 1-8-16z"/><path class="n" d="M1413 3137l8 3-6 1-8-3z"/><path class="r" d="M1405 3097l8 40-6 1-8-36z"/><path class="w" d="M1356 3070l8 62-6 1-8-61z"/><path class="A" d="M1332 3130l8-99-7 3-8 97z"/><path class="q" d="M1672 3014l8 54-7 0-8-51z"/><path class="i" d="M1558 3118l8 24-7 0-8-21z"/><path class="j" d="M1501 3130l8 29-7 0-8-27z"/><path class="m" d="M1468 3111l8 43-6 1-8-40z"/><path class="n" d="M1444 3129l8 21-6 0-9-19z"/><path class="o" d="M1419 3136l8 3-6 1-8-3z"/><path class="s" d="M1411 3093l8 43-6 1-8-40z"/><path class="x" d="M1362 3070l8 61-6 1-8-62z"/><path class="B" d="M1338 3130l8-102-6 3-8 99z"/><path class="r" d="M1678 3008l8 57-6 3-8-54z"/><path class="j" d="M1564 3112l8 27-6 3-8-24z"/><path class="k" d="M1507 3123l8 33-6 3-8-29z"/><path class="n" d="M1474 3103l8 47-6 4-8-43z"/><path class="n" d="M1450 3122l8 25-6 3-8-21z"/><path class="p" d="M1425 3132l8 3-6 4-8-3z"/><path class="t" d="M1417 3085l8 47-6 4-8-43z"/><path class="x" d="M1368 3066l8 61-6 4-8-61z"/><path class="C" d="M1344 3127l8-106-6 7-8 102z"/><path class="t" d="M1684 3002l8 61-6 2-8-57z"/><path class="n" d="M1627 3074l8 22-6 3-8-19z"/><path class="l" d="M1570 3106l8 30-6 3-8-27z"/><path class="l" d="M1513 3117l8 37-6 2-8-33z"/><path class="p" d="M1480 3095l9 51-7 4-8-47z"/><path class="p" d="M1456 3116l8 28-6 3-8-25z"/><path class="q" d="M1432 3128l8 4-7 3-8-3z"/><path class="u" d="M1423 3077l9 51-7 4-8-47z"/><path class="v" d="M1399 3102l8 12-6 2-8-8z"/><path class="z" d="M1375 3062l8 62-7 3-8-61z"/><path class="D" d="M1350 3125l8-110-6 6-8 106z"/><path class="u" d="M1690 2998l8 64-6 1-8-61z"/><path class="x" d="M1682 3017l8-19-6 4-8 21z"/><path class="u" d="M1649 3060l9-40-7 6-8 38z"/><path class="o" d="M1633 3070l8 26-6 0-8-22z"/><path class="m" d="M1576 3102l8 33-6 1-8-30z"/><path class="m" d="M1519 3113l8 40-6 1-8-37z"/><path class="q" d="M1487 3089l8 56-6 1-9-51z"/><path class="q" d="M1462 3112l8 32-6 0-8-28z"/><path class="r" d="M1438 3127l8 3-6 2-8-4z"/><path class="w" d="M1430 3071l8 56-6 1-9-51z"/><path class="w" d="M1405 3098l8 15-6 1-8-12z"/><path class="z" d="M1381 3060l8 62-6 2-8-62z"/><path class="E" d="M1356 3124l8-112-6 3-8 110z"/><path class="v" d="M1696 2992l8 68-6 2-8-64z"/><path class="z" d="M1688 3009l8-17-6 6-8 19z"/><path class="u" d="M1664 3012l8 60-6 3-8-55z"/><path class="v" d="M1656 3054l8-42-6 8-9 40z"/><path class="p" d="M1639 3064l8 30-6 2-8-26z"/><path class="r" d="M1623 3102l8-57-6 8-8 53z"/><path class="s" d="M1599 3089l8-28-6 8-9 26z"/><path class="n" d="M1582 3096l8 37-6 2-8-33z"/><path class="p" d="M1566 3130l8-54-6 8-8 50z"/><path class="l" d="M1558 3132l8-2-6 4-8 2z"/><path class="p" d="M1550 3083l8 49-6 4-8-44z"/><path class="r" d="M1542 3107l8-24-6 9-9 21z"/><path class="n" d="M1525 3107l8 44-6 2-8-40z"/><path class="r" d="M1493 3081l8 60-6 4-8-56z"/><path class="u" d="M1485 3111l8-30-6 8-9 28z"/><path class="r" d="M1468 3106l8 36-6 2-8-32z"/><path class="s" d="M1444 3123l8 4-6 3-8-3z"/><path class="x" d="M1436 3063l8 60-6 4-8-56z"/><path class="A" d="M1428 3093l8-30-6 8-9 28z"/><path class="x" d="M1411 3092l8 19-6 2-8-15z"/><path class="C" d="M1395 3119l8-91-6 8-8 86z"/><path class="A" d="M1387 3057l8 62-6 3-8-62z"/><path class="F" d="M1362 3122l9-117-7 7-8 112z"/><path class="w" d="M1702 2984l9 71-7 5-8-68z"/><path class="A" d="M1694 2999l8-15-6 8-8 17z"/><path class="x" d="M1686 3037l8-38-6 10-8 34z"/><path class="v" d="M1670 3002l8 64-6 6-8-60z"/><path class="x" d="M1662 3046l8-44-6 10-8 42z"/><path class="r" d="M1645 3056l9 33 8-43-6 8-9 40-8-30z"/><path class="s" d="M1629 3097l8-63-6 11-8 57z"/><path class="s" d="M1613 3050l8 52-6 6-8-47z"/><path class="t" d="M1605 3080l8-30-6 11-8 28z"/><path class="o" d="M1588 3088l9 40-7 5-8-37z"/><path class="r" d="M1572 3124l8-58-6 10-8 54z"/><path class="n" d="M1564 3127l8-3-6 6-8 2z"/><path class="r" d="M1556 3073l8 54-6 5-8-49z"/><path class="t" d="M1548 3098l8-25-6 10-8 24z"/><path class="p" d="M1532 3099l8 47-7 5-8-44z"/><path class="s" d="M1515 3129l8-50-6 10-8 46z"/><path class="t" d="M1499 3070l8 65-6 6-8-60z"/><path class="w" d="M1491 3103l8-33-6 11-8 30z"/><path class="s" d="M1475 3098l8 39-7 5-8-36z"/><path class="x" d="M1458 3121l8-57-6 11-8 52z"/><path class="t" d="M1450 3118l8 3-6 6-8-4z"/><path class="z" d="M1442 3053l8 65-6 5-8-60z"/><path class="B" d="M1434 3085l8-32-6 10-8 30z"/><path class="y" d="M1418 3083l8 23-7 5-8-19z"/><path class="E" d="M1401 3113l8-96-6 11-8 91z"/><path class="C" d="M1393 3051l8 62-6 6-8-62z"/><path class="G" d="M1385 3054l8-3-6 6-8 7z"/><path class="H" d="M1369 3117l8-120-6 8-9 117z"/><path class="x" d="M1709 2977l8 76-6 2-9-71z"/><path class="C" d="M1701 2990l8-13-7 7-8 15z"/><path class="y" d="M1692 3034l9-44-7 9-8 38z"/><path class="t" d="M1684 3063l8-29-6 3-8 29z"/><path class="x" d="M1676 2993l8 70-6 3-8-64z"/><path class="z" d="M1668 3039l8-46-6 9-8 44z"/><path class="s" d="M1652 3050l8 37 8-48-6 7-8 43-9-33z"/><path class="x" d="M1644 3026l8 24-7 6-8-22z"/><path class="u" d="M1635 3093l9-67-7 8-8 63z"/><path class="t" d="M1619 3042l8 56-6 4-8-52z"/><path class="v" d="M1611 3074l8-32-6 8-8 30z"/><path class="p" d="M1595 3081l8 45 8-52-6 6-8 48-9-40z"/><path class="v" d="M1587 3057l8 24-7 7-8-22z"/><path class="s" d="M1578 3121l9-64-7 9-8 58z"/><path class="o" d="M1570 3123l8-2-6 3-8 3z"/><path class="s" d="M1562 3065l8 58-6 4-8-54z"/><path class="v" d="M1554 3092l8-27-6 8-8 25z"/><path class="q" d="M1538 3093l8 51 8-52-6 6-8 48-8-47z"/><path class="w" d="M1530 3070l8 23-6 6-9-20z"/><path class="u" d="M1521 3125l9-55-7 9-8 50z"/><path class="v" d="M1505 3062l8 70-6 3-8-65z"/><path class="y" d="M1497 3096l8-34-6 8-8 33z"/><path class="t" d="M1481 3092l8 43 8-39-6 7-8 34-8-39z"/><path class="A" d="M1473 3056l8 36-6 6-9-34z"/><path class="y" d="M1464 3117l9-61-7 8-8 57z"/><path class="u" d="M1456 3114l8 3-6 4-8-3z"/><path class="A" d="M1448 3044l8 70-6 4-8-65z"/><path class="D" d="M1440 3079l8-35-6 9-8 32z"/><path class="z" d="M1432 3104l8-25-6 6-8 21z"/><path class="A" d="M1424 3077l8 27-6 2-8-23z"/><path class="H" d="M1416 3009l8 68-6 6-9-66z"/><path class="F" d="M1407 3109l9-100-7 8-8 96z"/><path class="D" d="M1399 3048l8 61-6 4-8-62z"/><path class="I" d="M1391 3045l8 3-6 3-8 3z"/><path class="N" d="M1383 2991l8 54-6 9-8-57z"/><path class="I" d="M1375 3115l8-124-6 6-8 120z"/><path class="y" d="M1715 2971l8 80-6 2-8-76z"/><path class="E" d="M1707 2982l8-11-6 6-8 13z"/><path class="A" d="M1699 3031l8-49-6 8-9 44z"/><path class="u" d="M1690 3059l9-28-7 3-8 29z"/><path class="y" d="M1682 2985l8 74-6 4-8-70z"/><path class="A" d="M1674 3034l8-49-6 8-8 46z"/><path class="t" d="M1658 3044l8 41 8-51-6 5-8 48-8-37z"/><path class="y" d="M1650 3018l8 26-6 6-8-24z"/><path class="v" d="M1642 3090l8-72-6 8-9 67z"/><path class="q" d="M1633 3095l9-5-7 3-8 5z"/><path class="v" d="M1625 3034l8 61-6 3-8-56z"/><path class="x" d="M1617 3068l8-34-6 8-8 32z"/><path class="r" d="M1609 3124l8-56-6 6-8 52z"/><path class="q" d="M1601 3075l8 49-6 2-8-45z"/><path class="w" d="M1593 3049l8 26-6 6-8-24z"/><path class="u" d="M1585 3118l8-69-6 8-9 64z"/><path class="p" d="M1576 3120l9-2-7 3-8 2z"/><path class="u" d="M1568 3056l8 64-6 3-8-58z"/><path class="x" d="M1560 3086l8-30-6 9-8 27z"/><path class="r" d="M1544 3087l8 55 8-56-6 6-8 52-8-51z"/><path class="x" d="M1536 3062l8 25-6 6-8-23z"/><path class="v" d="M1528 3122l8-60-6 8-9 55z"/><path class="r" d="M1519 3129l9-7-7 3-8 7z"/><path class="w" d="M1511 3054l8 75-6 3-8-70z"/><path class="z" d="M1503 3091l8-37-6 8-8 34z"/><path class="u" d="M1495 3133l8-42-6 5-8 39z"/><path class="v" d="M1487 3086l8 47-6 2-8-43z"/><path class="B" d="M1479 3048l8 38-6 6-8-36z"/><path class="A" d="M1471 3114l8-66-6 8-9 61z"/><path class="v" d="M1462 3111l9 3-7 3-8-3z"/><path class="C" d="M1454 3036l8 75-6 3-8-70z"/><path class="F" d="M1446 3073l8-37-6 8-8 35z"/><path class="A" d="M1438 3102l8-29-6 6-8 25z"/><path class="B" d="M1430 3071l8 31-6 2-8-27z"/><path class="J" d="M1422 3001l8 70-6 6-8-68z"/><path class="H" d="M1414 3106l8-105-6 8-9 100z"/><path class="E" d="M1405 3044l9 62-7 3-8-61z"/><path class="J" d="M1397 3037l8 7-6 4-8-3z"/><path class="O" d="M1389 2985l8 52-6 8-8-54z"/><path class="J" d="M1381 3113l8-128-6 6-8 124z"/></g>
<path class="ax" d="M1723 3176l-342 110-260-144 0-313M1381 3286l11 6M1381 3286l-11 4M1552 3231l11 6M1251 3214l-11 4M1723 3176l10 6M1121 3142l-11 4M1121 3142l-11 4M1121 3022l-11 4M1121 2902l-11 3"/></g><text x="140.4" y="335.8">−5</text><text class="te" x="135.6" y="335.7">−5</text><text x="157.5" y="330.3">0</text><text class="te" x="122.6" y="328.5">0</text><text x="174.6" y="324.8">5</text><text class="te" x="109.6" y="321.3">5</text><text class="te" x="109.1" y="316.1">0</text><text class="te" x="109.1" y="304.1">5</text><text class="te" x="109.1" y="292.1">10</text><text class="tm lb" x="165" y="340.4">x<tspan class="sub" dy="2.2">1</tspan></text><text class="tm lb" x="114.1" y="339.1">x<tspan class="sub" dy="2.2">2</tspan></text><text class="tm lb" transform="translate(94.5 298.5) rotate(-90)">F13( x<tspan class="sub" dy="2.2">1</tspan><tspan dy="-2.2"> , x</tspan><tspan class="sub" dy="2.2">2</tspan><tspan dy="-2.2"> )</tspan></text></g>
<g id="F12"><g transform="scale(.1)"><path class="gr" d="M2390 3278l-260-146M2130 3132l0-310M2390 3278l341-111M2731 3167l0-310M2560 3222l-259-146M2301 3076l0-310M2260 3205l341-111M2601 3094l0-310M2731 3167l-260-146M2471 3021l0-310M2130 3132l341-111M2471 3021l0-310M2130 3132l341-111M2471 3021l260 146M2130 3027l341-111M2471 2916l260 146M2130 2923l341-111M2471 2812l260 146"/>
<g class="ct"><path class="g" d="M2405 3271l-19-4-5-4-1-6 20 6 5 8M2470 3251l-18-6-6-3-7-8 9-3 23 9 8 9-9 2M2540 3229l-21-5-8-5-5-9-6-4-45-3-11 2-5 5-4 11 1 3-9 3-50-4-9 3-4 14-5 5-30-1M2612 3206l-10 0-20-9-6-6 5-5 26 9 8 10M2674 3183l-15-5-6-4-2-4 14 0 8 4 3 5-2 4M2313 3235l4-6 6-5 10-2 26-1 9-3 3-7 1-6-20 0-41 13-21 4M2409 3193l14 0 6-7-13 3-7 4M2480 3170l15 0 5-7-12 3-8 4M2627 3108l-47 22-35 12-6 5-2 4 27 2 11-2 10-10 7-4 25-2 16 3 3 5-1 10-7 4-45-1-8 3-4 18 1 4-12 2-32-3-12 2-7 4-5 19 7 3 13 2 16 7 6 5 0 5M2256 3203l23-11 27-9 11-9-31-2-9 3-11 10-8 3-26 1M2356 3162l17-6-17-1 0 7M2427 3139l17-6-17-1-1 1 1 6M2217 3181l0-8 5-5 45 1 10-2-1-4 3-3 3-11-1-4 8-3 33 2 13 0 8-4 6-18-6-5-21-4-8-4-5-5-4-9 18 2 12 5 10 7 1 7 9 4 41 2 11-2 6-4 4-11 0-3 7-4 49 4 11-2 0-4 8-16 12-1 24 2 9 3 2 6-4 7-7 4-37 3-7 4-3 7 1 5 21-1 37-11 62-14M2268 3138l-21-8-9-9 8-3 20 6 12 11-10 3M2400 3093l-17-7-8-8 4-5 23 7 6 4 6 8-14 1M2201 3156l-20-4-4-5-1-5 19 5 5 5 1 4M2470 3068l-16-5-8-8 14 0 8 3 5 5-3 5"/><path class="m" d="M2397 3276l-19-6-19-12-14-5M2463 3254l-19-6-28-15-23-1-9 3-2 9 27 16 9 9M2531 3232l-19-6-21-11-9-3-14-2-11 2-4 6 1 3 4 4 21 12 8 9M2600 3210l-20-6-29-15-22 0-7 4 0 5 5 5 21 11 8 10M2669 3187l-19-6-28-15-22-1-9 3-3 6 1 3 26 16 9 9M2683 3140l-14 0-10 2-6 5-1 3 2 6 27 15 9 9M2200 3172l-5-7-22-11-17-18-16-7M2154 3124l12 8 39 12 19 12 9 3 18 1 10-2 4-6-1-3-4-5-21-11-17-19-15-7M2223 3102l13 8 38 11 21 12 13 4 14-1 7-3 2-6-2-3-23-13-17-19-14-7M2293 3079l21 11 29 9 20 12 19 3 12-1 5-5 1-3-4-5-21-11-17-19-15-7M2360 3057l12 8 38 12 20 12 9 3 19 1 9-3 4-5 0-3-5-5-21-11-17-19-14-7M2427 3035l13 8 37 13 18 12 9 3 18 2 12-1 8-3 3-7"/><path class="t" d="M2391 3278l-4-1M2457 3256l-31-8-18-7-3 2 0 4 13 10 6 10M2525 3234l-28-7-19-3 10 10 5 10M2593 3212l-33-8-12-4 6 6 1 6 7 10M2663 3189l-22-5-25-10-8 3 15 13 6 10M2726 3164l-22-7-14-7-7-2-12 1 0 7 18 13 7 9M2158 3148l-9-10-14-8M2159 3122l14 8 40 11 18 8 15 0-16-13-9-15-19-13M2229 3100l22 11 33 7 17 7-3-5 2-4-12-17-18-13M2297 3078l23 10 55 14-6-5-12-21-18-12M2365 3056l23 10 31 8 21 9 11-2-15-12-10-15-18-12M2432 3034l13 8 39 11 23 11 14 1 6-5-1-2-19-12-5-8"/><path class="z" d="M2451 3258l-15-2-7 4 1 5M2518 3236l-7-1-11 1 0 6M2587 3214l-16-1-4 5 1 2M2656 3191l-13-2-9 3 1 6M2727 3168l-13-2-13 0-1 7 2 4M2145 3141l-14-9M2163 3121l24 11 20 3 11-2 0-8-2-3-17-12M2232 3099l25 10 22 3 7-4-3-8-4-4-13-8M2301 3076l24 11 13 2 14 0 2-7-3-4-16-13M2369 3054l25 11 20 4 10-3-3-10-17-13M2436 3033l24 10 15 4 17 1 4-5-7-12"/><path class="G" d="M2718 3171l-7 1-1 2M2167 3120l27 9 15-1-3-9-11-8M2236 3097l16 7 18 3 7-5-3-5-12-8M2305 3075l24 9 14 0 1-7-13-10M2372 3053l27 10 6 1 10-3-4-8-11-9M2440 3031l25 10 16 2 5-6-1-2-4-5-12-8"/><path class="M" d="M2172 3118l15 6 13-1-10-10M2241 3096l20 6 4-5-7-7M2309 3074l9 3 16 2-3-6-5-5M2377 3052l19 6 9-2-10-10M2444 3030l7 4 22 4 3-6-11-9"/><path class="T" d="M2450 3028l11 3-3-6"/></g>
<g class="sf"><path class="R" d="M2451 2782l9-48-7-17-9 52z"/><path class="G" d="M2442 2875l9-93-7-13-9 102z"/><path class="s" d="M2433 2956l9-81-7-4-9 89z"/><path class="R" d="M2388 2780l9-4-6-16-9 4z"/><path class="L" d="M2379 2851l9-71-6-16-9 77z"/><path class="y" d="M2370 2945l9-94-6-10-9 104z"/><path class="m" d="M2361 3005l9-60-6 0-9 65z"/><path class="P" d="M2316 2830l9-33-6-17-9 36z"/><path class="G" d="M2308 2916l8-86-6-14-9 95z"/><path class="s" d="M2299 3002l9-86-7-5-9 94z"/><path class="Q" d="M2254 2824l9 12-7-15-9-14z"/><path class="M" d="M2245 2882l9-58-7-17-9 64z"/><path class="B" d="M2236 2974l9-92-7-11-9 101z"/><path class="o" d="M2227 3043l9-69-7-2-9 76z"/><path class="R" d="M2182 2855l9-17-7-17-9 18z"/><path class="K" d="M2173 2932l9-77-7-16-9 85z"/><path class="x" d="M2164 3021l9-89-7-8-9 99z"/><path class="m" d="M2155 3066l9-45-7 2-9 48z"/><path class="l" d="M2146 3037l9 29-7 5-9-31z"/><path class="v" d="M2137 2955l9 82-7 3-9-90z"/><path class="Q" d="M2467 2758l9 21-7-21-9-24z"/><path class="P" d="M2458 2802l9-44-7-24-9 48z"/><path class="F" d="M2449 2886l9-84-7-20-9 93z"/><path class="s" d="M2440 2959l9-73-7-11-9 81z"/><path class="P" d="M2395 2803l9-4-7-23-9 4z"/><path class="J" d="M2386 2867l9-64-7-23-9 71z"/><path class="y" d="M2377 2953l9-86-7-16-9 94z"/><path class="n" d="M2368 3007l9-54-7-8-9 60z"/><path class="N" d="M2323 2851l9-30-7-24-9 33z"/><path class="E" d="M2314 2929l9-78-7-21-8 86z"/><path class="s" d="M2305 3007l9-78-6-13-9 86z"/><path class="N" d="M2260 2847l9 11-6-22-9-12z"/><path class="K" d="M2251 2900l9-53-6-23-9 58z"/><path class="A" d="M2242 2984l9-84-6-18-9 92z"/><path class="o" d="M2233 3046l9-62-6-10-9 69z"/><path class="O" d="M2189 2877l9-15-7-24-9 17z"/><path class="I" d="M2180 2947l9-70-7-22-9 77z"/><path class="w" d="M2171 3027l9-80-7-15-9 89z"/><path class="n" d="M2162 3067l9-40-7-6-9 45z"/><path class="m" d="M2153 3042l9 25-7-1-9-29z"/><path class="u" d="M2144 2968l9 74-7-5-9-82z"/><path class="M" d="M2474 2791l9 19-7-31-9-21z"/><path class="L" d="M2465 2831l9-40-7-33-9 44z"/><path class="C" d="M2456 2907l9-76-7-29-9 84z"/><path class="r" d="M2447 2973l9-66-7-21-9 73z"/><path class="L" d="M2402 2835l9-4-7-32-9 4z"/><path class="G" d="M2393 2893l9-58-7-32-9 64z"/><path class="w" d="M2384 2970l9-77-7-26-9 86z"/><path class="m" d="M2375 3019l9-49-7-17-9 54z"/><path class="I" d="M2339 2854l9 32-7-29-9-36z"/><path class="J" d="M2330 2881l9-27-7-33-9 30z"/><path class="C" d="M2321 2952l9-71-7-30-9 78z"/><path class="r" d="M2312 3022l9-70-7-23-9 78z"/><path class="K" d="M2267 2880l9 10-7-32-9-11z"/><path class="H" d="M2258 2928l9-48-7-33-9 53z"/><path class="x" d="M2249 3003l9-75-7-28-9 84z"/><path class="n" d="M2240 3059l9-56-7-19-9 62z"/><path class="L" d="M2195 2908l9-13-6-33-9 15z"/><path class="F" d="M2186 2971l9-63-6-31-9 70z"/><path class="u" d="M2177 3043l9-72-6-24-9 80z"/><path class="m" d="M2168 3080l9-37-6-16-9 40z"/><path class="l" d="M2159 3057l9 23-6-13-9-25z"/><path class="t" d="M2150 2991l9 66-6-15-9-74z"/><path class="I" d="M2481 2829l9 17-7-36-9-19z"/><path class="G" d="M2472 2866l9-37-7-38-9 40z"/><path class="y" d="M2463 2934l9-68-7-35-9 76z"/><path class="o" d="M2454 2993l9-59-7-27-9 66z"/><path class="G" d="M2409 2873l9-4-7-38-9 4z"/><path class="C" d="M2400 2925l9-52-7-38-9 58z"/><path class="s" d="M2391 2994l9-69-7-32-9 77z"/><path class="k" d="M2382 3038l9-44-7-24-9 49z"/><path class="E" d="M2337 2917l9-24 9 27-7-34-9-32-9 27z"/><path class="y" d="M2328 2980l9-63-7-36-9 71z"/><path class="o" d="M2319 3043l9-63-7-28-9 70z"/><path class="F" d="M2274 2918l9 9-7-37-9-10z"/><path class="C" d="M2265 2961l9-43-7-38-9 48z"/><path class="u" d="M2256 3028l9-67-7-33-9 75z"/><path class="l" d="M2247 3078l9-50-7-25-9 56z"/><path class="D" d="M2211 2933l9 38-7-33-9-43z"/><path class="G" d="M2202 2945l9-12-7-38-9 13z"/><path class="B" d="M2193 3001l9-56-7-37-9 63z"/><path class="r" d="M2184 3066l9-65-7-30-9 72z"/><path class="k" d="M2175 3098l9-32-7-23-9 37z"/><path class="q" d="M2157 3019l9 59-7-21-9-66z"/><path class="D" d="M2488 2865l9 14-7-33-9-17z"/><path class="C" d="M2479 2897l9-32-7-36-9 37z"/><path class="u" d="M2470 2958l9-61-7-31-9 68z"/><path class="l" d="M2461 3012l9-54-7-24-9 59z"/><path class="y" d="M2425 2903l9 39-7-29-9-44z"/><path class="B" d="M2416 2908l9-5-7-34-9 4z"/><path class="x" d="M2407 2954l9-46-7-35-9 52z"/><path class="p" d="M2398 3016l9-62-7-29-9 69z"/><path class="h" d="M2389 3055l9-39-7-22-9 44z"/><path class="z" d="M2344 2950l9-22 9 24-7-32-9-27-9 24z"/><path class="t" d="M2335 3006l9-56-7-33-9 63z"/><path class="l" d="M2326 3062l9-56-7-26-9 63z"/><path class="A" d="M2281 2953l9 7-7-33-9-9z"/><path class="y" d="M2272 2991l9-38-7-35-9 43z"/><path class="q" d="M2263 3051l9-60-7-30-9 67z"/><path class="i" d="M2254 3096l9-45-7-23-9 50z"/><path class="z" d="M2218 2968l9 34-7-31-9-38z"/><path class="B" d="M2209 2979l9-11-7-35-9 12z"/><path class="w" d="M2200 3029l9-50-7-34-9 56z"/><path class="o" d="M2191 3086l9-57-7-28-9 65z"/><path class="n" d="M2164 3045l9 52-7-19-9-59z"/><path class="z" d="M2494 2890l9 12-6-23-9-14z"/><path class="y" d="M2485 2919l9-29-6-25-9 32z"/><path class="r" d="M2476 2974l9-55-6-22-9 61z"/><path class="j" d="M2467 3021l9-47-6-16-9 54z"/><path class="x" d="M2423 2932l9-4-7-25-9 5z"/><path class="u" d="M2414 2974l9-42-7-24-9 46z"/><path class="m" d="M2405 3028l9-54-7-20-9 62z"/><path class="f" d="M2396 3063l9-35-7-12-9 39z"/><path class="v" d="M2351 2973l9-20 9 21-7-22-9-24-9 22z"/><path class="q" d="M2342 3023l9-50-7-23-9 56z"/><path class="i" d="M2333 3073l9-50-7-17-9 56z"/><path class="w" d="M2288 2978l9 6-7-24-9-7z"/><path class="u" d="M2279 3012l9-34-7-25-9 38z"/><path class="n" d="M2270 3065l9-53-7-21-9 60z"/><path class="g" d="M2261 3105l9-40-7-14-9 45z"/><path class="v" d="M2225 2993l9 29-7-20-9-34z"/><path class="x" d="M2216 3003l9-10-7-25-9 11z"/><path class="t" d="M2207 3047l9-44-7-24-9 50z"/><path class="m" d="M2198 3097l9-50-7-18-9 57z"/><path class="f" d="M2180 3108l9 15-7-8-9-18z"/><path class="l" d="M2171 3062l9 46-7-11-9-52z"/><path class="w" d="M2492 2930l9-26 9 9-7-11-9-12-9 29z"/><path class="q" d="M2483 2978l9-48-7-11-9 55z"/><path class="j" d="M2474 3020l9-42-7-4-9 47z"/><path class="v" d="M2429 2945l9-4-6-13-9 4z"/><path class="s" d="M2420 2982l9-37-6-13-9 42z"/><path class="l" d="M2411 3030l9-48-6-8-9 54z"/><path class="f" d="M2402 3061l9-31-6-2-9 35z"/><path class="t" d="M2357 2985l9-18-6-14-9 20z"/><path class="p" d="M2349 3029l8-44-6-12-9 50z"/><path class="i" d="M2340 3072l9-43-7-6-9 50z"/><path class="u" d="M2295 2992l9 5-7-13-9-6z"/><path class="s" d="M2286 3022l9-30-7-14-9 34z"/><path class="m" d="M2277 3068l9-46-7-10-9 53z"/><path class="g" d="M2268 3103l9-35-7-3-9 40z"/><path class="v" d="M2223 3015l9-9-7-13-9 10z"/><path class="r" d="M2214 3054l9-39-7-12-9 44z"/><path class="l" d="M2205 3098l9-44-7-7-9 50z"/><path class="f" d="M2187 3107l9 13-7 3-9-15z"/><path class="k" d="M2178 3068l9 39-7 1-9-46z"/><path class="w" d="M2508 2911l9 8-7-6-9-9z"/><path class="v" d="M2499 2935l9-24-7-7-9 26z"/><path class="q" d="M2490 2976l9-41-7-5-9 48z"/><path class="k" d="M2481 3013l9-37-7 2-9 42z"/><path class="u" d="M2436 2952l9-4-7-7-9 4z"/><path class="r" d="M2427 2984l9-32-7-7-9 37z"/><path class="m" d="M2418 3026l9-42-7-2-9 48z"/><path class="g" d="M2409 3053l9-27-7 4-9 31z"/><path class="s" d="M2364 2990l9-15-7-8-9 18z"/><path class="o" d="M2355 3028l9-38-7-5-8 44z"/><path class="i" d="M2346 3066l9-38-6 1-9 43z"/><path class="t" d="M2301 2999l9 4-6-6-9-5z"/><path class="r" d="M2292 3025l9-26-6-7-9 30z"/><path class="m" d="M2283 3065l9-40-6-3-9 46z"/><path class="h" d="M2274 3095l9-30-6 3-9 35z"/><path class="u" d="M2230 3021l9-7-7-8-9 9z"/><path class="r" d="M2221 3055l9-34-7-6-9 39z"/><path class="l" d="M2212 3093l9-38-7-1-9 44z"/><path class="h" d="M2194 3101l9 11 9-19-7 5-9 22-9-13z"/><path class="l" d="M2185 3067l9 34-7 6-9-39z"/><path class="v" d="M2515 2921l9 5-7-7-9-8z"/><path class="u" d="M2506 2941l9-20-7-10-9 24z"/><path class="q" d="M2497 2978l9-37-7-6-9 41z"/><path class="l" d="M2488 3010l9-32-7-2-9 37z"/><path class="i" d="M2479 3020l9-10-7 3-9 11z"/><path class="t" d="M2443 2961l9-4-7-9-9 4z"/><path class="r" d="M2434 2989l9-28-7-9-9 32z"/><path class="m" d="M2425 3025l9-36-7-5-9 42z"/><path class="h" d="M2416 3049l9-24-7 1-9 27z"/><path class="s" d="M2371 2998l9-14-7-9-9 15z"/><path class="o" d="M2362 3031l9-33-7-8-9 38z"/><path class="j" d="M2353 3064l9-33-7-3-9 38z"/><path class="g" d="M2344 3077l9-13-7 2-9 16z"/><path class="s" d="M2308 3009l9 2-7-8-9-4z"/><path class="r" d="M2299 3031l9-22-7-10-9 26z"/><path class="n" d="M2290 3066l9-35-7-6-9 40z"/><path class="i" d="M2281 3092l9-26-7-1-9 30z"/><path class="t" d="M2236 3030l9-7-6-9-9 7z"/><path class="r" d="M2227 3059l9-29-6-9-9 34z"/><path class="m" d="M2218 3091l9-32-6-4-9 38z"/><path class="i" d="M2200 3099l9 9 9-17-6 2-9 19-9-11z"/><path class="m" d="M2191 3070l9 29-6 2-9-34z"/><path class="u" d="M2522 2939l9 4-7-17-9-5z"/><path class="t" d="M2513 2957l9-18-7-18-9 20z"/><path class="p" d="M2504 2988l9-31-7-16-9 37z"/><path class="l" d="M2495 3016l9-28-7-10-9 32z"/><path class="i" d="M2486 3025l9-9-7-6-9 10z"/><path class="q" d="M2459 2975l9 15-7-14-9-19z"/><path class="s" d="M2450 2979l9-4-7-18-9 4z"/><path class="q" d="M2441 3003l9-24-7-18-9 28z"/><path class="m" d="M2432 3034l9-31-7-14-9 36z"/><path class="i" d="M2423 3055l9-21-7-9-9 24z"/><path class="h" d="M2414 3054l9 1-7-6-9-1z"/><path class="q" d="M2378 3015l9-13 9 10-7-16-9-12-9 14z"/><path class="n" d="M2369 3043l9-28-7-17-9 33z"/><path class="j" d="M2360 3071l9-28-7-12-9 33z"/><path class="g" d="M2351 3082l9-11-7-7-9 13z"/><path class="r" d="M2315 3027l9 2-7-18-9-2z"/><path class="q" d="M2306 3046l9-19-7-18-9 22z"/><path class="m" d="M2297 3075l9-29-7-15-9 35z"/><path class="i" d="M2288 3097l9-22-7-9-9 26z"/><path class="h" d="M2279 3099l9-2-7-5-9 2z"/><path class="q" d="M2252 3041l9 15-7-15-9-18z"/><path class="s" d="M2243 3047l9-6-7-18-9 7z"/><path class="q" d="M2234 3071l9-24-7-17-9 29z"/><path class="m" d="M2225 3099l9-28-7-12-9 32z"/><path class="j" d="M2216 3113l9-14-7-8-9 17z"/><path class="m" d="M2198 3082l9 24-7-7-9-29z"/><path class="p" d="M2538 2968l9 15-7-21-9-19z"/><path class="r" d="M2529 2966l9 2-7-25-9-4z"/><path class="q" d="M2520 2981l9-15-7-27-9 18z"/><path class="n" d="M2511 3008l9-27-7-24-9 31z"/><path class="j" d="M2502 3032l9-24-7-20-9 28z"/><path class="h" d="M2493 3040l9-8-7-16-9 9z"/><path class="i" d="M2484 3031l9 9-7-15-9-12z"/><path class="l" d="M2475 3013l9 18-7-18-9-23z"/><path class="o" d="M2466 3001l9 12-7-23-9-15z"/><path class="p" d="M2457 3005l9-4-7-26-9 4z"/><path class="n" d="M2448 3025l9-20-7-26-9 24z"/><path class="k" d="M2439 3052l9-27-7-22-9 31z"/><path class="h" d="M2430 3069l9-17-7-18-9 21z"/><path class="g" d="M2421 3070l9-1-7-14-9-1z"/><path class="h" d="M2412 3054l9 16-7-16-9-19z"/><path class="l" d="M2403 3036l9 18-7-19-9-23z"/><path class="n" d="M2394 3029l9 7-7-24-9-10z"/><path class="o" d="M2385 3040l9-11-7-27-9 13z"/><path class="l" d="M2376 3063l9-23-7-25-9 28z"/><path class="i" d="M2367 3087l9-24-7-20-9 28z"/><path class="f" d="M2358 3097l9-10-7-16-9 11z"/><path class="g" d="M2349 3089l9 8-7-15-9-10z"/><path class="i" d="M2340 3070l9 19-7-17-9-23z"/><path class="m" d="M2331 3054l9 16-7-21-9-20z"/><path class="o" d="M2322 3053l9 1-7-25-9-2z"/><path class="n" d="M2313 3069l9-16-7-26-9 19z"/><path class="k" d="M2304 3094l9-25-7-23-9 29z"/><path class="h" d="M2295 3112l9-18-7-19-9 22z"/><path class="f" d="M2286 3115l9-3-7-15-9 2z"/><path class="h" d="M2277 3100l9 15-7-16-9-18z"/><path class="l" d="M2268 3079l9 21-7-19-9-25z"/><path class="o" d="M2259 3067l9 12-7-23-9-15z"/><path class="p" d="M2250 3073l9-6-7-26-9 6z"/><path class="n" d="M2241 3093l9-20-7-26-9 24z"/><path class="k" d="M2232 3116l9-23-7-22-9 28z"/><path class="h" d="M2214 3122l9 6 9-12-7-17-9 14-9-7z"/><path class="k" d="M2205 3102l9 20-7-16-9-24z"/><path class="m" d="M2544 2995l9 12-6-24-9-15z"/><path class="n" d="M2526 3008l9-14 9 1-6-27-9-2-9 15z"/><path class="k" d="M2517 3031l9-23-6-27-9 27z"/><path class="h" d="M2508 3051l9-20-6-23-9 24z"/><path class="f" d="M2499 3058l9-7-6-19-9 8z"/><path class="g" d="M2490 3052l9 6-6-18-9-9z"/><path class="i" d="M2481 3038l9 14-6-21-9-18z"/><path class="k" d="M2473 3029l8 9-6-25-9-12z"/><path class="l" d="M2464 3033l9-4-7-28-9 4z"/><path class="k" d="M2455 3051l9-18-7-28-9 20z"/><path class="h" d="M2446 3073l9-22-7-26-9 27z"/><path class="e" d="M2437 3088l9-15-7-21-9 17z"/><path class="d" d="M2428 3088l9 0-7-19-9 1z"/><path class="f" d="M2419 3077l9 11-7-18-9-16z"/><path class="i" d="M2410 3063l9 14-7-23-9-18z"/><path class="k" d="M2392 3067l9-9 9 5-7-27-9-7-9 11z"/><path class="i" d="M2383 3087l9-20-7-27-9 23z"/><path class="f" d="M2374 3106l9-19-7-24-9 24z"/><path class="d" d="M2356 3109l9 6 9-9-7-19-9 10-9-8z"/><path class="g" d="M2347 3095l9 14-7-20-9-19z"/><path class="j" d="M2338 3082l9 13-7-25-9-16z"/><path class="k" d="M2320 3095l9-13 9 0-7-28-9-1-9 16z"/><path class="h" d="M2311 3115l9-20-7-26-9 25z"/><path class="e" d="M2302 3131l9-16-7-21-9 18z"/><path class="d" d="M2293 3133l9-2-7-19-9 3z"/><path class="f" d="M2284 3122l9 11-7-18-9-15z"/><path class="i" d="M2275 3105l9 17-7-22-9-21z"/><path class="k" d="M2266 3096l9 9-7-26-9-12z"/><path class="l" d="M2257 3101l9-5-7-29-9 6z"/><path class="k" d="M2248 3117l9-16-7-28-9 20z"/><path class="h" d="M2239 3136l9-19-7-24-9 23z"/><path class="f" d="M2221 3141l9 5 9-10-7-20-9 12-9-6z"/><path class="i" d="M2212 3126l9 15-7-19-9-20z"/><path class="j" d="M2551 3016l9 8-7-17-9-12z"/><path class="k" d="M2542 3017l9-1-7-21-9-1z"/><path class="j" d="M2533 3029l9-12-7-23-9 14z"/><path class="h" d="M2524 3047l9-18-7-21-9 23z"/><path class="f" d="M2515 3064l9-17-7-16-9 20z"/><path class="e" d="M2497 3067l9 4-7-13-9-6z"/><path class="f" d="M2488 3057l9 10-7-15-9-14z"/><path class="h" d="M2479 3051l9 6-7-19-8-9z"/><path class="i" d="M2470 3055l9-4-6-22-9 4z"/><path class="h" d="M2461 3070l9-15-6-22-9 18z"/><path class="e" d="M2452 3088l9-18-6-19-9 22z"/><path class="d" d="M2425 3094l9 8-6-14-9-11z"/><path class="f" d="M2416 3084l9 10-6-17-9-14z"/><path class="h" d="M2398 3088l9-8 9 4-6-21-9-5-9 9z"/><path class="f" d="M2390 3104l8-16-6-21-9 20z"/><path class="d" d="M2381 3121l9-17-7-17-9 19z"/><path class="b" d="M2372 3128l9-7-7-15-9 9z"/><path class="d" d="M2354 3113l9 11-7-15-9-14z"/><path class="g" d="M2345 3104l9 9-7-18-9-13z"/><path class="h" d="M2336 3104l9 0-7-22-9 0z"/><path class="g" d="M2327 3115l9-11-7-22-9 13z"/><path class="e" d="M2318 3132l9-17-7-20-9 20z"/><path class="c" d="M2309 3144l9-12-7-17-9 16z"/><path class="d" d="M2291 3138l9 8-7-13-9-11z"/><path class="f" d="M2282 3125l9 13-7-16-9-17z"/><path class="h" d="M2273 3118l9 7-7-20-9-9z"/><path class="i" d="M2264 3122l9-4-7-22-9 5z"/><path class="h" d="M2255 3136l9-14-7-21-9 16z"/><path class="f" d="M2246 3151l9-15-7-19-9 19z"/><path class="d" d="M2228 3156l9 3 9-8-7-15-9 10-9-5z"/><path class="f" d="M2219 3143l9 13-7-15-9-15z"/><path class="h" d="M2558 3026l9 5-7-7-9-8z"/><path class="i" d="M2540 3038l9-10 9-2-7-10-9 1-9 12z"/><path class="g" d="M2531 3053l9-15-7-9-9 18z"/><path class="e" d="M2522 3067l9-14-7-6-9 17z"/><path class="g" d="M2477 3066l9-4 9 3-7-8-9-6-9 4z"/><path class="f" d="M2468 3078l9-12-7-11-9 15z"/><path class="d" d="M2459 3093l9-15-7-8-9 18z"/><path class="c" d="M2450 3103l9-10-7-5-9 13z"/><path class="d" d="M2423 3093l9 7-7-6-9-10z"/><path class="f" d="M2405 3098l9-7 9 2-7-9-9-4-9 8z"/><path class="e" d="M2396 3111l9-13-7-10-8 16z"/><path class="c" d="M2387 3124l9-13-6-7-9 17z"/><path class="e" d="M2351 3114l9 7-6-8-9-9z"/><path class="f" d="M2333 3124l9-9 9-1-6-10-9 0-9 11z"/><path class="d" d="M2324 3137l9-13-6-9-9 17z"/><path class="f" d="M2280 3129l9 5-7-9-9-7z"/><path class="g" d="M2271 3133l9-4-7-11-9 4z"/><path class="f" d="M2262 3143l9-10-7-11-9 14z"/><path class="e" d="M2253 3155l9-12-7-7-9 15z"/><path class="d" d="M2235 3159l9 3-7-3-9-3z"/><path class="e" d="M2226 3150l9 9-7-3-9-13z"/><path class="i" d="M2556 3029l9-3-7 0-9 2z"/><path class="h" d="M2547 3037l9-8-7-1-9 10z"/><path class="g" d="M2538 3050l9-13-7 1-9 15z"/><path class="e" d="M2529 3062l9-12-7 3-9 14z"/><path class="g" d="M2484 3066l9-4-7 0-9 4z"/><path class="f" d="M2475 3076l9-10-7 0-9 12z"/><path class="e" d="M2466 3088l9-12-7 2-9 15z"/><path class="f" d="M2412 3098l9-6 9 0-7 1-9-2-9 7z"/><path class="e" d="M2403 3108l9-10-7 0-9 13z"/><path class="c" d="M2394 3119l9-11-7 3-9 13z"/><path class="f" d="M2349 3115l9-1-7 0-9 1z"/><path class="e" d="M2340 3123l9-8-7 0-9 9z"/><path class="d" d="M2331 3133l9-10-7 1-9 13z"/><path class="g" d="M2277 3133l9-3-6-1-9 4z"/><path class="f" d="M2268 3141l9-8-6 0-9 10z"/><path class="e" d="M2259 3150l9-9-6 2-9 12z"/><path class="d" d="M2250 3155l9-5-6 5-9 7z"/><path class="e" d="M2241 3154l9 1-6 7-9-3z"/><path class="f" d="M2232 3147l9 7-6 5-9-9z"/><path class="i" d="M2554 3034l9-8-7 3-9 8z"/><path class="h" d="M2545 3044l9-10-7 3-9 13z"/><path class="g" d="M2536 3054l9-10-7 6-9 12z"/><path class="h" d="M2491 3064l9-4-7 2-9 4z"/><path class="g" d="M2482 3072l9-8-7 2-9 10z"/><path class="f" d="M2473 3082l9-10-7 4-9 12z"/><path class="f" d="M2410 3103l9-8 9-5-7 2-9 6-9 10z"/><path class="e" d="M2401 3111l9-8-7 5-9 11z"/><path class="f" d="M2338 3127l18-14-7 2-9 8-9 10z"/><path class="h" d="M2284 3130l9-2-7 2-9 3z"/><path class="g" d="M2275 3136l9-6-7 3-9 8z"/><path class="f" d="M2248 3146l9 1-7 8-9-1z"/><path class="g" d="M2239 3142l9 4-7 8-9-7z"/><path class="j" d="M2561 3036l9-7 9-4 9-2-7 0-9 0-9 3-9 8z"/><path class="i" d="M2552 3044l9-8-7-2-9 10z"/><path class="h" d="M2543 3052l9-8-7 0-9 10z"/><path class="g" d="M2525 3060l9-3 9-5-7 2-9 5-9 1z"/><path class="h" d="M2516 3061l9-1-7 0-9-1z"/><path class="h" d="M2489 3073l9-6 9-4-7-3-9 4-9 8z"/><path class="g" d="M2480 3081l9-8-7-1-9 10z"/><path class="f" d="M2462 3090l9-3 9-6-7 1-9 7-9 3z"/><path class="g" d="M2426 3097l9-4-7-3-9 5z"/><path class="f" d="M2408 3110l18-13-7-2-18 16z"/><path class="e" d="M2390 3115l9-1 9-4-7 1-9 5-9 0z"/><path class="g" d="M2354 3121l9-5 9-2-7-2-9 1-9 6z"/><path class="f" d="M2327 3133l9-2 18-10-7-2-18 14-9 2z"/><path class="g" d="M2309 3131l9 2-7 0-9-4z"/><path class="h" d="M2273 3142l18-9 9-2 9 0-7-2-9-1-9 2-18 13z"/><path class="g" d="M2264 3145l9-3-7 1-9 4z"/><path class="h" d="M2246 3143l9 2-7 1-9-4z"/><path class="j" d="M2576 3042l18-8-6-11-9 2-9 4z"/><path class="i" d="M2558 3055l18-13-6-13-18 15z"/><path class="h" d="M2549 3061l9-6-6-11-9 8z"/><path class="g" d="M2522 3072l18-6 9-5-6-9-9 5-18 4z"/><path class="h" d="M2514 3075l8-3-6-11-9 2z"/><path class="g" d="M2487 3090l18-11-7-12-18 14z"/><path class="f" d="M2451 3103l18-4 18-9-7-9-9 6-9 3-18 1z"/><path class="f" d="M2415 3119l18-10-7-12-18 13z"/><path class="e" d="M2397 3124l18-5-7-9-9 4-9 1z"/><path class="f" d="M2325 3142l18-2 27-12 9-2 18-2-7-9-18-1-9 2-27 15-9 2-9 0z"/><path class="g" d="M2307 3143l18-1-7-9-18-2z"/><path class="h" d="M2289 3148l18-5-7-12-9 2-9 4z"/><path class="g" d="M2271 3153l18-5-7-11-9 5-9 3z"/><path class="h" d="M2253 3153l18 0-7-8-9 0-9-2z"/><path class="h" d="M2583 3061l18-10-7-17-18 8z"/><path class="g" d="M2556 3077l18-11-7-18-18 13z"/><path class="f" d="M2520 3094l36-17-7-16-9 5-26 9z"/><path class="e" d="M2448 3124l27-9 27-12-6-18-18 10-9 4-27 6z"/><path class="d" d="M2386 3145l18-4-7-17-18 2z"/><path class="e" d="M2314 3162l36-6 36-11-7-19-9 2-27 12-9 2-27 1z"/><path class="f" d="M2269 3170l18-2 27-6-7-19-27 8-9 2-9 1z"/><path class="g" d="M2260 3171l9-1-7-16-9-1z"/><path class="f" d="M2590 3078l18-10-7-17-18 10z"/><path class="d" d="M2527 3111l9-4-7-17-9 4z"/><path class="b" d="M2455 3142l9-4-7-17-9 3z"/><path class="b" d="M2374 3168l18-5-6-18-18 5z"/><path class="c" d="M2312 3181l35-7 27-6-6-18-27 8-36 6z"/><path class="d" d="M2276 3187l36-6-7-17-18 4-18 2z"/><path class="e" d="M2267 3188l9-1-7-17-9 1z"/><path class="c" d="M2273 3196l18-2-6-8-18 2z"/><path class="c" d="M2280 3193l36-5-7 3-36 5z"/><path class="d" d="M2305 3182l9-2-7 10-9 1z"/><path class="e" d="M2287 3183l18-1-7 9-18 2z"/><path class="g" d="M2294 3174l18 1-7 7-18 1z"/><path class="f" d="M2382 3164l9-2-7-1-9 2z"/><path class="h" d="M2328 3173l18-10-7 2-18 7z"/><path class="g" d="M2319 3176l9-3-7-1-9 3z"/><path class="h" d="M2301 3173l9 3-7-1-9-1z"/><path class="f" d="M2380 3173l8 2-6-11-9-1z"/><path class="g" d="M2371 3169l9 4-7-10-9-2z"/><path class="h" d="M2344 3176l9-6 9-3 9 2-7-8-9 0-9 2-9 5z"/><path class="g" d="M2317 3186l9 1 9-4 9-7-7-8-9 5-9 3-9 0z"/><path class="h" d="M2308 3182l9 4-7-10-9-3z"/><path class="g" d="M2368 3177l9 4-6-12-9-2z"/><path class="f" d="M2323 3202l9 2 9-6 9-9-6-13-9 7-9 4-9-1z"/><path class="g" d="M2314 3195l9 7-6-16-9-4z"/><path class="e" d="M2321 3204l9 10-7-12-9-7z"/><path class="e" d="M2328 3203l9 13-7-2-9-10z"/><path class="e" d="M2622 3125l9-8-6 7-9 8z"/><path class="c" d="M2551 3155l9-1-7 7-9 1z"/><path class="c" d="M2479 3176l9 6-7 7-9-5z"/><path class="c" d="M2416 3199l9-2-7 8-9 2z"/><path class="e" d="M2344 3208l9 5 9-11-7 9-9 8-9-3z"/><path class="g" d="M2335 3191l9 17-7 8-9-13z"/><path class="g" d="M2620 3104l9 10 9-9-7 12-9 8-9-7z"/><path class="e" d="M2557 3143l9 1-6 10-9 1z"/><path class="f" d="M2548 3128l9 15-6 12-9-12z"/><path class="e" d="M2486 3163l9 8 9-10-7 12-9 9-9-6z"/><path class="e" d="M2423 3189l9-3-7 11-9 2z"/><path class="f" d="M2414 3173l9 16-7 10-9-12z"/><path class="g" d="M2351 3196l9 6 9-12-7 12-9 11-9-5z"/><path class="i" d="M2342 3175l9 21-7 12-9-17z"/><path class="i" d="M2627 3096l9 12-7 6-9-10z"/><path class="g" d="M2564 3137l9 1-7 6-9-1z"/><path class="i" d="M2555 3117l9 20-7 6-9-15z"/><path class="g" d="M2492 3155l9 11-6 5-9-8z"/><path class="j" d="M2483 3131l9 24-6 8-9-20z"/><path class="g" d="M2429 3183l9-2-6 5-9 3z"/><path class="h" d="M2421 3164l8 19-6 6-9-16z"/><path class="o" d="M2385 3153l9-25-7 17-9 21z"/><path class="k" d="M2376 3182l9-29-7 13-9 24z"/><path class="i" d="M2358 3189l9 8-7 5-9-6z"/><path class="k" d="M2349 3164l9 25-7 7-9-21z"/><path class="t" d="M2670 3032l9-21-7 9-9 18z"/><path class="p" d="M2661 3070l9-38-7 6-9 33z"/><path class="j" d="M2634 3097l9 16-7-5-9-12z"/><path class="n" d="M2625 3068l9 29-7-1-9-24z"/><path class="q" d="M2598 3081l9-29-7 8-9 25z"/><path class="m" d="M2589 3118l9-37-7 4-9 32z"/><path class="j" d="M2562 3116l9 25-7-4-9-20z"/><path class="n" d="M2553 3087l9 29-7 1-9-24z"/><path class="r" d="M2535 3089l9-14-7 8-9 13z"/><path class="o" d="M2526 3123l9-34-7 7-9 29z"/><path class="h" d="M2499 3157l9 13-7-4-9-11z"/><path class="k" d="M2490 3128l9 29-7-2-9-24z"/><path class="q" d="M2463 3122l9-23-7 9-9 19z"/><path class="m" d="M2454 3158l9-36-7 5-9 31z"/><path class="i" d="M2427 3164l9 23-7-4-8-19z"/><path class="n" d="M2418 3132l9 32-6 0-9-26z"/><path class="q" d="M2391 3150l9-29-6 7-9 25z"/><path class="m" d="M2382 3184l9-34-6 3-9 29z"/><path class="i" d="M2364 3192l9 9-6-4-9-8z"/><path class="m" d="M2355 3162l9 30-6-3-9-25z"/><path class="s" d="M2695 3018l9 31-7-6-9-26z"/><path class="u" d="M2677 3034l9-23-7 0-9 21z"/><path class="q" d="M2668 3077l9-43-7-2-9 38z"/><path class="l" d="M2659 3115l9-38-7-7-9 33z"/><path class="i" d="M2641 3107l9 19-7-13-9-16z"/><path class="n" d="M2632 3072l9 35-7-10-9-29z"/><path class="t" d="M2614 3052l9-5-7 1-9 4z"/><path class="r" d="M2605 3085l9-33-7 0-9 29z"/><path class="m" d="M2596 3128l9-43-7-4-9 37z"/><path class="j" d="M2569 3124l9 29-7-12-9-25z"/><path class="o" d="M2560 3089l9 35-7-8-9-29z"/><path class="s" d="M2542 3090l9-16-7 1-9 14z"/><path class="o" d="M2533 3129l9-39-7-1-9 34z"/><path class="j" d="M2524 3168l9-39-7-6-9 34z"/><path class="k" d="M2497 3133l9 35-7-11-9-29z"/><path class="p" d="M2488 3102l9 31-7-5-9-26z"/><path class="r" d="M2470 3125l9-26-7 0-9 23z"/><path class="n" d="M2461 3166l9-41-7-3-9 36z"/><path class="i" d="M2434 3173l9 27-7-13-9-23z"/><path class="n" d="M2425 3135l9 38-7-9-9-32z"/><path class="t" d="M2407 3121l9-8-7 1-9 7z"/><path class="r" d="M2398 3155l9-34-7 0-9 29z"/><path class="m" d="M2389 3195l9-40-7-5-9 34z"/><path class="m" d="M2362 3168l9 35-7-11-9-30z"/><path class="s" d="M2702 3020l9 36-7-7-9-31z"/><path class="v" d="M2684 3037l9-27-7 1-9 23z"/><path class="q" d="M2675 3086l9-49-7-3-9 43z"/><path class="k" d="M2666 3129l9-43-7-9-9 38z"/><path class="h" d="M2648 3118l9 23-7-15-9-19z"/><path class="m" d="M2639 3077l9 41-7-11-9-35z"/><path class="s" d="M2630 3048l9 29-7-5-9-25z"/><path class="u" d="M2621 3052l9-4-7-1-9 5z"/><path class="r" d="M2612 3089l9-37-7 0-9 33z"/><path class="l" d="M2603 3139l9-50-7-4-9 43z"/><path class="i" d="M2576 3132l9 35-7-14-9-29z"/><path class="n" d="M2567 3092l9 40-7-8-9-35z"/><path class="s" d="M2549 3092l9-18 9 18-7-3-9-15-9 16z"/><path class="o" d="M2540 3136l9-44-7-2-9 39z"/><path class="i" d="M2531 3181l9-45-7-7-9 39z"/><path class="j" d="M2504 3139l9 41-7-12-9-35z"/><path class="p" d="M2495 3103l9 36-7-6-9-31z"/><path class="r" d="M2477 3129l9-31-7 1-9 26z"/><path class="m" d="M2468 3176l9-47-7-4-9 41z"/><path class="h" d="M2459 3212l9-36-7-10-9 32z"/><path class="h" d="M2441 3182l9 32-7-14-9-27z"/><path class="n" d="M2432 3139l9 43-7-9-9-38z"/><path class="s" d="M2423 3113l9 26-7-4-9-22z"/><path class="u" d="M2414 3122l9-9-7 0-9 8z"/><path class="r" d="M2405 3161l9-39-7-1-9 34z"/><path class="l" d="M2396 3207l9-46-7-6-9 40z"/><path class="l" d="M2369 3176l9 40-7-13-9-35z"/><path class="s" d="M2708 3014l9 42-6 0-9-36z"/><path class="x" d="M2699 3002l9 12-6 6-9-10z"/><path class="w" d="M2690 3032l9-30-6 8-9 27z"/><path class="q" d="M2681 3087l9-55-6 5-9 49z"/><path class="j" d="M2672 3136l9-49-6-1-9 43z"/><path class="g" d="M2654 3122l9 27-6-8-9-23z"/><path class="m" d="M2645 3074l9 48-6-4-9-41z"/><path class="s" d="M2636 3040l9 34-6 3-9-29z"/><path class="s" d="M2619 3087l9-43-7 8-9 37z"/><path class="l" d="M2610 3143l9-56-7 2-9 50z"/><path class="f" d="M2601 3179l9-36-7-4-9 31z"/><path class="h" d="M2583 3134l9 40-7-7-9-35z"/><path class="o" d="M2574 3087l9 47-7-2-9-40z"/><path class="t" d="M2565 3065l9 22-7 5-9-18z"/><path class="u" d="M2556 3086l9-21-7 9-9 18z"/><path class="p" d="M2547 3137l9-51-7 6-9 44z"/><path class="i" d="M2538 3187l9-50-7-1-9 45z"/><path class="e" d="M2520 3185l9 22-7-8-9-19z"/><path class="j" d="M2511 3138l9 47-7-5-9-41z"/><path class="q" d="M2502 3097l9 41-7 1-9-36z"/><path class="u" d="M2493 3090l9 7-7 6-9-5z"/><path class="s" d="M2484 3125l9-35-7 8-9 31z"/><path class="m" d="M2475 3179l9-54-7 4-9 47z"/><path class="g" d="M2466 3220l9-41-7-3-9 36z"/><path class="g" d="M2448 3185l9 37-7-8-9-32z"/><path class="n" d="M2439 3135l9 50-7-3-9-43z"/><path class="t" d="M2430 3105l9 30-7 4-9-26z"/><path class="r" d="M2412 3160l9-45-7 7-9 39z"/><path class="l" d="M2403 3212l9-52-7 1-9 46z"/><path class="f" d="M2385 3222l9 16-7-8-9-14z"/><path class="k" d="M2376 3176l9 46-7-6-9-40z"/><path class="u" d="M2715 2996l9 49-7 11-9-42z"/><path class="z" d="M2706 2982l9 14-7 18-9-12z"/><path class="y" d="M2697 3015l9-33-7 20-9 30z"/><path class="s" d="M2688 3078l9-63-7 17-9 55z"/><path class="k" d="M2679 3132l9-54-7 9-9 49z"/><path class="h" d="M2661 3115l9 32-7 2-9-27z"/><path class="n" d="M2652 3060l9 55-7 7-9-48z"/><path class="v" d="M2643 3021l9 39-7 14-9-34z"/><path class="y" d="M2634 3025l9-4-7 19-8 4z"/><path class="u" d="M2625 3073l9-48-6 19-9 43z"/><path class="n" d="M2616 3136l9-63-6 14-9 56z"/><path class="g" d="M2607 3176l9-40-6 7-9 36z"/><path class="e" d="M2598 3170l9 6-6 3-9-5z"/><path class="i" d="M2589 3124l9 46-6 4-9-40z"/><path class="p" d="M2580 3070l9 54-6 10-9-47z"/><path class="w" d="M2571 3045l9 25-6 17-9-22z"/><path class="r" d="M2553 3126l9-58-6 18-9 51z"/><path class="j" d="M2545 3183l8-57-6 11-9 50z"/><path class="e" d="M2527 3180l9 25-7 2-9-22z"/><path class="k" d="M2518 3125l9 55-7 5-9-47z"/><path class="s" d="M2509 3078l9 47-7 13-9-41z"/><path class="x" d="M2500 3071l9 7-7 19-9-7z"/><path class="v" d="M2491 3110l9-39-7 19-9 35z"/><path class="o" d="M2482 3171l9-61-7 15-9 54z"/><path class="g" d="M2473 3217l9-46-7 8-9 41z"/><path class="d" d="M2464 3219l9-2-7 3-9 2z"/><path class="h" d="M2455 3177l9 42-7 3-9-37z"/><path class="o" d="M2446 3120l9 57-7 8-9-50z"/><path class="v" d="M2437 3085l9 35-7 15-9-30z"/><path class="y" d="M2428 3097l9-12-7 20-9 10z"/><path class="u" d="M2419 3148l9-51-7 18-9 45z"/><path class="m" d="M2410 3206l9-58-7 12-9 52z"/><path class="g" d="M2392 3218l9 18 9-30-7 6-9 26-9-16z"/><path class="l" d="M2383 3165l9 53-7 4-9-46z"/><path class="y" d="M2722 2970l9 56-7 19-9-49z"/><path class="E" d="M2713 2953l9 17-7 26-9-14z"/><path class="C" d="M2704 2990l9-37-7 29-9 33z"/><path class="v" d="M2695 3060l9-70-7 25-9 63z"/><path class="m" d="M2686 3121l9-61-7 18-9 54z"/><path class="h" d="M2677 3136l9-15-7 11-9 15z"/><path class="j" d="M2668 3100l9 36-7 11-9-32z"/><path class="q" d="M2659 3037l9 63-7 15-9-55z"/><path class="z" d="M2650 2993l9 44-7 23-9-39z"/><path class="C" d="M2641 2997l9-4-7 28-9 4z"/><path class="y" d="M2632 3050l9-53-7 28-9 48z"/><path class="q" d="M2623 3121l9-71-7 23-9 63z"/><path class="i" d="M2614 3166l9-45-7 15-9 40z"/><path class="f" d="M2605 3159l9 7-7 10-9-6z"/><path class="k" d="M2596 3106l9 53-7 11-9-46z"/><path class="t" d="M2587 3045l9 61-7 18-9-54z"/><path class="A" d="M2569 3041l9-25 9 29-7 25-9-25-9 23z"/><path class="u" d="M2560 3106l9-65-7 27-9 58z"/><path class="l" d="M2551 3170l9-64-7 20-8 57z"/><path class="f" d="M2542 3195l9-25-6 13-9 22z"/><path class="g" d="M2533 3166l9 29-6 10-9-25z"/><path class="n" d="M2524 3104l9 62-6 14-9-55z"/><path class="w" d="M2515 3050l9 54-6 21-9-47z"/><path class="B" d="M2506 3042l9 8-6 28-9-7z"/><path class="z" d="M2497 3085l9-43-6 29-9 39z"/><path class="r" d="M2488 3154l9-69-6 25-9 61z"/><path class="j" d="M2479 3206l9-52-6 17-9 46z"/><path class="f" d="M2470 3208l9-2-6 11-9 2z"/><path class="j" d="M2461 3161l9 47-6 11-9-42z"/><path class="r" d="M2453 3096l8 65-6 16-9-57z"/><path class="z" d="M2444 3056l9 40-7 24-9-35z"/><path class="C" d="M2435 3069l9-13-7 29-9 12z"/><path class="x" d="M2426 3126l9-57-7 28-9 51z"/><path class="p" d="M2417 3193l9-67-7 22-9 58z"/><path class="i" d="M2408 3226l9-33-7 13-9 30z"/><path class="h" d="M2399 3205l9 21-7 10-9-18z"/><path class="o" d="M2390 3145l9 60-7 13-9-53z"/></g>
<path class="ax" d="M2731 3167l-341 111-260-146 0-310M2390 3278l10 6M2390 3278l-12 4M2560 3222l11 6M2260 3205l-12 4M2731 3167l10 6M2130 3132l-11 4M2130 3132l-11 4M2130 3027l-11 4M2130 2923l-11 3"/></g><text x="241.3" y="335">−10</text><text class="te" x="236.5" y="334.9">−10</text><text x="258.3" y="329.4">0</text><text class="te" x="223.5" y="327.6">0</text><text x="275.4" y="323.9">10</text><text class="te" x="210.5" y="320.3">10</text><text class="te" x="210" y="315.1">0</text><text class="te" x="210" y="304.6">50</text><text class="te" x="210" y="294.2">100</text><text class="tm lb" x="268.7" y="339.7">x<tspan class="sub" dy="2.2">1</tspan></text><text class="tm lb" x="212" y="338.2">x<tspan class="sub" dy="2.2">2</tspan></text><text class="tm lb" transform="translate(193.1 297.7) rotate(-90)">F12( x<tspan class="sub" dy="2.2">1</tspan><tspan dy="-2.2"> , x</tspan><tspan class="sub" dy="2.2">2</tspan><tspan dy="-2.2"> )</tspan></text></g>
<g id="F14"><g transform="scale(.1)"><path class="gr" d="M522 4101l-257-115M265 3986l0-240M522 4101l338-83M860 4018l0-240M691 4060l-257-115M434 3945l0-240M394 4044l337-84M731 3960l0-240M860 4018l-257-115M603 3903l0-240M265 3986l338-83M603 3903l0-240M265 3986l338-83M603 3903l257 115M265 3890l338-83M603 3807l257 115M265 3794l338-83M603 3711l257 115"/>
<g class="ct"><path class="j" d="M551 4034l-3 0 3 0M578 4028l-3-1 3 1M605 4021l-3 0 3 0M632 4014l-3 0 3 0M659 4008l-3-1 3 1M530 4025l-3 0 3 0M557 4018l-2 0 2 0M584 4012l-2 0 2 0M611 4005l-2 0 2 0M638 3998l-2 0 2 0M510 4016l-3 0 3 0M537 4009l-3 0 3 0M564 4002l-3 0 3 0M591 3996l-3 0 3 0M618 3989l-3 0 3 0M489 4007l-3-1 3 1M516 4000l-3 0 3 0M543 3993l-2 0 2 0M570 3987l-2-1 2 1M597 3980l-2 0 2 0M468 3997l-2 0 2 0M495 3991l-2 0 2 0M522 3984l-2 0 2 0M549 3977l-2 0 2 0M576 3971l-2 0 2 0"/><path class="t" d="M552 4035l-5-1 0-1 6 0-1 2M579 4028l-5 0 0-2 6 0-1 2M606 4021l-5 0 0-2 6 1-1 1M633 4015l-5-1 0-1 6 0-1 2M660 4008l-5 0 1-2 5 0-1 2M531 4026l-5-1 1-2 5 1-1 2M558 4019l-5 0 1-2 5 0-1 2M585 4012l-5 0 1-2 5 0-1 2M612 4006l-5-1 1-1 5 0-1 2M639 3999l-5 0 1-2 5 0-1 2M511 4016l-6 0 1-2 5 1 0 1M538 4010l-6-1 1-1 5 0 0 2M565 4003l-5 0 0-2 5 0 0 2M592 3996l-5 0 0-2 5 1 0 1M619 3990l-5-1 0-1 5 0 0 2M490 4007l-5 0 1-2 5 0-1 2M517 4000l-5 0 1-2 5 1-1 1M544 3994l-5 0 1-2 5 0-1 2M571 3987l-5 0 1-2 5 0-1 2M598 3980l-5 0 1-1 5 0-1 1M470 3998l-6 0 1-2 5 0 0 2M497 3991l-6 0 1-2 5 1 0 1M524 3985l-6-1 1-1 5 0 0 2M551 3978l-5 0 0-2 5 0 0 2M578 3971l-5 0 0-2 5 1 0 1"/><path class="C" d="M553 4035l-8 0 1-3 8 1-1 2M580 4029l-8-1 1-2 8 0-1 3M607 4022l-8 0 1-3 8 0-1 3M634 4015l-8 0 1-3 8 1-1 2M661 4009l-8-1 1-2 8 0-1 3M532 4026l-8 0 2-3 8 0-2 3M559 4019l-7 0 1-3 8 1-2 2M586 4013l-7-1 1-2 8 0-2 3M613 4006l-7 0 1-3 8 0-2 3M641 3999l-8 0 1-3 8 1-1 2M512 4017l-8-1 1-2 8 0-1 3M539 4010l-8 0 1-3 8 1-1 2M566 4004l-8-1 1-3 8 1-1 3M593 3997l-8-1 1-2 8 0-1 3M620 3990l-8 0 1-3 8 1-1 2M491 4008l-8-1 1-2 8 0-1 3M518 4001l-8 0 1-3 8 0-1 3M545 3994l-8 0 2-3 7 1-1 2M572 3988l-7-1 1-2 7 0-1 3M599 3981l-7 0 1-3 7 0-1 3M471 3998l-8 0 1-3 8 1-1 2M498 3992l-8-1 1-2 8 0-1 3M525 3985l-8 0 1-3 8 1-1 2M552 3978l-8 0 1-3 8 1-1 2M579 3972l-8-1 1-2 8 0-1 3"/><path class="M" d="M554 4036l-11-1 2-3 11 0-2 4M581 4029l-10 0 1-4 11 1-2 3M608 4022l-10 0 1-4 11 1-2 3M635 4016l-10-1 1-3 11 0-2 4M662 4009l-10 0 1-4 11 1-2 3M534 4027l-11-1 1-4 11 1-1 4M561 4020l-11-1 1-3 11 0-1 4M588 4013l-11 0 1-4 11 1-1 3M615 4007l-11-1 2-3 10 0-1 4M642 4000l-11-1 2-3 10 0-1 4M513 4017l-11 0 2-4 10 1-1 3M540 4011l-11-1 2-3 11 0-2 4M567 4004l-11-1 2-3 11 1-2 3M594 3997l-11 0 2-4 11 1-2 3M621 3991l-10-1 1-3 11 0-2 4M492 4008l-10 0 1-4 11 1-2 3M520 4001l-11 0 1-4 11 1-1 3M547 3995l-11-1 1-3 11 0-1 4M574 3988l-11 0 1-4 11 1-1 3M601 3982l-11-1 1-4 11 1-1 4M472 3999l-11-1 2-3 10 0-1 4M499 3992l-11 0 2-4 10 1-1 3M526 3986l-11-1 2-3 10 0-1 4M553 3979l-11-1 2-3 10 0-1 4M580 3972l-11 0 2-4 10 1-1 3"/></g>
<g class="sf"><path class="V" d="M291 3758l338-83-26-12-338 83z"/><path class="V" d="M314 3768l338-83-23-10-338 83z"/><path class="V" d="M334 3777l338-83-20-9-338 83z"/><path class="V" d="M345 3782l91-23 20-2 20-6 14-2 7-3 13-2 14-5 13-2 14-5 20-3 20-8 92-22-11-5-338 83z"/><path class="V" d="M580 3728l14-6 91-22-2-1-92 22-13 5z"/><path class="T" d="M577 3740l3-12-2-2-4 2z"/><path class="Q" d="M567 3754l7-1 3-13-3-12-10 2z"/><path class="T" d="M564 3743l3 11-3-24-3 1z"/><path class="V" d="M553 3735l7-2 4 10-3-12-10 1z"/><path class="T" d="M550 3747l3-12-2-3-4 2z"/><path class="Q" d="M540 3761l7-2 3-12-3-13-10 3z"/><path class="T" d="M537 3750l3 11-3-24-3 1z"/><path class="V" d="M526 3741l7-1 4 10-3-12-10 1z"/><path class="T" d="M523 3753l3-12-2-2-4 2z"/><path class="Q" d="M513 3768l7-2 3-13-3-12-10 3z"/><path class="T" d="M509 3757l4 11-3-24-3 0z"/><path class="V" d="M499 3748l7-2 3 11-2-13-10 2z"/><path class="T" d="M496 3760l3-12-2-2-4 2z"/><path class="Q" d="M486 3774l7-1 3-13-3-12-10 2z"/><path class="T" d="M482 3763l4 11-3-24-3 1z"/><path class="V" d="M472 3755l7-2 3 10-2-12-10 1z"/><path class="T" d="M469 3767l3-12-2-3-4 2z"/><path class="Q" d="M459 3781l7-2 3-12-3-13-10 3z"/><path class="T" d="M455 3770l4 11-3-24-3 0z"/><path class="V" d="M347 3783l92-23 13-1 3 11-2-13-17 2-91 23z"/><path class="V" d="M583 3729l14-6 91-22-3-1-91 22-14 6z"/><path class="Q" d="M580 3753l3-24-3-1-3 12z"/><path class="V" d="M556 3736l7-2-3-1-7 2z"/><path class="Q" d="M553 3760l3-24-3-1-3 12z"/><path class="V" d="M529 3743l7-2-3-1-7 1z"/><path class="Q" d="M526 3766l3-23-3-2-3 12z"/><path class="V" d="M502 3749l7-1-3-2-7 2z"/><path class="Q" d="M499 3773l3-24-3-1-3 12z"/><path class="V" d="M475 3756l7-2-3-1-7 2z"/><path class="Q" d="M471 3780l4-24-3-1-3 12z"/><path class="V" d="M350 3784l91-22-2-2-92 23z"/><path class="V" d="M586 3730l13-5 91-23-2-1-91 22-14 6z"/><path class="Q" d="M582 3755l4-25-3-1-3 24z"/><path class="V" d="M559 3737l6-2-2-1-7 2z"/><path class="Q" d="M555 3761l4-24-3-1-3 24z"/><path class="V" d="M532 3744l6-2-2-1-7 2z"/><path class="Q" d="M528 3768l4-24-3-1-3 23z"/><path class="V" d="M504 3750l7-1-2-1-7 1z"/><path class="Q" d="M501 3775l3-25-2-1-3 24z"/><path class="V" d="M477 3757l7-2-2-1-7 2z"/><path class="Q" d="M474 3781l3-24-2-1-4 24z"/><path class="Q" d="M461 3785l3 184-3-23-3-163z"/><path class="V" d="M352 3785l92-22 13-1-2-1-14 1-91 22z"/><path class="V" d="M588 3732l14-6 91-23-3-1-91 23-13 5z"/><path class="Q" d="M585 3755l3-23-2-2-4 25z"/><path class="Q" d="M558 3762l3-24-2-1-4 24z"/><path class="V" d="M534 3745l7-2-3-1-6 2z"/><path class="Q" d="M531 3769l3-24-2-1-4 24z"/><path class="k" d="M521 3932l3 20-3 25-3-25z"/><path class="V" d="M507 3752l7-2-3-1-7 1z"/><path class="Q" d="M504 3775l3-23-3-2-3 25z"/><path class="k" d="M494 3940l3 20-3 26-3-26z"/><path class="V" d="M480 3758l7-1-3-2-7 2z"/><path class="Q" d="M477 3782l3-24-3-1-3 24z"/><path class="f" d="M470 3969l3-22-2 20-4 28z"/><path class="k" d="M466 3948l4 21-3 26-3-26z"/><path class="Q" d="M463 3785l3 163-2 21-3-184z"/><path class="V" d="M355 3786l91-22 14-1-3-1-13 1-92 22z"/><path class="V" d="M591 3733l13-6 91-23-2-1-91 23-14 6z"/><path class="T" d="M587 3745l4-12-3-1-3 23z"/><path class="V" d="M564 3739l6-1-2-1-7 1z"/><path class="T" d="M560 3751l4-12-3-1-3 24z"/><path class="V" d="M537 3746l6-2-2-1-7 2z"/><path class="T" d="M533 3758l4-12-3-1-3 24z"/><path class="V" d="M510 3753l6-2-2-1-7 2z"/><path class="T" d="M506 3765l4-12-3-1-3 23z"/><path class="Q" d="M496 3779l7-2-3 162-3 21-3-20z"/><path class="V" d="M483 3759l6-1-2-1-7 1z"/><path class="T" d="M479 3771l4-12-3-1-3 24z"/><path class="Q" d="M469 3786l7-2-3 163-3 22-4-21z"/><path class="T" d="M466 3775l3 11-3 162-3-163z"/><path class="V" d="M358 3787l91-22 13-1-2-1-14 1-91 22z"/><path class="V" d="M593 3733l14-5 91-22-3-2-91 23-13 6z"/><path class="V" d="M536 3748l3-2-2 0-4 12z"/><path class="V" d="M509 3755l10-4-3 0-6 2-4 12z"/><path class="V" d="M482 3761l10-3-3 0-6 1-4 12z"/><path class="V" d="M360 3789l91-23-2-1-91 22z"/><path class="V" d="M365 3791l91-23 21-2 20-6 14-2 6-3 14-2 13-5 48-10 20-8 91-22-5-2-91 22-20 8-48 10-13 5-14 2-7 3-13 2-20 6-21 2-91 23z"/><path class="V" d="M601 3737l14-6 91-22-3-1-91 22-14 5z"/><path class="T" d="M598 3749l3-12-3-2-3 2z"/><path class="Q" d="M587 3764l7-2 4-13-3-12-10 3z"/><path class="T" d="M584 3753l3 11-2-24-3 0z"/><path class="V" d="M574 3744l7-2 3 11-2-13-11 2z"/><path class="T" d="M571 3756l3-12-3-2-3 2z"/><path class="Q" d="M560 3770l7-1 4-13-3-12-10 2z"/><path class="T" d="M557 3759l3 11-2-24-3 1z"/><path class="V" d="M547 3751l7-2 3 10-2-12-11 1z"/><path class="T" d="M544 3763l3-12-3-3-3 2z"/><path class="Q" d="M533 3777l7-2 4-12-3-13-10 3z"/><path class="T" d="M530 3766l3 11-2-24-4 1z"/><path class="V" d="M520 3757l7-1 3 10-3-12-10 1z"/><path class="T" d="M517 3769l3-12-3-2-3 2z"/><path class="Q" d="M506 3784l7-2 4-13-3-12-10 3z"/><path class="T" d="M503 3773l3 11-2-24-4 0z"/><path class="V" d="M493 3764l7-2 3 11-3-13-10 2z"/><path class="T" d="M489 3776l4-12-3-2-3 1z"/><path class="Q" d="M479 3790l7-1 3-13-2-13-10 3z"/><path class="T" d="M476 3779l3 11-2-24-4 1z"/><path class="V" d="M368 3792l91-22 14-1 3 10-3-12-17 1-91 23z"/><path class="V" d="M604 3738l13-5 91-23-2-1-91 22-14 6z"/><path class="Q" d="M600 3762l4-24-3-1-3 12z"/><path class="V" d="M577 3745l6-1-2-2-7 2z"/><path class="Q" d="M573 3769l4-24-3-1-3 12z"/><path class="V" d="M550 3752l6-2-2-1-7 2z"/><path class="Q" d="M546 3776l4-24-3-1-3 12z"/><path class="V" d="M522 3758l7-1-2-1-7 1z"/><path class="Q" d="M519 3782l3-24-2-1-3 12z"/><path class="V" d="M495 3765l7-2-2-1-7 2z"/><path class="Q" d="M492 3789l3-24-2-1-4 12z"/><path class="V" d="M370 3793l92-22 13-1-2-1-14 1-91 22z"/><path class="V" d="M606 3740l14-6 91-23-3-1-91 23-13 5z"/><path class="Q" d="M603 3764l3-24-2-2-4 24z"/><path class="V" d="M579 3746l7-1-3-1-6 1z"/><path class="Q" d="M576 3771l3-25-2-1-4 24z"/><path class="V" d="M552 3753l7-2-3-1-6 2z"/><path class="Q" d="M549 3777l3-24-2-1-4 24z"/><path class="V" d="M525 3760l7-2-3-1-7 1z"/><path class="Q" d="M522 3784l3-24-3-2-3 24z"/><path class="Q" d="M495 3791l3-25-3-1-3 24z"/><path class="Q" d="M481 3794l3 184-2-22-3-164z"/><path class="V" d="M373 3794l91-22 14-1-3-1-13 1-92 22z"/><path class="V" d="M609 3741l13-6 91-23-2-1-91 23-14 6z"/><path class="Q" d="M605 3765l4-24-3-1-3 24z"/><path class="l" d="M595 3926l4 19-3 24-3-25z"/><path class="V" d="M582 3748l6-2-2-1-7 1z"/><path class="Q" d="M578 3771l4-23-3-2-3 25z"/><path class="k" d="M568 3934l4 19-3 24-3-24z"/><path class="V" d="M555 3754l6-2-2-1-7 2z"/><path class="Q" d="M551 3778l4-24-3-1-3 24z"/><path class="k" d="M541 3942l4 20-3 24-3-25z"/><path class="V" d="M528 3761l6-2-2-1-7 2z"/><path class="Q" d="M524 3785l4-24-3-1-3 24z"/><path class="k" d="M514 3950l3 20-2 25-3-25z"/><path class="V" d="M501 3767l6-1-2-1-7 1z"/><path class="Q" d="M497 3791l4-24-3-1-3 25z"/><path class="j" d="M487 3958l3 20-2 26-4-26z"/><path class="Q" d="M484 3795l3 163-3 20-3-184z"/><path class="V" d="M376 3795l91-22-3-1-91 22z"/><path class="V" d="M611 3742l14-6 91-22-3-2-91 23-13 6z"/><path class="T" d="M608 3754l3-12-2-1-4 24z"/><path class="V" d="M584 3749l7-2-3-1-6 2z"/><path class="T" d="M581 3761l3-12-2-1-4 23z"/><path class="V" d="M557 3755l7-2-3-1-6 2z"/><path class="T" d="M554 3767l3-12-2-1-4 24z"/><path class="Q" d="M544 3782l3-1-2 181-4-20z"/><path class="V" d="M530 3762l7-2-3-1-6 2z"/><path class="T" d="M527 3774l3-12-2-1-4 24z"/><path class="Q" d="M517 3788l6-1-2 161-4 22-3-20z"/><path class="V" d="M503 3768l7-1-3-1-6 1z"/><path class="T" d="M500 3781l3-13-2-1-4 24z"/><path class="Q" d="M490 3795l6-2 4-12-3 10-3 165-4 22-3-20z"/><path class="T" d="M486 3784l4 11-3 163-3-163z"/><path class="V" d="M378 3797l91-23 14-1-3-1-13 1-91 22z"/><path class="V" d="M610 3744l17-7 92-22-3-1-91 22-14 6-3 12z"/><path class="V" d="M583 3750l11-3-3 0-7 2-3 12z"/><path class="V" d="M502 3770l10-3-2 0-7 1-3 13z"/><path class="V" d="M381 3798l91-23 13-2-2 0-14 1-91 23z"/><path class="V" d="M386 3800l91-22 20-3 21-6 13-2 7-3 13-2 14-4 47-11 21-8 91-22-5-2-92 22-20 8-47 10-14 5-13 2-7 3-14 2-20 6-20 2-91 23z"/><path class="V" d="M622 3746l13-5 91-23-2-1-91 22-14 5z"/><path class="T" d="M618 3759l4-13-3-2-3 2z"/><path class="Q" d="M608 3773l7-2 3-12-2-13-11 3z"/><path class="T" d="M605 3762l3 11-3-24-3 0z"/><path class="V" d="M595 3753l6-2 4 11-3-13-10 2z"/><path class="T" d="M591 3765l4-12-3-2-3 2z"/><path class="Q" d="M581 3780l7-2 3-13-2-12-11 2z"/><path class="T" d="M578 3769l3 11-3-25-3 1z"/><path class="V" d="M567 3760l7-2 4 11-3-13-10 2z"/><path class="T" d="M564 3772l3-12-2-2-3 1z"/><path class="Q" d="M554 3786l7-1 3-13-2-13-11 3z"/><path class="T" d="M551 3775l3 11-3-24-3 1z"/><path class="V" d="M540 3766l7-1 4 10-3-12-10 1z"/><path class="T" d="M537 3779l3-13-2-2-3 2z"/><path class="Q" d="M527 3793l7-2 3-12-2-13-11 3z"/><path class="T" d="M524 3782l3 11-3-24-3 0z"/><path class="V" d="M513 3773l7-2 4 11-3-13-10 2z"/><path class="T" d="M510 3785l3-12-2-2-4 2z"/><path class="Q" d="M500 3800l7-2 3-13-3-12-10 2z"/><path class="T" d="M497 3788l3 12-3-25-3 1z"/><path class="V" d="M388 3801l92-22 13-1 4 10-3-12-17 2-91 22z"/><path class="V" d="M624 3748l14-6 91-23-3-1-91 23-13 5z"/><path class="Q" d="M621 3772l3-24-2-2-4 13z"/><path class="V" d="M597 3754l7-1-3-2-6 2z"/><path class="Q" d="M594 3778l3-24-2-1-4 12z"/><path class="V" d="M570 3761l7-2-3-1-7 2z"/><path class="Q" d="M567 3785l3-24-3-1-3 12z"/><path class="V" d="M543 3768l7-2-3-1-7 1z"/><path class="Q" d="M540 3792l3-24-3-2-3 13z"/><path class="V" d="M516 3774l7-1-3-2-7 2z"/><path class="Q" d="M513 3798l3-24-3-1-3 12z"/><path class="V" d="M391 3802l91-22-2-1-92 22z"/><path class="V" d="M627 3749l13-6 91-22-2-2-91 23-14 6z"/><path class="Q" d="M623 3773l4-24-3-1-3 24z"/><path class="V" d="M600 3756l6-2-2-1-7 1z"/><path class="Q" d="M596 3780l4-24-3-2-3 24z"/><path class="V" d="M573 3762l6-1-2-2-7 2z"/><path class="Q" d="M569 3786l4-24-3-1-3 24z"/><path class="V" d="M546 3769l6-2-2-1-7 2z"/><path class="Q" d="M542 3793l4-24-3-1-3 24z"/><path class="V" d="M519 3775l6-1-2-1-7 1z"/><path class="Q" d="M515 3800l4-25-3-1-3 24z"/><path class="Q" d="M502 3803l3 185-3-23-3-163z"/><path class="V" d="M394 3804l91-23 13-1-2-1-14 1-91 22z"/><path class="V" d="M629 3750l14-6 91-22-3-1-91 22-13 6z"/><path class="Q" d="M626 3774l3-24-2-1-4 24z"/><path class="l" d="M616 3935l3 19-2 24-4-24z"/><path class="V" d="M602 3757l7-2-3-1-6 2z"/><path class="Q" d="M599 3781l3-24-2-1-4 24z"/><path class="k" d="M589 3943l3 20-2 24-4-25z"/><path class="V" d="M575 3763l7-1-3-1-6 1z"/><path class="Q" d="M572 3787l3-24-2-1-4 24z"/><path class="k" d="M562 3951l3 20-3 25-3-25z"/><path class="Q" d="M545 3794l3-24-2-1-4 24z"/><path class="f" d="M538 3980l3-22-2 20-4 27z"/><path class="k" d="M535 3959l3 21-3 25-3-26z"/><path class="Q" d="M518 3801l3-24-2-2-4 25z"/><path class="f" d="M511 3988l3-22-2 20-4 28z"/><path class="j" d="M508 3967l3 21-3 26-3-26z"/><path class="Q" d="M504 3804l4 163-3 21-3-185z"/><path class="V" d="M396 3805l91-23 14-1-3-1-13 1-91 23z"/><path class="V" d="M632 3751l13-6 92-22-3-1-91 22-14 6z"/><path class="T" d="M628 3763l4-12-3-1-3 24z"/><path class="Q" d="M618 3778l7-2-2 157-4 21-3-19z"/><path class="T" d="M601 3770l4-12-3-1-3 24z"/><path class="Q" d="M591 3784l7-1-3 158-3 22-3-20z"/><path class="T" d="M574 3777l4-13-3-1-3 24z"/><path class="Q" d="M564 3791l7-2-3 161-3 21-3-20z"/><path class="V" d="M551 3771l7-2-3-1-7 2z"/><path class="T" d="M547 3783l4-12-3-1-3 24z"/><path class="Q" d="M537 3798l7-2-3 162-3 22-3-21z"/><path class="V" d="M524 3778l6-2-2-1-7 2z"/><path class="T" d="M520 3790l4-12-3-1-3 24z"/><path class="Q" d="M510 3804l7-1-3 163-3 22-3-21z"/><path class="T" d="M507 3793l3 11-2 163-4-163z"/><path class="V" d="M399 3806l91-23 13-1-2-1-14 1-91 23z"/><path class="V" d="M634 3751l14-5 91-22-2-1-92 22-13 6z"/><path class="V" d="M604 3760l10-4-2 0-7 2-4 12z"/><path class="V" d="M577 3766l10-3-2 0-7 1-4 13z"/><path class="V" d="M553 3771l7-1-2-1-7 2z"/><path class="V" d="M401 3807l91-22-2-2-91 23z"/><path class="V" d="M406 3809l92-22 20-2 20-7 14-2 6-3 14-2 13-4 48-11 20-7 91-23-5-2-91 22-20 8-48 11-13 4-14 2-6 3-14 2-20 6-21 3-91 22z"/><path class="V" d="M642 3756l14-6 91-23-3-1-91 23-13 4z"/><path class="T" d="M639 3768l3-12-2-3-4 2z"/><path class="Q" d="M629 3782l6-2 4-12-3-13-10 3z"/><path class="T" d="M625 3771l4 11-3-24-3 1z"/><path class="V" d="M615 3762l7-1 3 10-2-12-10 1z"/><path class="T" d="M612 3774l3-12-2-2-4 2z"/><path class="Q" d="M602 3789l6-2 4-13-3-12-10 3z"/><path class="T" d="M598 3778l4 11-3-24-3 0z"/><path class="V" d="M588 3769l7-2 3 11-2-13-11 2z"/><path class="T" d="M585 3781l3-12-3-2-3 2z"/><path class="Q" d="M575 3795l6-1 4-13-3-12-10 2z"/><path class="T" d="M571 3784l4 11-3-24-3 1z"/><path class="V" d="M561 3776l7-2 3 10-2-12-11 1z"/><path class="T" d="M558 3788l3-12-3-3-3 2z"/><path class="Q" d="M548 3802l6-2 4-12-3-13-10 3z"/><path class="T" d="M544 3791l4 11-3-24-3 1z"/><path class="V" d="M534 3782l7-1 3 10-2-12-11 1z"/><path class="T" d="M531 3794l3-12-3-2-3 2z"/><path class="Q" d="M520 3809l7-2 4-13-3-12-10 3z"/><path class="T" d="M517 3798l3 11-2-24-3 0z"/><path class="V" d="M409 3810l91-22 14-1-3-2-13 2-92 22z"/><path class="V" d="M645 3757l13-6 91-22-2-2-91 23-14 6z"/><path class="Q" d="M641 3781l4-24-3-1-3 12z"/><path class="V" d="M618 3764l6-2-2-1-7 1z"/><path class="Q" d="M614 3787l4-23-3-2-3 12z"/><path class="V" d="M591 3770l6-1-2-2-7 2z"/><path class="Q" d="M587 3794l4-24-3-1-3 12z"/><path class="V" d="M564 3777l6-2-2-1-7 2z"/><path class="Q" d="M560 3801l4-24-3-1-3 12z"/><path class="V" d="M537 3784l6-2-2-1-7 1z"/><path class="Q" d="M533 3807l4-23-3-2-3 12z"/><path class="V" d="M412 3812l91-23 13-1-2-1-14 1-91 22z"/><path class="V" d="M647 3758l14-6 91-22-3-1-91 22-13 6z"/><path class="Q" d="M644 3782l3-24-2-1-4 24z"/><path class="V" d="M620 3765l7-2-3-1-6 2z"/><path class="Q" d="M617 3789l3-24-2-1-4 23z"/><path class="Q" d="M590 3796l3-25-2-1-4 24z"/><path class="Q" d="M563 3802l3-24-2-1-4 24z"/><path class="V" d="M539 3785l7-2-3-1-6 2z"/><path class="Q" d="M536 3809l3-24-2-1-4 23z"/><path class="Q" d="M522 3812l4 185-3-22-3-164z"/><path class="V" d="M414 3813l91-23 14 0-3-2-13 1-91 23z"/><path class="V" d="M650 3759l13-6 92-22-3-1-91 22-14 6z"/><path class="Q" d="M646 3783l4-24-3-1-3 24z"/><path class="g" d="M640 3964l3-21-2 19-4 26z"/><path class="l" d="M636 3945l4 19-3 24-3-24z"/><path class="V" d="M623 3766l7-2-3-1-7 2z"/><path class="Q" d="M619 3790l4-24-3-1-3 24z"/><path class="g" d="M613 3972l3-21-3 19-3 27z"/><path class="k" d="M609 3953l4 19-3 25-3-25z"/><path class="V" d="M596 3773l7-2-3-1-7 1z"/><path class="Q" d="M592 3796l4-23-3-2-3 25z"/><path class="k" d="M582 3961l4 20-3 25-3-26z"/><path class="V" d="M569 3779l6-1-2-2-7 2z"/><path class="Q" d="M565 3803l4-24-3-1-3 24z"/><path class="k" d="M555 3969l4 20-3 26-3-26z"/><path class="V" d="M542 3786l6-2-2-1-7 2z"/><path class="Q" d="M538 3810l4-24-3-1-3 24z"/><path class="f" d="M532 3998l3-23-3 21-3 28z"/><path class="j" d="M528 3977l4 21-3 26-3-27z"/><path class="Q" d="M525 3813l3 164-2 20-4-185z"/><path class="V" d="M417 3814l91-23-3-1-91 23z"/><path class="V" d="M652 3760l14-6 91-22-2-1-92 22-13 6z"/><path class="T" d="M649 3772l3-12-2-1-4 24z"/><path class="Q" d="M639 3787l7-2-3 158-3 21-4-19z"/><path class="V" d="M625 3767l7-2-2-1-7 2z"/><path class="T" d="M622 3779l3-12-2-1-4 24z"/><path class="Q" d="M612 3793l7-1-3 159-3 21-4-19z"/><path class="V" d="M598 3774l7-2-2-1-7 2z"/><path class="T" d="M595 3786l3-12-2-1-4 23z"/><path class="Q" d="M585 3800l7-2 3-12-3 10-3 163-3 22-4-20z"/><path class="V" d="M571 3780l7-1-3-1-6 1z"/><path class="T" d="M568 3792l3-12-2-1-4 24z"/><path class="Q" d="M558 3807l7-2 3-13-3 11-3 164-3 22-4-20z"/><path class="V" d="M544 3787l7-2-3-1-6 2z"/><path class="T" d="M541 3799l3-12-2-1-4 24z"/><path class="Q" d="M531 3813l7-1-3 163-3 23-4-21z"/><path class="T" d="M527 3802l4 11-3 164-3-164z"/><path class="V" d="M419 3815l91-22 14-1-3-1-13 0-91 23z"/><path class="V" d="M655 3760l14-4 91-23-3-1-91 22-14 6z"/><path class="V" d="M570 3782l11-3-3 0-7 1-3 12z"/><path class="V" d="M543 3789l11-4-3 0-7 2-3 12z"/><path class="V" d="M422 3816l91-22 14-2-3 0-14 1-91 22z"/><path class="V" d="M427 3818l91-22 20-2 21-6 13-3 7-2 14-3 13-4 47-10 21-8 91-23-5-2-91 23-21 7-47 11-14 4-13 2-7 3-13 2-21 6-20 3-91 22z"/><path class="V" d="M663 3765l13-6 91-22-2-2-91 23-14 5z"/><path class="T" d="M659 3777l4-12-3-2-3 1z"/><path class="Q" d="M649 3791l7-1 3-13-2-13-10 3z"/><path class="T" d="M646 3780l3 11-2-24-4 1z"/><path class="V" d="M636 3771l6-1 4 10-3-12-10 1z"/><path class="T" d="M632 3784l4-13-3-2-3 2z"/><path class="Q" d="M622 3798l7-2 3-12-2-13-10 3z"/><path class="T" d="M619 3787l3 11-2-24-4 1z"/><path class="V" d="M609 3778l6-2 4 11-3-12-10 1z"/><path class="T" d="M605 3790l4-12-3-2-3 2z"/><path class="Q" d="M595 3805l7-2 3-13-2-12-10 2z"/><path class="T" d="M592 3794l3 11-2-25-4 1z"/><path class="V" d="M582 3785l6-2 4 11-3-13-10 2z"/><path class="T" d="M578 3797l4-12-3-2-3 1z"/><path class="Q" d="M568 3811l7-1 3-13-2-13-11 3z"/><path class="T" d="M565 3800l3 11-3-24-3 1z"/><path class="V" d="M555 3791l6-1 4 10-3-12-10 1z"/><path class="T" d="M551 3804l4-13-3-2-3 2z"/><path class="Q" d="M541 3818l7-2 3-12-2-13-11 3z"/><path class="T" d="M538 3807l3 11-3-24-3 0z"/><path class="V" d="M430 3820l91-23 13-1 4 11-3-13-17 2-91 22z"/><path class="V" d="M665 3766l14-6 91-22-3-1-91 22-13 6z"/><path class="Q" d="M662 3790l3-24-2-1-4 12z"/><path class="V" d="M638 3773l7-2-3-1-6 1z"/><path class="Q" d="M635 3797l3-24-2-2-4 13z"/><path class="V" d="M611 3779l7-1-3-2-6 2z"/><path class="Q" d="M608 3803l3-24-2-1-4 12z"/><path class="V" d="M584 3786l7-2-3-1-6 2z"/><path class="Q" d="M581 3810l3-24-2-1-4 12z"/><path class="V" d="M557 3793l7-2-3-1-6 1z"/><path class="Q" d="M554 3817l3-24-2-2-4 13z"/><path class="V" d="M432 3821l91-23 14 0-3-2-13 1-91 23z"/><path class="V" d="M668 3767l13-6 92-22-3-1-91 22-14 6z"/><path class="Q" d="M664 3791l4-24-3-1-3 24z"/><path class="Q" d="M651 3795l3 178-2-21-4-159z"/><path class="V" d="M641 3774l7-2-3-1-7 2z"/><path class="Q" d="M637 3798l4-24-3-1-3 24z"/><path class="Q" d="M624 3801l3 180-2-21-4-160z"/><path class="V" d="M614 3781l7-2-3-1-7 1z"/><path class="Q" d="M610 3805l4-24-3-2-3 24z"/><path class="Q" d="M597 3808l3 182-2-22-4-161z"/><path class="V" d="M587 3787l6-1-2-2-7 2z"/><path class="Q" d="M583 3812l4-25-3-1-3 24z"/><path class="Q" d="M570 3815l3 183-2-22-4-163z"/><path class="V" d="M560 3794l6-2-2-1-7 2z"/><path class="Q" d="M556 3818l4-24-3-1-3 24z"/><path class="Q" d="M543 3821l3 186-2-23-4-164z"/><path class="V" d="M435 3822l91-22-3-2-91 23z"/><path class="V" d="M670 3768l14-6 91-22-2-1-92 22-13 6z"/><path class="Q" d="M667 3792l3-24-2-1-4 24z"/><path class="k" d="M657 3954l3 19-2 24-4-24z"/><path class="Q" d="M654 3796l3 158-3 19-3-178z"/><path class="V" d="M643 3775l7-2-2-1-7 2z"/><path class="Q" d="M640 3799l3-24-2-1-4 24z"/><path class="g" d="M633 3982l4-22-3 20-3 26z"/><path class="k" d="M630 3962l3 20-2 24-4-25z"/><path class="Q" d="M626 3802l4 160-3 19-3-180z"/><path class="V" d="M616 3782l7-2-2-1-7 2z"/><path class="Q" d="M613 3806l3-24-2-1-4 24z"/><path class="g" d="M606 3990l4-21-3 19-3 27z"/><path class="k" d="M603 3970l3 20-2 25-4-25z"/><path class="Q" d="M599 3809l4 161-3 20-3-182z"/><path class="V" d="M589 3788l7-1-3-1-6 1z"/><path class="Q" d="M586 3812l3-24-2-1-4 25z"/><path class="k" d="M576 3978l3 21-2 25-4-26z"/><path class="Q" d="M572 3816l4 162-3 20-3-183z"/><path class="V" d="M562 3795l7-2-3-1-6 2z"/><path class="Q" d="M559 3819l3-24-2-1-4 24z"/><path class="j" d="M549 3986l3 21-2 26-4-26z"/><path class="Q" d="M545 3822l4 164-3 21-3-186z"/><path class="V" d="M437 3823l91-22 14-1-3-1-13 1-91 22z"/><path class="V" d="M673 3769l13-5 92-23-3-1-91 22-14 6z"/><path class="T" d="M670 3782l3-13-3-1-3 24z"/><path class="Q" d="M659 3796l7-2 4-12-3 10-3 160-4 21-3-19z"/><path class="T" d="M656 3785l3 11-2 158-3-158z"/><path class="T" d="M643 3788l3-12-3-1-3 24z"/><path class="Q" d="M632 3803l7-2-2 159-4 22-3-20z"/><path class="T" d="M629 3792l3 11-2 159-4-160z"/><path class="V" d="M619 3783l7-2-3-1-7 2z"/><path class="T" d="M616 3795l3-12-3-1-3 24z"/><path class="Q" d="M605 3809l7-1-2 161-4 21-3-20z"/><path class="T" d="M602 3798l3 11-2 161-4-161z"/><path class="V" d="M592 3789l7-1-3-1-7 1z"/><path class="T" d="M588 3802l4-13-3-1-3 24z"/><path class="Q" d="M578 3816l7-2-2 163-4 22-3-21z"/><path class="T" d="M575 3805l3 11-2 162-4-162z"/><path class="T" d="M561 3808l4-12-3-1-3 24z"/><path class="Q" d="M551 3823l7-2 3-13-2 11-3 166-4 22-3-21z"/><path class="T" d="M548 3811l3 12-2 163-4-164z"/><path class="V" d="M440 3824l91-22 14-1-3-1-14 1-91 22z"/><path class="V" d="M672 3771l17-6 91-23-2-1-92 23-13 5-3 13z"/><path class="V" d="M645 3778l10-4-2 0-7 2-3 12z"/><path class="V" d="M564 3798l10-4-2 0-7 2-4 12z"/><path class="V" d="M442 3825l92-22 13-2-2 0-14 1-91 22z"/><path class="V" d="M453 3830l338-83-11-5-91 23-20 7-20 4-14 5-14 2-13 4-14 2-6 3-14 2-20 7-20 2-92 22z"/><path class="V" d="M473 3839l338-83-20-9-338 83z"/><path class="V" d="M496 3850l338-83-23-11-338 83z"/><path class="V" d="M522 3861l338-83-26-11-338 83z"/></g>
<path class="ax" d="M860 4018l-338 83-257-115 0-240M522 4101l11 5M522 4101l-12 3M691 4060l11 4M394 4044l-12 2M860 4018l11 5M265 3986l-12 3M265 3986l-12 3M265 3890l-12 3M265 3794l-12 3"/></g><text x="54.5" y="417.3">−100</text><text class="te" x="49.7" y="417.2">−100</text><text x="71.4" y="413.2">0</text><text class="te" x="36.9" y="411.5">0</text><text x="88.3" y="409">100</text><text class="te" x="24" y="405.7">100</text><text class="te" x="23.5" y="400.5">0</text><text class="te" x="23.5" y="390.9">200</text><text class="te" x="23.5" y="381.3">400</text><text class="tm lb" x="84.7" y="422.2">x<tspan class="sub" dy="2.2">1</tspan></text><text class="tm lb" x="22.3" y="422.1">x<tspan class="sub" dy="2.2">2</tspan></text><text class="tm lb" transform="translate(6.6 386.6) rotate(-90)">F14( x<tspan class="sub" dy="2.2">1</tspan><tspan dy="-2.2"> , x</tspan><tspan class="sub" dy="2.2">2</tspan><tspan dy="-2.2"> )</tspan></text></g>
<g id="F15"><g transform="scale(.1)"><path class="gr" d="M1477 4101l-262-108M1215 3993l0-215M1477 4101l344-83M1821 4018l0-215M1649 4060l-262-108M1387 3952l0-215M1346 4047l344-83M1690 3964l0-215M1821 4018l-262-108M1559 3910l0-215M1215 3993l344-83M1559 3910l0-215M1215 3993l344-83M1559 3910l262 108M1215 3790l344-83M1559 3707l262 108"/>
<g class="ct"><path class="j" d="M1570 4079l-45-7-37-2-83 1M1747 3987l-21 14-10 14-1 12 7 15M1287 4023l19-15 8-10 1-12-7-15M1460 3934l45 6 37 3 43 0 48-2"/><path class="s" d="M1538 4086l-53-4-56-1M1770 3997l-10 11-6 9-2 10 1 7M1263 4013l13-17 1-7 0-11M1492 3926l53 5 65 0"/><path class="B" d="M1514 4092l-66-3M1789 4005l-9 11-2 12M1244 4005l5-9 3-12M1516 3920l76 3"/><path class="K" d="M1494 4097l-30-1M1804 4011l-6 13M1228 3998l4-9M1536 3916l40 1"/><path class="T" d="M1817 4016l-1 3M1554 3911l9 1"/></g>
<g class="sf"><path class="Q" d="M1557 3744l10-22-8-27-9 26z"/><path class="L" d="M1545 3771l12-27-7-23-12 29z"/><path class="F" d="M1531 3799l14-28-7-21-14 31z"/><path class="z" d="M1516 3829l15-30-7-18-16 33z"/><path class="t" d="M1498 3858l18-29-8-15-17 32z"/><path class="o" d="M1479 3886l19-28-7-12-19 31z"/><path class="j" d="M1459 3910l20-24-7-9-20 26z"/><path class="f" d="M1438 3930l21-20-7-7-21 23z"/><path class="c" d="M1417 3945l21-15-7-4-22 16z"/><path class="a" d="M1372 3958l22-4 23-9-8-3-22 9-22 3z"/><path class="b" d="M1351 3955l21 3-7-4-22-4z"/><path class="e" d="M1330 3946l21 9-8-5-21-10z"/><path class="h" d="M1309 3933l21 13-8-6-20-15z"/><path class="m" d="M1291 3916l18 17-7-8-19-20z"/><path class="r" d="M1273 3897l18 19-8-11-17-22z"/><path class="x" d="M1258 3876l15 21-7-14-16-24z"/><path class="D" d="M1244 3855l14 21-8-17-14-24z"/><path class="I" d="M1232 3835l12 20-8-20-11-22z"/><path class="N" d="M1222 3818l10 17-7-22-10-20z"/><path class="L" d="M1566 3772l10-20-9-30-10 22z"/><path class="H" d="M1554 3795l12-23-9-28-12 27z"/><path class="C" d="M1540 3820l14-25-9-24-14 28z"/><path class="w" d="M1525 3846l15-26-9-21-15 30z"/><path class="r" d="M1507 3872l18-26-9-17-18 29z"/><path class="m" d="M1488 3896l19-24-9-14-19 28z"/><path class="i" d="M1468 3918l20-22-9-10-20 24z"/><path class="e" d="M1447 3936l21-18-9-8-21 20z"/><path class="b" d="M1425 3949l22-13-9-6-21 15z"/><path class="a" d="M1381 3962l22-4 22-9-8-4-23 9-22 4z"/><path class="b" d="M1360 3960l21 2-9-4-21-3z"/><path class="d" d="M1339 3953l21 7-9-5-21-9z"/><path class="g" d="M1318 3943l21 10-9-7-21-13z"/><path class="k" d="M1300 3929l18 14-9-10-18-17z"/><path class="p" d="M1282 3912l18 17-9-13-18-19z"/><path class="u" d="M1266 3895l16 17-9-15-15-21z"/><path class="z" d="M1253 3878l13 17-8-19-14-21z"/><path class="E" d="M1241 3861l12 17-9-23-12-20z"/><path class="I" d="M1231 3846l10 15-9-26-10-17z"/><path class="F" d="M1576 3802l10-17-10-33-10 20z"/><path class="B" d="M1565 3821l11-19-10-30-12 23z"/><path class="x" d="M1551 3843l14-22-11-26-14 25z"/><path class="t" d="M1535 3865l16-22-11-23-15 26z"/><path class="o" d="M1518 3887l17-22-10-19-18 26z"/><path class="k" d="M1499 3908l19-21-11-15-19 24z"/><path class="g" d="M1479 3926l20-18-11-12-20 22z"/><path class="d" d="M1458 3942l21-16-11-8-21 18z"/><path class="b" d="M1436 3954l22-12-11-6-22 13z"/><path class="a" d="M1392 3966l22-4 22-8-11-5-22 9-22 4z"/><path class="b" d="M1370 3966l22 0-11-4-21-2z"/><path class="d" d="M1349 3961l21 5-10-6-21-7z"/><path class="f" d="M1329 3953l20 8-10-8-21-10z"/><path class="j" d="M1310 3943l19 10-11-10-18-14z"/><path class="n" d="M1293 3930l17 13-10-14-18-17z"/><path class="r" d="M1277 3916l16 14-11-18-16-17z"/><path class="v" d="M1263 3902l14 14-11-21-13-17z"/><path class="z" d="M1251 3889l12 13-10-24-12-17z"/><path class="D" d="M1242 3877l9 12-10-28-10-15z"/><path class="z" d="M1588 3833l10-14-12-34-10 17z"/><path class="w" d="M1576 3849l12-16-12-31-11 19z"/><path class="t" d="M1563 3866l13-17-11-28-14 22z"/><path class="p" d="M1547 3885l16-19-12-23-16 22z"/><path class="l" d="M1530 3903l17-18-12-20-17 22z"/><path class="i" d="M1511 3920l19-17-12-16-19 21z"/><path class="f" d="M1491 3936l20-16-12-12-20 18z"/><path class="d" d="M1470 3949l21-13-12-10-21 16z"/><path class="b" d="M1448 3960l22-11-12-7-22 12z"/><path class="a" d="M1382 3972l22 0 22-5 22-7-12-6-22 8-22 4-22 0z"/><path class="c" d="M1361 3970l21 2-12-6-21-5z"/><path class="e" d="M1341 3965l20 5-12-9-20-8z"/><path class="h" d="M1322 3957l19 8-12-12-19-10z"/><path class="k" d="M1305 3948l17 9-12-14-17-13z"/><path class="o" d="M1289 3938l16 10-12-18-16-14z"/><path class="r" d="M1275 3928l14 10-12-22-14-14z"/><path class="u" d="M1263 3918l12 10-12-26-12-13z"/><path class="x" d="M1254 3910l9 8-12-29-9-12z"/><path class="t" d="M1601 3864l10-11-13-34-10 14z"/><path class="r" d="M1590 3876l11-12-13-31-12 16z"/><path class="o" d="M1576 3890l14-14-14-27-13 17z"/><path class="l" d="M1560 3904l16-14-13-24-16 19z"/><path class="j" d="M1543 3919l17-15-13-19-17 18z"/><path class="g" d="M1524 3933l19-14-13-16-19 17z"/><path class="e" d="M1504 3945l20-12-13-13-20 16z"/><path class="c" d="M1483 3957l21-12-13-9-21 13z"/><path class="a" d="M1395 3979l22-2 22-4 22-7 22-9-13-8-22 11-22 7-22 5-22 0z"/><path class="b" d="M1374 3979l21 0-13-7-21-2z"/><path class="d" d="M1354 3976l20 3-13-9-20-5z"/><path class="f" d="M1335 3972l19 4-13-11-19-8z"/><path class="i" d="M1318 3967l17 5-13-15-17-9z"/><path class="k" d="M1302 3960l16 7-13-19-16-10z"/><path class="n" d="M1288 3954l14 6-13-22-14-10z"/><path class="p" d="M1277 3947l11 7-13-26-12-10z"/><path class="s" d="M1267 3942l10 5-14-29-9-8z"/><path class="n" d="M1616 3893l9-8-14-32-10 11z"/><path class="m" d="M1604 3902l12-9-15-29-11 12z"/><path class="k" d="M1590 3912l14-10-14-26-14 14z"/><path class="i" d="M1575 3923l15-11-14-22-16 14z"/><path class="g" d="M1557 3934l18-11-15-19-17 15z"/><path class="e" d="M1538 3945l19-11-14-15-19 14z"/><path class="c" d="M1518 3955l20-10-14-12-20 12z"/><path class="b" d="M1497 3965l21-10-14-10-21 12z"/><path class="a" d="M1410 3987l21-3 22-5 22-7-14-6-22 7-22 4-22 2z"/><path class="b" d="M1388 3988l22-1-15-8-21 0z"/><path class="c" d="M1368 3988l20 0-14-9-20-3z"/><path class="e" d="M1349 3987l19 1-14-12-19-4z"/><path class="f" d="M1332 3984l17 3-14-15-17-5z"/><path class="h" d="M1316 3981l16 3-14-17-16-7z"/><path class="j" d="M1303 3978l13 3-14-21-14-6z"/><path class="l" d="M1291 3975l12 3-15-24-11-7z"/><path class="m" d="M1281 3972l10 3-14-28-10-5z"/><path class="i" d="M1631 3919l10-6-16-28-9 8z"/><path class="h" d="M1619 3925l12-6-15-26-12 9z"/><path class="g" d="M1606 3933l13-8-15-23-14 10z"/><path class="f" d="M1590 3941l16-8-16-21-15 11z"/><path class="e" d="M1573 3949l17-8-15-18-18 11z"/><path class="c" d="M1554 3957l19-8-16-15-19 11z"/><path class="b" d="M1512 3972l42-15-16-12-41 20z"/><path class="a" d="M1404 3997l43-7 22-5-16-6-22 5-43 4z"/><path class="b" d="M1384 3999l20-2-16-9-20 0z"/><path class="c" d="M1365 4000l19-1-16-11-19-1z"/><path class="d" d="M1347 4000l18 0-16-13-17-3z"/><path class="e" d="M1332 4000l15 0-15-16-16-3z"/><path class="f" d="M1318 4000l14 0-16-19-13-3z"/><path class="h" d="M1306 3999l12 1-15-22-12-3z"/><path class="i" d="M1297 3998l9 1-15-24-10-3z"/><path class="e" d="M1635 3945l22-9-16-23-22 12z"/><path class="d" d="M1622 3950l13-5-16-20-13 8z"/><path class="c" d="M1589 3962l33-12-16-17-33 16z"/><path class="b" d="M1570 3968l19-6-16-13-19 8z"/><path class="a" d="M1507 3986l63-18-16-11-42 15-21 7z"/><path class="a" d="M1400 4009l63-12-16-7-22 4-41 5z"/><path class="b" d="M1363 4015l37-6-16-10-37 1z"/><path class="c" d="M1348 4017l15-2-16-15-15 0z"/><path class="d" d="M1322 4019l26-2-16-17-26-1z"/><path class="e" d="M1313 4020l9-1-16-20-9-1z"/><path class="b" d="M1622 3968l51-14-16-18-51 20z"/><path class="a" d="M1523 3993l99-25-16-12-56 18-43 12z"/><path class="a" d="M1380 4026l77-17-16-7-78 13z"/><path class="b" d="M1329 4037l51-11-17-11-50 5z"/><path class="a" d="M1518 4005l172-41-17-10-87 23-85 22z"/><path class="a" d="M1346 4047l87-21-17-8-87 19z"/><path class="a" d="M1535 4012l85-21 87-24-17-3-172 41z"/><path class="a" d="M1363 4051l51-11-17-5-51 12z"/><path class="b" d="M1673 3983l50-19-16 3-51 14z"/><path class="a" d="M1551 4019l65-18 57-18-17-2-121 31z"/><path class="b" d="M1379 4048l22-2-17 0-21 5z"/><path class="d" d="M1704 3973l14-7-16 6-14 5z"/><path class="c" d="M1671 3989l33-16-16 4-33 12z"/><path class="b" d="M1632 4006l39-17-16 0-39 12z"/><path class="a" d="M1545 4031l44-11 43-14-16-5-43 13-44 10z"/><path class="b" d="M1446 4041l17 0-16-1-17 2z"/><path class="c" d="M1430 4041l16 0-16 1-16 2z"/><path class="d" d="M1405 4040l25 1-16 3-25 3z"/><path class="e" d="M1395 4039l10 1-16 7-10 1z"/><path class="g" d="M1720 3966l13-11-15 11-14 7z"/><path class="f" d="M1704 3976l16-10-16 7-15 8z"/><path class="e" d="M1687 3988l17-12-15 5-18 8z"/><path class="c" d="M1668 3998l19-10-16 1-19 9z"/><path class="b" d="M1626 4018l42-20-16 0-41 15z"/><path class="a" d="M1561 4037l22-5 43-14-15-5-44 13-22 5z"/><path class="c" d="M1479 4040l19 1-16-1-19 1z"/><path class="d" d="M1461 4038l18 2-16 1-17 0z"/><path class="e" d="M1446 4035l15 3-15 3-16 0z"/><path class="f" d="M1432 4031l14 4-16 6-13 0z"/><path class="h" d="M1420 4028l12 3-15 10-12-1z"/><path class="i" d="M1411 4025l9 3-15 12-10-1z"/><path class="k" d="M1734 3955l14-14-15 14-13 11z"/><path class="i" d="M1718 3969l16-14-14 11-16 10z"/><path class="g" d="M1701 3984l17-15-14 7-17 12z"/><path class="e" d="M1682 3998l19-14-14 4-19 10z"/><path class="c" d="M1662 4011l20-13-14 0-20 11z"/><path class="b" d="M1641 4022l21-11-14-2-22 9z"/><path class="a" d="M1575 4042l22-4 22-7 22-9-15-4-43 14-22 5z"/><path class="c" d="M1512 4041l20 3-14-3-20 0z"/><path class="e" d="M1493 4037l19 4-14 0-19-1z"/><path class="f" d="M1476 4032l17 5-14 3-18-2z"/><path class="h" d="M1460 4025l16 7-15 6-15-3z"/><path class="j" d="M1446 4019l14 6-14 10-14-4z"/><path class="l" d="M1435 4013l11 6-14 12-12-3z"/><path class="m" d="M1425 4007l10 6-15 15-9-3z"/><path class="o" d="M1747 3942l14-17-13 16-14 14z"/><path class="l" d="M1731 3961l16-19-13 13-16 14z"/><path class="j" d="M1714 3979l17-18-13 8-17 15z"/><path class="g" d="M1695 3996l19-17-13 5-19 14z"/><path class="e" d="M1675 4012l20-16-13 2-20 13z"/><path class="c" d="M1654 4025l21-13-13-1-21 11z"/><path class="a" d="M1566 4048l22 0 22-5 22-7 22-11-13-3-22 9-22 7-22 4-22 2z"/><path class="b" d="M1545 4046l21 2-13-4-21 0z"/><path class="d" d="M1525 4041l20 5-13-2-20-3z"/><path class="f" d="M1506 4033l19 8-13 0-19-4z"/><path class="i" d="M1489 4024l17 9-13 4-17-5z"/><path class="k" d="M1473 4014l16 10-13 8-16-7z"/><path class="n" d="M1460 4004l13 10-13 11-14-6z"/><path class="p" d="M1448 3995l12 9-14 15-11-6z"/><path class="s" d="M1438 3986l10 9-13 18-10-6z"/><path class="z" d="M1785 3888l9-17-12 24-9 14z"/><path class="t" d="M1759 3929l14-22-12 18-14 17z"/><path class="p" d="M1743 3951l16-22-12 13-16 19z"/><path class="l" d="M1726 3973l17-22-12 10-17 18z"/><path class="i" d="M1707 3994l19-21-12 6-19 17z"/><path class="f" d="M1687 4012l20-18-12 2-20 16z"/><path class="d" d="M1666 4028l21-16-12 0-21 13z"/><path class="b" d="M1644 4040l22-12-12-3-22 11z"/><path class="a" d="M1578 4052l22 0 22-4 22-8-12-4-22 7-22 5-22 0z"/><path class="c" d="M1557 4047l21 5-12-4-21-2z"/><path class="e" d="M1537 4039l20 8-12-1-20-5z"/><path class="h" d="M1518 4029l19 10-12 2-19-8z"/><path class="k" d="M1501 4016l17 13-12 4-17-9z"/><path class="o" d="M1485 4002l16 14-12 8-16-10z"/><path class="r" d="M1471 3988l14 14-12 12-13-10z"/><path class="u" d="M1460 3975l11 13-11 16-12-9z"/><path class="x" d="M1450 3963l10 12-12 20-10-9z"/><path class="F" d="M1795 3866l10-20-11 25-9 17z"/><path class="x" d="M1770 3914l13-25-10 18-14 22z"/><path class="t" d="M1754 3940l16-26-11 15-16 22z"/><path class="o" d="M1736 3966l18-26-11 11-17 22z"/><path class="k" d="M1718 3991l18-25-10 7-19 21z"/><path class="g" d="M1697 4012l21-21-11 3-20 18z"/><path class="d" d="M1676 4030l21-18-10 0-21 16z"/><path class="b" d="M1655 4044l21-14-10-2-22 12z"/><path class="a" d="M1611 4056l22-3 22-9-11-4-22 8-22 4z"/><path class="b" d="M1589 4054l22 2-11-4-22 0z"/><path class="c" d="M1568 4048l21 6-11-2-21-5z"/><path class="f" d="M1548 4037l20 11-11-1-20-8z"/><path class="j" d="M1529 4023l19 14-11 2-19-10z"/><path class="n" d="M1511 4007l18 16-11 6-17-13z"/><path class="r" d="M1496 3990l15 17-10 9-16-14z"/><path class="v" d="M1482 3972l14 18-11 12-14-14z"/><path class="z" d="M1470 3956l12 16-11 16-11-13z"/><path class="D" d="M1460 3941l10 15-10 19-10-12z"/><path class="C" d="M1778 3901l14-28-9 16-13 25z"/><path class="w" d="M1763 3931l15-30-8 13-16 26z"/><path class="r" d="M1745 3960l18-29-9 9-18 26z"/><path class="m" d="M1727 3987l18-27-9 6-18 25z"/><path class="i" d="M1706 4012l21-25-9 4-21 21z"/><path class="e" d="M1685 4032l21-20-9 0-21 18z"/><path class="b" d="M1664 4047l21-15-9-2-21 14z"/><path class="a" d="M1619 4060l23-4 22-9-9-3-22 9-22 3z"/><path class="b" d="M1598 4057l21 3-8-4-22-2z"/><path class="d" d="M1577 4048l21 9-9-3-21-6z"/><path class="g" d="M1557 4035l20 13-9 0-20-11z"/><path class="k" d="M1538 4018l19 17-9 2-19-14z"/><path class="p" d="M1520 3999l18 19-9 5-18-16z"/><path class="u" d="M1505 3978l15 21-9 8-15-17z"/><path class="z" d="M1491 3957l14 21-9 12-14-18z"/><path class="E" d="M1479 3937l12 20-9 15-12-16z"/><path class="I" d="M1469 3920l10 17-9 19-10-15z"/><path class="Q" d="M1811 3828l10-25-7 20-10 23z"/><path class="L" d="M1800 3858l11-30-7 18-12 27z"/><path class="F" d="M1786 3889l14-31-8 15-14 28z"/><path class="z" d="M1770 3922l16-33-8 12-15 30z"/><path class="t" d="M1753 3954l17-32-7 9-18 29z"/><path class="o" d="M1734 3985l19-31-8 6-18 27z"/><path class="j" d="M1714 4011l20-26-7 2-21 25z"/><path class="f" d="M1693 4033l21-22-8 1-21 20z"/><path class="c" d="M1671 4050l22-17-8-1-21 15z"/><path class="a" d="M1627 4062l22-3 22-9-7-3-22 9-23 4z"/><path class="b" d="M1605 4058l22 4-8-2-21-3z"/><path class="e" d="M1584 4048l21 10-7-1-21-9z"/><path class="h" d="M1564 4033l20 15-7 0-20-13z"/><path class="m" d="M1545 4013l19 20-7 2-19-17z"/><path class="r" d="M1528 3991l17 22-7 5-18-19z"/><path class="x" d="M1512 3967l16 24-8 8-15-21z"/><path class="D" d="M1498 3943l14 24-7 11-14-21z"/><path class="I" d="M1486 3921l12 22-7 14-12-20z"/><path class="N" d="M1477 3901l9 20-7 16-10-17z"/></g>
<path class="ax" d="M1821 4018l-344 83-262-108 0-215M1477 4101l11 5M1477 4101l-12 3M1649 4060l11 4M1346 4047l-12 3M1821 4018l11 5M1215 3993l-12 3M1215 3993l-12 3M1215 3790l-12 3"/></g><text x="150" y="417.3">−5</text><text class="te" x="145.2" y="417.2">−5</text><text x="167.2" y="413.2">0</text><text class="te" x="132.1" y="411.8">0</text><text x="184.4" y="409">5</text><text class="te" x="119" y="406.4">5</text><text class="te" x="118.5" y="401.2">0</text><text class="te" x="118.5" y="380.9">5</text><text class="tm lb" x="174.6" y="421.9">x<tspan class="sub" dy="2.2">1</tspan></text><text class="tm lb" x="123.6" y="422.4">x<tspan class="sub" dy="2.2">2</tspan></text><text class="tm lb" transform="translate(106.2 388.6) rotate(-90)">F15( x<tspan class="sub" dy="2.2">1</tspan><tspan dy="-2.2"> , x</tspan><tspan class="sub" dy="2.2">2</tspan><tspan dy="-2.2"> )</tspan></text><text class="te" x="118.9" y="372.6">× 10<tspan class="sup" dy="-2.2">5</tspan></text></g>
<g id="F16"><g transform="scale(.1)"><path class="gr" d="M2437 4108l-257-107M2180 4001l0-236M2437 4108l338-80M2775 4028l0-236M2606 4068l-257-107M2349 3961l0-236M2309 4055l337-80M2646 3975l0-237M2775 4028l-257-107M2518 3921l0-236M2180 4001l338-80M2518 3921l0-236M2180 3960l338-80M2518 3880l257 107M2180 3906l338-80M2518 3826l257 107M2180 3852l338-80M2518 3772l257 107M2180 3798l338-80M2518 3718l257 107"/>
<g class="ct"><path class="a" d="M2609 3995l-13-3-2-3 9-3 11 2 8 3 2 3-15 1M2352 4043l-11-2-8-3-2-3 15-1 13 3 2 3-9 3"/><path class="f" d="M2651 4013l-46-1-44-6-19-7-5-4-1-8 3-6 6-4 21-7 27 0 29 5 31 10 13 7 10 9-2 7-9 4-14 1M2389 4059l-37-1-41-10-16-7-12-9-4-4 2-6 9-5 14-1 27 0 50 4 24 6 13 8 2 5-2 6-8 7-21 7"/><path class="l" d="M2680 3988l22 17 4 9-4 6-10 3-50 1-165-9-13 19-13 15-12 8-18 8-27 3-19 0-32-5-34-8M2275 4041l-22-17-4-9 4-6 10-3 50-1 164 10 14-20 13-15 12-8 18-8 27-3 19 0 32 5 34 9"/><path class="r" d="M2719 4004l13 13 7 11 1 7-11 3-122-6-69 0-35 8-45 25-19 7-28 3-18 0-52-7M2236 4025l-13-13-7-11-1-7 11-3 122 6 69 0 35-8 45-25 19-7 28-3 18 0 52 7"/><path class="w" d="M2690 4048l-65-7-64 1-37 7-17 7-32 16-19 7-28 3-18 0-50-6M2750 4018l18 12M2205 4011l-18-12M2265 3981l65 7 64-1 37-7 17-7 32-16 19-7 28-3 18 0 50 6"/><path class="C" d="M2663 4055l-47-5-48 2-34 8-49 24-24 5-35 0-49-6M2292 3974l47 5 48-2 34-8 49-24 24-5 35 0 49 6"/><path class="I" d="M2480 4098l-36-2-52-7M2631 4062l-40 0-25 4-18 7-24 14M2324 3967l40 0 25-4 18-7 24-14M2475 3931l36 2 52 7"/><path class="N" d="M2455 4104l-47-8M2500 3925l47 8"/><path class="T" d="M2442 4107l-15-3M2513 3922l15 3"/></g>
<g class="sf"><path class="Q" d="M2514 3721l17-23-13-13-17 23z"/><path class="K" d="M2497 3736l17-15-13-13-17 15z"/><path class="G" d="M2480 3745l17-9-13-13-17 9z"/><path class="F" d="M2463 3749l17-4-13-13-17 5z"/><path class="G" d="M2446 3751l17-2-13-12-17 2z"/><path class="H" d="M2429 3751l17 0-13-12-16 1z"/><path class="I" d="M2413 3752l16-1-12-11-17 1z"/><path class="J" d="M2396 3754l17-2-13-11-17 2z"/><path class="K" d="M2379 3757l17-3-13-11-17 3z"/><path class="J" d="M2362 3763l17-6-13-11-17 6z"/><path class="I" d="M2345 3770l17-7-13-11-17 8z"/><path class="G" d="M2328 3780l17-10-13-10-17 10z"/><path class="E" d="M2311 3791l17-11-13-10-17 11z"/><path class="B" d="M2294 3803l17-12-13-10-17 12z"/><path class="x" d="M2277 3815l17-12-13-10-17 13z"/><path class="u" d="M2260 3826l17-11-13-9-16 11z"/><path class="r" d="M2244 3835l16-9-12-9-17 9z"/><path class="q" d="M2227 3839l17-4-13-9-17 5z"/><path class="r" d="M2210 3837l17 2-13-8-17-2z"/><path class="w" d="M2193 3827l17 10-13-8-17-10z"/><path class="M" d="M2527 3736l17-23-13-15-17 23z"/><path class="G" d="M2510 3750l17-14-13-15-17 15z"/><path class="D" d="M2493 3759l17-9-13-14-17 9z"/><path class="C" d="M2459 3764l17-1 17-4-13-14-17 4-17 2z"/><path class="E" d="M2442 3765l17-1-13-13-17 0z"/><path class="F" d="M2425 3765l17 0-13-14-16 1z"/><path class="G" d="M2408 3767l17-2-12-13-17 2z"/><path class="H" d="M2375 3775l17-5 16-3-12-13-17 3-17 6z"/><path class="G" d="M2358 3782l17-7-13-12-17 7z"/><path class="E" d="M2341 3791l17-9-13-12-17 10z"/><path class="C" d="M2324 3802l17-11-13-11-17 11z"/><path class="y" d="M2307 3814l17-12-13-11-17 12z"/><path class="v" d="M2290 3826l17-12-13-11-17 12z"/><path class="s" d="M2273 3837l17-11-13-11-17 11z"/><path class="q" d="M2256 3845l17-8-13-11-16 9z"/><path class="p" d="M2240 3849l16-4-12-10-17 4z"/><path class="q" d="M2223 3847l17 2-13-10-17-2z"/><path class="u" d="M2206 3836l17 11-13-10-17-10z"/><path class="I" d="M2540 3752l17-23-13-16-17 23z"/><path class="C" d="M2523 3766l17-14-13-16-17 14z"/><path class="z" d="M2506 3774l17-8-13-16-17 9z"/><path class="y" d="M2489 3778l17-4-13-15-17 4z"/><path class="z" d="M2472 3779l17-1-13-15-17 1z"/><path class="A" d="M2455 3779l17 0-13-15-17 1z"/><path class="C" d="M2438 3779l17 0-13-14-17 0z"/><path class="D" d="M2421 3780l17-1-13-14-17 2z"/><path class="E" d="M2388 3788l16-5 17-3-13-13-16 3-17 5z"/><path class="D" d="M2371 3795l17-7-13-13-17 7z"/><path class="B" d="M2354 3804l17-9-13-13-17 9z"/><path class="z" d="M2337 3815l17-11-13-13-17 11z"/><path class="w" d="M2320 3826l17-11-13-13-17 12z"/><path class="t" d="M2303 3838l17-12-13-12-17 12z"/><path class="q" d="M2286 3848l17-10-13-12-17 11z"/><path class="n" d="M2269 3856l17-8-13-11-17 8z"/><path class="m" d="M2252 3860l17-4-13-11-16 4z"/><path class="o" d="M2235 3858l17 2-12-11-17-2z"/><path class="s" d="M2219 3847l16 11-12-11-17-11z"/><path class="E" d="M2552 3768l17-22-12-17-17 23z"/><path class="y" d="M2536 3782l16-14-12-16-17 14z"/><path class="v" d="M2519 3789l17-7-13-16-17 8z"/><path class="u" d="M2502 3793l17-4-13-15-17 4z"/><path class="v" d="M2485 3794l17-1-13-15-17 1z"/><path class="w" d="M2468 3794l17 0-13-15-17 0z"/><path class="y" d="M2451 3794l17 0-13-15-17 0z"/><path class="z" d="M2434 3795l17-1-13-15-17 1z"/><path class="A" d="M2383 3808l17-6 17-5 17-2-13-15-17 3-16 5-17 7z"/><path class="y" d="M2367 3817l16-9-12-13-17 9z"/><path class="w" d="M2350 3828l17-11-13-13-17 11z"/><path class="t" d="M2333 3839l17-11-13-13-17 11z"/><path class="q" d="M2316 3850l17-11-13-13-17 12z"/><path class="n" d="M2299 3860l17-10-13-12-17 10z"/><path class="l" d="M2282 3868l17-8-13-12-17 8z"/><path class="k" d="M2265 3872l17-4-13-12-17 4z"/><path class="l" d="M2248 3869l17 3-13-12-17-2z"/><path class="q" d="M2231 3858l17 11-13-11-16-11z"/><path class="z" d="M2565 3784l17-22-13-16-17 22z"/><path class="t" d="M2548 3798l17-14-13-16-16 14z"/><path class="r" d="M2532 3805l16-7-12-16-17 7z"/><path class="q" d="M2515 3808l17-3-13-16-17 4z"/><path class="r" d="M2498 3809l17-1-13-15-17 1z"/><path class="s" d="M2481 3809l17 0-13-15-17 0z"/><path class="u" d="M2464 3808l17 1-13-15-17 0z"/><path class="w" d="M2447 3809l17-1-13-14-17 1z"/><path class="x" d="M2413 3816l17-5 17-2-13-14-17 2-17 5z"/><path class="w" d="M2396 3822l17-6-13-14-17 6z"/><path class="v" d="M2379 3830l17-8-13-14-16 9z"/><path class="s" d="M2363 3840l16-10-12-13-17 11z"/><path class="q" d="M2346 3851l17-11-13-12-17 11z"/><path class="n" d="M2329 3863l17-12-13-12-17 11z"/><path class="k" d="M2312 3873l17-10-13-13-17 10z"/><path class="i" d="M2295 3880l17-7-13-13-17 8z"/><path class="h" d="M2278 3883l17-3-13-12-17 4z"/><path class="j" d="M2261 3880l17 3-13-11-17-3z"/><path class="n" d="M2244 3869l17 11-13-11-17-11z"/><path class="v" d="M2578 3800l17-22-13-16-17 22z"/><path class="p" d="M2561 3813l17-13-13-16-17 14z"/><path class="m" d="M2527 3823l17-3 17-7-13-15-16 7-17 3z"/><path class="n" d="M2511 3823l16 0-12-15-17 1z"/><path class="o" d="M2494 3823l17 0-13-14-17 0z"/><path class="q" d="M2477 3822l17 1-13-14-17-1z"/><path class="s" d="M2460 3823l17-1-13-14-17 1z"/><path class="t" d="M2409 3835l17-6 17-4 17-2-13-14-17 2-17 5-17 6z"/><path class="r" d="M2392 3843l17-8-13-13-17 8z"/><path class="p" d="M2375 3853l17-10-13-13-16 10z"/><path class="n" d="M2358 3863l17-10-12-13-17 11z"/><path class="k" d="M2342 3874l16-11-12-12-17 12z"/><path class="h" d="M2325 3884l17-10-13-11-17 10z"/><path class="f" d="M2291 3894l17-3 17-7-13-11-17 7-17 3z"/><path class="g" d="M2274 3891l17 3-13-11-17-3z"/><path class="l" d="M2257 3879l17 12-13-11-17-11z"/><path class="r" d="M2591 3814l17-22-13-14-17 22z"/><path class="l" d="M2574 3827l17-13-13-14-17 13z"/><path class="i" d="M2540 3837l17-3 17-7-13-14-17 7-17 3z"/><path class="j" d="M2523 3837l17 0-13-14-16 0z"/><path class="l" d="M2507 3836l16 1-12-14-17 0z"/><path class="n" d="M2490 3835l17 1-13-13-17-1z"/><path class="p" d="M2473 3835l17 0-13-13-17 1z"/><path class="q" d="M2422 3846l17-5 17-4 17-2-13-12-17 2-17 4-17 6z"/><path class="p" d="M2405 3854l17-8-13-11-17 8z"/><path class="n" d="M2388 3864l17-10-13-11-17 10z"/><path class="k" d="M2371 3874l17-10-13-11-17 10z"/><path class="h" d="M2354 3885l17-11-13-11-16 11z"/><path class="f" d="M2338 3894l16-9-12-11-17 10z"/><path class="d" d="M2304 3904l17-3 17-7-13-10-17 7-17 3z"/><path class="e" d="M2287 3900l17 4-13-10-17-3z"/><path class="j" d="M2270 3889l17 11-13-9-17-12z"/><path class="n" d="M2604 3827l17-21-13-14-17 22z"/><path class="i" d="M2587 3840l17-13-13-13-17 13z"/><path class="f" d="M2553 3849l17-3 17-6-13-13-17 7-17 3z"/><path class="g" d="M2536 3849l17 0-13-12-17 0z"/><path class="i" d="M2519 3847l17 2-13-12-16-1z"/><path class="k" d="M2502 3846l17 1-12-11-17-1z"/><path class="m" d="M2486 3846l16 0-12-11-17 0z"/><path class="n" d="M2469 3847l17-1-13-11-17 2z"/><path class="o" d="M2435 3857l17-6 17-4-13-10-17 4-17 5z"/><path class="m" d="M2418 3864l17-7-13-11-17 8z"/><path class="k" d="M2401 3873l17-9-13-10-17 10z"/><path class="i" d="M2384 3884l17-11-13-9-17 10z"/><path class="f" d="M2367 3894l17-10-13-10-17 11z"/><path class="d" d="M2350 3903l17-9-13-9-16 9z"/><path class="b" d="M2317 3912l17-2 16-7-12-9-17 7-17 3z"/><path class="i" d="M2283 3896l17 12-13-8-17-11z"/><path class="k" d="M2617 3838l17-21-13-11-17 21z"/><path class="f" d="M2600 3850l17-12-13-11-17 13z"/><path class="d" d="M2583 3857l17-7-13-10-17 6z"/><path class="c" d="M2566 3859l17-2-13-11-17 3z"/><path class="e" d="M2549 3858l17 1-13-10-17 0z"/><path class="g" d="M2532 3857l17 1-13-9-17-2z"/><path class="i" d="M2515 3855l17 2-13-10-17-1z"/><path class="k" d="M2498 3855l17 0-13-9-16 0z"/><path class="l" d="M2482 3856l16-1-12-9-17 1z"/><path class="m" d="M2448 3865l17-6 17-3-13-9-17 4-17 6z"/><path class="l" d="M2431 3872l17-7-13-8-17 7z"/><path class="j" d="M2414 3881l17-9-13-8-17 9z"/><path class="h" d="M2397 3891l17-10-13-8-17 11z"/><path class="e" d="M2380 3901l17-10-13-7-17 10z"/><path class="c" d="M2363 3910l17-9-13-7-17 9z"/><path class="h" d="M2296 3902l17 13-13-7-17-12z"/><path class="i" d="M2630 3847l16-21-12-9-17 21z"/><path class="d" d="M2613 3859l17-12-13-9-17 12z"/><path class="b" d="M2579 3867l17-2 17-6-13-9-17 7-17 2z"/><path class="c" d="M2562 3866l17 1-13-8-17-1z"/><path class="e" d="M2545 3864l17 2-13-8-17-1z"/><path class="h" d="M2528 3863l17 1-13-7-17-2z"/><path class="j" d="M2511 3862l17 1-13-8-17 0z"/><path class="k" d="M2494 3863l17-1-13-7-16 1z"/><path class="l" d="M2461 3871l16-5 17-3-12-7-17 3-17 6z"/><path class="k" d="M2444 3878l17-7-13-6-17 7z"/><path class="c" d="M2325 3919l17 4-13-4-16-4z"/><path class="h" d="M2309 3906l16 13-12-4-17-13z"/><path class="h" d="M2642 3853l17-20-13-7-16 21z"/><path class="c" d="M2626 3865l16-12-12-6-17 12z"/><path class="g" d="M2541 3868l17 2-13-6-17-1z"/><path class="i" d="M2524 3867l17 1-13-5-17-1z"/><path class="k" d="M2507 3867l17 0-13-5-17 1z"/><path class="l" d="M2473 3875l17-5 17-3-13-4-17 3-16 5z"/><path class="k" d="M2457 3882l16-7-12-4-17 7z"/><path class="j" d="M2440 3890l17-8-13-4-17 9z"/><path class="d" d="M2338 3920l17 5-13-2-17-4z"/><path class="i" d="M2321 3907l17 13-13-1-16-13z"/><path class="h" d="M2655 3858l17-20-13-5-17 20z"/><path class="c" d="M2638 3870l17-12-13-5-16 12z"/><path class="e" d="M2571 3873l17 2-13-3-17-2z"/><path class="j" d="M2537 3870l17 1-13-3-17-1z"/><path class="l" d="M2520 3870l17 0-13-3-17 0z"/><path class="m" d="M2486 3877l17-5 17-2-13-3-17 3-17 5z"/><path class="l" d="M2469 3883l17-6-13-2-16 7z"/><path class="k" d="M2453 3892l16-9-12-1-17 8z"/><path class="f" d="M2351 3920l17 5-13 0-17-5z"/><path class="k" d="M2334 3907l17 13-13 0-17-13z"/><path class="i" d="M2668 3861l17-20-13-3-17 20z"/><path class="d" d="M2651 3872l17-11-13-3-17 12z"/><path class="d" d="M2601 3877l16 1-12-2-17-1z"/><path class="f" d="M2584 3874l17 3-13-2-17-2z"/><path class="i" d="M2567 3872l17 2-13-1-17-2z"/><path class="k" d="M2550 3870l17 2-13-1-17-1z"/><path class="m" d="M2533 3871l17-1-13 0-17 0z"/><path class="o" d="M2499 3877l17-4 17-2-13-1-17 2-17 5z"/><path class="n" d="M2482 3883l17-6-13 0-17 6z"/><path class="m" d="M2465 3891l17-8-13 0-16 9z"/><path class="f" d="M2381 3923l17-1 17-5-13 1-17 6-17 1z"/><path class="i" d="M2364 3918l17 5-13 2-17-5z"/><path class="n" d="M2347 3905l17 13-13 2-17-13z"/><path class="j" d="M2681 3862l17-20-13-1-17 20z"/><path class="e" d="M2664 3873l17-11-13-1-17 11z"/><path class="f" d="M2613 3877l17 2-13-1-16-1z"/><path class="h" d="M2596 3874l17 3-12 0-17-3z"/><path class="k" d="M2580 3871l16 3-12 0-17-2z"/><path class="n" d="M2563 3870l17 1-13 1-17-2z"/><path class="q" d="M2495 3881l17-6 17-4-13 2-17 4-17 6z"/><path class="p" d="M2478 3889l17-8-13 2-17 8z"/><path class="n" d="M2461 3898l17-9-13 2-17 9z"/><path class="i" d="M2394 3920l17-1 17-5-13 3-17 5-17 1z"/><path class="l" d="M2377 3914l17 6-13 3-17-5z"/><path class="r" d="M2360 3901l17 13-13 4-17-13z"/><path class="l" d="M2694 3862l17-19-13-1-17 20z"/><path class="g" d="M2677 3873l17-11-13 0-17 11z"/><path class="f" d="M2643 3878l17-1-13 1-17 1z"/><path class="h" d="M2626 3876l17 2-13 1-17-2z"/><path class="k" d="M2609 3873l17 3-13 1-17-3z"/><path class="n" d="M2592 3870l17 3-13 1-16-3z"/><path class="p" d="M2576 3868l16 2-12 1-17-1z"/><path class="t" d="M2508 3878l17-5 17-4-13 2-17 4-17 6z"/><path class="s" d="M2491 3886l17-8-13 3-17 8z"/><path class="q" d="M2474 3894l17-8-13 3-17 9z"/><path class="m" d="M2407 3915l16 0 17-5-12 4-17 5-17 1z"/><path class="p" d="M2390 3909l17 6-13 5-17-6z"/><path class="v" d="M2373 3895l17 14-13 5-17-13z"/><path class="n" d="M2707 3861l17-19-13 1-17 19z"/><path class="j" d="M2690 3872l17-11-13 1-17 11z"/><path class="h" d="M2673 3876l17-4-13 1-17 4z"/><path class="i" d="M2656 3877l17-1-13 1-17 1z"/><path class="k" d="M2639 3874l17 3-13 1-17-2z"/><path class="n" d="M2622 3871l17 3-13 2-17-3z"/><path class="q" d="M2605 3868l17 3-13 2-17-3z"/><path class="s" d="M2588 3865l17 3-13 2-16-2z"/><path class="v" d="M2572 3865l16 0-12 3-17-1z"/><path class="x" d="M2521 3875l17-6-13 4-17 5z"/><path class="w" d="M2504 3882l17-7-13 3-17 8z"/><path class="u" d="M2487 3890l17-8-13 4-17 8z"/><path class="s" d="M2470 3898l17-8-13 4-17 9z"/><path class="r" d="M2453 3905l17-7-13 5-17 7z"/><path class="q" d="M2436 3910l17-5-13 5-17 5z"/><path class="r" d="M2419 3910l17 0-13 5-16 0z"/><path class="t" d="M2403 3904l16 6-12 5-17-6z"/><path class="z" d="M2386 3890l17 14-13 5-17-14z"/><path class="q" d="M2720 3861l16-19-12 0-17 19z"/><path class="l" d="M2703 3871l17-10-13 0-17 11z"/><path class="k" d="M2686 3875l17-4-13 1-17 4z"/><path class="n" d="M2652 3873l17 2-13 2-17-3z"/><path class="q" d="M2635 3869l17 4-13 1-17-3z"/><path class="t" d="M2618 3865l17 4-13 2-17-3z"/><path class="w" d="M2601 3863l17 2-13 3-17-3z"/><path class="y" d="M2584 3862l17 1-13 2-16 0z"/><path class="A" d="M2534 3871l17-5-13 3-17 6z"/><path class="z" d="M2517 3878l17-7-13 4-17 7z"/><path class="y" d="M2500 3886l17-8-13 4-17 8z"/><path class="w" d="M2483 3894l17-8-13 4-17 8z"/><path class="v" d="M2466 3900l17-6-13 4-17 7z"/><path class="u" d="M2449 3905l17-5-13 5-17 5z"/><path class="v" d="M2432 3905l17 0-13 5-17 0z"/><path class="y" d="M2415 3899l17 6-13 5-16-6z"/><path class="E" d="M2398 3884l17 15-12 5-17-14z"/><path class="s" d="M2732 3860l17-18-13 0-16 19z"/><path class="o" d="M2716 3871l16-11-12 1-17 10z"/><path class="m" d="M2699 3875l17-4-13 0-17 4z"/><path class="n" d="M2682 3874l17 1-13 0-17 0z"/><path class="q" d="M2665 3871l17 3-13 1-17-2z"/><path class="t" d="M2648 3868l17 3-13 2-17-4z"/><path class="w" d="M2631 3864l17 4-13 1-17-4z"/><path class="z" d="M2614 3861l17 3-13 1-17-2z"/><path class="B" d="M2597 3860l17 1-13 2-17-1z"/><path class="E" d="M2547 3868l16-5 17-3-13 3-16 3-17 5z"/><path class="D" d="M2530 3875l17-7-13 3-17 7z"/><path class="C" d="M2513 3882l17-7-13 3-17 8z"/><path class="A" d="M2496 3890l17-8-13 4-17 8z"/><path class="z" d="M2479 3896l17-6-13 4-17 6z"/><path class="y" d="M2462 3900l17-4-13 4-17 5z"/><path class="z" d="M2445 3900l17 0-13 5-17 0z"/><path class="C" d="M2428 3894l17 6-13 5-17-6z"/><path class="I" d="M2411 3879l17 15-13 5-17-15z"/><path class="u" d="M2745 3861l17-18-13-1-17 18z"/><path class="q" d="M2728 3871l17-10-13-1-16 11z"/><path class="p" d="M2711 3875l17-4-12 0-17 4z"/><path class="s" d="M2678 3871l17 3-13 0-17-3z"/><path class="v" d="M2661 3867l17 4-13 0-17-3z"/><path class="y" d="M2644 3863l17 4-13 1-17-4z"/><path class="C" d="M2627 3860l17 3-13 1-17-3z"/><path class="H" d="M2559 3866l17-4 17-3-13 1-17 3-16 5z"/><path class="G" d="M2542 3872l17-6-12 2-17 7z"/><path class="F" d="M2526 3880l16-8-12 3-17 7z"/><path class="E" d="M2509 3887l17-7-13 2-17 8z"/><path class="C" d="M2475 3897l17-4 17-6-13 3-17 6-17 4z"/><path class="D" d="M2458 3896l17 1-13 3-17 0z"/><path class="G" d="M2441 3890l17 6-13 4-17-6z"/><path class="M" d="M2424 3875l17 15-13 4-17-15z"/><path class="w" d="M2758 3864l17-18-13-3-17 18z"/><path class="r" d="M2741 3874l17-10-13-3-17 10z"/><path class="q" d="M2724 3877l17-3-13-3-17 4z"/><path class="r" d="M2707 3876l17 1-13-2-16-1z"/><path class="u" d="M2691 3873l16 3-12-2-17-3z"/><path class="x" d="M2674 3868l17 5-13-2-17-4z"/><path class="B" d="M2657 3864l17 4-13-1-17-4z"/><path class="E" d="M2640 3861l17 3-13-1-17-3z"/><path class="G" d="M2623 3859l17 2-13-1-17-2z"/><path class="I" d="M2606 3859l17 0-13-1-17 1z"/><path class="J" d="M2589 3861l17-2-13 0-17 3z"/><path class="K" d="M2572 3866l17-5-13 1-17 4z"/><path class="J" d="M2555 3872l17-6-13 0-17 6z"/><path class="I" d="M2538 3879l17-7-13 0-16 8z"/><path class="H" d="M2522 3886l16-7-12 1-17 7z"/><path class="G" d="M2505 3892l17-6-13 1-17 6z"/><path class="F" d="M2488 3895l17-3-13 1-17 4z"/><path class="G" d="M2471 3894l17 1-13 2-17-1z"/><path class="K" d="M2454 3887l17 7-13 2-17-6z"/><path class="Q" d="M2437 3872l17 15-13 3-17-15z"/></g>
<path class="ax" d="M2775 4028l-338 80-257-107 0-236M2437 4108l11 5M2437 4108l-12 3M2606 4068l11 5M2309 4055l-12 2M2775 4028l11 5M2180 4001l-12 3M2180 3960l-12 3M2180 3906l-12 3M2180 3852l-12 3M2180 3798l-12 3"/></g><text x="246" y="418">−1</text><text class="te" x="241.2" y="417.9">−1</text><text x="262.9" y="414">0</text><text class="te" x="228.4" y="412.6">0</text><text x="279.8" y="410">1</text><text class="te" x="215.5" y="407.2">1</text><text class="te" x="215" y="397.9">−4</text><text class="te" x="215" y="392.5">−2</text><text class="te" x="215" y="387.1">0</text><text class="te" x="215" y="381.7">2</text><text class="tm lb" x="270.4" y="422.8">x<tspan class="sub" dy="2.2">1</tspan></text><text class="tm lb" x="219.9" y="423.2">x<tspan class="sub" dy="2.2">2</tspan></text><text class="tm lb" transform="translate(200.3 388.3) rotate(-90)">F16( x<tspan class="sub" dy="2.2">1</tspan><tspan dy="-2.2"> , x</tspan><tspan class="sub" dy="2.2">2</tspan><tspan dy="-2.2"> )</tspan></text></g>
<g id="F17"><g transform="scale(.1)"><path class="gr" d="M3387 4068l-253-94M3134 3974l0-220M3387 4068l332-73M3719 3995l0-220M3553 4032l-253-94M3300 3938l0-220M3260 4021l333-73M3593 3948l0-220M3719 3995l-253-94M3466 3901l0-220M3134 3974l332-73M3466 3901l0-220M3134 3974l332-73M3466 3901l253 94M3134 3756l332-73M3466 3683l253 94"/>
<g class="ct"><path class="j" d="M3697 3987l-94 9-98 6-275 8"/><path class="s" d="M3669 4006l-204 20-166 10"/><path class="C" d="M3561 4030l-221 21"/><path class="M" d="M3470 4050l-104 10"/><path class="V" d="M3390 4067l-4 1"/></g>
<g class="sf"><path class="a" d="M3337 3935l20-4-15-8-21 4z"/><path class="b" d="M3254 3949l83-14-16-8-83 14z"/><path class="c" d="M3212 3954l42-5-16-8-42 5z"/><path class="d" d="M3171 3957l41-3-16-8-41 4z"/><path class="e" d="M3150 3958l21-1-16-7-21 1z"/><path class="a" d="M3311 3950l21-3-16-8-21 4z"/><path class="b" d="M3249 3958l62-8-16-7-62 9z"/><path class="c" d="M3207 3962l42-4-16-6-42 4z"/><path class="d" d="M3186 3963l21-1-16-6-20 1z"/><path class="e" d="M3166 3964l20-1-15-6-21 1z"/><path class="b" d="M3264 3963l42-4-16-6-41 5z"/><path class="c" d="M3223 3966l41-3-15-5-42 4z"/><path class="d" d="M3202 3968l21-2-16-4-21 1z"/><path class="e" d="M3181 3968l21 0-16-5-20 1z"/><path class="d" d="M3239 3969l20-2-15-2-21 1z"/><path class="e" d="M3218 3969l21 0-16-3-21 2z"/><path class="f" d="M3197 3970l21-1-16-1-21 0z"/><path class="g" d="M3213 3969l21 0-16 0-21 1z"/><path class="f" d="M3270 3967l42-1-16 0-41 2z"/><path class="g" d="M3250 3967l20 0-15 1-21 1z"/><path class="h" d="M3229 3967l21 0-16 2-21 0z"/><path class="f" d="M3328 3964l20 0-15 1-21 1z"/><path class="g" d="M3307 3965l21-1-16 2-21 0z"/><path class="h" d="M3286 3964l21 1-16 1-21 1z"/><path class="i" d="M3265 3964l21 0-16 3-20 0z"/><path class="j" d="M3245 3963l20 1-15 3-21 0z"/><path class="g" d="M3364 3963l21-1-16 1-21 1z"/><path class="h" d="M3343 3963l21 0-16 1-20 0z"/><path class="i" d="M3323 3962l20 1-15 1-21 1z"/><path class="j" d="M3302 3962l21 0-16 3-21-1z"/><path class="k" d="M3281 3961l21 1-16 2-21 0z"/><path class="l" d="M3260 3960l21 1-16 3-20-1z"/><path class="h" d="M3380 3962l21 0-16 0-21 1z"/><path class="i" d="M3359 3961l21 1-16 1-21 0z"/><path class="k" d="M3338 3960l21 1-16 2-20-1z"/><path class="l" d="M3318 3959l20 1-15 2-21 0z"/><path class="m" d="M3297 3958l21 1-16 3-21-1z"/><path class="n" d="M3276 3956l21 2-16 3-21-1z"/><path class="i" d="M3417 3961l20 0-15 1-21 0z"/><path class="k" d="M3375 3959l21 1-16 2-21-1z"/><path class="l" d="M3354 3958l21 1-16 2-21-1z"/><path class="n" d="M3333 3956l21 2-16 2-20-1z"/><path class="o" d="M3313 3954l20 2-15 3-21-1z"/><path class="p" d="M3292 3951l21 3-16 4-21-2z"/><path class="i" d="M3453 3959l21 1-16 1-21 0z"/><path class="k" d="M3432 3958l21 1-16 2-20 0z"/><path class="l" d="M3412 3957l20 1-15 3-21-1z"/><path class="m" d="M3391 3955l21 2-16 3-21-1z"/><path class="n" d="M3370 3953l21 2-16 4-21-1z"/><path class="p" d="M3349 3951l21 2-16 5-21-2z"/><path class="q" d="M3329 3948l20 3-16 5-20-2z"/><path class="s" d="M3308 3945l21 3-16 6-21-3z"/><path class="g" d="M3552 3959l21 0-16 1-21 0z"/><path class="h" d="M3531 3958l21 1-16 1-21 1z"/><path class="i" d="M3510 3957l21 1-16 3-20 0z"/><path class="j" d="M3490 3956l20 1-15 4-21-1z"/><path class="k" d="M3469 3955l21 1-16 4-21-1z"/><path class="m" d="M3448 3953l21 2-16 4-21-1z"/><path class="n" d="M3427 3951l21 2-16 5-20-1z"/><path class="o" d="M3407 3948l20 3-15 6-21-2z"/><path class="q" d="M3386 3946l21 2-16 7-21-2z"/><path class="r" d="M3365 3942l21 4-16 7-21-2z"/><path class="t" d="M3344 3939l21 3-16 9-20-3z"/><path class="v" d="M3324 3935l20 4-15 9-21-3z"/><path class="e" d="M3651 3955l21-1-16 2-21 1z"/><path class="f" d="M3630 3955l21 0-16 2-21 1z"/><path class="g" d="M3609 3955l21 0-16 3-20 1z"/><path class="h" d="M3589 3954l20 1-15 4-21 0z"/><path class="i" d="M3568 3953l21 1-16 5-21 0z"/><path class="j" d="M3547 3952l21 1-16 6-21-1z"/><path class="k" d="M3526 3950l21 2-16 6-21-1z"/><path class="m" d="M3505 3948l21 2-16 7-20-1z"/><path class="n" d="M3485 3946l20 2-15 8-21-1z"/><path class="o" d="M3464 3944l21 2-16 9-21-2z"/><path class="q" d="M3443 3941l21 3-16 9-21-2z"/><path class="r" d="M3422 3937l21 4-16 10-20-3z"/><path class="t" d="M3402 3934l20 3-15 11-21-2z"/><path class="v" d="M3381 3930l21 4-16 12-21-4z"/><path class="x" d="M3360 3925l21 5-16 12-21-3z"/><path class="z" d="M3339 3921l21 4-16 14-20-4z"/><path class="g" d="M3667 3948l20 1-15 5-21 1z"/><path class="h" d="M3646 3948l21 0-16 7-21 0z"/><path class="i" d="M3625 3947l21 1-16 7-21 0z"/><path class="k" d="M3604 3945l21 2-16 8-20-1z"/><path class="l" d="M3584 3943l20 2-15 9-21-1z"/><path class="m" d="M3563 3941l21 2-16 10-21-1z"/><path class="o" d="M3542 3939l21 2-16 11-21-2z"/><path class="p" d="M3521 3936l21 3-16 11-21-2z"/><path class="r" d="M3501 3933l20 3-16 12-20-2z"/><path class="s" d="M3480 3929l21 4-16 13-21-2z"/><path class="u" d="M3459 3926l21 3-16 15-21-3z"/><path class="w" d="M3438 3922l21 4-16 15-21-4z"/><path class="x" d="M3417 3917l21 5-16 15-20-3z"/><path class="z" d="M3397 3912l20 5-15 17-21-4z"/><path class="B" d="M3376 3907l21 5-16 18-21-5z"/><path class="D" d="M3355 3902l21 5-16 18-21-4z"/><path class="j" d="M3682 3937l21 2-16 10-20-1z"/><path class="l" d="M3662 3936l20 1-15 11-21 0z"/><path class="m" d="M3641 3934l21 2-16 12-21-1z"/><path class="n" d="M3620 3932l21 2-16 13-21-2z"/><path class="p" d="M3599 3929l21 3-16 13-20-2z"/><path class="q" d="M3579 3926l20 3-15 14-21-2z"/><path class="s" d="M3558 3923l21 3-16 15-21-2z"/><path class="t" d="M3537 3919l21 4-16 16-21-3z"/><path class="v" d="M3516 3915l21 4-16 17-20-3z"/><path class="x" d="M3496 3910l20 5-15 18-21-4z"/><path class="z" d="M3475 3906l21 4-16 19-21-3z"/><path class="B" d="M3454 3901l21 5-16 20-21-4z"/><path class="D" d="M3433 3895l21 6-16 21-21-5z"/><path class="F" d="M3412 3890l21 5-16 22-20-5z"/><path class="H" d="M3392 3884l20 6-15 22-21-5z"/><path class="J" d="M3371 3877l21 7-16 23-21-5z"/><path class="n" d="M3698 3923l21 2-16 14-21-2z"/><path class="p" d="M3677 3920l21 3-16 14-20-1z"/><path class="q" d="M3657 3917l20 3-15 16-21-2z"/><path class="s" d="M3636 3914l21 3-16 17-21-2z"/><path class="t" d="M3615 3910l21 4-16 18-21-3z"/><path class="v" d="M3594 3906l21 4-16 19-20-3z"/><path class="x" d="M3574 3902l20 4-15 20-21-3z"/><path class="z" d="M3553 3897l21 5-16 21-21-4z"/><path class="B" d="M3532 3892l21 5-16 22-21-4z"/><path class="D" d="M3511 3887l21 5-16 23-20-5z"/><path class="F" d="M3491 3881l20 6-15 23-21-4z"/><path class="H" d="M3470 3875l21 6-16 25-21-5z"/><path class="J" d="M3449 3869l21 6-16 26-21-6z"/><path class="M" d="M3428 3862l21 7-16 26-21-5z"/><path class="O" d="M3407 3855l21 7-16 28-20-6z"/><path class="Q" d="M3387 3848l20 7-15 29-21-7z"/></g>
<path class="ax" d="M3719 3995l-332 73-253-94 0-220M3387 4068l11 4M3387 4068l-12 3M3553 4032l11 4M3260 4021l-11 3M3719 3995l11 4M3134 3974l-12 3M3134 3974l-12 3M3134 3756l-12 3"/></g><text x="341" y="414">−5</text><text class="te" x="336.2" y="413.9">−5</text><text x="357.6" y="410.3">0</text><text class="te" x="323.5" y="409.2">0</text><text x="374.2" y="406.7">5</text><text class="te" x="310.9" y="404.5">5</text><text class="te" x="310.4" y="399.3">0</text><text class="te" x="310.4" y="377.5">500</text><text class="tm lb" x="365" y="418.6">x<tspan class="sub" dy="2.2">1</tspan></text><text class="tm lb" x="315.1" y="419.8">x<tspan class="sub" dy="2.2">2</tspan></text><text class="tm lb" transform="translate(293.5 386.4) rotate(-90)">F17( x<tspan class="sub" dy="2.2">1</tspan><tspan dy="-2.2"> , x</tspan><tspan class="sub" dy="2.2">2</tspan><tspan dy="-2.2"> )</tspan></text></g>
<g id="F18"><g transform="scale(.1)"><path class="gr" d="M547 4648l-249-94M298 4554l0-227M489 4646l328-70M817 4576l0-227M679 4620l-249-94M430 4526l0-227M389 4608l328-70M717 4538l0-227M810 4592l-249-94M561 4498l0-227M289 4570l328-70M617 4500l0-227M265 4561l328-70M593 4491l249 94M265 4481l328-70M593 4411l249 94M265 4402l328-70M593 4332l249 94"/>
<g class="ct"><path class="i" d="M767 4601l-46 3-37 5-30 8-20 12M495 4648l-14-15-16-12-28-13-48-15-66-10M585 4493l30 23 30 13 39 11 72 12"/><path class="q" d="M741 4607l-47 6-32 11M478 4641l-23-17-29-14-37-12-50-9M596 4492l24 18 28 13 37 12 52 10"/><path class="z" d="M464 4636l-16-11-29-13-38-12-29-6M611 4498l15 10 30 14 37 11 29 7"/><path class="H" d="M450 4631l-14-8-22-10-49-14M625 4503l36 18 47 13"/><path class="Q" d="M434 4625l-25-11-28-9M644 4510l21 10 24 7"/></g>
<g class="sf"><path class="m" d="M590 4459l12-60-9 21-13 48z"/><path class="e" d="M577 4487l13-28-10 9-12 21z"/><path class="b" d="M565 4500l12-13-9 2-13 9z"/><path class="a" d="M464 4522l25-4 50-10 13-3 13-5-10-2-13 4-50 10-38 3z"/><path class="b" d="M325 4545l13 0-10-4-13 0z"/><path class="c" d="M275 4559l12-7 13-4 25-3-10-4-25-1-12 2-13 5z"/><path class="q" d="M599 4449l13-73-10 23-12 60z"/><path class="g" d="M587 4484l12-35-9 10-13 28z"/><path class="c" d="M574 4501l13-17-10 3-12 13z"/><path class="a" d="M461 4529l37-7 51-11 12-3 13-7-9-1-13 5-51 11-50 7z"/><path class="b" d="M284 4567l25-11 26-6-10-5-25 3-13 4-12 7z"/><path class="u" d="M609 4437l12-84-9 23-13 73z"/><path class="i" d="M596 4480l13-43-10 12-12 35z"/><path class="d" d="M584 4501l12-21-9 4-13 17z"/><path class="a" d="M470 4534l88-19 13-5 13-9-10 0-13 7-12 3-51 11-37 7z"/><path class="b" d="M319 4564l13-5-10-7-13 4z"/><path class="a" d="M294 4571l12-3 13-4-10-8-25 11z"/><path class="y" d="M618 4426l13-94-10 21-12 84z"/><path class="l" d="M606 4476l12-50-9 11-13 43z"/><path class="e" d="M593 4500l13-24-10 4-12 21z"/><path class="b" d="M581 4512l12-12-9 1-13 9z"/><path class="a" d="M467 4540l88-19 13-3 13-6-10-2-25 8-88 18z"/><path class="a" d="M303 4568l13 4-10-4-12 3z"/><path class="C" d="M628 4417l13-101-10 16-13 94z"/><path class="n" d="M615 4472l13-55-10 9-12 50z"/><path class="f" d="M603 4500l12-28-9 4-13 24z"/><path class="c" d="M590 4514l13-14-10 0-12 12z"/><path class="a" d="M464 4547l101-22 13-4 12-7-9-2-13 6-13 3-100 22z"/><path class="a" d="M326 4572l12 1-9-3-13 2z"/><path class="b" d="M313 4560l13 12-10 0-13-4z"/><path class="F" d="M638 4411l12-107-9 12-13 101z"/><path class="p" d="M625 4470l13-59-10 6-13 55z"/><path class="g" d="M612 4500l13-30-10 2-12 28z"/><path class="c" d="M600 4516l12-16-9 0-13 14z"/><path class="a" d="M474 4550l101-22 12-4 13-8-10-2-12 7-13 4-101 22z"/><path class="b" d="M335 4567l13 7-10-1-12-1z"/><path class="d" d="M323 4545l12 22-9 5-13-12z"/><path class="H" d="M647 4408l13-109-10 5-12 107z"/><path class="q" d="M635 4469l12-61-9 3-13 59z"/><path class="h" d="M622 4501l13-32-10 1-13 30z"/><path class="d" d="M609 4518l13-17-10-1-12 16z"/><path class="b" d="M597 4527l12-9-9-2-13 8z"/><path class="a" d="M471 4557l101-22 25-8-10-3-25 7-101 22z"/><path class="a" d="M357 4573l13 3-10-2-12 0z"/><path class="c" d="M345 4559l12 14-9 1-13-7z"/><path class="h" d="M332 4525l13 34-10 8-12-22z"/><path class="I" d="M657 4410l12-108-9-3-13 109z"/><path class="r" d="M644 4471l13-61-10-2-12 61z"/><path class="i" d="M632 4504l12-33-9-2-13 32z"/><path class="d" d="M619 4521l13-17-10-3-13 17z"/><path class="b" d="M606 4530l13-9-10-3-12 9z"/><path class="a" d="M480 4560l101-21 25-9-9-3-25 8-101 22z"/><path class="b" d="M367 4569l13 8-10-1-13-3z"/><path class="e" d="M354 4548l13 21-10 4-12-14z"/><path class="l" d="M342 4501l12 47-9 11-13-34z"/><path class="I" d="M666 4416l13-105-10-9-12 108z"/><path class="r" d="M654 4475l12-59-9-6-13 61z"/><path class="i" d="M641 4507l13-32-10-4-12 33z"/><path class="d" d="M629 4524l12-17-9-3-13 17z"/><path class="b" d="M616 4533l13-9-10-3-13 9z"/><path class="a" d="M477 4567l114-25 25-9-10-3-25 9-113 24z"/><path class="a" d="M389 4577l13 3-10-2-12-1z"/><path class="c" d="M376 4565l13 12-9 0-13-8z"/><path class="h" d="M364 4535l12 30-9 4-13-21z"/><path class="p" d="M351 4476l13 59-10 13-12-47z"/><path class="H" d="M676 4426l13-99-10-16-13 105z"/><path class="q" d="M663 4482l13-56-10-10-12 59z"/><path class="h" d="M651 4512l12-30-9-7-13 32z"/><path class="d" d="M638 4528l13-16-10-5-12 17z"/><path class="b" d="M626 4537l12-9-9-4-13 9z"/><path class="a" d="M474 4573l126-27 26-9-10-4-25 9-126 27z"/><path class="b" d="M399 4576l12 6-9-2-13-3z"/><path class="e" d="M386 4559l13 17-10 1-13-12z"/><path class="j" d="M373 4522l13 37-10 6-12-30z"/><path class="u" d="M361 4450l12 72-9 13-13-59z"/><path class="E" d="M686 4440l12-91-9-22-13 99z"/><path class="p" d="M673 4491l13-51-10-14-13 56z"/><path class="h" d="M660 4519l13-28-10-9-12 30z"/><path class="d" d="M648 4533l12-14-9-7-13 16z"/><path class="b" d="M635 4541l13-8-10-5-12 9z"/><path class="a" d="M484 4577l126-28 25-8-9-4-26 9-126 27z"/><path class="c" d="M408 4575l13 8-10-1-12-6z"/><path class="f" d="M396 4554l12 21-9 1-13-17z"/><path class="m" d="M383 4511l13 43-10 5-13-37z"/><path class="z" d="M370 4427l13 84-10 11-12-72z"/><path class="B" d="M695 4457l13-82-10-26-12 91z"/><path class="n" d="M683 4502l12-45-9-17-13 51z"/><path class="g" d="M670 4526l13-24-10-11-13 28z"/><path class="c" d="M657 4538l13-12-10-7-12 14z"/><path class="b" d="M645 4545l12-7-9-5-13 8z"/><path class="a" d="M481 4583l139-30 25-8-10-4-25 8-139 30z"/><path class="b" d="M430 4585l13 3-10-3-12-2z"/><path class="c" d="M418 4575l12 10-9-2-13-8z"/><path class="g" d="M405 4551l13 24-10 0-12-21z"/><path class="o" d="M393 4501l12 50-9 3-13-43z"/><path class="D" d="M380 4408l13 93-10 10-13-84z"/><path class="x" d="M705 4475l12-70-9-30-13 82z"/><path class="l" d="M692 4513l13-38-10-18-12 45z"/><path class="f" d="M680 4533l12-20-9-11-13 24z"/><path class="c" d="M667 4544l13-11-10-7-13 12z"/><path class="a" d="M490 4586l139-29 25-7 13-6-10-6-12 7-25 8-139 30z"/><path class="d" d="M427 4576l13 12-10-3-12-10z"/><path class="h" d="M415 4549l12 27-9-1-13-24z"/><path class="q" d="M402 4495l13 54-10 2-12-50z"/><path class="G" d="M390 4394l12 101-9 6-13-93z"/><path class="s" d="M714 4493l13-58-10-30-12 70z"/><path class="j" d="M702 4524l12-31-9-18-13 38z"/><path class="a" d="M487 4593l127-27 50-12-10-4-37 9-139 30z"/><path class="d" d="M437 4579l13 12-10-3-13-12z"/><path class="i" d="M424 4550l13 29-10-3-12-27z"/><path class="r" d="M412 4493l12 57-9-1-13-54z"/><path class="J" d="M399 4387l13 106-10 2-12-101z"/><path class="o" d="M724 4510l13-46-10-29-13 58z"/><path class="g" d="M711 4534l13-24-10-17-12 31z"/><path class="a" d="M484 4598l38-7 139-31-10-3-138 30-38 7z"/><path class="d" d="M447 4583l12 12-9-4-13-12z"/><path class="i" d="M434 4554l13 29-10-4-13-29z"/><path class="s" d="M421 4496l13 58-10-4-12-57z"/><path class="K" d="M409 4388l12 108-9-3-13-106z"/><path class="k" d="M734 4526l12-35-9-27-13 46z"/><path class="a" d="M494 4602l101-21 63-14-10-4-138 31-26 4z"/><path class="d" d="M456 4588l13 11-10-4-12-12z"/><path class="i" d="M444 4561l12 27-9-5-13-29z"/><path class="r" d="M431 4504l13 57-10-7-13-58z"/><path class="J" d="M418 4397l13 107-10-8-12-108z"/><path class="h" d="M743 4538l13-25-10-22-12 35z"/><path class="a" d="M491 4607l25-3 139-31-10-3-138 30-26 3z"/><path class="d" d="M466 4595l12 10-9-6-13-11z"/><path class="h" d="M453 4570l13 25-10-7-12-27z"/><path class="q" d="M441 4516l12 54-9-9-13-57z"/><path class="I" d="M428 4412l13 104-10-12-13-107z"/><path class="f" d="M753 4547l12-17-9-17-13 25z"/><path class="a" d="M501 4611l25-4 126-27-10-4-126 28-25 3z"/><path class="g" d="M463 4580l12 22-9-7-13-25z"/><path class="p" d="M450 4531l13 49-10-10-12-54z"/><path class="F" d="M438 4434l12 97-9-15-13-104z"/><path class="d" d="M762 4552l13-10-10-12-12 17z"/><path class="a" d="M498 4616l12 0 13-2 126-27-10-4-126 27-12 1-13-1z"/><path class="f" d="M472 4592l13 18-10-8-12-22z"/><path class="m" d="M460 4549l12 43-9-12-13-49z"/><path class="C" d="M447 4461l13 88-10-18-12-97z"/><path class="c" d="M759 4559l13-5 12-6-9-6-13 10-12 5z"/><path class="a" d="M507 4621l25-4 114-25-10-3-113 25-13 2-12 0z"/><path class="b" d="M495 4618l12 3-9-5-13-6z"/><path class="d" d="M482 4604l13 14-10-8-13-18z"/><path class="k" d="M469 4568l13 36-10-12-12-43z"/><path class="x" d="M457 4492l12 76-9-19-13-88z"/><path class="d" d="M781 4555l13-5-10-2-12 6z"/><path class="c" d="M756 4565l25-10-9-1-25 9z"/><path class="a" d="M504 4625l13 1 12-3 51-11 63-16-10-1-113 25-13 1-12-3z"/><path class="h" d="M479 4588l13 27-10-11-13-36z"/><path class="t" d="M466 4523l13 65-10-20-12-76z"/><path class="d" d="M778 4562l26-12-10 0-25 10z"/><path class="c" d="M766 4569l12-7-9-2-13 5z"/><path class="a" d="M514 4631l12-1 51-11 50-16-9-1-38 10-51 11-12 3-13-1z"/><path class="b" d="M501 4626l13 5-10-6-12-10z"/><path class="f" d="M489 4606l12 20-9-11-13-27z"/><path class="o" d="M476 4554l13 52-10-18-13-65z"/><path class="e" d="M801 4556l12-7-9 1-13 5z"/><path class="d" d="M788 4565l13-9-10-1-13 7z"/><path class="c" d="M775 4574l13-9-10-3-12 7z"/><path class="a" d="M712 4590l13 0-10-1-12 2z"/><path class="b" d="M687 4588l25 2-9 1-25 1z"/><path class="c" d="M649 4595l13-4 13-2 12-1-9 4-26 4-12 3z"/><path class="b" d="M612 4612l25-12-10 3-25 9z"/><path class="a" d="M511 4634l12 2 51-11 12-3 26-10-10 0-25 7-51 11-12 1-13-5z"/><path class="k" d="M486 4583l12 38-9-15-13-52z"/><path class="e" d="M810 4561l13-11-10-1-12 7z"/><path class="d" d="M798 4572l12-11-9-5-13 9z"/><path class="b" d="M785 4581l13-9-10-7-13 9z"/><path class="a" d="M735 4587l12 3-9 0-13 0z"/><path class="b" d="M722 4583l13 4-10 3-13 0z"/><path class="c" d="M709 4579l13 4-10 7-12-1z"/><path class="d" d="M697 4576l12 3-9 10-13-1z"/><path class="e" d="M646 4591l13-7 13-5 12-3 13 0-10 12-12 1-13 2-25 9z"/><path class="d" d="M634 4600l12-9-9 9-13 6z"/><path class="c" d="M621 4609l13-9-10 6-12 6z"/><path class="b" d="M609 4617l12-8-9 3-13 5z"/><path class="a" d="M520 4641l13-1 50-12 13-5 13-6-10 0-25 8-38 8-13 3-12-2z"/><path class="b" d="M508 4634l12 7-9-7-13-13z"/><path class="g" d="M495 4608l13 26-10-13-12-38z"/><path class="e" d="M820 4568l12-14-9-4-13 11z"/><path class="c" d="M807 4580l13-12-10-7-12 11z"/><path class="b" d="M795 4588l12-8-9-8-13 9z"/><path class="a" d="M769 4589l13 2 13-3-10-7-13 7-12 2z"/><path class="b" d="M757 4583l12 6-9 1-13 0z"/><path class="c" d="M744 4574l13 9-10 7-12-3z"/><path class="e" d="M732 4564l12 10-9 13-13-4z"/><path class="g" d="M719 4556l13 8-10 19-13-4z"/><path class="i" d="M706 4551l13 5-10 23-12-3z"/><path class="j" d="M669 4561l12-7 13-4 12 1-9 25-13 0-12 3-13 5z"/><path class="i" d="M656 4573l13-12-10 23-13 7z"/><path class="g" d="M643 4586l13-13-10 18-12 9z"/><path class="e" d="M631 4599l12-13-9 14-13 9z"/><path class="d" d="M618 4612l13-13-10 10-12 8z"/><path class="b" d="M606 4622l12-10-9 5-13 6z"/><path class="a" d="M517 4644l13 2 50-11 13-5 13-8-10 1-25 8-38 9-13 1-12-7z"/><path class="e" d="M505 4629l12 15-9-10-13-26z"/><path class="d" d="M829 4579l13-15-10-10-12 14z"/><path class="b" d="M817 4589l12-10-9-11-13 12z"/><path class="a" d="M792 4587l12 5 13-3-10-9-12 8-13 3z"/><path class="c" d="M779 4576l13 11-10 4-13-2z"/><path class="e" d="M766 4561l13 15-10 13-12-6z"/><path class="h" d="M754 4543l12 18-9 22-13-9z"/><path class="k" d="M741 4526l13 17-10 31-12-10z"/><path class="n" d="M729 4513l12 13-9 38-13-8z"/><path class="q" d="M716 4505l13 8-10 43-13-5z"/><path class="r" d="M703 4503l13 2-10 46-12-1z"/><path class="s" d="M691 4509l12-6-9 47-13 4z"/><path class="r" d="M678 4521l13-12-10 45-12 7z"/><path class="p" d="M666 4538l12-17-9 40-13 12z"/><path class="m" d="M653 4558l13-20-10 35-13 13z"/><path class="j" d="M640 4579l13-21-10 28-12 13z"/><path class="g" d="M628 4599l12-20-9 20-13 13z"/><path class="d" d="M615 4616l13-17-10 13-12 10z"/><path class="b" d="M603 4628l12-12-9 6-13 8z"/><path class="a" d="M527 4651l12-2 38-8 13-5 13-8-10 2-13 5-50 11-13-2z"/><path class="c" d="M514 4644l13 7-10-7-12-15z"/></g>
<path class="ax" d="M842 4585l-328 70-249-94 0-227M547 4648l11 4M489 4646l-11 2M679 4620l11 4M389 4608l-12 2M810 4592l12 4M289 4570l-12 3M265 4561l-12 3M265 4481l-12 3M265 4402l-12 2"/></g><text x="57" y="472">−4</text><text class="te" x="46.4" y="471.7">−4</text><text x="70.2" y="469.2">0</text><text class="te" x="36.4" y="467.9">0</text><text x="83.3" y="466.4">4</text><text class="te" x="26.4" y="464.1">4</text><text class="te" x="23.5" y="458">0</text><text class="te" x="23.5" y="450">1</text><text class="te" x="23.5" y="442.1">2</text><text class="tm lb" x="77.6" y="477.5">x<tspan class="sub" dy="2.2">1</tspan></text><text class="tm lb" x="28" y="478.5">x<tspan class="sub" dy="2.2">2</tspan></text><text class="tm lb" transform="translate(11.2 444.8) rotate(-90)">F18( x<tspan class="sub" dy="2.2">1</tspan><tspan dy="-2.2"> , x</tspan><tspan class="sub" dy="2.2">2</tspan><tspan dy="-2.2"> )</tspan></text><text class="te" x="23.9" y="429.6">× 10<tspan class="sup" dy="-2.2">8</tspan></text></g>
<g id="F19"><g transform="scale(.1)"><path class="gr" d="M1463 4655l-248-110M1215 4545l0-220M1463 4655l327-83M1790 4572l0-220M1627 4614l-249-110M1378 4504l0-220M1339 4600l327-83M1666 4517l0-220M1790 4572l-248-110M1542 4462l0-220M1215 4545l327-83M1542 4462l0-220M1215 4545l327-83M1542 4462l248 110M1215 4435l327-83M1542 4352l248 110M1215 4325l327-83M1542 4242l248 110"/>
<g class="ct"><path class="h" d="M1502 4556l-10-2-1-3 9 1 4 3-2 1"/><path class="p" d="M1500 4558l-10-3-4-4 6-2 11 3 5 4-8 2"/><path class="x" d="M1508 4559l-18-3-6-3-1-3 6-2 13 2 9 5 0 3-3 1"/><path class="F" d="M1512 4560l-11 0-13-3-8-5-1-3 10-3 15 3 11 6 1 2-4 3"/><path class="N" d="M1512 4563l-14-2-13-3-9-5-2-5 3-3 9-1 22 5 9 4 4 4-2 4-7 2"/></g>
<g class="sf"><path class="V" d="M1252 4342l327-84-37-16-327 83z"/><path class="V" d="M1290 4358l326-83-37-17-327 84z"/><path class="V" d="M1300 4363l144-37 23-4 20-7 140-35-11-5-326 83z"/><path class="V" d="M1474 4325l10-5 10-4 137-35-4-1-137 34-19 7z"/><path class="U" d="M1468 4327l6-2-3-4-7 2z"/><path class="V" d="M1304 4364l144-36 10-2 10 1-4-4-20 3-144 37z"/><path class="V" d="M1485 4326l6-6 7-2 136-35-3-2-137 35-13 5z"/><path class="U" d="M1481 4330l4-4-4-5-3 2z"/><path class="T" d="M1468 4333l7 2 6-5-3-7-7 4-6 0z"/><path class="U" d="M1465 4331l3 2-3-6-4-1z"/><path class="V" d="M1308 4366l144-37 6 0 7 2-4-5-13 2-144 36z"/><path class="V" d="M1492 4327l3-4 6-3 137-35-4-2-136 35-10 5z"/><path class="U" d="M1488 4332l4-5-4-4-3 3z"/><path class="S" d="M1485 4340l3-8-3-6-4 4z"/><path class="Q" d="M1482 4346l3-6-4-10-3 3z"/><path class="P" d="M1475 4348l4 1 3-3-4-13-3 2-3 0z"/><path class="Q" d="M1472 4343l3 5-3-13-4-2z"/><path class="S" d="M1469 4337l3 6-4-10-3-2z"/><path class="U" d="M1465 4333l4 4-4-6-3-2z"/><path class="V" d="M1311 4368l145-37 6 0 3 2-3-4-10 0-144 37z"/><path class="V" d="M1499 4326l6-5 137-35-4-1-137 35-6 3z"/><path class="U" d="M1495 4332l4-6-4-3-3 4z"/><path class="S" d="M1492 4342l3-10-3-5-4 5z"/><path class="P" d="M1489 4355l3-13-4-10-3 8z"/><path class="M" d="M1486 4366l3-11-4-15-3 6z"/><path class="V" d="M1315 4369l144-36 7 2-4-4-6 0-145 37z"/><path class="V" d="M1506 4326l3-3 38-10 98-25-3-2-98 25-42 12z"/><path class="U" d="M1502 4330l4-4-4-3-3 3z"/><path class="S" d="M1499 4339l3-9-3-4-4 6z"/><path class="P" d="M1496 4355l3-16-4-7-3 10z"/><path class="K" d="M1493 4374l3-19-4-13-3 13z"/><path class="U" d="M1466 4335l4 3-4-3-3-2z"/><path class="V" d="M1319 4371l144-36 3 0-3-2-4 0-144 36z"/><path class="V" d="M1509 4328l4-3 38-10 98-25-4-2-98 25-38 10-3 3z"/><path class="U" d="M1506 4334l3-6-3-2-4 4z"/><path class="R" d="M1503 4347l3-13-4-4-3 9z"/><path class="M" d="M1500 4368l3-21-4-8-3 16z"/><path class="V" d="M1323 4373l144-36 3 1-4-3-3 0-144 36z"/><path class="V" d="M1513 4330l3-3 39-11 98-25-4-1-98 25-38 10-4 3z"/><path class="T" d="M1510 4338l3-8-4-2-3 6z"/><path class="Q" d="M1506 4353l4-15-4-4-3 13z"/><path class="p" d="M1487 4414l3 28-4-22-3-22z"/><path class="V" d="M1326 4374l145-35 3 1-4-2-3-1-144 36z"/><path class="V" d="M1517 4332l3-3 39-11 98-25-4-2-98 25-39 11-3 3z"/><path class="T" d="M1513 4340l4-8-4-2-3 8z"/><path class="P" d="M1510 4356l3-16-3-2-4 15z"/><path class="d" d="M1494 4451l3 11-4-10-3-10z"/><path class="l" d="M1491 4422l3 29-4-9-3-28z"/><path class="V" d="M1330 4376l144-36-3-1-145 35z"/><path class="V" d="M1520 4334l4-3 38-12 98-24-3-2-98 25-39 11-3 3z"/><path class="T" d="M1517 4341l3-7-3-2-4 8z"/><path class="P" d="M1514 4356l3-15-4-1-3 16z"/><path class="d" d="M1498 4445l3 11-4 6-3-11z"/><path class="l" d="M1494 4418l4 27-4 6-3-29z"/><path class="V" d="M1334 4378l144-36-4-2-144 36z"/><path class="V" d="M1524 4335l3-3 39-11 98-25-4-1-98 24-38 12-4 3z"/><path class="T" d="M1521 4341l3-6-4-1-3 7z"/><path class="Q" d="M1518 4353l3-12-4 0-3 15z"/><path class="j" d="M1501 4427l4 8 3-10-4 18-3 13-3-11z"/><path class="p" d="M1498 4404l3 23-3 18-4-27z"/><path class="V" d="M1337 4379l145-36-4-1-144 36z"/><path class="V" d="M1528 4336l3-3 39-10 98-25-4-2-98 25-39 11-3 3z"/><path class="U" d="M1525 4340l3-4-4-1-3 6z"/><path class="R" d="M1521 4349l4-9-4 1-3 12z"/><path class="s" d="M1505 4403l3 6 4-8-4 24-3 10-4-8z"/><path class="V" d="M1341 4381l144-36-3-2-145 36z"/><path class="V" d="M1532 4336l42-12 98-24-4-2-98 25-39 10-3 3z"/><path class="U" d="M1528 4340l4-4-4 0-3 4z"/><path class="S" d="M1525 4346l3-6-3 0-4 9z"/><path class="V" d="M1345 4383l144-37-4-1-144 36z"/><path class="V" d="M1532 4340l7-4 136-35-3-1-137 35-7 5z"/><path class="U" d="M1529 4343l3-3-4 0-3 6z"/><path class="S" d="M1526 4349l3-6-4 3-3 9z"/><path class="V" d="M1349 4384l147-37-4-1-3 0-144 37z"/><path class="V" d="M1533 4342l9-4 137-35-4-2-136 35-7 4-3 3z"/><path class="T" d="M1529 4346l4-4-4 1-3 6z"/><path class="V" d="M1352 4386l151-38-4 0-6 0-144 36z"/><path class="V" d="M1543 4340l140-36-4-1-140 36z"/><path class="V" d="M1533 4344l7-3-4-1-7 6z"/><path class="V" d="M1356 4387l151-37-4-2-151 38z"/><path class="V" d="M1540 4344l146-38-3-2-147 39z"/><path class="V" d="M1530 4347l7-2-4-1-6 4z"/><path class="V" d="M1360 4389l157-39-4-1-13 2-144 36z"/><path class="V" d="M1389 4402l326-83-29-13-139 36-20 6-23 4-144 37z"/><path class="V" d="M1426 4418l327-82-38-17-326 83z"/><path class="V" d="M1463 4435l327-83-37-16-327 82z"/></g>
<path class="ax" d="M1790 4572l-327 83-248-110 0-220M1463 4655l11 5M1463 4655l-11 3M1627 4614l11 4M1339 4600l-11 3M1790 4572l11 5M1215 4545l-12 3M1215 4545l-12 3M1215 4435l-12 3M1215 4325l-12 3"/></g><text x="148.6" y="472.7">−5</text><text class="te" x="143.8" y="472.6">−5</text><text x="165" y="468.6">0</text><text class="te" x="131.4" y="467.1">0</text><text x="181.3" y="464.4">5</text><text class="te" x="119" y="461.6">5</text><text class="te" x="118.5" y="456.4">−0.2</text><text class="te" x="118.5" y="445.4">−0.1</text><text class="te" x="118.5" y="434.4">0</text><text class="tm lb" x="172.4" y="477.4">x<tspan class="sub" dy="2.2">1</tspan></text><text class="tm lb" x="123" y="477.7">x<tspan class="sub" dy="2.2">2</tspan></text><text class="tm lb" transform="translate(100.4 443.5) rotate(-90)">F19( x<tspan class="sub" dy="2.2">1</tspan><tspan dy="-2.2"> , x</tspan><tspan class="sub" dy="2.2">2</tspan><tspan dy="-2.2"> )</tspan></text></g>
<g id="F20"><g transform="scale(.1)"><path class="gr" d="M2446 4634l-266-96M2180 4538l0-196M2446 4634l349-75M2795 4559l0-196M2620 4596l-265-96M2355 4500l0-196M2313 4586l349-75M2662 4511l0-196M2795 4559l-266-96M2529 4463l0-196M2180 4538l349-75M2529 4463l0-196M2180 4538l349-75M2529 4463l266 96M2180 4440l349-75M2529 4365l266 96M2180 4342l349-75M2529 4267l266 96"/>
<g class="ct"><path class="f" d="M2506 4539l-2-1 2-1 6 0-6 2"/><path class="n" d="M2508 4540l-8 0 0-2 15-1 0 1-7 2"/><path class="w" d="M2505 4541l-7-1-2-1 4-2 14-2 5 2-14 4"/><path class="E" d="M2507 4541l-12 0-2-2 5-3 18-1 6 2-4 2-11 2"/><path class="N" d="M2513 4542l-14 1-11-2 3-3 5-2 19-3 9 2 2 2-13 5"/></g>
<g class="sf"><path class="V" d="M2220 4356l349-75-40-14-349 75z"/><path class="V" d="M2260 4371l349-75-40-15-349 75z"/><path class="V" d="M2286 4380l181-37 168-38-26-9-349 75z"/><path class="V" d="M2518 4332l119-26-2-1-119 26z"/><path class="V" d="M2476 4342l39-9-2-1-39 9z"/><path class="V" d="M2288 4381l185-38-2-1-185 38z"/><path class="V" d="M2524 4332l115-25-2-1-115 25z"/><path class="V" d="M2517 4333l3-1-2 0-3 1z"/><path class="V" d="M2499 4340l14-6-2-1-14 4z"/><path class="U" d="M2489 4342l10-2-2-3-10 3z"/><path class="V" d="M2475 4344l14-2-2-2-14 3z"/><path class="V" d="M2290 4382l105-23 76-14-2-1-76 15-105 22z"/><path class="V" d="M2522 4333l119-25-2-1-119 25z"/><path class="V" d="M2512 4338l7-4-2-1-7 3z"/><path class="U" d="M2505 4344l7-6-2-2-7 3z"/><path class="T" d="M2498 4349l7-5-2-5-7 2z"/><path class="S" d="M2494 4349l4 0-2-8-4 1z"/><path class="T" d="M2487 4347l7 2-2-7-7 1z"/><path class="U" d="M2470 4347l10-1 7 1-2-4-17 3z"/><path class="V" d="M2292 4383l105-23 73-13-2-1-73 13-105 23z"/><path class="V" d="M2528 4333l115-25-2 0-115 24z"/><path class="V" d="M2517 4339l7-5-2-1-7 3z"/><path class="U" d="M2514 4343l3-4-2-3-3 2z"/><path class="T" d="M2510 4348l4-5-2-5-4 3z"/><path class="R" d="M2507 4355l3-7-2-7-3 3z"/><path class="P" d="M2503 4360l4-5-2-11-4 3z"/><path class="O" d="M2496 4362l4 1 3-3-2-13-7 2z"/><path class="P" d="M2493 4359l3 3-2-13-3-1z"/><path class="R" d="M2489 4354l4 5-2-11-4-1z"/><path class="S" d="M2486 4351l3 3-2-7-3-1z"/><path class="T" d="M2482 4349l4 2-2-5-4 0z"/><path class="U" d="M2472 4348l10 1-2-3-10 1z"/><path class="V" d="M2294 4383l105-22 73-13-2-1-73 13-105 23z"/><path class="V" d="M2523 4338l7-4 11-3 104-22-2-1-104 23-18 5z"/><path class="U" d="M2519 4342l4-4-2-2-4 3z"/><path class="S" d="M2516 4350l3-8-2-3-3 4z"/><path class="Q" d="M2512 4360l4-10-2-7-4 5z"/><path class="M" d="M2509 4372l3-12-2-12-3 7z"/><path class="P" d="M2488 4358l3 8-2-12-3-3z"/><path class="R" d="M2484 4353l4 5-2-7-4-2z"/><path class="T" d="M2477 4350l4 1 3 2-2-4-7-1z"/><path class="V" d="M2296 4384l105-23 73-11-2-2-73 13-105 22z"/><path class="V" d="M2525 4340l7-5 11-3 104-22-2-1-104 22-11 3-7 4z"/><path class="T" d="M2521 4347l4-7-2-2-4 4z"/><path class="Q" d="M2518 4358l3-11-2-5-3 8z"/><path class="R" d="M2483 4354l3 4-2-5-3-2z"/><path class="T" d="M2476 4352l7 2-2-3-7-1z"/><path class="V" d="M2298 4385l105-23 73-10-2-2-73 11-105 23z"/><path class="V" d="M2530 4338l4-2 11-3 104-23-2 0-104 22-15 5z"/><path class="U" d="M2527 4342l3-4-2-1-3 3z"/><path class="S" d="M2523 4351l4-9-2-2-4 7z"/><path class="U" d="M2405 4363l73-10-2-1-73 10z"/><path class="V" d="M2300 4385l105-22-2-1-105 23z"/><path class="V" d="M2532 4339l4-2 11-3 104-23-2-1-104 23-11 3-4 2z"/><path class="U" d="M2529 4344l3-5-2-1-3 4z"/><path class="R" d="M2525 4353l4-9-2-2-4 9z"/><path class="U" d="M2407 4364l73-10-2-1-73 10z"/><path class="V" d="M2302 4386l105-22-2-1-105 22z"/><path class="V" d="M2534 4339l4-2 11-3 104-22-2-1-104 23-11 3-4 2z"/><path class="U" d="M2531 4344l3-5-2 0-3 5z"/><path class="d" d="M2506 4437l4 6 3-9-2 8-3 10-4-7z"/><path class="j" d="M2503 4419l3 18-2 8-3-20z"/><path class="U" d="M2409 4364l73-9-2-1-73 10z"/><path class="V" d="M2304 4387l105-23-2 0-105 22z"/><path class="V" d="M2540 4338l115-25-2-1-115 25z"/><path class="U" d="M2533 4343l3-3-2-1-3 5z"/><path class="l" d="M2512 4419l3-7-2 22-3 9z"/><path class="k" d="M2508 4415l4 4-2 24-4-6z"/><path class="p" d="M2505 4401l3 14-2 22-3-18z"/><path class="U" d="M2411 4365l73-9-2-1-73 9z"/><path class="V" d="M2306 4388l105-23-2-1-105 23z"/><path class="V" d="M2542 4338l115-25-2 0-115 25z"/><path class="U" d="M2535 4342l3-2-2 0-3 3z"/><path class="U" d="M2413 4366l73-9-2-1-73 9z"/><path class="V" d="M2308 4388l105-22-2-1-105 23z"/><path class="V" d="M2537 4342l18-6 104-22-2-1-104 23-11 2-7 4z"/><path class="T" d="M2488 4357l3 0-2 0-3 0z"/><path class="U" d="M2415 4366l73-9-2 0-73 9z"/><path class="V" d="M2310 4389l105-23-2 0-105 22z"/><path class="V" d="M2545 4340l116-25-2-1-115 25z"/><path class="V" d="M2535 4343l4-1-2 0-4 2z"/><path class="U" d="M2417 4367l73-10-2 0-73 9z"/><path class="V" d="M2312 4390l105-23-2-1-105 23z"/><path class="V" d="M2547 4340l116-25-2 0-116 25z"/><path class="V" d="M2540 4342l4-1-2 0-3 1z"/><path class="T" d="M2492 4357l3 0-2 0-3 0z"/><path class="U" d="M2419 4368l73-11-2 0-73 10z"/><path class="V" d="M2314 4390l105-22-2-1-105 23z"/><path class="V" d="M2546 4342l119-26-2-1-119 26z"/><path class="V" d="M2539 4343l3 0-2-1-3 1z"/><path class="U" d="M2421 4369l73-12-2 0-73 11z"/><path class="V" d="M2316 4391l105-22-2-1-105 22z"/><path class="V" d="M2551 4342l116-25-2-1-116 25z"/><path class="V" d="M2517 4351l3-1-2 0-3 1z"/><path class="V" d="M2318 4392l105-23 73-12-2 0-73 12-105 22z"/><path class="V" d="M2366 4409l349-75-48-17-130 28-38 12-76 12-105 23z"/><path class="V" d="M2406 4424l349-75-40-15-349 75z"/><path class="V" d="M2446 4438l349-75-40-14-349 75z"/></g>
<path class="ax" d="M2795 4559l-349 75-266-96 0-196M2446 4634l11 4M2446 4634l-12 3M2620 4596l12 5M2313 4586l-12 3M2795 4559l11 4M2180 4538l-12 3M2180 4538l-12 3M2180 4440l-12 3M2180 4342l-12 3"/></g><text x="246.9" y="470.6">−5</text><text class="te" x="242.1" y="470.5">−5</text><text x="264.3" y="466.9">0</text><text class="te" x="228.8" y="465.7">0</text><text x="281.8" y="463.1">5</text><text class="te" x="215.5" y="460.9">5</text><text class="te" x="215" y="455.7">−0.2</text><text class="te" x="215" y="445.9">−0.1</text><text class="te" x="215" y="436.1">0</text><text class="tm lb" x="271.8" y="475.2">x<tspan class="sub" dy="2.2">1</tspan></text><text class="tm lb" x="220.3" y="476.3">x<tspan class="sub" dy="2.2">2</tspan></text><text class="tm lb" transform="translate(196.9 444) rotate(-90)">F20( x<tspan class="sub" dy="2.2">1</tspan><tspan dy="-2.2"> , x</tspan><tspan class="sub" dy="2.2">2</tspan><tspan dy="-2.2"> )</tspan></text></g>
<g id="F21"><g transform="scale(.1)"><path class="gr" d="M3394 4607l-255-94M3139 4513l0-209M3394 4607l336-73M3730 4534l0-209M3562 4570l-255-94M3307 4476l0-209M3267 4560l335-73M3602 4487l0-209M3730 4534l-255-94M3475 4440l0-209M3139 4513l336-73M3475 4440l0-209M3139 4469l336-73M3475 4396l255 94M3139 4380l336-73M3475 4307l255 94"/>
<g class="ct"><path class="d" d="M3445 4512l-19-2-4-2 1-3 6-3 10-1 18 1 7 4-2 3-17 3"/><path class="i" d="M3462 4514l-22 2-15-2-13-4-2-4 5-4 17-4 29 1 12 4 2 4-6 5-7 2"/><path class="o" d="M3468 4516l-20 3-22-1-17-4-6-2-3-6 3-4 5-3 17-4 36 0 17 4 8 6 0 3-4 3-14 5"/><path class="t" d="M3475 4519l-32 3-27-2-22-6-4-3-2-4 2-5 5-3 22-6 30-2 25 2 21 7 5 6-2 4-6 4-15 5"/><path class="y" d="M3474 4523l-34 2-34-3-22-6-8-6-1-4 2-4 9-6 23-7 40-2 35 3 20 7 7 6 0 4-3 4-10 6-24 6"/><path class="D" d="M3463 4529l-38 0-33-4-26-9-7-6-1-5 2-4 8-7 13-5 25-5 51-3 43 6 14 4 10 6 5 6-3 8-11 8-14 4-38 6"/><path class="J" d="M3507 4530l-51 6-28 0-36-3-26-6-19-7-11-9-2-7 5-8 12-8 37-11 52-6 28 1 33 3 17 4 20 7 13 8 4 7-1 8-7 7-17 8-23 6"/><path class="O" d="M3604 4487l2 7 0 7-6 10-13 10-24 10-32 8-39 6-34 2-43-1-36-3-37-7-27-9-14-8-6-6-4-7 1-10 10-11 19-12M3443 4447l50 0"/><path class="T" d="M3709 4526l-31 14-28 9-68 14-83 9-91 1-80-8-38-6-32-8-27-9-21-11-17-11-14-16"/></g>
<g class="sf"><path class="O" d="M3443 4280l42-14-10-6-42 13z"/><path class="N" d="M3331 4305l42-6 28-7 42-12-10-7-56 15-28 5-28 3z"/><path class="O" d="M3303 4306l28-1-10-9-28 2z"/><path class="P" d="M3276 4307l27-1-10-8-28 2z"/><path class="Q" d="M3262 4307l14 0-11-7-14 0z"/><path class="R" d="M3234 4307l28 0-11-7-28 2z"/><path class="S" d="M3206 4309l28-2-11-5-28 2z"/><path class="T" d="M3178 4311l28-2-11-5-28 2z"/><path class="U" d="M3150 4314l28-3-11-5-28 4z"/><path class="O" d="M3482 4276l14-5-11-5-14 4z"/><path class="N" d="M3440 4291l42-15-11-6-42 14z"/><path class="M" d="M3412 4301l28-10-11-7-28 8z"/><path class="L" d="M3356 4315l28-5 28-9-11-9-28 7-28 5z"/><path class="M" d="M3328 4316l28-1-11-11-28 2z"/><path class="N" d="M3314 4315l14 1-11-10-14 0z"/><path class="O" d="M3286 4314l28 1-11-9-27 1z"/><path class="P" d="M3272 4313l14 1-10-7-14 0z"/><path class="Q" d="M3258 4313l14 0-10-6-14 0z"/><path class="R" d="M3230 4313l28 0-10-6-28 1z"/><path class="S" d="M3216 4314l14-1-10-5-14 1z"/><path class="T" d="M3174 4317l42-3-10-5-42 3z"/><path class="U" d="M3160 4318l14-1-10-5-14 2z"/><path class="N" d="M3479 4288l28-11-11-6-28 10z"/><path class="M" d="M3451 4299l28-11-11-7-28 10z"/><path class="L" d="M3423 4311l28-12-11-8-28 10z"/><path class="K" d="M3395 4322l28-11-11-10-28 9z"/><path class="J" d="M3381 4326l14-4-11-12-14 3z"/><path class="K" d="M3353 4328l28-2-11-13-28 3z"/><path class="L" d="M3325 4326l28 2-11-12-28-1z"/><path class="M" d="M3311 4324l14 2-11-11-14 0z"/><path class="N" d="M3297 4322l14 2-11-9-14-1z"/><path class="O" d="M3283 4321l14 1-11-8-14-1z"/><path class="P" d="M3269 4320l14 1-11-8-14 0z"/><path class="Q" d="M3255 4319l14 1-11-7-14 0z"/><path class="R" d="M3241 4319l14 0-11-6-14 0z"/><path class="S" d="M3213 4320l28-1-11-6-28 2z"/><path class="T" d="M3185 4322l28-2-11-5-28 2z"/><path class="U" d="M3171 4323l14-1-11-5-14 1z"/><path class="N" d="M3503 4288l14-6-10-5-14 5z"/><path class="M" d="M3475 4300l28-12-10-6-28 11z"/><path class="L" d="M3461 4308l14-8-10-7-14 6z"/><path class="K" d="M3447 4315l14-7-10-9-14 6z"/><path class="J" d="M3433 4323l14-8-10-10-14 6z"/><path class="I" d="M3419 4331l14-8-10-12-14 6z"/><path class="H" d="M3363 4344l14 0 14-2 14-5 14-6-10-14-28 9-28 2z"/><path class="I" d="M3349 4341l14 3-10-16-14-1z"/><path class="K" d="M3335 4338l14 3-10-14-14-1z"/><path class="L" d="M3321 4334l14 4-10-12-14-2z"/><path class="M" d="M3307 4331l14 3-10-10-14-2z"/><path class="O" d="M3293 4328l14 3-10-9-14-1z"/><path class="P" d="M3279 4326l14 2-10-7-14-1z"/><path class="Q" d="M3265 4325l14 1-10-6-14-1z"/><path class="R" d="M3238 4324l27 1-10-6-28 0z"/><path class="S" d="M3224 4324l14 0-11-5-14 1z"/><path class="T" d="M3196 4326l28-2-11-4-28 2z"/><path class="U" d="M3182 4327l14-1-11-4-14 1z"/><path class="N" d="M3514 4293l14-6-11-5-14 6z"/><path class="M" d="M3500 4300l14-7-11-5-14 6z"/><path class="L" d="M3486 4308l14-8-11-6-14 6z"/><path class="K" d="M3472 4316l14-8-11-8-14 8z"/><path class="J" d="M3458 4326l14-10-11-8-14 7z"/><path class="H" d="M3444 4336l14-10-11-11-14 8z"/><path class="G" d="M3430 4347l14-11-11-13-14 8z"/><path class="F" d="M3416 4356l14-9-11-16-14 6z"/><path class="E" d="M3374 4363l14 2 14-3 14-6-11-19-14 5-14 2-14 0z"/><path class="F" d="M3360 4358l14 5-11-19-14-3z"/><path class="H" d="M3346 4352l14 6-11-17-14-3z"/><path class="J" d="M3332 4346l14 6-11-14-14-4z"/><path class="L" d="M3318 4340l14 6-11-12-14-3z"/><path class="M" d="M3304 4336l14 4-11-9-14-3z"/><path class="O" d="M3290 4333l14 3-11-8-14-2z"/><path class="P" d="M3276 4331l14 2-11-7-14-1z"/><path class="Q" d="M3262 4330l14 1-11-6-14-1z"/><path class="R" d="M3248 4329l14 1-11-6-13 0z"/><path class="S" d="M3220 4330l28-1-10-5-28 1z"/><path class="T" d="M3192 4331l28-1-10-5-28 2z"/><path class="M" d="M3525 4298l14-7-11-4-14 6z"/><path class="L" d="M3511 4306l14-8-11-5-14 7z"/><path class="K" d="M3497 4315l14-9-11-6-14 8z"/><path class="J" d="M3483 4325l14-10-11-7-14 8z"/><path class="H" d="M3469 4337l14-12-11-9-14 10z"/><path class="F" d="M3455 4351l14-14-11-11-14 10z"/><path class="D" d="M3441 4366l14-15-11-15-14 11z"/><path class="B" d="M3427 4380l14-14-11-19-14 9z"/><path class="z" d="M3399 4392l14-3 14-9-11-24-14 6-14 3z"/><path class="A" d="M3385 4388l14 4-11-27-14-2z"/><path class="B" d="M3371 4378l14 10-11-25-14-5z"/><path class="E" d="M3357 4368l14 10-11-20-14-6z"/><path class="H" d="M3343 4358l14 10-11-16-14-6z"/><path class="J" d="M3329 4350l14 8-11-12-14-6z"/><path class="L" d="M3315 4344l14 6-11-10-14-4z"/><path class="N" d="M3301 4340l14 4-11-8-14-3z"/><path class="P" d="M3287 4337l14 3-11-7-14-2z"/><path class="Q" d="M3273 4335l14 2-11-6-14-1z"/><path class="R" d="M3259 4334l14 1-11-5-14-1z"/><path class="S" d="M3231 4334l28 0-11-5-28 1z"/><path class="T" d="M3203 4336l28-2-11-4-28 1z"/><path class="M" d="M3535 4303l14-7-10-5-14 7z"/><path class="L" d="M3521 4312l14-9-10-5-14 8z"/><path class="K" d="M3507 4322l14-10-10-6-14 9z"/><path class="I" d="M3493 4334l14-12-10-7-14 10z"/><path class="G" d="M3479 4349l14-15-10-9-14 12z"/><path class="D" d="M3465 4367l14-18-10-12-14 14z"/><path class="A" d="M3451 4388l14-21-10-16-14 15z"/><path class="H" d="M3339 4360l14 11-10-13-14-8z"/><path class="K" d="M3325 4352l14 8-10-10-14-6z"/><path class="M" d="M3311 4346l14 6-10-8-14-4z"/><path class="O" d="M3297 4342l14 4-10-6-14-3z"/><path class="P" d="M3283 4340l14 2-10-5-14-2z"/><path class="Q" d="M3269 4339l14 1-10-5-14-1z"/><path class="R" d="M3255 4338l14 1-10-5-14 0z"/><path class="S" d="M3241 4338l14 0-10-4-14 0z"/><path class="T" d="M3213 4340l28-2-10-4-28 2z"/><path class="M" d="M3546 4307l14-8-11-3-14 7z"/><path class="L" d="M3532 4316l14-9-11-4-14 9z"/><path class="J" d="M3518 4328l14-12-11-4-14 10z"/><path class="H" d="M3504 4341l14-13-11-6-14 12z"/><path class="E" d="M3490 4359l14-18-11-7-14 15z"/><path class="B" d="M3476 4382l14-23-11-10-14 18z"/><path class="J" d="M3336 4358l14 10-11-8-14-8z"/><path class="M" d="M3322 4352l14 6-11-6-14-6z"/><path class="O" d="M3308 4347l14 5-11-6-14-4z"/><path class="P" d="M3294 4345l14 2-11-5-14-2z"/><path class="Q" d="M3280 4343l14 2-11-5-14-1z"/><path class="R" d="M3266 4342l14 1-11-4-14-1z"/><path class="S" d="M3252 4342l14 0-11-4-14 0z"/><path class="T" d="M3224 4344l28-2-11-4-28 2z"/><path class="M" d="M3556 4311l14-8-10-4-14 8z"/><path class="L" d="M3542 4320l14-9-10-4-14 9z"/><path class="J" d="M3528 4332l14-12-10-4-14 12z"/><path class="H" d="M3514 4347l14-15-10-4-14 13z"/><path class="E" d="M3500 4367l14-20-10-6-14 18z"/><path class="z" d="M3487 4393l13-26-10-8-14 23z"/><path class="m" d="M3403 4443l14 33-11-26-14-24z"/><path class="t" d="M3389 4414l14 29-11-17-14-24z"/><path class="A" d="M3375 4391l14 23-11-12-14-20z"/><path class="N" d="M3319 4352l14 5-11-5-14-5z"/><path class="P" d="M3305 4349l14 3-11-5-14-2z"/><path class="Q" d="M3291 4347l14 2-11-4-14-2z"/><path class="R" d="M3277 4346l14 1-11-4-14-1z"/><path class="S" d="M3263 4346l14 0-11-4-14 0z"/><path class="T" d="M3235 4348l28-2-11-4-28 2z"/><path class="M" d="M3567 4314l14-8-11-3-14 8z"/><path class="L" d="M3553 4323l14-9-11-3-14 9z"/><path class="J" d="M3539 4335l14-12-11-3-14 12z"/><path class="H" d="M3525 4350l14-15-11-3-14 15z"/><path class="D" d="M3511 4370l14-20-11-3-14 20z"/><path class="d" d="M3427 4481l14 22-10-6-14-21z"/><path class="k" d="M3413 4448l14 33-10-5-14-33z"/><path class="s" d="M3399 4418l14 30-10-5-14-29z"/><path class="z" d="M3385 4395l14 23-10-4-14-23z"/><path class="N" d="M3329 4355l14 5-10-3-14-5z"/><path class="P" d="M3315 4353l14 2-10-3-14-3z"/><path class="Q" d="M3301 4351l14 2-10-4-14-2z"/><path class="R" d="M3287 4350l14 1-10-4-14-1z"/><path class="S" d="M3273 4350l14 0-10-4-14 0z"/><path class="T" d="M3245 4351l28-1-10-4-28 2z"/><path class="N" d="M3578 4316l14-8-11-2-14 8z"/><path class="L" d="M3564 4325l14-9-11-2-14 9z"/><path class="K" d="M3550 4337l14-12-11-2-14 12z"/><path class="H" d="M3536 4351l14-14-11-2-14 15z"/><path class="E" d="M3522 4369l14-18-11-1-14 20z"/><path class="d" d="M3452 4482l14-4-11 20-14 5z"/><path class="f" d="M3438 4466l14 16-11 21-14-22z"/><path class="m" d="M3424 4439l14 27-11 15-14-33z"/><path class="t" d="M3410 4414l14 25-11 9-14-30z"/><path class="A" d="M3396 4394l14 20-11 4-14-23z"/><path class="N" d="M3340 4358l14 5-11-3-14-5z"/><path class="P" d="M3326 4356l14 2-11-3-14-2z"/><path class="Q" d="M3312 4354l14 2-11-3-14-2z"/><path class="R" d="M3298 4354l14 0-11-3-14-1z"/><path class="S" d="M3284 4354l14 0-11-4-14 0z"/><path class="T" d="M3256 4355l28-1-11-4-28 1z"/><path class="N" d="M3588 4318l14-8-10-2-14 8z"/><path class="M" d="M3574 4326l14-8-10-2-14 9z"/><path class="K" d="M3560 4337l14-11-10-1-14 12z"/><path class="I" d="M3546 4350l14-13-10 0-14 14z"/><path class="F" d="M3532 4365l14-15-10 1-14 18z"/><path class="m" d="M3476 4446l14-16-10 24-14 24z"/><path class="k" d="M3462 4450l14-4-10 32-14 4z"/><path class="m" d="M3448 4440l14 10-10 32-14-16z"/><path class="q" d="M3434 4423l14 17-10 26-14-27z"/><path class="w" d="M3421 4405l13 18-10 16-14-25z"/><path class="C" d="M3407 4390l14 15-11 9-14-20z"/><path class="P" d="M3337 4358l14 3-11-3-14-2z"/><path class="R" d="M3309 4357l28 1-11-2-28-2z"/><path class="S" d="M3295 4357l14 0-11-3-14 0z"/><path class="T" d="M3267 4359l28-2-11-3-28 1z"/><path class="O" d="M3599 4319l14-7-11-2-14 8z"/><path class="M" d="M3585 4327l14-8-11-1-14 8z"/><path class="L" d="M3571 4336l14-9-11-1-14 11z"/><path class="J" d="M3557 4347l14-11-11 1-14 13z"/><path class="H" d="M3543 4360l14-13-11 3-14 15z"/><path class="w" d="M3501 4407l14-16-11 16-14 23z"/><path class="t" d="M3487 4418l14-11-11 23-14 16z"/><path class="s" d="M3473 4421l14-3-11 28-14 4z"/><path class="t" d="M3459 4416l14 5-11 29-14-10z"/><path class="w" d="M3445 4406l14 10-11 24-14-17z"/><path class="A" d="M3431 4395l14 11-11 17-13-18z"/><path class="E" d="M3417 4384l14 11-10 10-14-15z"/><path class="Q" d="M3347 4361l14 2-10-2-14-3z"/><path class="R" d="M3333 4360l14 1-10-3-14-1z"/><path class="S" d="M3305 4360l28 0-10-3-28 0z"/><path class="T" d="M3277 4362l28-2-10-3-28 2z"/><path class="O" d="M3610 4320l14-7-11-1-14 7z"/><path class="N" d="M3596 4327l14-7-11-1-14 8z"/><path class="M" d="M3582 4335l14-8-11 0-14 9z"/><path class="L" d="M3568 4344l14-9-11 1-14 11z"/><path class="J" d="M3554 4355l14-11-11 3-14 13z"/><path class="E" d="M3526 4378l14-12-11 9-14 16z"/><path class="C" d="M3512 4388l14-10-11 13-14 16z"/><path class="A" d="M3498 4396l14-8-11 19-14 11z"/><path class="z" d="M3484 4399l14-3-11 22-14 3z"/><path class="A" d="M3470 4397l14 2-11 22-14-5z"/><path class="C" d="M3456 4392l14 5-11 19-14-10z"/><path class="E" d="M3442 4385l14 7-11 14-14-11z"/><path class="H" d="M3428 4379l14 6-11 10-14-11z"/><path class="Q" d="M3358 4363l14 1-11-1-14-2z"/><path class="R" d="M3344 4363l14 0-11-2-14-1z"/><path class="S" d="M3330 4363l14 0-11-3-14 0z"/><path class="T" d="M3302 4364l28-1-11-3-28 1z"/><path class="U" d="M3288 4366l14-2-11-3-14 1z"/><path class="P" d="M3620 4321l14-6-10-2-14 7z"/><path class="O" d="M3606 4327l14-6-10-1-14 7z"/><path class="N" d="M3592 4334l14-7-10 0-14 8z"/><path class="M" d="M3578 4342l14-8-10 1-14 9z"/><path class="K" d="M3564 4350l14-8-10 2-14 11z"/><path class="J" d="M3550 4359l14-9-10 5-14 11z"/><path class="G" d="M3522 4375l14-7-10 10-14 10z"/><path class="F" d="M3508 4381l14-6-10 13-14 8z"/><path class="E" d="M3494 4383l14-2-10 15-14 3z"/><path class="F" d="M3480 4383l14 0-10 16-14-2z"/><path class="G" d="M3466 4381l14 2-10 14-14-5z"/><path class="I" d="M3452 4378l14 3-10 11-14-7z"/><path class="Q" d="M3382 4366l14 1-10-1-14-2z"/><path class="R" d="M3369 4365l13 1-10-2-14-1z"/><path class="S" d="M3341 4365l28 0-11-2-28 0z"/><path class="T" d="M3313 4367l28-2-11-2-28 1z"/><path class="U" d="M3299 4369l14-2-11-3-14 2z"/><path class="Q" d="M3631 4322l14-6-11-1-14 6z"/><path class="P" d="M3617 4327l14-5-11-1-14 6z"/><path class="O" d="M3603 4334l14-7-11 0-14 7z"/><path class="N" d="M3589 4340l14-6-11 0-14 8z"/><path class="M" d="M3575 4347l14-7-11 2-14 8z"/><path class="L" d="M3561 4354l14-7-11 3-14 9z"/><path class="I" d="M3491 4374l14-1 14-2 14-5-11 9-14 6-14 2-14 0z"/><path class="Q" d="M3393 4367l14 0-11 0-14-1z"/><path class="R" d="M3379 4367l14 0-11-1-13-1z"/><path class="S" d="M3365 4367l14 0-10-2-14 0z"/><path class="T" d="M3337 4369l28-2-10-2-28 1z"/><path class="U" d="M3309 4372l28-3-10-3-28 3z"/><path class="Q" d="M3628 4328l28-10-11-2-28 11z"/><path class="P" d="M3614 4333l14-5-11-1-14 7z"/><path class="O" d="M3586 4345l28-12-11 1-28 13z"/><path class="N" d="M3572 4350l14-5-11 2-14 7z"/><path class="M" d="M3558 4356l14-6-11 4-14 6z"/><path class="R" d="M3404 4368l14 0-11-1-14 0z"/><path class="S" d="M3376 4370l28-2-11-1-28 0z"/><path class="T" d="M3348 4372l28-2-11-3-28 2z"/><path class="U" d="M3320 4375l28-3-11-3-28 3z"/><path class="R" d="M3652 4324l14-5-10-1-14 5z"/><path class="Q" d="M3624 4334l28-10-10-1-28 10z"/><path class="P" d="M3596 4343l28-9-10-1-28 12z"/><path class="O" d="M3568 4353l28-10-10 2-28 11z"/><path class="N" d="M3554 4357l14-4-10 3-14 4z"/><path class="Q" d="M3442 4369l14-1-10 1-14-1z"/><path class="R" d="M3428 4369l14 0-10-1-14 0z"/><path class="S" d="M3400 4371l28-2-10-1-28 1z"/><path class="T" d="M3372 4374l28-3-10-2-28 2z"/><path class="U" d="M3330 4379l42-5-10-3-42 4z"/><path class="R" d="M3635 4334l42-13-11-2-42 15z"/><path class="Q" d="M3607 4343l28-9-11 0-28 9z"/><path class="P" d="M3509 4365l42-7 56-15-11 0-28 10-28 7-42 6z"/><path class="Q" d="M3481 4368l14-2-11 1-14 1z"/><path class="R" d="M3467 4369l14-1-11 0-14 0z"/><path class="S" d="M3425 4372l28-2-11-1-28 1z"/><path class="T" d="M3397 4375l28-3-11-2-28 2z"/><path class="U" d="M3341 4382l56-7-11-3-56 7z"/><path class="S" d="M3659 4331l28-8-10-2-28 9z"/><path class="R" d="M3618 4343l41-12-10-1-42 13z"/><path class="Q" d="M3520 4365l42-8 56-14-11 0-56 15-42 7z"/><path class="R" d="M3478 4370l42-5-11 0-42 4z"/><path class="S" d="M3450 4373l28-3-11-1-28 2z"/><path class="T" d="M3408 4377l42-4-11-2-42 4z"/><path class="U" d="M3366 4383l42-6-11-2-42 5z"/><path class="V" d="M3352 4385l14-2-11-3-14 2z"/><path class="S" d="M3628 4344l70-19-11-2-69 20z"/><path class="R" d="M3530 4365l42-7 56-14-10-1-56 14-42 8z"/><path class="S" d="M3474 4373l56-8-10 0-56 6z"/><path class="T" d="M3432 4378l42-5-10-2-42 5z"/><path class="U" d="M3390 4384l42-6-10-2-42 5z"/><path class="V" d="M3362 4388l28-4-10-3-28 4z"/><path class="T" d="M3681 4335l28-8-11-2-28 8z"/><path class="S" d="M3527 4369l70-14 84-20-11-2-84 22-70 12z"/><path class="T" d="M3471 4377l56-8-11-2-56 8z"/><path class="U" d="M3415 4385l56-8-11-2-56 7z"/><path class="V" d="M3373 4391l42-6-11-3-42 6z"/><path class="T" d="M3496 4377l56-9 55-11 112-27-10-3-70 18-56 13-42 8-56 9z"/><path class="U" d="M3440 4386l56-9-11-2-56 8z"/><path class="V" d="M3384 4395l56-9-11-3-56 8z"/><path class="U" d="M3716 4335l14-3-11-2-14 3z"/><path class="T" d="M3548 4372l84-16 84-21-11-2-98 24-69 13z"/><path class="U" d="M3464 4386l84-14-10-2-84 13z"/><path class="V" d="M3394 4398l70-12-10-3-70 12z"/></g>
<path class="ax" d="M3730 4534l-336 73-255-94 0-209M3394 4607l12 4M3394 4607l-11 3M3562 4570l11 5M3267 4560l-12 3M3730 4534l11 4M3139 4513l-12 3M3139 4469l-12 2M3139 4380l-12 3"/></g><text x="341.7" y="467.9">−5</text><text class="te" x="336.9" y="467.8">−5</text><text x="358.5" y="464.2">0</text><text class="te" x="324.2" y="463.1">0</text><text x="375.3" y="460.6">5</text><text class="te" x="311.4" y="458.4">5</text><text class="te" x="310.9" y="448.8">−0.4</text><text class="te" x="310.9" y="439.9">−0.2</text><text class="tm lb" x="366" y="472.5">x<tspan class="sub" dy="2.2">1</tspan></text><text class="tm lb" x="315.7" y="473.7">x<tspan class="sub" dy="2.2">2</tspan></text><text class="tm lb" transform="translate(292.8 440.9) rotate(-90)">F21( x<tspan class="sub" dy="2.2">1</tspan><tspan dy="-2.2"> , x</tspan><tspan class="sub" dy="2.2">2</tspan><tspan dy="-2.2"> )</tspan></text></g>
<g id="F22"><g transform="scale(.1)"><path class="gr" d="M1463 5168l-248-101M1215 5067l0-199M1463 5168l327-73M1790 5095l0-199M1627 5132l-249-102M1378 5030l0-198M1339 5118l327-74M1666 5044l0-198M1790 5095l-248-101M1542 4994l0-199M1215 5067l327-73M1542 4994l0-199M1215 5067l327-73M1542 4994l248 101M1215 4964l327-73M1542 4891l248 101"/>
<g class="ct"><path class="b" d="M1518 5067l-12 0-6-1-3-3 5-3 11-1 9 2 3 3-7 3"/><path class="g" d="M1516 5071l-26-3-5-3 0-4 9-4 9-2 12 0 18 4 4 3-1 4-10 4-10 1"/><path class="l" d="M1523 5074l-34-2-12-5-3-3 1-4 5-4 16-3 24-1 14 2 12 6 2 3-3 4-5 3-17 4"/><path class="q" d="M1529 5076l-23 1-25-3-13-5-5-7 3-4 7-4 16-4 21-2 25 2 20 7 3 4 0 4-5 5-7 3-17 3"/><path class="v" d="M1526 5080l-25 0-29-4-17-8-3-3 0-5 3-4 10-6 25-5 36-1 21 4 19 7 5 7-1 4-5 4-12 6-27 4"/><path class="A" d="M1524 5085l-34-1-29-6-17-7-6-7 0-4 6-8 11-6 33-7 36-1 38 6 13 5 8 6 3 7-2 6-9 6-14 5-37 6"/><path class="F" d="M1546 5088l-47 2-44-6-21-7-9-6-6-7 0-7 6-8 10-6 36-11 28-4 24 0 40 4 16 5 17 8 10 9 1 8-5 9-15 8-23 6-18 3"/><path class="K" d="M1637 5033l7 16-2 13-10 10-15 9-29 9-26 5-32 2-44-1-34-4-25-6-24-10-10-10-3-11 6-12 13-10 31-16"/><path class="P" d="M1712 5063l-19 13-24 11-20 7-32 8-57 7-35 2-40-1-61-8-33-8-20-7-20-11-10-10-7-12 0-14"/><path class="U" d="M1567 5145l-98-2-91-10"/></g>
<g class="sf"><path class="J" d="M1443 4849l55-11 54-13-10-5-55 13-54 10z"/><path class="K" d="M1416 4853l27-4-10-6-27 4z"/><path class="L" d="M1402 4855l14-2-10-6-14 1z"/><path class="M" d="M1375 4858l27-3-10-7-27 3z"/><path class="N" d="M1361 4859l14-1-10-7-14 2z"/><path class="O" d="M1348 4860l13-1-10-6-14 1z"/><path class="P" d="M1334 4861l14-1-11-6-13 2z"/><path class="Q" d="M1307 4864l27-3-10-5-27 3z"/><path class="R" d="M1293 4866l14-2-10-5-14 2z"/><path class="S" d="M1266 4870l27-4-10-5-27 4z"/><path class="T" d="M1239 4874l27-4-10-5-27 4z"/><path class="U" d="M1225 4876l14-2-10-5-14 3z"/><path class="J" d="M1549 4834l13-4-10-5-14 4z"/><path class="I" d="M1440 4859l41-9 68-16-11-5-54 12-55 10z"/><path class="J" d="M1426 4860l14-1-11-8-13 2z"/><path class="K" d="M1399 4863l27-3-10-7-27 3z"/><path class="L" d="M1385 4864l14-1-10-7-14 2z"/><path class="M" d="M1372 4865l13-1-10-6-14 1z"/><path class="N" d="M1358 4866l14-1-11-6-13 1z"/><path class="O" d="M1345 4867l13-1-10-6-14 1z"/><path class="P" d="M1331 4868l14-1-11-6-13 2z"/><path class="Q" d="M1317 4869l14-1-10-5-14 1z"/><path class="R" d="M1290 4872l27-3-10-5-27 4z"/><path class="S" d="M1263 4876l27-4-10-4-27 4z"/><path class="T" d="M1236 4880l27-4-10-4-28 4z"/><path class="I" d="M1532 4846l41-12-11-4-41 11z"/><path class="H" d="M1437 4869l40-8 55-15-11-5-54 12-41 7z"/><path class="I" d="M1423 4870l14-1-11-9-13 2z"/><path class="J" d="M1409 4871l14-1-10-8-14 1z"/><path class="K" d="M1396 4871l13 0-10-8-14 1z"/><path class="L" d="M1382 4872l14-1-11-7-13 1z"/><path class="M" d="M1369 4872l13 0-10-7-14 1z"/><path class="N" d="M1355 4873l14-1-11-6-13 1z"/><path class="O" d="M1341 4873l14 0-10-6-14 1z"/><path class="P" d="M1328 4874l13-1-10-5-14 1z"/><path class="Q" d="M1314 4876l14-2-11-5-13 2z"/><path class="R" d="M1300 4877l14-1-10-5-14 1z"/><path class="S" d="M1273 4881l27-4-10-5-27 4z"/><path class="T" d="M1246 4885l27-4-10-5-27 4z"/><path class="I" d="M1556 4847l27-9-10-4-28 8z"/><path class="H" d="M1529 4856l27-9-11-5-27 8z"/><path class="G" d="M1501 4865l28-9-11-6-27 7z"/><path class="F" d="M1447 4879l27-6 27-8-10-8-27 7-27 5z"/><path class="G" d="M1433 4879l14 0-10-10-14 1z"/><path class="H" d="M1420 4880l13-1-10-9-14 1z"/><path class="I" d="M1406 4879l14 1-11-9-13 0z"/><path class="K" d="M1392 4879l14 0-10-8-14 1z"/><path class="L" d="M1379 4878l13 1-10-7-13 0z"/><path class="M" d="M1365 4878l14 0-10-6-14 1z"/><path class="O" d="M1352 4879l13-1-10-5-14 0z"/><path class="P" d="M1338 4880l14-1-11-6-13 1z"/><path class="Q" d="M1324 4881l14-1-10-6-14 2z"/><path class="R" d="M1297 4884l27-3-10-5-27 3z"/><path class="S" d="M1284 4885l13-1-10-5-14 2z"/><path class="T" d="M1256 4889l28-4-11-4-27 4z"/><path class="I" d="M1566 4851l27-9-10-4-27 9z"/><path class="H" d="M1553 4856l13-5-10-4-14 4z"/><path class="G" d="M1539 4861l14-5-11-5-13 5z"/><path class="F" d="M1525 4867l14-6-10-5-14 4z"/><path class="E" d="M1512 4873l13-6-10-7-14 5z"/><path class="D" d="M1498 4879l14-6-11-8-13 4z"/><path class="C" d="M1444 4891l13-1 14-2 27-9-10-10-27 7-28 3z"/><path class="E" d="M1430 4890l14 1-11-12-13 1z"/><path class="G" d="M1416 4888l14 2-10-10-14-1z"/><path class="I" d="M1403 4886l13 2-10-9-14 0z"/><path class="K" d="M1389 4885l14 1-11-7-13-1z"/><path class="L" d="M1376 4884l13 1-10-7-14 0z"/><path class="N" d="M1362 4884l14 0-11-6-13 1z"/><path class="O" d="M1348 4885l14-1-10-5-14 1z"/><path class="P" d="M1335 4885l13 0-10-5-14 1z"/><path class="Q" d="M1321 4887l14-2-11-4-13 1z"/><path class="R" d="M1308 4888l13-1-10-5-14 2z"/><path class="S" d="M1294 4890l14-2-11-4-13 1z"/><path class="T" d="M1267 4894l27-4-10-5-28 4z"/><path class="I" d="M1590 4851l14-5-11-4-13 5z"/><path class="H" d="M1563 4861l27-10-10-4-27 9z"/><path class="F" d="M1549 4867l14-6-10-5-14 5z"/><path class="E" d="M1536 4874l13-7-10-6-14 6z"/><path class="C" d="M1522 4882l14-8-11-7-13 6z"/><path class="A" d="M1508 4890l14-8-10-9-14 6z"/><path class="z" d="M1495 4897l13-7-10-11-14 5z"/><path class="x" d="M1468 4905l13-2 14-6-11-13-13 4-14 2z"/><path class="y" d="M1454 4904l14 1-11-15-13 1z"/><path class="A" d="M1440 4901l14 3-10-13-14-1z"/><path class="D" d="M1427 4898l13 3-10-11-14-2z"/><path class="G" d="M1413 4894l14 4-11-10-13-2z"/><path class="I" d="M1400 4892l13 2-10-8-14-1z"/><path class="K" d="M1386 4890l14 2-11-7-13-1z"/><path class="M" d="M1372 4890l14 0-10-6-14 0z"/><path class="O" d="M1359 4890l13 0-10-6-14 1z"/><path class="P" d="M1345 4890l14 0-11-5-13 0z"/><path class="Q" d="M1332 4891l13-1-10-5-14 2z"/><path class="R" d="M1318 4893l14-2-11-4-13 1z"/><path class="S" d="M1291 4896l27-3-10-5-28 4z"/><path class="T" d="M1277 4898l14-2-11-4-13 2z"/><path class="I" d="M1600 4855l14-5-10-4-14 5z"/><path class="H" d="M1587 4860l13-5-10-4-14 5z"/><path class="G" d="M1573 4866l14-6-11-4-13 5z"/><path class="F" d="M1560 4873l13-7-10-5-14 6z"/><path class="D" d="M1546 4881l14-8-11-6-13 7z"/><path class="A" d="M1532 4891l14-10-10-7-14 8z"/><path class="x" d="M1519 4902l13-11-10-9-14 8z"/><path class="u" d="M1505 4913l14-11-11-12-13 7z"/><path class="s" d="M1492 4921l13-8-10-16-14 6z"/><path class="r" d="M1478 4924l14-3-11-18-13 2z"/><path class="s" d="M1464 4921l14 3-10-19-14-1z"/><path class="w" d="M1451 4915l13 6-10-17-14-3z"/><path class="z" d="M1437 4908l14 7-11-14-13-3z"/><path class="D" d="M1424 4902l13 6-10-10-14-4z"/><path class="H" d="M1410 4899l14 3-11-8-13-2z"/><path class="J" d="M1396 4896l14 3-10-7-14-2z"/><path class="M" d="M1383 4895l13 1-10-6-14 0z"/><path class="N" d="M1369 4895l14 0-11-5-13 0z"/><path class="P" d="M1355 4895l14 0-10-5-14 0z"/><path class="Q" d="M1342 4896l13-1-10-5-13 1z"/><path class="R" d="M1328 4897l14-1-10-5-14 2z"/><path class="S" d="M1301 4900l27-3-10-4-27 3z"/><path class="T" d="M1287 4902l14-2-10-4-14 2z"/><path class="J" d="M1611 4859l13-6-10-3-14 5z"/><path class="I" d="M1597 4864l14-5-11-4-13 5z"/><path class="G" d="M1584 4871l13-7-10-4-14 6z"/><path class="E" d="M1570 4879l14-8-11-5-13 7z"/><path class="C" d="M1556 4888l14-9-10-6-14 8z"/><path class="z" d="M1543 4900l13-12-10-7-14 10z"/><path class="u" d="M1529 4914l14-14-11-9-13 11z"/><path class="q" d="M1516 4929l13-15-10-12-14 11z"/><path class="m" d="M1502 4941l14-12-11-16-13 8z"/><path class="q" d="M1461 4928l14 10-11-17-13-6z"/><path class="w" d="M1447 4918l14 10-10-13-14-7z"/><path class="B" d="M1434 4910l13 8-10-10-13-6z"/><path class="F" d="M1420 4905l14 5-10-8-14-3z"/><path class="I" d="M1407 4902l13 3-10-6-14-3z"/><path class="L" d="M1393 4900l14 2-11-6-13-1z"/><path class="N" d="M1379 4899l14 1-10-5-14 0z"/><path class="P" d="M1366 4899l13 0-10-4-14 0z"/><path class="Q" d="M1352 4900l14-1-11-4-13 1z"/><path class="R" d="M1339 4901l13-1-10-4-14 1z"/><path class="S" d="M1311 4904l28-3-11-4-27 3z"/><path class="T" d="M1298 4906l13-2-10-4-14 2z"/><path class="J" d="M1621 4862l14-5-11-4-13 6z"/><path class="I" d="M1608 4868l13-6-10-3-14 5z"/><path class="G" d="M1594 4875l14-7-11-4-13 7z"/><path class="E" d="M1580 4883l14-8-10-4-14 8z"/><path class="B" d="M1567 4894l13-11-10-4-14 9z"/><path class="x" d="M1553 4907l14-13-11-6-13 12z"/><path class="s" d="M1539 4924l14-17-10-7-14 14z"/><path class="l" d="M1526 4942l13-18-10-10-13 15z"/><path class="E" d="M1431 4910l13 6-10-6-14-5z"/><path class="I" d="M1417 4906l14 4-11-5-13-3z"/><path class="L" d="M1403 4904l14 2-10-4-14-2z"/><path class="N" d="M1390 4904l13 0-10-4-14-1z"/><path class="O" d="M1376 4904l14 0-11-5-13 0z"/><path class="Q" d="M1363 4904l13 0-10-5-14 1z"/><path class="R" d="M1349 4905l14-1-11-4-13 1z"/><path class="S" d="M1322 4909l27-4-10-4-28 3z"/><path class="T" d="M1308 4911l14-2-11-5-13 2z"/><path class="J" d="M1631 4865l14-5-10-3-14 5z"/><path class="I" d="M1618 4871l13-6-10-3-13 6z"/><path class="H" d="M1604 4878l14-7-10-3-14 7z"/><path class="E" d="M1591 4886l13-8-10-3-14 8z"/><path class="B" d="M1577 4897l14-11-11-3-13 11z"/><path class="x" d="M1563 4911l14-14-10-3-14 13z"/><path class="r" d="M1550 4928l13-17-10-4-14 17z"/><path class="d" d="M1495 4957l14 8-10-5-14-8z"/><path class="E" d="M1441 4914l14 6-11-4-13-6z"/><path class="I" d="M1427 4910l14 4-10-4-14-4z"/><path class="L" d="M1414 4908l13 2-10-4-14-2z"/><path class="N" d="M1400 4908l14 0-11-4-13 0z"/><path class="O" d="M1387 4908l13 0-10-4-14 0z"/><path class="Q" d="M1373 4908l14 0-11-4-13 0z"/><path class="R" d="M1359 4910l14-2-10-4-14 1z"/><path class="S" d="M1332 4913l27-3-10-5-27 4z"/><path class="T" d="M1318 4915l14-2-10-4-14 2z"/><path class="K" d="M1642 4868l13-5-10-3-14 5z"/><path class="J" d="M1628 4874l14-6-11-3-13 6z"/><path class="H" d="M1615 4881l13-7-10-3-14 7z"/><path class="F" d="M1601 4889l14-8-11-3-13 8z"/><path class="C" d="M1587 4899l14-10-10-3-14 11z"/><path class="y" d="M1574 4911l13-12-10-2-14 14z"/><path class="s" d="M1560 4926l14-15-11 0-13 17z"/><path class="d" d="M1519 4958l14-4-10 8-14 3z"/><path class="f" d="M1506 4952l13 6-10 7-14-8z"/><path class="I" d="M1438 4914l13 3-10-3-14-4z"/><path class="L" d="M1424 4912l14 2-11-4-13-2z"/><path class="N" d="M1410 4911l14 1-10-4-14 0z"/><path class="P" d="M1397 4912l13-1-10-3-13 0z"/><path class="Q" d="M1383 4912l14 0-10-4-14 0z"/><path class="R" d="M1370 4913l13-1-10-4-14 2z"/><path class="S" d="M1342 4917l28-4-11-3-27 3z"/><path class="T" d="M1329 4919l13-2-10-4-14 2z"/><path class="L" d="M1652 4871l14-5-11-3-13 5z"/><path class="K" d="M1639 4876l13-5-10-3-14 6z"/><path class="I" d="M1625 4883l14-7-11-2-13 7z"/><path class="G" d="M1611 4890l14-7-10-2-14 8z"/><path class="D" d="M1598 4899l13-9-10-1-14 10z"/><path class="A" d="M1584 4909l14-10-11 0-13 12z"/><path class="v" d="M1571 4921l13-12-10 2-14 15z"/><path class="J" d="M1448 4916l14 3-11-2-13-3z"/><path class="L" d="M1434 4915l14 1-10-2-14-2z"/><path class="N" d="M1421 4915l13 0-10-3-14-1z"/><path class="P" d="M1407 4915l14 0-11-4-13 1z"/><path class="Q" d="M1394 4916l13-1-10-3-14 0z"/><path class="R" d="M1380 4917l14-1-11-4-13 1z"/><path class="S" d="M1366 4919l14-2-10-4-14 2z"/><path class="T" d="M1339 4923l27-4-10-4-27 4z"/><path class="M" d="M1663 4873l13-5-10-2-14 5z"/><path class="K" d="M1649 4878l14-5-11-2-13 5z"/><path class="J" d="M1635 4884l14-6-10-2-14 7z"/><path class="H" d="M1622 4891l13-7-10-1-14 7z"/><path class="F" d="M1608 4898l14-7-11-1-13 9z"/><path class="C" d="M1595 4907l13-9-10 1-14 10z"/><path class="z" d="M1581 4916l14-9-11 2-13 12z"/><path class="K" d="M1458 4918l14 2-10-1-14-3z"/><path class="M" d="M1445 4918l13 0-10-2-14-1z"/><path class="O" d="M1431 4918l14 0-11-3-13 0z"/><path class="P" d="M1418 4919l13-1-10-3-14 0z"/><path class="Q" d="M1404 4920l14-1-11-4-13 1z"/><path class="R" d="M1390 4921l14-1-10-4-14 1z"/><path class="S" d="M1377 4923l13-2-10-4-14 2z"/><path class="T" d="M1350 4927l27-4-11-4-27 4z"/><path class="M" d="M1673 4876l13-5-10-3-13 5z"/><path class="L" d="M1659 4880l14-4-10-3-14 5z"/><path class="K" d="M1646 4886l13-6-10-2-14 6z"/><path class="J" d="M1632 4892l14-6-11-2-13 7z"/><path class="H" d="M1618 4898l14-6-10-1-14 7z"/><path class="F" d="M1605 4905l13-7-10 0-13 9z"/><path class="D" d="M1591 4911l14-6-10 2-14 9z"/><path class="J" d="M1482 4921l14 1-10 0-14-2z"/><path class="L" d="M1469 4920l13 1-10-1-14-2z"/><path class="N" d="M1455 4920l14 0-11-2-13 0z"/><path class="P" d="M1442 4921l13-1-10-2-14 0z"/><path class="Q" d="M1428 4922l14-1-11-3-13 1z"/><path class="R" d="M1414 4923l14-1-10-3-14 1z"/><path class="S" d="M1387 4926l27-3-10-3-27 3z"/><path class="T" d="M1360 4931l27-5-10-3-27 4z"/><path class="N" d="M1683 4878l14-4-11-3-13 5z"/><path class="M" d="M1670 4883l13-5-10-2-14 4z"/><path class="L" d="M1656 4887l14-4-11-3-13 6z"/><path class="K" d="M1642 4892l14-5-10-1-14 6z"/><path class="J" d="M1629 4898l13-6-10 0-14 6z"/><path class="I" d="M1615 4903l14-5-11 0-13 7z"/><path class="G" d="M1602 4909l13-6-10 2-14 6z"/><path class="F" d="M1588 4914l14-5-11 2-13 7z"/><path class="E" d="M1574 4918l14-4-10 4-14 5z"/><path class="L" d="M1493 4922l13 0-10 0-14-1z"/><path class="N" d="M1479 4922l14 0-11-1-13-1z"/><path class="O" d="M1466 4923l13-1-10-2-14 0z"/><path class="P" d="M1452 4924l14-1-11-3-13 1z"/><path class="Q" d="M1438 4925l14-1-10-3-14 1z"/><path class="R" d="M1425 4927l13-2-10-3-14 1z"/><path class="S" d="M1411 4928l14-1-11-4-13 2z"/><path class="T" d="M1384 4932l27-4-10-3-27 3z"/><path class="U" d="M1370 4934l14-2-10-4-14 3z"/><path class="O" d="M1694 4880l13-4-10-2-14 4z"/><path class="N" d="M1666 4889l28-9-11-2-27 9z"/><path class="M" d="M1653 4894l13-5-10-2-14 5z"/><path class="L" d="M1639 4898l14-4-11-2-13 6z"/><path class="K" d="M1626 4903l13-5-10 0-14 5z"/><path class="J" d="M1612 4908l14-5-11 0-13 6z"/><path class="I" d="M1585 4915l27-7-10 1-28 9z"/><path class="H" d="M1571 4918l14-3-11 3-13 2z"/><path class="I" d="M1558 4920l13-2-10 2-14 2z"/><path class="J" d="M1544 4921l14-1-11 2-13 0z"/><path class="K" d="M1530 4922l14-1-10 1-14 0z"/><path class="N" d="M1503 4923l14 0-11-1-13 0z"/><path class="O" d="M1489 4924l14-1-10-1-14 0z"/><path class="P" d="M1476 4925l13-1-10-2-13 1z"/><path class="Q" d="M1462 4927l14-2-10-2-14 1z"/><path class="R" d="M1449 4928l13-1-10-3-14 1z"/><path class="S" d="M1421 4932l28-4-11-3-27 3z"/><path class="T" d="M1394 4936l27-4-10-4-27 4z"/><path class="U" d="M1381 4938l13-2-10-4-14 2z"/><path class="P" d="M1704 4883l14-4-11-3-13 4z"/><path class="O" d="M1677 4891l27-8-10-3-28 9z"/><path class="N" d="M1663 4895l14-4-11-2-13 5z"/><path class="M" d="M1636 4904l27-9-10-1-27 9z"/><path class="L" d="M1609 4911l27-7-10-1-28 9z"/><path class="K" d="M1581 4917l28-6-11 1-27 6z"/><path class="L" d="M1554 4921l27-4-10 1-27 3z"/><path class="M" d="M1541 4923l13-2-10 0-14 1z"/><path class="N" d="M1527 4924l14-1-11-1-13 1z"/><path class="O" d="M1513 4925l14-1-10-1-14 0z"/><path class="P" d="M1500 4927l13-2-10-2-14 1z"/><path class="Q" d="M1486 4928l14-1-11-3-13 1z"/><path class="R" d="M1459 4932l27-4-10-3-27 3z"/><path class="S" d="M1445 4933l14-1-10-4-14 2z"/><path class="T" d="M1418 4938l27-5-10-3-27 4z"/><path class="U" d="M1391 4942l27-4-10-4-27 4z"/><path class="P" d="M1687 4893l41-11-10-3-41 12z"/><path class="O" d="M1660 4901l27-8-10-2-27 8z"/><path class="N" d="M1619 4912l41-11-10-2-41 12z"/><path class="M" d="M1592 4918l27-6-10-1-28 6z"/><path class="N" d="M1565 4922l27-4-11-1-27 4z"/><path class="O" d="M1537 4926l28-4-11-1-27 3z"/><path class="P" d="M1524 4927l13-1-10-2-14 1z"/><path class="Q" d="M1510 4929l14-2-11-2-13 2z"/><path class="R" d="M1483 4933l27-4-10-2-27 3z"/><path class="S" d="M1456 4937l27-4-10-3-28 3z"/><path class="T" d="M1429 4941l27-4-11-4-27 5z"/><path class="U" d="M1401 4946l28-5-11-3-27 4z"/><path class="Q" d="M1697 4896l41-11-10-3-41 11z"/><path class="P" d="M1657 4906l40-10-10-3-41 12z"/><path class="O" d="M1589 4921l68-15-11-1-41 10-27 5z"/><path class="P" d="M1561 4926l28-5-11-1-27 4z"/><path class="Q" d="M1534 4930l27-4-10-2-27 3z"/><path class="R" d="M1507 4934l27-4-10-3-27 4z"/><path class="S" d="M1480 4938l27-4-10-3-28 4z"/><path class="T" d="M1452 4943l28-5-11-3-27 4z"/><path class="U" d="M1412 4950l40-7-10-4-41 7z"/><path class="R" d="M1721 4895l28-7-11-3-27 7z"/><path class="Q" d="M1667 4909l54-14-10-3-54 14z"/><path class="P" d="M1613 4921l54-12-10-3-55 13z"/><path class="Q" d="M1572 4928l41-7-11-2-41 7z"/><path class="R" d="M1544 4933l28-5-11-2-27 4z"/><path class="S" d="M1504 4939l40-6-10-3-41 6z"/><path class="T" d="M1476 4944l28-5-11-3-27 4z"/><path class="U" d="M1436 4951l40-7-10-4-41 7z"/><path class="V" d="M1422 4954l14-3-11-4-13 3z"/><path class="R" d="M1677 4911l82-20-10-3-82 21z"/><path class="Q" d="M1623 4923l54-12-10-2-54 12z"/><path class="R" d="M1568 4933l55-10-10-2-55 9z"/><path class="S" d="M1541 4938l27-5-10-3-27 5z"/><path class="T" d="M1500 4945l41-7-10-3-41 7z"/><path class="U" d="M1460 4952l40-7-10-3-41 7z"/><path class="V" d="M1432 4957l28-5-11-3-27 5z"/><path class="S" d="M1715 4907l54-13-10-3-54 13z"/><path class="R" d="M1620 4928l95-21-10-3-96 22z"/><path class="S" d="M1565 4939l55-11-11-2-54 10z"/><path class="T" d="M1524 4946l41-7-10-3-41 7z"/><path class="U" d="M1470 4956l54-10-10-3-54 9z"/><path class="V" d="M1443 4961l27-5-10-4-28 5z"/><path class="S" d="M1616 4934l68-14 96-23-11-3-95 23-68 14z"/><path class="T" d="M1548 4947l68-13-10-3-68 13z"/><path class="U" d="M1494 4957l54-10-10-3-54 10z"/><path class="V" d="M1453 4965l41-8-10-3-41 7z"/><path class="T" d="M1586 4945l95-19 109-25-10-4-109 26-95 19z"/><path class="U" d="M1531 4956l55-11-10-3-55 10z"/><path class="V" d="M1463 4969l68-13-10-4-68 13z"/></g>
<path class="ax" d="M1790 5095l-327 73-248-101 0-199M1463 5168l12 5M1463 5168l-11 3M1627 5132l11 4M1339 5118l-12 2M1790 5095l11 5M1215 5067l-12 3M1215 5067l-12 3M1215 4964l-12 2"/></g><text x="148.6" y="524">−5</text><text class="te" x="143.8" y="523.9">−5</text><text x="165" y="520.4">0</text><text class="te" x="131.4" y="518.9">0</text><text x="181.3" y="516.7">5</text><text class="te" x="119" y="513.8">5</text><text class="te" x="118.5" y="508.6">−1</text><text class="te" x="118.5" y="498.3">−0.5</text><text class="tm lb" x="172.4" y="528.9">x<tspan class="sub" dy="2.2">1</tspan></text><text class="tm lb" x="123" y="529.5">x<tspan class="sub" dy="2.2">2</tspan></text><text class="tm lb" transform="translate(100.4 496.8) rotate(-90)">F22( x<tspan class="sub" dy="2.2">1</tspan><tspan dy="-2.2"> , x</tspan><tspan class="sub" dy="2.2">2</tspan><tspan dy="-2.2"> )</tspan></text></g>
<g id="F23"><g transform="scale(.1)"><path class="gr" d="M2447 5157l-267-98M2180 5059l0-200M2447 5157l351-77M2798 5080l0-200M2622 5118l-266-98M2356 5020l0-200M2313 5108l352-77M2665 5031l0-200M2798 5080l-267-98M2531 4982l0-200M2180 5059l351-77M2531 4982l0-200M2180 5059l351-77M2531 4982l267 98M2180 4954l351-77M2531 4877l267 98"/>
<g class="ct"><path class="a" d="M2500 5053l-7 0 0-3 10 1-3 2"/><path class="e" d="M2511 5057l-23 1-14-5 1-4 7-3 24-1 12 2 4 4-3 4-8 2"/><path class="i" d="M2518 5060l-23 2-17-2-14-5-2-3 2-4 10-5 20-2 17 1 17 3 5 5-1 4-14 6"/><path class="n" d="M2525 5062l-22 2-23 0-25-7-4-3-1-3 4-5 5-3 17-4 24-2 21 2 16 4 8 6-1 5-5 3-14 5"/><path class="s" d="M2531 5064l-33 4-28-2-24-7-7-6-1-4 7-6 22-7 26-3 30 2 25 6 8 7 0 5-3 4-22 7"/><path class="x" d="M2530 5069l-36 2-35-3-17-4-12-5-6-7 0-3 5-7 5-3 14-5 18-4 36-2 37 3 16 4 11 6 5 6 0 4-4 6-12 6-25 6"/><path class="C" d="M2518 5075l-42 0-40-6-25-10-5-6 0-8 7-8 12-6 42-11 43-2 44 6 21 7 9 6 6 6 1 4-3 7-9 7-13 6-26 6-22 2"/><path class="H" d="M2592 5005l22 21 6 11-1 12-8 9-17 9-23 7-28 5-38 3-43-2-35-5-30-9-14-9-6-10 3-12 11-12 25-16"/><path class="M" d="M2678 5036l-10 12-13 10-17 10-29 10-56 10-71 3-64-6-27-6-23-6-22-11-12-9-8-10-6-15"/><path class="Q" d="M2746 5061l-55 21-69 16-75 8-70 1-81-5-67-13-57-19-41-22"/><path class="V" d="M2466 5153l-33-1"/></g>
<g class="sf"><path class="G" d="M2498 4831l44-12-11-4-44 11z"/><path class="F" d="M2469 4837l29-6-11-5-29 6z"/><path class="G" d="M2425 4846l44-9-11-5-44 8z"/><path class="H" d="M2396 4850l29-4-11-6-29 4z"/><path class="I" d="M2381 4851l15-1-11-6-15 1z"/><path class="J" d="M2352 4854l29-3-11-6-29 3z"/><path class="K" d="M2337 4855l15-1-11-6-15 1z"/><path class="L" d="M2323 4856l14-1-11-6-14 2z"/><path class="M" d="M2308 4857l15-1-11-5-15 1z"/><path class="N" d="M2294 4858l14-1-11-5-15 1z"/><path class="O" d="M2279 4859l15-1-12-5-14 2z"/><path class="P" d="M2264 4861l15-2-11-4-15 1z"/><path class="Q" d="M2235 4864l29-3-11-5-29 4z"/><path class="R" d="M2220 4866l15-2-11-4-15 2z"/><path class="S" d="M2191 4870l29-4-11-4-29 4z"/><path class="G" d="M2524 4832l29-9-11-4-29 8z"/><path class="F" d="M2422 4855l44-9 58-14-11-5-59 13-43 8z"/><path class="G" d="M2407 4857l15-2-11-7-15 2z"/><path class="H" d="M2378 4859l29-2-11-7-29 3z"/><path class="I" d="M2363 4860l15-1-11-6-15 1z"/><path class="K" d="M2349 4861l14-1-11-6-15 1z"/><path class="L" d="M2334 4861l15 0-12-6-14 1z"/><path class="M" d="M2319 4862l15-1-11-5-15 1z"/><path class="N" d="M2305 4863l14-1-11-5-14 1z"/><path class="O" d="M2290 4864l15-1-11-5-15 1z"/><path class="P" d="M2261 4867l29-3-11-5-29 3z"/><path class="Q" d="M2246 4869l15-2-11-5-15 2z"/><path class="R" d="M2217 4872l29-3-11-5-29 4z"/><path class="S" d="M2202 4874l15-2-11-4-15 2z"/><path class="G" d="M2550 4832l14-5-11-4-14 5z"/><path class="F" d="M2506 4845l44-13-11-4-44 11z"/><path class="E" d="M2418 4865l29-5 59-15-11-6-44 11-44 7z"/><path class="F" d="M2404 4866l14-1-11-8-15 1z"/><path class="G" d="M2389 4867l15-1-12-8-14 1z"/><path class="H" d="M2374 4867l15 0-11-8-15 1z"/><path class="J" d="M2360 4867l14 0-11-7-14 1z"/><path class="K" d="M2345 4867l15 0-11-6-15 0z"/><path class="L" d="M2330 4868l15-1-11-6-15 1z"/><path class="M" d="M2316 4868l14 0-11-6-14 1z"/><path class="N" d="M2301 4869l15-1-11-5-15 1z"/><path class="O" d="M2287 4870l14-1-11-5-15 2z"/><path class="P" d="M2272 4871l15-1-12-4-14 1z"/><path class="Q" d="M2257 4873l15-2-11-4-15 2z"/><path class="R" d="M2228 4876l29-3-11-4-29 3z"/><path class="S" d="M2213 4878l15-2-11-4-15 2z"/><path class="G" d="M2561 4836l15-5-12-4-14 5z"/><path class="F" d="M2532 4845l29-9-11-4-29 9z"/><path class="E" d="M2502 4855l30-10-11-4-30 8z"/><path class="D" d="M2488 4860l14-5-11-6-14 4z"/><path class="C" d="M2429 4874l30-5 29-9-11-7-30 7-29 5z"/><path class="D" d="M2415 4875l14-1-11-9-14 1z"/><path class="E" d="M2400 4875l15 0-11-9-15 1z"/><path class="G" d="M2385 4874l15 1-11-8-15 0z"/><path class="H" d="M2371 4874l14 0-11-7-14 0z"/><path class="J" d="M2356 4873l15 1-11-7-15 0z"/><path class="K" d="M2342 4873l14 0-11-6-15 1z"/><path class="M" d="M2327 4873l15 0-12-5-14 0z"/><path class="N" d="M2312 4874l15-1-11-5-15 1z"/><path class="O" d="M2298 4875l14-1-11-5-14 1z"/><path class="P" d="M2283 4876l15-1-11-5-15 1z"/><path class="Q" d="M2268 4877l15-1-11-5-15 2z"/><path class="R" d="M2239 4881l29-4-11-4-29 3z"/><path class="S" d="M2224 4883l15-2-11-5-15 2z"/><path class="G" d="M2572 4840l15-5-11-4-15 5z"/><path class="F" d="M2543 4850l29-10-11-4-29 9z"/><path class="E" d="M2528 4855l15-5-11-5-15 5z"/><path class="D" d="M2514 4861l14-6-11-5-15 5z"/><path class="C" d="M2499 4867l15-6-12-6-14 5z"/><path class="B" d="M2484 4874l15-7-11-7-15 4z"/><path class="A" d="M2470 4879l14-5-11-10-14 5z"/><path class="z" d="M2440 4886l15-3 15-4-11-10-30 5z"/><path class="A" d="M2426 4886l14 0-11-12-14 1z"/><path class="C" d="M2411 4885l15 1-11-11-15 0z"/><path class="E" d="M2397 4883l14 2-11-10-15-1z"/><path class="G" d="M2382 4881l15 2-12-9-14 0z"/><path class="I" d="M2367 4880l15 1-11-7-15-1z"/><path class="J" d="M2353 4879l14 1-11-7-14 0z"/><path class="L" d="M2338 4878l15 1-11-6-15 0z"/><path class="M" d="M2323 4879l15-1-11-5-15 1z"/><path class="O" d="M2309 4879l14 0-11-5-14 1z"/><path class="P" d="M2294 4880l15-1-11-4-15 1z"/><path class="Q" d="M2279 4882l15-2-11-4-15 1z"/><path class="R" d="M2250 4885l29-3-11-5-29 4z"/><path class="S" d="M2236 4887l14-2-11-4-15 2z"/><path class="G" d="M2583 4843l15-5-11-3-15 5z"/><path class="F" d="M2569 4849l14-6-11-3-15 5z"/><path class="E" d="M2554 4855l15-6-12-4-14 5z"/><path class="D" d="M2539 4861l15-6-11-5-15 5z"/><path class="C" d="M2525 4868l14-7-11-6-14 6z"/><path class="A" d="M2510 4876l15-8-11-7-15 6z"/><path class="y" d="M2495 4884l15-8-11-9-15 7z"/><path class="x" d="M2481 4892l14-8-11-10-14 5z"/><path class="w" d="M2466 4898l15-6-11-13-15 4z"/><path class="v" d="M2452 4900l14-2-11-15-15 3z"/><path class="w" d="M2437 4899l15 1-12-14-14 0z"/><path class="y" d="M2422 4896l15 3-11-13-15-1z"/><path class="B" d="M2408 4892l14 4-11-11-14-2z"/><path class="E" d="M2393 4889l15 3-11-9-15-2z"/><path class="G" d="M2378 4886l15 3-11-8-15-1z"/><path class="J" d="M2364 4884l14 2-11-6-14-1z"/><path class="L" d="M2349 4883l15 1-11-5-15-1z"/><path class="M" d="M2334 4883l15 0-11-5-15 1z"/><path class="N" d="M2320 4884l14-1-11-4-14 0z"/><path class="P" d="M2305 4885l15-1-11-5-15 1z"/><path class="Q" d="M2276 4887l29-2-11-5-29 3z"/><path class="R" d="M2261 4889l15-2-11-4-15 2z"/><path class="S" d="M2247 4891l14-2-11-4-14 2z"/><path class="H" d="M2594 4847l15-6-11-3-15 5z"/><path class="G" d="M2580 4853l14-6-11-4-14 6z"/><path class="E" d="M2565 4859l15-6-11-4-15 6z"/><path class="D" d="M2550 4866l15-7-11-4-15 6z"/><path class="B" d="M2536 4875l14-9-11-5-14 7z"/><path class="z" d="M2521 4885l15-10-11-7-15 8z"/><path class="w" d="M2507 4896l14-11-11-9-15 8z"/><path class="t" d="M2492 4907l15-11-12-12-14 8z"/><path class="q" d="M2463 4918l14-3 15-8-11-15-15 6-14 2z"/><path class="r" d="M2448 4915l15 3-11-18-15-1z"/><path class="u" d="M2433 4909l15 6-11-16-15-3z"/><path class="y" d="M2419 4902l14 7-11-13-14-4z"/><path class="C" d="M2404 4896l15 6-11-10-15-3z"/><path class="F" d="M2390 4892l14 4-11-7-15-3z"/><path class="I" d="M2375 4890l15 2-12-6-14-2z"/><path class="K" d="M2360 4888l15 2-11-6-15-1z"/><path class="M" d="M2346 4888l14 0-11-5-15 0z"/><path class="N" d="M2331 4888l15 0-12-5-14 1z"/><path class="P" d="M2316 4889l15-1-11-4-15 1z"/><path class="Q" d="M2287 4891l29-2-11-4-29 2z"/><path class="R" d="M2272 4893l15-2-11-4-15 2z"/><path class="S" d="M2258 4895l14-2-11-4-14 2z"/><path class="H" d="M2605 4850l15-6-11-3-15 6z"/><path class="G" d="M2591 4856l14-6-11-3-14 6z"/><path class="E" d="M2576 4863l15-7-11-3-15 6z"/><path class="D" d="M2562 4871l14-8-11-4-15 7z"/><path class="A" d="M2547 4881l15-10-12-5-14 9z"/><path class="x" d="M2532 4893l15-12-11-6-15 10z"/><path class="t" d="M2518 4908l14-15-11-8-14 11z"/><path class="o" d="M2503 4923l15-15-11-12-15 11z"/><path class="k" d="M2488 4935l15-12-11-16-15 8z"/><path class="A" d="M2415 4904l15 7-11-9-15-6z"/><path class="E" d="M2401 4898l14 6-11-8-14-4z"/><path class="H" d="M2386 4895l15 3-11-6-15-2z"/><path class="K" d="M2371 4893l15 2-11-5-15-2z"/><path class="M" d="M2357 4892l14 1-11-5-14 0z"/><path class="N" d="M2342 4892l15 0-11-4-15 0z"/><path class="O" d="M2327 4893l15-1-11-4-15 1z"/><path class="Q" d="M2298 4895l29-2-11-4-29 2z"/><path class="R" d="M2284 4897l14-2-11-4-15 2z"/><path class="S" d="M2269 4899l15-2-12-4-14 2z"/><path class="H" d="M2617 4853l14-6-11-3-15 6z"/><path class="G" d="M2602 4859l15-6-12-3-14 6z"/><path class="F" d="M2587 4866l15-7-11-3-15 7z"/><path class="D" d="M2573 4875l14-9-11-3-14 8z"/><path class="A" d="M2558 4886l15-11-11-4-15 10z"/><path class="w" d="M2543 4900l15-14-11-5-15 12z"/><path class="r" d="M2529 4917l14-17-11-7-14 15z"/><path class="l" d="M2514 4935l15-18-11-9-15 15z"/><path class="H" d="M2397 4899l15 4-11-5-15-3z"/><path class="J" d="M2382 4897l15 2-11-4-15-2z"/><path class="L" d="M2368 4896l14 1-11-4-14-1z"/><path class="N" d="M2353 4896l15 0-11-4-15 0z"/><path class="P" d="M2339 4897l14-1-11-4-15 1z"/><path class="Q" d="M2324 4898l15-1-12-4-14 1z"/><path class="R" d="M2295 4901l29-3-11-4-29 3z"/><path class="S" d="M2280 4903l15-2-11-4-15 2z"/><path class="I" d="M2628 4856l14-6-11-3-14 6z"/><path class="H" d="M2613 4862l15-6-11-3-15 6z"/><path class="F" d="M2598 4869l15-7-11-3-15 7z"/><path class="D" d="M2584 4878l14-9-11-3-14 9z"/><path class="A" d="M2569 4889l15-11-11-3-15 11z"/><path class="w" d="M2555 4903l14-14-11-3-15 14z"/><path class="q" d="M2540 4920l15-17-12-3-14 17z"/><path class="c" d="M2481 4950l15 9-11-5-15-8z"/><path class="H" d="M2408 4903l15 4-11-4-15-4z"/><path class="J" d="M2394 4901l14 2-11-4-15-2z"/><path class="M" d="M2379 4900l15 1-12-4-14-1z"/><path class="N" d="M2364 4900l15 0-11-4-15 0z"/><path class="P" d="M2350 4900l14 0-11-4-14 1z"/><path class="Q" d="M2335 4901l15-1-11-3-15 1z"/><path class="R" d="M2306 4904l29-3-11-3-29 3z"/><path class="S" d="M2291 4906l15-2-11-3-15 2z"/><path class="J" d="M2639 4858l14-6-11-2-14 6z"/><path class="I" d="M2624 4864l15-6-11-2-15 6z"/><path class="G" d="M2610 4871l14-7-11-2-15 7z"/><path class="E" d="M2595 4880l15-9-12-2-14 9z"/><path class="B" d="M2580 4890l15-10-11-2-15 11z"/><path class="x" d="M2566 4903l14-13-11-1-14 14z"/><path class="r" d="M2551 4918l15-15-11 0-15 17z"/><path class="c" d="M2507 4951l15-4-11 8-15 4z"/><path class="f" d="M2493 4944l14 7-11 8-15-9z"/><path class="H" d="M2419 4906l15 3-11-2-15-4z"/><path class="K" d="M2405 4904l14 2-11-3-14-2z"/><path class="M" d="M2390 4903l15 1-11-3-15-1z"/><path class="O" d="M2375 4903l15 0-11-3-15 0z"/><path class="P" d="M2361 4904l14-1-11-3-14 0z"/><path class="Q" d="M2346 4905l15-1-11-4-15 1z"/><path class="R" d="M2332 4906l14-1-11-4-15 2z"/><path class="S" d="M2302 4910l30-4-12-3-29 3z"/><path class="K" d="M2650 4860l15-5-12-3-14 6z"/><path class="I" d="M2635 4866l15-6-11-2-15 6z"/><path class="H" d="M2621 4873l14-7-11-2-14 7z"/><path class="F" d="M2606 4880l15-7-11-2-15 9z"/><path class="C" d="M2591 4889l15-9-11 0-15 10z"/><path class="z" d="M2577 4900l14-11-11 1-14 13z"/><path class="v" d="M2562 4912l15-12-11 3-15 15z"/><path class="l" d="M2533 4934l15-10-12 10-14 13z"/><path class="j" d="M2518 4937l15-3-11 13-15 4z"/><path class="l" d="M2504 4934l14 3-11 14-14-7z"/><path class="I" d="M2430 4908l15 2-11-1-15-3z"/><path class="K" d="M2416 4906l14 2-11-2-14-2z"/><path class="M" d="M2401 4906l15 0-11-2-15-1z"/><path class="O" d="M2387 4906l14 0-11-3-15 0z"/><path class="P" d="M2372 4907l15-1-12-3-14 1z"/><path class="Q" d="M2357 4908l15-1-11-3-15 1z"/><path class="R" d="M2343 4910l14-2-11-3-14 1z"/><path class="S" d="M2313 4914l30-4-11-4-30 4z"/><path class="K" d="M2661 4862l15-5-11-2-15 5z"/><path class="J" d="M2646 4868l15-6-11-2-15 6z"/><path class="I" d="M2632 4874l14-6-11-2-14 7z"/><path class="G" d="M2617 4881l15-7-11-1-15 7z"/><path class="E" d="M2603 4888l14-7-11-1-15 9z"/><path class="C" d="M2588 4897l15-9-12 1-14 11z"/><path class="y" d="M2573 4906l15-9-11 3-15 12z"/><path class="J" d="M2442 4909l14 2-11-1-15-2z"/><path class="L" d="M2427 4909l15 0-12-1-14-2z"/><path class="N" d="M2412 4909l15 0-11-3-15 0z"/><path class="O" d="M2398 4909l14 0-11-3-14 0z"/><path class="Q" d="M2383 4910l15-1-11-3-15 1z"/><path class="R" d="M2354 4914l29-4-11-3-29 3z"/><path class="S" d="M2339 4915l15-1-11-4-15 2z"/><path class="T" d="M2325 4917l14-2-11-3-15 2z"/><path class="L" d="M2672 4864l15-5-11-2-15 5z"/><path class="K" d="M2658 4869l14-5-11-2-15 6z"/><path class="J" d="M2643 4875l15-6-12-1-14 6z"/><path class="I" d="M2628 4881l15-6-11-1-15 7z"/><path class="G" d="M2614 4887l14-6-11 0-14 7z"/><path class="E" d="M2599 4894l15-7-11 1-15 9z"/><path class="C" d="M2584 4901l15-7-11 3-15 9z"/><path class="L" d="M2453 4911l14 0-11 0-14-2z"/><path class="M" d="M2438 4911l15 0-11-2-15 0z"/><path class="O" d="M2423 4911l15 0-11-2-15 0z"/><path class="P" d="M2409 4912l14-1-11-2-14 0z"/><path class="Q" d="M2394 4914l15-2-11-3-15 1z"/><path class="R" d="M2380 4915l14-1-11-4-15 2z"/><path class="S" d="M2350 4919l30-4-12-3-29 3z"/><path class="T" d="M2336 4921l14-2-11-4-14 2z"/><path class="M" d="M2669 4871l29-10-11-2-29 10z"/><path class="L" d="M2654 4876l15-5-11-2-15 6z"/><path class="K" d="M2639 4881l15-5-11-1-15 6z"/><path class="I" d="M2625 4887l14-6-11 0-14 6z"/><path class="H" d="M2610 4893l15-6-11 0-15 7z"/><path class="G" d="M2596 4898l14-5-11 1-15 7z"/><path class="E" d="M2581 4903l15-5-12 3-14 7z"/><path class="K" d="M2478 4912l15 0-11 1-15-2z"/><path class="M" d="M2464 4912l14 0-11-1-14 0z"/><path class="N" d="M2449 4913l15-1-11-1-15 0z"/><path class="P" d="M2435 4914l14-1-11-2-15 0z"/><path class="Q" d="M2420 4915l15-1-12-3-14 1z"/><path class="R" d="M2391 4919l29-4-11-3-29 3z"/><path class="S" d="M2376 4920l15-1-11-4-15 2z"/><path class="T" d="M2347 4925l29-5-11-3-29 4z"/><path class="N" d="M2680 4873l29-9-11-3-29 10z"/><path class="M" d="M2665 4877l15-4-11-2-15 5z"/><path class="L" d="M2651 4882l14-5-11-1-15 5z"/><path class="K" d="M2636 4887l15-5-12-1-14 6z"/><path class="J" d="M2621 4892l15-5-11 0-15 6z"/><path class="I" d="M2607 4897l14-5-11 1-14 5z"/><path class="H" d="M2548 4909l29-4 30-8-11 1-30 10-29 4z"/><path class="I" d="M2533 4911l15-2-11 3-15 0z"/><path class="J" d="M2519 4912l14-1-11 1-14 0z"/><path class="N" d="M2475 4914l15-1-12-1-14 0z"/><path class="O" d="M2460 4915l15-1-11-2-15 1z"/><path class="P" d="M2446 4917l14-2-11-2-14 1z"/><path class="Q" d="M2431 4918l15-1-11-3-15 1z"/><path class="R" d="M2416 4920l15-2-11-3-15 2z"/><path class="S" d="M2387 4924l29-4-11-3-29 3z"/><path class="T" d="M2358 4928l29-4-11-4-29 5z"/><path class="O" d="M2691 4874l29-8-11-2-29 9z"/><path class="N" d="M2676 4879l15-5-11-1-15 4z"/><path class="M" d="M2647 4888l29-9-11-2-29 10z"/><path class="L" d="M2618 4896l29-8-11-1-29 10z"/><path class="K" d="M2559 4908l29-5 30-7-11 1-30 8-29 4z"/><path class="L" d="M2530 4912l29-4-11 1-29 3z"/><path class="N" d="M2501 4915l14-2-11-1-14 1z"/><path class="O" d="M2486 4916l15-1-11-2-15 1z"/><path class="P" d="M2471 4918l15-2-11-2-15 1z"/><path class="Q" d="M2457 4919l14-1-11-3-14 2z"/><path class="R" d="M2442 4921l15-2-11-2-15 1z"/><path class="S" d="M2413 4925l29-4-11-3-29 4z"/><path class="T" d="M2384 4929l29-4-11-3-29 4z"/><path class="U" d="M2369 4932l15-3-11-3-15 2z"/><path class="P" d="M2702 4877l29-8-11-3-29 8z"/><path class="O" d="M2673 4885l29-8-11-3-29 9z"/><path class="N" d="M2644 4893l29-8-11-2-30 9z"/><path class="M" d="M2570 4909l30-6 44-10-12-1-44 11-29 5z"/><path class="N" d="M2541 4913l29-4-11-1-29 4z"/><path class="O" d="M2526 4915l15-2-11-1-15 1z"/><path class="P" d="M2497 4918l29-3-11-2-29 3z"/><path class="Q" d="M2483 4920l14-2-11-2-15 2z"/><path class="R" d="M2453 4924l30-4-12-2-29 3z"/><path class="S" d="M2439 4926l14-2-11-3-14 2z"/><path class="T" d="M2395 4933l44-7-11-3-44 6z"/><path class="U" d="M2380 4935l15-2-11-4-15 3z"/><path class="Q" d="M2728 4875l14-4-11-2-14 3z"/><path class="P" d="M2684 4886l44-11-11-3-44 13z"/><path class="O" d="M2567 4912l58-11 59-15-11-1-59 15-58 11z"/><path class="P" d="M2538 4916l29-4-11-1-30 4z"/><path class="Q" d="M2508 4921l30-5-12-1-29 3z"/><path class="R" d="M2479 4925l29-4-11-3-29 4z"/><path class="S" d="M2450 4929l29-4-11-3-29 4z"/><path class="T" d="M2421 4934l29-5-11-3-30 5z"/><path class="U" d="M2391 4939l30-5-12-3-29 4z"/><path class="Q" d="M2695 4889l59-15-12-3-58 15z"/><path class="P" d="M2578 4914l58-12 59-13-11-3-59 15-58 11z"/><path class="Q" d="M2549 4919l29-5-11-2-29 4z"/><path class="R" d="M2519 4923l30-4-11-3-30 5z"/><path class="S" d="M2490 4928l29-5-11-2-29 4z"/><path class="T" d="M2446 4935l44-7-11-3-44 7z"/><path class="U" d="M2402 4943l44-8-11-3-44 7z"/><path class="R" d="M2721 4887l44-10-11-3-44 11z"/><path class="Q" d="M2589 4916l59-12 73-17-11-2-74 17-58 12z"/><path class="R" d="M2545 4923l44-7-11-2-44 7z"/><path class="S" d="M2516 4928l29-5-11-2-29 4z"/><path class="T" d="M2472 4936l44-8-11-3-44 8z"/><path class="U" d="M2428 4943l44-7-11-3-44 7z"/><path class="V" d="M2414 4946l14-3-11-3-15 3z"/><path class="S" d="M2761 4883l15-4-11-2-15 3z"/><path class="R" d="M2600 4918l73-15 88-20-11-3-88 21-73 15z"/><path class="S" d="M2542 4929l58-11-11-2-58 10z"/><path class="T" d="M2498 4937l44-8-11-3-44 7z"/><path class="U" d="M2454 4944l44-7-11-4-44 8z"/><path class="V" d="M2425 4950l29-6-11-3-29 5z"/><path class="S" d="M2582 4926l88-17 117-27-11-3-117 28-88 17z"/><path class="T" d="M2538 4935l44-9-11-2-44 7z"/><path class="U" d="M2480 4945l58-10-11-4-58 11z"/><path class="V" d="M2436 4953l44-8-11-3-44 8z"/><path class="T" d="M2769 4892l29-7-11-3-29 7z"/><path class="S" d="M2652 4918l117-26-11-3-117 26z"/><path class="T" d="M2564 4935l88-17-11-3-88 17z"/><path class="U" d="M2505 4946l59-11-11-3-59 11z"/><path class="V" d="M2447 4957l58-11-11-3-58 10z"/></g>
<path class="ax" d="M2798 5080l-351 77-267-98 0-200M2447 5157l11 4M2447 5157l-12 3M2622 5118l12 5M2313 5108l-11 3M2798 5080l11 4M2180 5059l-12 3M2180 5059l-12 3M2180 4954l-12 3"/></g><text x="247" y="522.9">−5</text><text class="te" x="242.2" y="522.8">−5</text><text x="264.5" y="519">0</text><text class="te" x="228.8" y="517.9">0</text><text x="282.1" y="515.2">5</text><text class="te" x="215.5" y="513">5</text><text class="te" x="215" y="507.8">−1</text><text class="te" x="215" y="497.3">−0.5</text><text class="tm lb" x="272" y="527.5">x<tspan class="sub" dy="2.2">1</tspan></text><text class="tm lb" x="220.4" y="528.5">x<tspan class="sub" dy="2.2">2</tspan></text><text class="tm lb" transform="translate(196.9 495.9) rotate(-90)">F23( x<tspan class="sub" dy="2.2">1</tspan><tspan dy="-2.2"> , x</tspan><tspan class="sub" dy="2.2">2</tspan><tspan dy="-2.2"> )</tspan></text></g>
<text class="cap" x="192" y="172.3">(<tspan class="bd">a</tspan>)</text><text class="cap" x="191.8" y="359">(<tspan class="bd">b</tspan>)</text><text class="cap" x="192.1" y="544.8">(<tspan class="bd">c</tspan>)</text>
</svg></body></html>
